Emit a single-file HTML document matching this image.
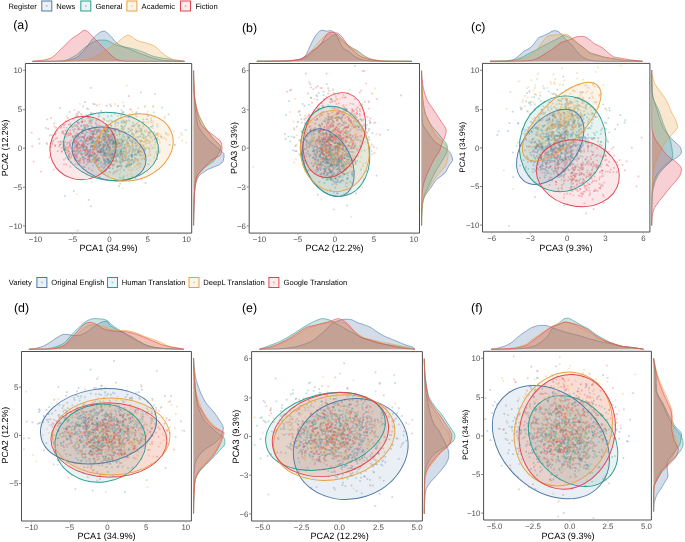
<!DOCTYPE html><html><head><meta charset="utf-8"><style>html,body{margin:0;padding:0;background:#fff}svg{display:block}text{font-family:"Liberation Sans",Arial,sans-serif;text-rendering:geometricPrecision}</style></head><body>
<svg width="685" height="542" viewBox="0 0 685 542">
<rect width="685" height="542" fill="#fff"/>
<text x="8.4" y="8.9" font-size="7.6" fill="#000">Register</text><rect x="41.8" y="1" width="10" height="10" fill="#4E79A7" fill-opacity="0.1" stroke="#4E79A7" stroke-width="1"/><rect x="46" y="5.2" width="1.6" height="1.6" fill="#4E79A7" fill-opacity="0.45"/><text x="56.2" y="8.9" font-size="7.6" fill="#000">News</text><rect x="80.8" y="1" width="10" height="10" fill="#2A9D8F" fill-opacity="0.1" stroke="#2A9D8F" stroke-width="1"/><rect x="85" y="5.2" width="1.6" height="1.6" fill="#2A9D8F" fill-opacity="0.45"/><text x="95.4" y="8.9" font-size="7.6" fill="#000">General</text><rect x="126.9" y="1" width="10" height="10" fill="#E9A03F" fill-opacity="0.1" stroke="#E9A03F" stroke-width="1"/><rect x="131.1" y="5.2" width="1.6" height="1.6" fill="#E9A03F" fill-opacity="0.45"/><text x="141.6" y="8.9" font-size="7.6" fill="#000">Academic</text><rect x="180.5" y="1" width="10" height="10" fill="#E3434F" fill-opacity="0.1" stroke="#E3434F" stroke-width="1"/><rect x="184.7" y="5.2" width="1.6" height="1.6" fill="#E3434F" fill-opacity="0.45"/><text x="195.4" y="8.9" font-size="7.6" fill="#000">Fiction</text>
<text x="8.7" y="285.4" font-size="7.6" fill="#000">Variety</text><rect x="36.9" y="277.5" width="10" height="10" fill="#4E79A7" fill-opacity="0.1" stroke="#4E79A7" stroke-width="1"/><rect x="41.1" y="281.7" width="1.6" height="1.6" fill="#4E79A7" fill-opacity="0.45"/><text x="51.3" y="285.4" font-size="7.6" fill="#000">Original English</text><rect x="107.5" y="277.5" width="10" height="10" fill="#2A9D8F" fill-opacity="0.1" stroke="#2A9D8F" stroke-width="1"/><rect x="111.7" y="281.7" width="1.6" height="1.6" fill="#2A9D8F" fill-opacity="0.45"/><text x="121.8" y="285.4" font-size="7.6" fill="#000">Human Translation</text><rect x="189" y="277.5" width="10" height="10" fill="#E9A03F" fill-opacity="0.1" stroke="#E9A03F" stroke-width="1"/><rect x="193.2" y="281.7" width="1.6" height="1.6" fill="#E9A03F" fill-opacity="0.45"/><text x="203.3" y="285.4" font-size="7.6" fill="#000">DeepL Translation</text><rect x="268.9" y="277.5" width="10" height="10" fill="#E3434F" fill-opacity="0.1" stroke="#E3434F" stroke-width="1"/><rect x="273.1" y="281.7" width="1.6" height="1.6" fill="#E3434F" fill-opacity="0.45"/><text x="283.5" y="285.4" font-size="7.6" fill="#000">Google Translation</text>
<path d="M32.4 61.4L32.4 61.4L34.6 61.3L36.8 61.3L39 61.3L41.2 61.3L43.4 61.3L45.6 61.3L47.9 61.3L50.1 61.3L52.3 61.3L54.5 61.3L56.7 61.2L58.9 61.2L61.1 61.2L63.3 61L65.5 60.8L67.7 60.6L69.9 60.1L72.1 59.4L74.3 58.6L76.5 57.5L78.8 55.7L81 53.6L83.2 51.3L85.4 48.9L87.6 46L89.8 42.7L92 39.6L94.2 37.1L96.4 35.2L98.6 33.3L100.8 31.9L103 31.1L105.2 31.4L107.4 33.1L109.7 35.2L111.9 37.5L114.1 40.2L116.3 42.7L118.5 44.3L120.7 45.5L122.9 46.5L125.1 47.4L127.3 48.2L129.5 49.1L131.7 50L133.9 50.9L136.1 51.8L138.3 52.7L140.6 53.6L142.8 54.4L145 55.3L147.2 56.1L149.4 56.9L151.6 57.6L153.8 58.3L156 58.8L158.2 59.4L160.4 59.8L162.6 60.2L164.8 60.5L167 60.6L169.2 60.8L171.5 60.9L173.7 61L175.9 61.1L178.1 61.1L180.3 61.2L182.5 61.3L184.7 61.4L184.7 61.4Z" fill="#4E79A7" fill-opacity="0.25"/><path d="M32.4 61.4 L34.6 61.3 L36.8 61.3 L39 61.3 L41.2 61.3 L43.4 61.3 L45.6 61.3 L47.9 61.3 L50.1 61.3 L52.3 61.3 L54.5 61.3 L56.7 61.2 L58.9 61.2 L61.1 61.2 L63.3 61 L65.5 60.8 L67.7 60.6 L69.9 60.1 L72.1 59.4 L74.3 58.6 L76.5 57.5 L78.8 55.7 L81 53.6 L83.2 51.3 L85.4 48.9 L87.6 46 L89.8 42.7 L92 39.6 L94.2 37.1 L96.4 35.2 L98.6 33.3 L100.8 31.9 L103 31.1 L105.2 31.4 L107.4 33.1 L109.7 35.2 L111.9 37.5 L114.1 40.2 L116.3 42.7 L118.5 44.3 L120.7 45.5 L122.9 46.5 L125.1 47.4 L127.3 48.2 L129.5 49.1 L131.7 50 L133.9 50.9 L136.1 51.8 L138.3 52.7 L140.6 53.6 L142.8 54.4 L145 55.3 L147.2 56.1 L149.4 56.9 L151.6 57.6 L153.8 58.3 L156 58.8 L158.2 59.4 L160.4 59.8 L162.6 60.2 L164.8 60.5 L167 60.6 L169.2 60.8 L171.5 60.9 L173.7 61 L175.9 61.1 L178.1 61.1 L180.3 61.2 L182.5 61.3 L184.7 61.4" fill="none" stroke="#4E79A7" stroke-width="0.6"/><path d="M32.4 61.4L32.4 61.4L34.6 61.3L36.8 61.3L39 61.3L41.2 61.3L43.4 61.3L45.6 61.3L47.9 61.3L50.1 61.3L52.3 61.3L54.5 61.2L56.7 61.2L58.9 61.2L61.1 61L63.3 60.7L65.5 60.3L67.7 59.6L69.9 58.6L72.1 57.4L74.3 56.2L76.5 54.7L78.8 52.9L81 50.9L83.2 48.9L85.4 47.1L87.6 45.6L89.8 44.2L92 42.8L94.2 41.6L96.4 40.6L98.6 40.1L100.8 40.1L103 40.1L105.2 40.1L107.4 40.5L109.7 41.5L111.9 42.8L114.1 44L116.3 45.1L118.5 45.8L120.7 46.3L122.9 46.7L125.1 47.1L127.3 47.5L129.5 47.9L131.7 48.5L133.9 49.1L136.1 49.7L138.3 50.4L140.6 51.1L142.8 51.9L145 52.8L147.2 53.8L149.4 54.7L151.6 55.6L153.8 56.4L156 56.9L158.2 57.4L160.4 57.8L162.6 58.2L164.8 58.5L167 58.8L169.2 59.1L171.5 59.4L173.7 59.8L175.9 60.1L178.1 60.3L180.3 60.6L182.5 60.9L184.7 61.4L184.7 61.4Z" fill="#2A9D8F" fill-opacity="0.25"/><path d="M32.4 61.4 L34.6 61.3 L36.8 61.3 L39 61.3 L41.2 61.3 L43.4 61.3 L45.6 61.3 L47.9 61.3 L50.1 61.3 L52.3 61.3 L54.5 61.2 L56.7 61.2 L58.9 61.2 L61.1 61 L63.3 60.7 L65.5 60.3 L67.7 59.6 L69.9 58.6 L72.1 57.4 L74.3 56.2 L76.5 54.7 L78.8 52.9 L81 50.9 L83.2 48.9 L85.4 47.1 L87.6 45.6 L89.8 44.2 L92 42.8 L94.2 41.6 L96.4 40.6 L98.6 40.1 L100.8 40.1 L103 40.1 L105.2 40.1 L107.4 40.5 L109.7 41.5 L111.9 42.8 L114.1 44 L116.3 45.1 L118.5 45.8 L120.7 46.3 L122.9 46.7 L125.1 47.1 L127.3 47.5 L129.5 47.9 L131.7 48.5 L133.9 49.1 L136.1 49.7 L138.3 50.4 L140.6 51.1 L142.8 51.9 L145 52.8 L147.2 53.8 L149.4 54.7 L151.6 55.6 L153.8 56.4 L156 56.9 L158.2 57.4 L160.4 57.8 L162.6 58.2 L164.8 58.5 L167 58.8 L169.2 59.1 L171.5 59.4 L173.7 59.8 L175.9 60.1 L178.1 60.3 L180.3 60.6 L182.5 60.9 L184.7 61.4" fill="none" stroke="#2A9D8F" stroke-width="0.6"/><path d="M32.4 61.4L32.4 61.4L34.6 61.3L36.8 61.3L39 61.3L41.2 61.3L43.4 61.3L45.6 61.3L47.9 61.3L50.1 61.3L52.3 61.3L54.5 61.3L56.7 61.3L58.9 61.3L61.1 61.2L63.3 61.2L65.5 61.2L67.7 61.2L69.9 61.1L72.1 61L74.3 60.9L76.5 60.7L78.8 60.6L81 60.4L83.2 60.2L85.4 59.9L87.6 59.5L89.8 58.9L92 58.2L94.2 57.3L96.4 56.3L98.6 55L100.8 53.4L103 51.8L105.2 50.2L107.4 48.8L109.7 47.4L111.9 46L114.1 44.6L116.3 43.1L118.5 41.6L120.7 39.7L122.9 37.8L125.1 36.1L127.3 35.3L129.5 35.5L131.7 36.7L133.9 38.4L136.1 39.9L138.3 40.9L140.6 41.6L142.8 42.2L145 42.7L147.2 43.4L149.4 44.1L151.6 44.8L153.8 45.7L156 47.1L158.2 49.2L160.4 51.4L162.6 53.2L164.8 54.9L167 56.5L169.2 57.8L171.5 58.9L173.7 59.9L175.9 60.5L178.1 60.8L180.3 61L182.5 61.1L184.7 61.2L184.7 61.4Z" fill="#E9A03F" fill-opacity="0.25"/><path d="M32.4 61.4 L34.6 61.3 L36.8 61.3 L39 61.3 L41.2 61.3 L43.4 61.3 L45.6 61.3 L47.9 61.3 L50.1 61.3 L52.3 61.3 L54.5 61.3 L56.7 61.3 L58.9 61.3 L61.1 61.2 L63.3 61.2 L65.5 61.2 L67.7 61.2 L69.9 61.1 L72.1 61 L74.3 60.9 L76.5 60.7 L78.8 60.6 L81 60.4 L83.2 60.2 L85.4 59.9 L87.6 59.5 L89.8 58.9 L92 58.2 L94.2 57.3 L96.4 56.3 L98.6 55 L100.8 53.4 L103 51.8 L105.2 50.2 L107.4 48.8 L109.7 47.4 L111.9 46 L114.1 44.6 L116.3 43.1 L118.5 41.6 L120.7 39.7 L122.9 37.8 L125.1 36.1 L127.3 35.3 L129.5 35.5 L131.7 36.7 L133.9 38.4 L136.1 39.9 L138.3 40.9 L140.6 41.6 L142.8 42.2 L145 42.7 L147.2 43.4 L149.4 44.1 L151.6 44.8 L153.8 45.7 L156 47.1 L158.2 49.2 L160.4 51.4 L162.6 53.2 L164.8 54.9 L167 56.5 L169.2 57.8 L171.5 58.9 L173.7 59.9 L175.9 60.5 L178.1 60.8 L180.3 61 L182.5 61.1 L184.7 61.2" fill="none" stroke="#E9A03F" stroke-width="0.6"/><path d="M32.4 61.4L32.4 61.2L34.6 61.1L36.8 60.9L39 60.7L41.2 60.4L43.4 60.1L45.6 59.7L47.9 59.1L50.1 58.4L52.3 57.2L54.5 55.5L56.7 53.5L58.9 51.2L61.1 49L63.3 47L65.5 44.8L67.7 42.5L69.9 40.4L72.1 38.4L74.3 36.8L76.5 35.5L78.8 34.1L81 32.2L83.2 30.6L85.4 30.3L87.6 31.4L89.8 33.5L92 36L94.2 38.3L96.4 40.4L98.6 42.7L100.8 45L103 47.2L105.2 49.4L107.4 51.6L109.7 53.7L111.9 55.7L114.1 57.7L116.3 59.2L118.5 60L120.7 60.5L122.9 60.8L125.1 61L127.3 61.1L129.5 61.2L131.7 61.2L133.9 61.2L136.1 61.2L138.3 61.2L140.6 61.2L142.8 61.3L145 61.3L147.2 61.3L149.4 61.3L151.6 61.3L153.8 61.3L156 61.3L158.2 61.3L160.4 61.3L162.6 61.3L164.8 61.3L167 61.3L169.2 61.3L171.5 61.3L173.7 61.3L175.9 61.3L178.1 61.3L180.3 61.3L182.5 61.3L184.7 61.4L184.7 61.4Z" fill="#E3434F" fill-opacity="0.25"/><path d="M32.4 61.2 L34.6 61.1 L36.8 60.9 L39 60.7 L41.2 60.4 L43.4 60.1 L45.6 59.7 L47.9 59.1 L50.1 58.4 L52.3 57.2 L54.5 55.5 L56.7 53.5 L58.9 51.2 L61.1 49 L63.3 47 L65.5 44.8 L67.7 42.5 L69.9 40.4 L72.1 38.4 L74.3 36.8 L76.5 35.5 L78.8 34.1 L81 32.2 L83.2 30.6 L85.4 30.3 L87.6 31.4 L89.8 33.5 L92 36 L94.2 38.3 L96.4 40.4 L98.6 42.7 L100.8 45 L103 47.2 L105.2 49.4 L107.4 51.6 L109.7 53.7 L111.9 55.7 L114.1 57.7 L116.3 59.2 L118.5 60 L120.7 60.5 L122.9 60.8 L125.1 61 L127.3 61.1 L129.5 61.2 L131.7 61.2 L133.9 61.2 L136.1 61.2 L138.3 61.2 L140.6 61.2 L142.8 61.3 L145 61.3 L147.2 61.3 L149.4 61.3 L151.6 61.3 L153.8 61.3 L156 61.3 L158.2 61.3 L160.4 61.3 L162.6 61.3 L164.8 61.3 L167 61.3 L169.2 61.3 L171.5 61.3 L173.7 61.3 L175.9 61.3 L178.1 61.3 L180.3 61.3 L182.5 61.3 L184.7 61.4" fill="none" stroke="#E3434F" stroke-width="0.6"/><path d="M193.6 70.5L193.6 70.5L193.6 72.7L193.6 75L193.7 77.2L193.7 79.5L193.8 81.7L193.8 84L193.9 86.2L194 88.5L194 90.7L194.1 93L194.2 95.2L194.3 97.5L194.5 99.7L194.6 101.9L194.8 104.2L195 106.4L195.3 108.7L195.5 110.9L195.7 113.2L196 115.4L196.3 117.7L196.7 119.9L197.2 122.2L197.7 124.4L198.6 126.7L199.8 128.9L201.3 131.2L202.9 133.4L204.7 135.6L206.5 137.9L208.8 140.1L211.3 142.4L213.9 144.6L216.5 146.9L219 149.1L221.9 151.4L223.9 153.6L224.1 155.9L223.8 158.1L223.4 160.4L222.2 162.6L219.4 164.8L213.7 167.1L208.1 169.3L204.3 171.6L201.1 173.8L198.9 176.1L197.7 178.3L196.8 180.6L196.1 182.8L195.5 185.1L195.1 187.3L194.9 189.6L194.7 191.8L194.5 194.1L194.4 196.3L194.2 198.5L194.1 200.8L194.1 203L194 205.3L193.9 207.5L193.9 209.8L193.8 212L193.7 214.3L193.7 216.5L193.7 218.8L193.6 221L193.6 223.3L193.6 225.5L193.6 225.5Z" fill="#4E79A7" fill-opacity="0.25"/><path d="M193.6 70.5 L193.6 72.7 L193.6 75 L193.7 77.2 L193.7 79.5 L193.8 81.7 L193.8 84 L193.9 86.2 L194 88.5 L194 90.7 L194.1 93 L194.2 95.2 L194.3 97.5 L194.5 99.7 L194.6 101.9 L194.8 104.2 L195 106.4 L195.3 108.7 L195.5 110.9 L195.7 113.2 L196 115.4 L196.3 117.7 L196.7 119.9 L197.2 122.2 L197.7 124.4 L198.6 126.7 L199.8 128.9 L201.3 131.2 L202.9 133.4 L204.7 135.6 L206.5 137.9 L208.8 140.1 L211.3 142.4 L213.9 144.6 L216.5 146.9 L219 149.1 L221.9 151.4 L223.9 153.6 L224.1 155.9 L223.8 158.1 L223.4 160.4 L222.2 162.6 L219.4 164.8 L213.7 167.1 L208.1 169.3 L204.3 171.6 L201.1 173.8 L198.9 176.1 L197.7 178.3 L196.8 180.6 L196.1 182.8 L195.5 185.1 L195.1 187.3 L194.9 189.6 L194.7 191.8 L194.5 194.1 L194.4 196.3 L194.2 198.5 L194.1 200.8 L194.1 203 L194 205.3 L193.9 207.5 L193.9 209.8 L193.8 212 L193.7 214.3 L193.7 216.5 L193.7 218.8 L193.6 221 L193.6 223.3 L193.6 225.5" fill="none" stroke="#4E79A7" stroke-width="0.6"/><path d="M193.6 70.5L193.6 70.5L193.6 72.7L193.6 75L193.7 77.2L193.7 79.5L193.8 81.7L193.9 84L194 86.2L194.1 88.5L194.2 90.7L194.4 93L194.5 95.2L194.7 97.5L195 99.7L195.4 101.9L195.9 104.2L196.4 106.4L196.9 108.7L197.5 110.9L198.2 113.2L199.1 115.4L200.1 117.7L201.2 119.9L202.3 122.2L203.5 124.4L204.8 126.7L206.3 128.9L207.8 131.2L209.4 133.4L211.1 135.6L212.8 137.9L215 140.1L217.4 142.4L219.5 144.6L220.8 146.9L220.9 149.1L219.9 151.4L218.5 153.6L217.2 155.9L215.8 158.1L214.2 160.4L211.8 162.6L208.5 164.8L205.2 167.1L202.6 169.3L200.5 171.6L198.6 173.8L197.3 176.1L196.6 178.3L196 180.6L195.5 182.8L195.1 185.1L194.9 187.3L194.7 189.6L194.5 191.8L194.4 194.1L194.3 196.3L194.2 198.5L194.1 200.8L194.1 203L194 205.3L193.9 207.5L193.9 209.8L193.8 212L193.8 214.3L193.7 216.5L193.7 218.8L193.6 221L193.6 223.3L193.6 225.5L193.6 225.5Z" fill="#2A9D8F" fill-opacity="0.25"/><path d="M193.6 70.5 L193.6 72.7 L193.6 75 L193.7 77.2 L193.7 79.5 L193.8 81.7 L193.9 84 L194 86.2 L194.1 88.5 L194.2 90.7 L194.4 93 L194.5 95.2 L194.7 97.5 L195 99.7 L195.4 101.9 L195.9 104.2 L196.4 106.4 L196.9 108.7 L197.5 110.9 L198.2 113.2 L199.1 115.4 L200.1 117.7 L201.2 119.9 L202.3 122.2 L203.5 124.4 L204.8 126.7 L206.3 128.9 L207.8 131.2 L209.4 133.4 L211.1 135.6 L212.8 137.9 L215 140.1 L217.4 142.4 L219.5 144.6 L220.8 146.9 L220.9 149.1 L219.9 151.4 L218.5 153.6 L217.2 155.9 L215.8 158.1 L214.2 160.4 L211.8 162.6 L208.5 164.8 L205.2 167.1 L202.6 169.3 L200.5 171.6 L198.6 173.8 L197.3 176.1 L196.6 178.3 L196 180.6 L195.5 182.8 L195.1 185.1 L194.9 187.3 L194.7 189.6 L194.5 191.8 L194.4 194.1 L194.3 196.3 L194.2 198.5 L194.1 200.8 L194.1 203 L194 205.3 L193.9 207.5 L193.9 209.8 L193.8 212 L193.8 214.3 L193.7 216.5 L193.7 218.8 L193.6 221 L193.6 223.3 L193.6 225.5" fill="none" stroke="#2A9D8F" stroke-width="0.6"/><path d="M193.6 70.5L193.6 70.5L193.6 72.7L193.6 75L193.7 77.2L193.7 79.5L193.8 81.7L193.9 84L194 86.2L194.1 88.5L194.2 90.7L194.4 93L194.5 95.2L194.7 97.5L195 99.7L195.4 101.9L195.9 104.2L196.4 106.4L196.9 108.7L197.5 110.9L198.2 113.2L199 115.4L199.9 117.7L201 119.9L202.1 122.2L203.2 124.4L204.5 126.7L205.9 128.9L207.4 131.2L209 133.4L210.6 135.6L212.3 137.9L214.5 140.1L216.9 142.4L219 144.6L220.3 146.9L220.3 149.1L219.2 151.4L217.6 153.6L216.2 155.9L214.7 158.1L213 160.4L210.7 162.6L207.9 164.8L205 167.1L202.6 169.3L200.5 171.6L198.7 173.8L197.3 176.1L196.6 178.3L196 180.6L195.5 182.8L195.1 185.1L194.9 187.3L194.7 189.6L194.5 191.8L194.4 194.1L194.3 196.3L194.2 198.5L194.1 200.8L194.1 203L194 205.3L193.9 207.5L193.9 209.8L193.8 212L193.8 214.3L193.7 216.5L193.7 218.8L193.6 221L193.6 223.3L193.6 225.5L193.6 225.5Z" fill="#E9A03F" fill-opacity="0.25"/><path d="M193.6 70.5 L193.6 72.7 L193.6 75 L193.7 77.2 L193.7 79.5 L193.8 81.7 L193.9 84 L194 86.2 L194.1 88.5 L194.2 90.7 L194.4 93 L194.5 95.2 L194.7 97.5 L195 99.7 L195.4 101.9 L195.9 104.2 L196.4 106.4 L196.9 108.7 L197.5 110.9 L198.2 113.2 L199 115.4 L199.9 117.7 L201 119.9 L202.1 122.2 L203.2 124.4 L204.5 126.7 L205.9 128.9 L207.4 131.2 L209 133.4 L210.6 135.6 L212.3 137.9 L214.5 140.1 L216.9 142.4 L219 144.6 L220.3 146.9 L220.3 149.1 L219.2 151.4 L217.6 153.6 L216.2 155.9 L214.7 158.1 L213 160.4 L210.7 162.6 L207.9 164.8 L205 167.1 L202.6 169.3 L200.5 171.6 L198.7 173.8 L197.3 176.1 L196.6 178.3 L196 180.6 L195.5 182.8 L195.1 185.1 L194.9 187.3 L194.7 189.6 L194.5 191.8 L194.4 194.1 L194.3 196.3 L194.2 198.5 L194.1 200.8 L194.1 203 L194 205.3 L193.9 207.5 L193.9 209.8 L193.8 212 L193.8 214.3 L193.7 216.5 L193.7 218.8 L193.6 221 L193.6 223.3 L193.6 225.5" fill="none" stroke="#E9A03F" stroke-width="0.6"/><path d="M193.6 70.5L193.6 70.5L193.6 72.7L193.6 75L193.7 77.2L193.7 79.5L193.8 81.7L193.9 84L194 86.2L194.1 88.5L194.2 90.7L194.3 93L194.4 95.2L194.6 97.5L194.8 99.7L195.1 101.9L195.5 104.2L195.9 106.4L196.3 108.7L196.7 110.9L197.2 113.2L197.8 115.4L198.4 117.7L199.1 119.9L200 122.2L201 124.4L202.7 126.7L205.1 128.9L207.9 131.2L210.9 133.4L213.8 135.6L216.6 137.9L219.7 140.1L221.1 142.4L221.7 144.6L222 146.9L222 149.1L221.7 151.4L221.2 153.6L219.7 155.9L215.5 158.1L211.2 160.4L208.7 162.6L206.6 164.8L204.8 167.1L202.9 169.3L200.8 171.6L198.7 173.8L197.1 176.1L196.4 178.3L195.8 180.6L195.4 182.8L195 185.1L194.8 187.3L194.6 189.6L194.5 191.8L194.4 194.1L194.3 196.3L194.2 198.5L194.1 200.8L194.1 203L194 205.3L193.9 207.5L193.9 209.8L193.8 212L193.8 214.3L193.7 216.5L193.7 218.8L193.6 221L193.6 223.3L193.6 225.5L193.6 225.5Z" fill="#E3434F" fill-opacity="0.25"/><path d="M193.6 70.5 L193.6 72.7 L193.6 75 L193.7 77.2 L193.7 79.5 L193.8 81.7 L193.9 84 L194 86.2 L194.1 88.5 L194.2 90.7 L194.3 93 L194.4 95.2 L194.6 97.5 L194.8 99.7 L195.1 101.9 L195.5 104.2 L195.9 106.4 L196.3 108.7 L196.7 110.9 L197.2 113.2 L197.8 115.4 L198.4 117.7 L199.1 119.9 L200 122.2 L201 124.4 L202.7 126.7 L205.1 128.9 L207.9 131.2 L210.9 133.4 L213.8 135.6 L216.6 137.9 L219.7 140.1 L221.1 142.4 L221.7 144.6 L222 146.9 L222 149.1 L221.7 151.4 L221.2 153.6 L219.7 155.9 L215.5 158.1 L211.2 160.4 L208.7 162.6 L206.6 164.8 L204.8 167.1 L202.9 169.3 L200.8 171.6 L198.7 173.8 L197.1 176.1 L196.4 178.3 L195.8 180.6 L195.4 182.8 L195 185.1 L194.8 187.3 L194.6 189.6 L194.5 191.8 L194.4 194.1 L194.3 196.3 L194.2 198.5 L194.1 200.8 L194.1 203 L194 205.3 L193.9 207.5 L193.9 209.8 L193.8 212 L193.8 214.3 L193.7 216.5 L193.7 218.8 L193.6 221 L193.6 223.3 L193.6 225.5" fill="none" stroke="#E3434F" stroke-width="0.6"/><clipPath id="ca"><rect x="25.4" y="63.5" width="166.3" height="169.6"/></clipPath><g clip-path="url(#ca)"><ellipse cx="109" cy="154" rx="37.88" ry="25.75" transform="rotate(-162.99 109 154)" fill="#4E79A7" fill-opacity="0.12"/><ellipse cx="111" cy="146.5" rx="47.66" ry="33.98" transform="rotate(-173.27 111 146.5)" fill="#2A9D8F" fill-opacity="0.12"/><ellipse cx="133.3" cy="147.4" rx="41.12" ry="32.10" transform="rotate(157.27 133.3 147.4)" fill="#E9A03F" fill-opacity="0.12"/><ellipse cx="83" cy="148" rx="33.32" ry="31.36" transform="rotate(155.75 83 148)" fill="#E3434F" fill-opacity="0.12"/><path d="M108.2 159.2h1.7M110.5 139.4h1.7M110.9 152.1h1.7M107.7 162.9h1.7M96.5 129.9h1.7M110.9 150h1.7M100.6 151.7h1.7M105.4 142.6h1.7M85.6 154.8h1.7M104.8 150.7h1.7M109.4 148.1h1.7M110.4 135.3h1.7M97.4 136.7h1.7M83.8 140h1.7M107.9 154.6h1.7M99.2 145.3h1.7M131.3 155.2h1.7M140.5 130.7h1.7M102.7 153.7h1.7M77.3 129.6h1.7M96.4 165.7h1.7M89.1 140.1h1.7M95.9 166h1.7M112.1 153.9h1.7M71.9 137.4h1.7M107 145.4h1.7M103.3 155h1.7M108.1 139.3h1.7M132.5 125.7h1.7M90.3 143.7h1.7M116.7 155.9h1.7M119.2 183.7h1.7M122.4 151.8h1.7M84.9 142.8h1.7M130.1 164.4h1.7M103.7 161.4h1.7M91.8 136.8h1.7M115.6 152.1h1.7M107.3 128.3h1.7M86.9 137.2h1.7M113.7 156.1h1.7M127.9 128.6h1.7M94.5 130.6h1.7M89.2 149.9h1.7M103 144.8h1.7M105.8 149.2h1.7M127 116.5h1.7M122.3 178.1h1.7M137.5 152.5h1.7M123.5 147.9h1.7M106.8 159.1h1.7M117.8 130.4h1.7M122.9 129h1.7M131 134.1h1.7M123.9 147.2h1.7M102.7 163.8h1.7M84.2 135.3h1.7M123.3 156.1h1.7M120.6 126.4h1.7M60.8 150.9h1.7M79.3 147.7h1.7M112.2 141.9h1.7M128.9 165.2h1.7M174.1 145h1.7M109.2 149.3h1.7M94.2 159.9h1.7M92.1 137.6h1.7M122.1 159.6h1.7M66.5 142.5h1.7M98.3 139.7h1.7" stroke="#4E79A7" stroke-opacity="0.32" stroke-width="1.7" fill="none"/><path d="M103.6 142.8h1.7M107.8 160.3h1.7M74.5 143.6h1.7M99.7 151.5h1.7M121.6 141.1h1.7M109.6 144.5h1.7M128.4 165.1h1.7M107.9 147.6h1.7M76.9 122.2h1.7M120.1 162.2h1.7M106.7 136.8h1.7M147.2 115.8h1.7M130.4 155.6h1.7M143.1 149.4h1.7M93.2 158.1h1.7M119.4 151.9h1.7M118.1 165.8h1.7M75.4 114.4h1.7M92 131.3h1.7M112 143.6h1.7M105.4 155.5h1.7M130.5 159.8h1.7M85.4 148.7h1.7M109.5 142.1h1.7M127.6 137.8h1.7M98 137.4h1.7M74.1 145h1.7M117.9 186.1h1.7M116.1 167.3h1.7M112.9 152.4h1.7M80.6 154.2h1.7M112.7 143.2h1.7M121 153.7h1.7M110.8 158.6h1.7M126.6 153.2h1.7M79.3 141h1.7M107.7 160.3h1.7M96.8 158.5h1.7M118 143.9h1.7M120.5 144.6h1.7M139.2 146.9h1.7M115.9 144h1.7M98.9 152h1.7M99.6 145.2h1.7M111.7 154.5h1.7M96.7 131h1.7M114.9 157.6h1.7M130 161h1.7M114.5 123.6h1.7M107.3 161.5h1.7M71.8 142.7h1.7M106.6 158.7h1.7M105.5 153h1.7M90.6 155.8h1.7M93 154.2h1.7M135.1 132.6h1.7M121.4 145.3h1.7M94.4 147.2h1.7M102.8 147.2h1.7M104.8 158.9h1.7M113.5 171.6h1.7M113.8 153.4h1.7M98.1 167.7h1.7M103.8 160.2h1.7M136.8 131.8h1.7M93.5 128h1.7M88.6 155.9h1.7M115.7 160.8h1.7M106.6 144.9h1.7M121.1 142.5h1.7" stroke="#4E79A7" stroke-opacity="0.32" stroke-width="1.7" fill="none"/><path d="M96 133.1h1.7M90 146.7h1.7M106.9 155.9h1.7M110 155h1.7M109.4 161.2h1.7M99.7 150.6h1.7M102.6 148.7h1.7M126.8 164.4h1.7M104.1 144.8h1.7M88.7 149.9h1.7M76.1 151.7h1.7M106.7 149.5h1.7M125.2 156.9h1.7M88.4 155.4h1.7M99.8 151.1h1.7M104.5 153.8h1.7M120.7 165.9h1.7M119.8 145.5h1.7M104.7 139.1h1.7M112.4 157.5h1.7M102.9 168.1h1.7M108.9 153.5h1.7M108 140.2h1.7M103.4 151h1.7M121.9 157.8h1.7M117.9 156.5h1.7M93.9 162.3h1.7M103.8 150.9h1.7M139.9 151.3h1.7M111.2 157.5h1.7M72 129.7h1.7M87 149.9h1.7M103 150h1.7M101.5 165.8h1.7M98.3 125.7h1.7M113.4 143.2h1.7M88.4 150.9h1.7M105.7 160.3h1.7M83 149.5h1.7M114.4 145.1h1.7M83.2 138.5h1.7M124 144.8h1.7M106.5 152.4h1.7M107.1 140.2h1.7M87.7 151.5h1.7M102.1 144.2h1.7M114.1 160.7h1.7M80.9 146.6h1.7M127.9 156.2h1.7M116.6 166.4h1.7M98.9 143h1.7M116.7 170.5h1.7M112.2 134.1h1.7M98.5 136.7h1.7M93.3 161.8h1.7M109 156.1h1.7M105.2 156.7h1.7M104.8 161h1.7M123.5 160.9h1.7M119.8 151.7h1.7M134.3 158.3h1.7M103.5 152.5h1.7M107.5 153.3h1.7M126.7 136.2h1.7M95.6 145h1.7M102 135.3h1.7M94.7 122.6h1.7M82.3 147.9h1.7M110.9 140.7h1.7M98.7 152.1h1.7" stroke="#4E79A7" stroke-opacity="0.32" stroke-width="1.7" fill="none"/><path d="M109 167.9h1.7M81.4 136.9h1.7M82.1 144.1h1.7M82.1 151h1.7M104.1 163.8h1.7M123.2 170h1.7M103.3 174.1h1.7M107.8 160.3h1.7M110.7 128.6h1.7M108.7 141.8h1.7M76.5 150h1.7M105.3 141.1h1.7M96.3 148.2h1.7M137.3 137.1h1.7M89.4 136.4h1.7M134.1 139.2h1.7M100.7 170.5h1.7M107.9 166.3h1.7M84.8 155.4h1.7M153.8 138.8h1.7M107.8 128.1h1.7M109.1 168.2h1.7M140.7 178.8h1.7M125.5 160.2h1.7M112.5 151.1h1.7M104.4 144.9h1.7M92.1 160h1.7M88.7 155.2h1.7M95.9 132.2h1.7M103.9 152.9h1.7M124.8 166.4h1.7M106 143.7h1.7M82.2 129.4h1.7M112.1 138.5h1.7M156.2 159.2h1.7M100.9 148.1h1.7M96.7 140h1.7M107.6 144.1h1.7M127.9 137.7h1.7M90.5 132.2h1.7M75.9 146.2h1.7M104.4 139.4h1.7M82.1 148.8h1.7M119.3 154.4h1.7M72 136.5h1.7M109.4 142.8h1.7M100 150.4h1.7M106.2 130h1.7M104.2 138.8h1.7M114.5 151.5h1.7M61.6 141.7h1.7M126.8 160.6h1.7M107.3 124.8h1.7M128.4 164.1h1.7M113 142.5h1.7M130.7 156.3h1.7M120.4 151.2h1.7M66 127.8h1.7M120.8 149.2h1.7M76.1 153.9h1.7M77.4 138.3h1.7M97.3 143.6h1.7M102.8 154.4h1.7M104.6 164.7h1.7M118.9 162.7h1.7M95 157.3h1.7M117.6 154.4h1.7M103.9 155.8h1.7M118.4 146h1.7M91.2 139.5h1.7" stroke="#4E79A7" stroke-opacity="0.32" stroke-width="1.7" fill="none"/><path d="M99.6 145h1.7M75.6 145.9h1.7M95.3 144.4h1.7M129.2 140.3h1.7M107.2 160.9h1.7M77 135.7h1.7M102.1 150h1.7M103.6 163.3h1.7M91.7 142.6h1.7M111.6 146.4h1.7M82.6 157.9h1.7M125.5 150.6h1.7M99.7 152.7h1.7M104.9 146.4h1.7M144.3 149.9h1.7M116.4 146.7h1.7M81.3 145h1.7M68.8 111.8h1.7M107 159.2h1.7M120.1 155h1.7M95.8 126.9h1.7M114 156.6h1.7M100.1 162.2h1.7M108.1 168.2h1.7M104.6 154.1h1.7M107 164.1h1.7M135.1 154.3h1.7M89 138.9h1.7M108.9 172.1h1.7M110.9 153.6h1.7M105 127.8h1.7M111 134.1h1.7M120.9 153.8h1.7M90.9 161.9h1.7M134.1 150.6h1.7M107.1 145.7h1.7M120.3 150.7h1.7M105.6 154.5h1.7M90.3 142.5h1.7M133.5 154.9h1.7M118 147.3h1.7M90.7 139.1h1.7M107.2 130.5h1.7M114 151.9h1.7M103.6 130.2h1.7M112 156.3h1.7M119.1 161h1.7M113.2 140.6h1.7M92.5 158.4h1.7M115.2 141.2h1.7M121.3 160h1.7M113.2 164.2h1.7M95.5 150.3h1.7M116.1 149.8h1.7M109.2 150.5h1.7M85.7 152.4h1.7M116.4 144.8h1.7M104.4 171.3h1.7M144.6 182.8h1.7M91.5 146.1h1.7M87 144.4h1.7M63.7 146.4h1.7M101.4 152h1.7M114.3 156.9h1.7M151.8 125.8h1.7M112 168.5h1.7M114 156.2h1.7M86 138.5h1.7M107.5 166.5h1.7M97.7 119.4h1.7" stroke="#4E79A7" stroke-opacity="0.32" stroke-width="1.7" fill="none"/><path d="M115.5 159h1.7M89.7 153.9h1.7M123.4 148.1h1.7M124.4 158.2h1.7M131.8 149.8h1.7M119.3 131.3h1.7M114 153.5h1.7M108 163.2h1.7M111.7 160.6h1.7M118.9 157.2h1.7M95 160.5h1.7M107.1 141.9h1.7M101.2 149h1.7M87.8 156.8h1.7M117.1 154.7h1.7M77.8 143.9h1.7M117.1 166.6h1.7M110.9 154.8h1.7M83.3 138.3h1.7M107.8 131.8h1.7M135 149.1h1.7M84.4 158.5h1.7M114.9 122h1.7M96.9 146.6h1.7M130.7 163.5h1.7M102.3 150.6h1.7M99.9 154.6h1.7M131.3 146h1.7M134.7 139.6h1.7M117 129.1h1.7M102.9 146.3h1.7M135.4 131.2h1.7M111.1 164h1.7M114.1 137.6h1.7M111.3 131.8h1.7M96.1 148.9h1.7M132 148.9h1.7M131.5 142h1.7M88.7 155.6h1.7M111.8 154.2h1.7M83.2 145.5h1.7M119.8 151.8h1.7M137.4 150.9h1.7M96.5 141.4h1.7M110.9 157.7h1.7M106 149h1.7M111.8 135.4h1.7M84.3 141.9h1.7M113.2 155.8h1.7M64.8 158.1h1.7M99.6 152.5h1.7M97.4 151.7h1.7M105.1 162.1h1.7M122.4 153.9h1.7M124.5 148.5h1.7M113.7 147.6h1.7M99.3 134.8h1.7M121.4 155h1.7M120.2 166.3h1.7M100.5 149.7h1.7M109.1 137.5h1.7M134.7 178.5h1.7M89.9 146.7h1.7M144.1 148.5h1.7M124.6 152h1.7M104.2 131.7h1.7M121.3 156.6h1.7M109.8 140.4h1.7M148.4 149.1h1.7" stroke="#4E79A7" stroke-opacity="0.32" stroke-width="1.7" fill="none"/><path d="M145.6 139.7h1.7M119.1 143.4h1.7M126 165.3h1.7M60.8 144.2h1.7M147.5 132.8h1.7M128.2 159.4h1.7M82.3 106.4h1.7M93.3 145.7h1.7M73.4 137.3h1.7M81.1 119.3h1.7M150.2 120.4h1.7M143.6 158.8h1.7M112.4 133.8h1.7M129.2 135.9h1.7M112.1 143.7h1.7M76.8 122.7h1.7M90 136.7h1.7M112.6 135.1h1.7M114.1 149.3h1.7M107.5 138.5h1.7M116 135h1.7M127.1 143.7h1.7M139.9 92.3h1.7M128 117.4h1.7M106.3 153.9h1.7M78.8 134.6h1.7M120.6 138.7h1.7M91.4 154.9h1.7M105.3 148.9h1.7M137 160.6h1.7M110.2 125.8h1.7M89.5 133.1h1.7M97.9 146.3h1.7M111.1 154.8h1.7M91.7 143.2h1.7M103.1 140.1h1.7M119.3 139.6h1.7M97.7 147h1.7M81.6 146.6h1.7M114.1 129.6h1.7M156.2 140.5h1.7M109.4 157.5h1.7M85.2 132.4h1.7M81.9 130.6h1.7M115.2 147.4h1.7M119.3 177.6h1.7M120.1 115.3h1.7M123.9 154.6h1.7M123.8 121.9h1.7M96.3 125.3h1.7M123.6 126.5h1.7M137.8 126.4h1.7M81.2 121.6h1.7M122 140.8h1.7M139 155.2h1.7M86.3 108.5h1.7M105.7 131.5h1.7M102.9 159.6h1.7M122.4 113.7h1.7M139.5 131.3h1.7M103.7 166.8h1.7M98.3 114h1.7M97.8 160.8h1.7M95.5 161.1h1.7M128.6 146.4h1.7M115.7 156h1.7M118.6 139.3h1.7M147.4 164.4h1.7M80.8 129.9h1.7M109.1 161.1h1.7" stroke="#2A9D8F" stroke-opacity="0.32" stroke-width="1.7" fill="none"/><path d="M59.4 141.5h1.7M112 147.1h1.7M119.2 169.5h1.7M84.4 158.5h1.7M121.4 112.2h1.7M120.7 121.4h1.7M100.1 132.9h1.7M106.8 127.4h1.7M95.7 146.5h1.7M78.3 152.3h1.7M119.7 153h1.7M132 126h1.7M91.9 113.3h1.7M145.8 119.5h1.7M89.2 120.9h1.7M112 142.3h1.7M127.6 158.3h1.7M140.3 128.6h1.7M111 136.9h1.7M97.5 131.4h1.7M91.9 119.7h1.7M72.3 118.7h1.7M122 141.5h1.7M89.7 139h1.7M102.4 158.1h1.7M92.2 153.7h1.7M120.7 128.5h1.7M168.7 144.8h1.7M100.9 145.3h1.7M107.9 149.9h1.7M124.4 160.2h1.7M92.4 133.9h1.7M97.1 160.7h1.7M132.7 162.8h1.7M90.3 113.8h1.7M52.2 141.5h1.7M124.4 140h1.7M136.1 140.1h1.7M93.3 156.7h1.7M94 141.4h1.7M88.5 162.2h1.7M89.9 138.4h1.7M167.7 114.4h1.7M128.3 151.9h1.7M101.8 151.8h1.7M122.3 134.9h1.7M91 126.7h1.7M131.1 154.9h1.7M121.9 127.2h1.7M92 141.3h1.7M156.6 126.3h1.7M116.3 139.2h1.7M113.2 155.8h1.7M87 117.7h1.7M111 137.9h1.7M98.7 130.8h1.7M110.9 121.2h1.7M111.2 143.9h1.7M76.8 148.8h1.7M108.9 162.6h1.7M106.7 134.6h1.7M94.3 134.1h1.7M113.9 146.7h1.7M116.6 143.7h1.7M121 131.6h1.7M137.7 152.1h1.7M94 157.3h1.7M104.3 152.9h1.7M115 131.3h1.7M84.6 127.9h1.7" stroke="#2A9D8F" stroke-opacity="0.32" stroke-width="1.7" fill="none"/><path d="M107.1 116.4h1.7M76.8 116.7h1.7M98.9 149.3h1.7M154.9 142.4h1.7M124.9 133.4h1.7M125.5 166.7h1.7M122.6 120.6h1.7M103.9 131.1h1.7M92 147.4h1.7M184.9 130h1.7M101.6 147.6h1.7M107.9 135.2h1.7M76.9 123.9h1.7M111.7 157.1h1.7M92.3 165.3h1.7M84.4 151.7h1.7M134.4 125h1.7M96.9 159.5h1.7M38.7 143.7h1.7M130.1 147.5h1.7M103.7 141.3h1.7M119.1 153.2h1.7M89.9 87.8h1.7M82.7 125.1h1.7M116.6 141.2h1.7M122.5 112.1h1.7M109.6 154.5h1.7M116.8 152.2h1.7M75 140.3h1.7M113.2 150.3h1.7M112.3 173.6h1.7M107.8 121.4h1.7M108.8 146.7h1.7M120.2 163.8h1.7M120.9 122.8h1.7M142.1 122.2h1.7M59.1 107.8h1.7M120 155.7h1.7M106.9 130.4h1.7M161.3 107.6h1.7M101.1 141.2h1.7M135.7 154.7h1.7M113.8 153.8h1.7M93.5 153.5h1.7M77 143.7h1.7M123.6 137.1h1.7M152.9 112.3h1.7M123.7 132.1h1.7M97.2 151.9h1.7M78.2 112.1h1.7M106.4 131.6h1.7M92.1 152.5h1.7M83 129.9h1.7M68.1 156.2h1.7M77.2 126.8h1.7M95.3 141.2h1.7M89.1 121.6h1.7M142.6 135.2h1.7M105.1 125.5h1.7M93.4 131.8h1.7M113.7 130.6h1.7M126 141.9h1.7M72.1 126.8h1.7M103.8 153.9h1.7M93.9 104.4h1.7M126.6 139.4h1.7M62.4 131.3h1.7M88.2 159.4h1.7M109.3 136h1.7M78.7 137h1.7" stroke="#2A9D8F" stroke-opacity="0.32" stroke-width="1.7" fill="none"/><path d="M104 146h1.7M69.5 124.2h1.7M86.9 153.3h1.7M112.4 141.3h1.7M93.9 137.9h1.7M118.5 166.1h1.7M137.2 151.7h1.7M114.1 113.5h1.7M142.2 137.1h1.7M131.6 151.8h1.7M129.1 150h1.7M98.4 159.7h1.7M94 162.8h1.7M125 123.6h1.7M147.3 135.5h1.7M104.4 162.1h1.7M101.1 139.1h1.7M90 125.5h1.7M69.1 145.1h1.7M134.3 143.4h1.7M139.5 163.8h1.7M105.6 130.4h1.7M91.5 141.4h1.7M130.9 156.3h1.7M107 137.4h1.7M89.4 137.2h1.7M111 140h1.7M62.5 145.4h1.7M122.9 122.4h1.7M113.7 136.7h1.7M140.8 134.1h1.7M81.4 156.2h1.7M110.5 158.9h1.7M112.6 165.5h1.7M118 142.8h1.7M144.5 136.5h1.7M102.8 136.9h1.7M85.2 148.8h1.7M131.5 159.7h1.7M104.7 170.4h1.7M49.2 135.4h1.7M54.8 138.9h1.7M135.4 113.2h1.7M112.8 161h1.7M117.4 150.4h1.7M72.9 191.2h1.7M122.8 151.2h1.7M123.1 105.9h1.7M103.1 159.9h1.7M89.7 150.2h1.7M120.6 110h1.7M89.4 119.2h1.7M90 147.7h1.7M104.5 132.8h1.7M99 142.2h1.7M83.5 127.9h1.7M142.5 119.4h1.7M91.2 155.8h1.7M88.5 123.2h1.7M131.5 176.7h1.7M109 135h1.7M85.5 115h1.7M128.5 120.7h1.7M118.3 131.9h1.7M132.3 123.1h1.7M128.5 150.4h1.7M154.1 94h1.7M87.2 141.1h1.7M86 147.1h1.7M129.7 179.3h1.7" stroke="#2A9D8F" stroke-opacity="0.32" stroke-width="1.7" fill="none"/><path d="M125.4 116.4h1.7M135 146.2h1.7M113.1 140.9h1.7M115.5 153.9h1.7M109.2 162.3h1.7M46.4 119.3h1.7M104.7 135h1.7M120.5 143.4h1.7M102.9 133.8h1.7M90.9 141.9h1.7M121.9 161.2h1.7M93.2 143.6h1.7M156.1 154.4h1.7M94.3 158.4h1.7M131.3 141.1h1.7M110 140.9h1.7M114.2 139.1h1.7M105.7 134.5h1.7M136.8 152.7h1.7M111.7 144h1.7M118.6 142.5h1.7M80.1 139.9h1.7M131.1 157.2h1.7M85.8 147.6h1.7M127 143.4h1.7M96 131h1.7M76 144.7h1.7M90.8 120.4h1.7M134.2 154.5h1.7M44.9 127.8h1.7M130.6 153.9h1.7M108.5 152.7h1.7M99.8 163.6h1.7M109.4 104.4h1.7M153.1 132.1h1.7M160.4 136.9h1.7M117.4 122.9h1.7M83.9 126.8h1.7M97.3 163.8h1.7M109.2 152.3h1.7M126.7 159.1h1.7M106.7 135.2h1.7M102.8 148.4h1.7M82.8 146.8h1.7M138.6 125.4h1.7M116.1 156.2h1.7M113.5 136.8h1.7M97.7 143.6h1.7M127.6 131.9h1.7M111.3 161.2h1.7M96.4 155.2h1.7M87.8 199.8h1.7M120.7 159h1.7M100.2 167h1.7M116.5 153.9h1.7M108.9 147.5h1.7M84.1 102.2h1.7M126.8 166.1h1.7M101.9 136.9h1.7M90.1 112.9h1.7M154.4 134.3h1.7M82.7 143.8h1.7M115.6 161.4h1.7M138.4 151.2h1.7M129.7 130.5h1.7M102.7 145h1.7M88.6 160.6h1.7M138.6 125.3h1.7M96.3 159.2h1.7" stroke="#2A9D8F" stroke-opacity="0.32" stroke-width="1.7" fill="none"/><path d="M108.9 161.7h1.7M93.1 141.9h1.7M136.7 159.4h1.7M150.2 126.8h1.7M79.9 152.6h1.7M105.1 142.3h1.7M93.2 128.1h1.7M80.5 126.3h1.7M131.2 130h1.7M105.6 136.5h1.7M80.7 132.8h1.7M74.8 142.4h1.7M94.2 138.7h1.7M104.5 137.8h1.7M108.5 150.9h1.7M112.8 144.1h1.7M101.5 155.5h1.7M103.5 136.3h1.7M99.3 142.3h1.7M119.3 158.8h1.7M156.2 138.3h1.7M82.3 157.2h1.7M119.2 149.4h1.7M105.9 147.3h1.7M116.6 140.7h1.7M131.8 142.7h1.7M116.1 143.6h1.7M104.9 134.6h1.7M133 161.9h1.7M59.1 144.8h1.7M125.6 120.8h1.7M64.5 130.3h1.7M120.6 149.6h1.7M136.4 149.5h1.7M46.5 144.2h1.7M106.3 162.7h1.7M88.3 139.4h1.7M121.9 147.5h1.7M99.1 137.6h1.7M140.8 155.5h1.7M134.9 114.4h1.7M121.2 139.8h1.7M127.9 137.3h1.7M106.6 128.5h1.7M76.3 144.6h1.7M122.8 176.3h1.7M148.8 132.4h1.7M128.4 161.6h1.7M96.9 130h1.7M140.5 141.1h1.7M111.6 139.9h1.7M87 154.4h1.7M67.7 121.5h1.7M102.9 136.9h1.7M115.3 150.4h1.7M93.9 154.4h1.7M113.2 141.9h1.7M84.2 129.2h1.7M130.3 164.1h1.7M81.7 130.6h1.7M87.5 125.8h1.7M105 165.7h1.7M92.1 133.7h1.7M110.5 115.6h1.7M83.4 141.1h1.7M109.3 148.4h1.7M63.9 196.1h1.7M100.5 149.1h1.7M95.9 159.9h1.7" stroke="#2A9D8F" stroke-opacity="0.32" stroke-width="1.7" fill="none"/><path d="M158.9 150.8h1.7M105.9 157.4h1.7M110.8 140.4h1.7M127.1 128.6h1.7M135 159.4h1.7M152 140.7h1.7M117.2 161.6h1.7M150.8 132.2h1.7M118.2 134.3h1.7M128.2 138.5h1.7M124.3 154.2h1.7M143.9 159.6h1.7M129.2 164.8h1.7M143.1 146.1h1.7M115 158.8h1.7M158.1 139.8h1.7M138.2 127.9h1.7M116.8 147.4h1.7M146.8 148h1.7M131.1 129.1h1.7M118.3 151.9h1.7M131.8 169.4h1.7M129.5 131.4h1.7M141.8 145.1h1.7M116.7 140.5h1.7M147.2 140.4h1.7M145.9 147.7h1.7M152.3 106.8h1.7M125 152.4h1.7M126.2 175.6h1.7M133 151.7h1.7M111.7 156.3h1.7M89.9 131.4h1.7M140.6 147.6h1.7M109.9 142.4h1.7M115 142.1h1.7M123.2 151.7h1.7M132.4 140.2h1.7M140.7 129.1h1.7M148.1 135.8h1.7M141.8 152.3h1.7M144.3 106.1h1.7M122.9 153h1.7M136 165.1h1.7M135.1 129.2h1.7M77.2 111.9h1.7M106.5 129.4h1.7M152.3 121.4h1.7M130.5 126.4h1.7M127.2 143.6h1.7M139.1 136h1.7M140.6 159.7h1.7M173 131.1h1.7M163.5 137.7h1.7M107.3 174.7h1.7M115.9 140.3h1.7M118.3 135.5h1.7M131.7 111.9h1.7M114.9 171.6h1.7M144.2 141.2h1.7M125.6 156.6h1.7M132.9 118.2h1.7M127.4 162.2h1.7M125.8 147.9h1.7M148.5 143.1h1.7M164.9 132.8h1.7M126 85.5h1.7M156.8 135.2h1.7M117.1 143h1.7M148.5 152.5h1.7" stroke="#E9A03F" stroke-opacity="0.32" stroke-width="1.7" fill="none"/><path d="M109.5 150.9h1.7M155.8 151.5h1.7M107.1 157.6h1.7M148.4 147.4h1.7M126.2 155.2h1.7M114.2 104.2h1.7M95.9 130.4h1.7M99.2 141.6h1.7M138.6 153.2h1.7M123.7 121.8h1.7M105.5 152.6h1.7M130.5 142.7h1.7M126.9 145.5h1.7M134.5 141.6h1.7M141 133.2h1.7M130.8 138.3h1.7M137.5 148.5h1.7M137.4 162.9h1.7M144 157h1.7M132 159.7h1.7M140.7 158.6h1.7M153.4 157.4h1.7M156 138h1.7M154 138.7h1.7M122.2 128.4h1.7M131.9 144.5h1.7M136 146.2h1.7M130.3 173.9h1.7M96.8 146h1.7M138.4 148.9h1.7M150.5 145.6h1.7M76.5 146.8h1.7M132.3 149.5h1.7M181.1 140.7h1.7M136.5 123.4h1.7M118.7 165.6h1.7M88 121.1h1.7M149.7 131h1.7M143.9 131.7h1.7M100.4 125.9h1.7M125.7 153.3h1.7M157.8 136.5h1.7M95 142.7h1.7M113.4 161h1.7M119.9 132h1.7M143.8 154.2h1.7M142.1 122.6h1.7M112.1 166h1.7M116.2 162.1h1.7M181.2 134.8h1.7M129.3 140.5h1.7M132.8 136.1h1.7M115.5 171.4h1.7M72.9 146h1.7M86.9 141.1h1.7M143.6 153.8h1.7M158.3 152.3h1.7M100.7 142.6h1.7M128.8 141h1.7M178.2 137.5h1.7M146.9 156.2h1.7M122 153.3h1.7M141.4 147.9h1.7M128.3 148.6h1.7M121.4 154.2h1.7M79 104h1.7M143.7 141.7h1.7M133.7 157.3h1.7M121.3 161.8h1.7M139.8 142.8h1.7" stroke="#E9A03F" stroke-opacity="0.32" stroke-width="1.7" fill="none"/><path d="M151.6 128.1h1.7M137.1 108.2h1.7M122.2 156.8h1.7M145.9 122.6h1.7M134.9 116h1.7M124.4 125.6h1.7M103.6 133.2h1.7M132.9 136.3h1.7M129.6 148.2h1.7M131.7 140.3h1.7M92.8 143.5h1.7M139.6 136.7h1.7M145.4 137.4h1.7M131.6 144.8h1.7M135.7 137.1h1.7M131.1 156.6h1.7M117.1 115.9h1.7M142.4 158.4h1.7M109.3 148.9h1.7M136.2 116.8h1.7M119.4 151.6h1.7M103.3 145.2h1.7M152.4 123.5h1.7M122.2 102.3h1.7M112.8 151.8h1.7M120.8 125.5h1.7M152.1 105.8h1.7M148.2 127.4h1.7M156.1 124.2h1.7M98.2 120.5h1.7M180.4 133.2h1.7M140.6 155.5h1.7M122.4 144.4h1.7M143.9 106.8h1.7M143.2 155.8h1.7M90.4 136.7h1.7M137.9 153.3h1.7M131.5 115.7h1.7M107.4 148.2h1.7M127.9 167.3h1.7M114.2 148.5h1.7M120.9 139.8h1.7M156.3 133.3h1.7M126.8 114.9h1.7M102 138.5h1.7M155 138.9h1.7M116.1 142.6h1.7M121.3 136.7h1.7M80.8 114.8h1.7M116.6 144.7h1.7M132.6 160.4h1.7M143.1 155.3h1.7M160.3 136.6h1.7M137 152.1h1.7M139.7 140.7h1.7M132.1 136.4h1.7M153.6 144.9h1.7M142.6 138.1h1.7M134.7 138.2h1.7M120.9 167.9h1.7M77.5 142.4h1.7M152.4 148.2h1.7M139.9 151.6h1.7M133.1 148.9h1.7M106 153h1.7M159 142.3h1.7M129 166.9h1.7M142.6 141.9h1.7M111.9 161h1.7M123.8 145.2h1.7" stroke="#E9A03F" stroke-opacity="0.32" stroke-width="1.7" fill="none"/><path d="M114.9 162.4h1.7M112.5 164.8h1.7M114.4 145.1h1.7M98.6 116.1h1.7M126.5 165.9h1.7M93.6 127.7h1.7M150.3 122.4h1.7M137.3 121.8h1.7M165.4 133.9h1.7M142.2 126.5h1.7M123.8 155.9h1.7M138.7 162.7h1.7M127.9 178.7h1.7M136.5 164h1.7M113.3 134.6h1.7M131.7 161.1h1.7M110.2 134.1h1.7M139.5 140.7h1.7M96.5 154.4h1.7M123.9 156.9h1.7M105.2 124.4h1.7M139.9 151.3h1.7M114.6 153.5h1.7M120.9 143.2h1.7M185.4 142.6h1.7M147 111.9h1.7M138.7 129.7h1.7M133.2 126.6h1.7M129.9 170.4h1.7M126.9 145.9h1.7M122.2 142.3h1.7M122 158h1.7M147.7 121.9h1.7M114 132.3h1.7M127.6 170h1.7M98.7 123.2h1.7M161.4 138.2h1.7M102.6 147.4h1.7M121.7 129.7h1.7M142.9 138.5h1.7M142.6 146.5h1.7M106 128.1h1.7M125 143.9h1.7M138.8 144h1.7M119 154.7h1.7M97.4 140.3h1.7M140 131.2h1.7M141.9 148.6h1.7M136.1 144.6h1.7M118.7 149.1h1.7M90.6 182h1.7M164.2 116.7h1.7M138.5 149.5h1.7M133.1 134.5h1.7M149.3 142.5h1.7M143.5 122h1.7M154.9 135.7h1.7M148.8 160.3h1.7M149.6 155.2h1.7M142.2 145.7h1.7M119.7 146.2h1.7M101.9 138.3h1.7M126.2 141.3h1.7M121.4 159.7h1.7M106.1 146.9h1.7M122.9 139.7h1.7M125.7 121.7h1.7M147.5 142h1.7M158.9 148.7h1.7M134.7 161h1.7" stroke="#E9A03F" stroke-opacity="0.32" stroke-width="1.7" fill="none"/><path d="M138.1 167.2h1.7M124.7 149.1h1.7M144.8 143.9h1.7M116.7 165.3h1.7M126 146.5h1.7M146.4 114.1h1.7M109 134.8h1.7M122.8 149.4h1.7M106.8 150.8h1.7M121.9 130h1.7M135.8 142.7h1.7M149.9 137.2h1.7M158.6 152.3h1.7M137.1 125.7h1.7M114.3 172.9h1.7M151.2 148.7h1.7M135.6 124h1.7M151.7 136.4h1.7M116 120.6h1.7M137.5 165.1h1.7M140.1 144.9h1.7M139.8 141.4h1.7M125.3 155.2h1.7M132.2 134.3h1.7M146.5 118.8h1.7M112 145.6h1.7M84.8 142.1h1.7M111.4 160.2h1.7M122.9 137.1h1.7M65.8 116.4h1.7M94.9 142.6h1.7M167.7 134.5h1.7M128.9 129.5h1.7M131.2 151.3h1.7M133 150.5h1.7M123 141.7h1.7M127.9 159.8h1.7M166.3 134.5h1.7M124.6 132.1h1.7M145.7 130.6h1.7M112.7 166h1.7M139.4 154.8h1.7M163.6 118.3h1.7M125.9 162.9h1.7M146.7 140.9h1.7M141.8 134h1.7M128.5 114.4h1.7M149.2 154.7h1.7M141 152.4h1.7M135.8 111.8h1.7M124.2 122.1h1.7M128.2 163.6h1.7M116.7 141.8h1.7M156.1 134.7h1.7M121.9 188h1.7M125.9 144.3h1.7M153.8 115.8h1.7M125.7 167.4h1.7M165.2 139.3h1.7M128.5 154h1.7M135.4 159.7h1.7M127 146.9h1.7M132.9 133.8h1.7M123.2 160.3h1.7M120.4 157.5h1.7M114.4 126.2h1.7M132.3 135h1.7M144 130.9h1.7M112.8 151.7h1.7M141.4 141.1h1.7" stroke="#E9A03F" stroke-opacity="0.32" stroke-width="1.7" fill="none"/><path d="M156.5 139h1.7M133.8 166.6h1.7M144.6 154.1h1.7M141.5 145.7h1.7M119.2 140.6h1.7M143.8 150.9h1.7M135.1 143.2h1.7M156 134.4h1.7M134.4 160.3h1.7M107.2 131h1.7M153.7 147.6h1.7M112 149.2h1.7M136.7 130.6h1.7M109.3 120.1h1.7M106.5 125.1h1.7M137.4 145.1h1.7M116.8 125.5h1.7M119.8 172.4h1.7M138.9 136.4h1.7M101.7 134h1.7M99.2 137.4h1.7M157.8 133.7h1.7M136.2 169.1h1.7M102.9 131.8h1.7M131.3 132.8h1.7M114.9 153.9h1.7M121.4 159.9h1.7M149.2 132.8h1.7M81.3 171.6h1.7M149.5 134.8h1.7M145.4 147.9h1.7M142.8 125.8h1.7M155.6 152.7h1.7M118.4 174h1.7M98.5 104.4h1.7M108.8 129.6h1.7M143.9 138.3h1.7M76 194h1.7M132.6 146.7h1.7M150.3 138.2h1.7M108.3 141h1.7M138.5 150.2h1.7M113 145.4h1.7M150.3 118.4h1.7M112.5 161.2h1.7M121.9 132.2h1.7M110 156.1h1.7M120.2 146.6h1.7M159.8 134.8h1.7M86 174.7h1.7M140.1 166.6h1.7M117.3 147.1h1.7M142.7 147.3h1.7M144.8 140.9h1.7M128.1 145.4h1.7M109.4 153.8h1.7M127.9 152h1.7M173.5 144.6h1.7M120.4 147.2h1.7M155.8 133.3h1.7M145.9 143.2h1.7M149.2 151.2h1.7M105.9 120.8h1.7M103.4 138.4h1.7M148.1 132.5h1.7M130.3 109.5h1.7M138.8 140.3h1.7M134 152.5h1.7M149.5 141.2h1.7" stroke="#E9A03F" stroke-opacity="0.32" stroke-width="1.7" fill="none"/><path d="M68.7 142h1.7M88.7 138.5h1.7M100.3 111.1h1.7M66.2 152.8h1.7M98.3 146.3h1.7M61 133.2h1.7M110.2 106.1h1.7M74.3 156.3h1.7M95.9 105.4h1.7M51 135.3h1.7M54.5 134.1h1.7M98.7 176.9h1.7M89 152.2h1.7M81 140.9h1.7M92 148.7h1.7M86.8 162.4h1.7M75.8 156.1h1.7M64.9 136.7h1.7M67.6 155.9h1.7M84.6 153.4h1.7M84.2 145.5h1.7M99.1 178.1h1.7M73.6 140.3h1.7M74.6 164.1h1.7M88.3 143.5h1.7M70 162.3h1.7M58.4 146.3h1.7M74.2 153.9h1.7M95.7 160.1h1.7M84.9 125.9h1.7M66.5 150.9h1.7M82.3 131.3h1.7M97.1 151.4h1.7M97.8 157.8h1.7M88.8 129.8h1.7M81.6 121.5h1.7M88.2 168.3h1.7M79.2 160h1.7M69.5 133.2h1.7M64.6 147.6h1.7M92.1 137.3h1.7M116 142.6h1.7M108.6 143h1.7M86.8 138h1.7M112.3 129.7h1.7M75.9 155.7h1.7M86.3 154.7h1.7M72.5 148.1h1.7M63.2 164.3h1.7M89.4 156.7h1.7M84.4 155.5h1.7M70.1 148h1.7M95.8 159.6h1.7M71.8 143.3h1.7M83.6 167.2h1.7M83.2 137.7h1.7M67.5 132.9h1.7M87.2 152.4h1.7M114.8 144.1h1.7M80.3 147.6h1.7M74.7 126.1h1.7M85.2 141h1.7M32.8 161.6h1.7M40.3 171.6h1.7M92.2 134.4h1.7M60.3 126.8h1.7M69.5 166.7h1.7M73 154.7h1.7M73.8 125.1h1.7M90.9 151.8h1.7" stroke="#E3434F" stroke-opacity="0.32" stroke-width="1.7" fill="none"/><path d="M57.6 141.8h1.7M109.7 124.9h1.7M89 153.5h1.7M98.5 151.4h1.7M54.2 146h1.7M97.9 129.4h1.7M78.8 160.7h1.7M103 139.9h1.7M70.8 126.3h1.7M69.4 130.2h1.7M92.4 103.9h1.7M77.5 142h1.7M98.6 147.9h1.7M108 145.5h1.7M63 159.6h1.7M68.5 142.9h1.7M64.8 148.9h1.7M91.2 170.5h1.7M80 145.3h1.7M107.6 146.9h1.7M73.4 140h1.7M79.5 158.6h1.7M54.4 145.4h1.7M76.4 160.5h1.7M49.6 147.2h1.7M77 133.6h1.7M65.4 131.1h1.7M102.4 146.6h1.7M86 147.6h1.7M106.3 141h1.7M94.7 128.5h1.7M92 145.9h1.7M62.2 147.1h1.7M89.1 139.9h1.7M84.3 134.5h1.7M52.6 140.3h1.7M84.8 151h1.7M83.3 149.8h1.7M73.4 148.9h1.7M63.2 134.2h1.7M80 150.7h1.7M65.4 150h1.7M115.5 128.9h1.7M69.5 134.7h1.7M59.8 128h1.7M113.6 128.6h1.7M73.5 142h1.7M80.7 158.7h1.7M68.1 159.6h1.7M74 128.9h1.7M61.5 131.3h1.7M107.4 136.9h1.7M75.7 141.6h1.7M77.2 135.6h1.7M79.2 145.1h1.7M72 154.3h1.7M76.8 113.6h1.7M102.7 118.6h1.7M103.8 130.9h1.7M99.1 150.5h1.7M72.2 151h1.7M70 126.1h1.7M83.6 136.4h1.7M81.6 122.2h1.7M82.4 157.5h1.7M77.2 160.5h1.7M90.2 137h1.7M62.8 148.4h1.7M102.7 134h1.7M67.7 149.3h1.7" stroke="#E3434F" stroke-opacity="0.32" stroke-width="1.7" fill="none"/><path d="M62.7 123.9h1.7M83 125.7h1.7M62.4 132.8h1.7M30.8 132.6h1.7M88.6 158.6h1.7M53.4 123.3h1.7M98.6 138.1h1.7M63.1 148.8h1.7M90.6 130.7h1.7M60.9 151.8h1.7M55.5 127.8h1.7M86.6 159.2h1.7M70.1 140.4h1.7M76.8 157.6h1.7M82.7 160h1.7M65.4 164.4h1.7M92.8 132.5h1.7M97.6 137.3h1.7M98.6 158.4h1.7M74.8 116.9h1.7M92.4 149.8h1.7M45.7 142.9h1.7M118.9 134h1.7M75.9 125.7h1.7M64 124.7h1.7M80.6 154.2h1.7M105.5 124.8h1.7M128 96.1h1.7M84.1 150h1.7M31.3 146.4h1.7M67.1 159.2h1.7M86.9 159.2h1.7M68.5 134.9h1.7M65.6 147h1.7M82.5 145.9h1.7M51.8 144.1h1.7M88.5 128.9h1.7M56.1 130.5h1.7M120.1 117.9h1.7M74.3 160.5h1.7M83 137h1.7M113.6 142.9h1.7M62.6 125.2h1.7M77.6 128.7h1.7M84.9 146.7h1.7M81.7 142.9h1.7M90.6 137.5h1.7M92.1 127.3h1.7M99.1 129.6h1.7M108.3 137.4h1.7M71.1 151.6h1.7M82.3 143h1.7M101.8 121.7h1.7M109.6 136.8h1.7M76.5 115.7h1.7M87.4 109.2h1.7M73.3 131.3h1.7M68.8 146.2h1.7M71.8 136.2h1.7M84.1 147.2h1.7M90.5 145.5h1.7M48.5 157.3h1.7M79.1 162.1h1.7M91.4 159.6h1.7M90.1 206.2h1.7M77.5 143.7h1.7M105.3 126.6h1.7M81.7 116.9h1.7M102.5 151.9h1.7M91.3 145.8h1.7" stroke="#E3434F" stroke-opacity="0.32" stroke-width="1.7" fill="none"/><path d="M113.7 129.9h1.7M70.8 155.5h1.7M92.1 134.7h1.7M82.2 133.1h1.7M100.2 130.8h1.7M63.3 150h1.7M68 124.6h1.7M56.1 137.9h1.7M54.2 134.3h1.7M70.8 155.6h1.7M86.4 154h1.7M88.5 136.4h1.7M65.6 134.1h1.7M82.3 141.9h1.7M80.4 125.6h1.7M85.4 140.7h1.7M68 151.9h1.7M95.2 156h1.7M66.2 144.1h1.7M72.7 138.9h1.7M106.8 135.3h1.7M56.9 151.2h1.7M88.6 138.7h1.7M87.8 151.7h1.7M92.7 133.8h1.7M86.8 159.5h1.7M92.4 141.3h1.7M60.4 148.2h1.7M93.5 147.3h1.7M93.3 154.2h1.7M50.2 118.1h1.7M75 158.7h1.7M83.2 161.9h1.7M67.1 135.3h1.7M73.6 157.3h1.7M76.7 230.7h1.7M69 153.6h1.7M86.6 125.3h1.7M81.7 145h1.7M95.9 137.4h1.7M109.2 139.4h1.7M64.1 142h1.7M90.8 123.1h1.7M80.4 114.1h1.7M75.6 147.9h1.7M74.2 151.9h1.7M67.1 148.2h1.7M52.7 169.6h1.7M86.5 144.3h1.7M87.8 129.9h1.7M78.4 144.3h1.7M89.6 152h1.7M80.8 122.2h1.7M84.6 128.3h1.7M109.3 155.4h1.7M82.9 162.8h1.7M86.1 149.6h1.7M92.1 152.8h1.7M75.5 136.6h1.7M82.9 159.9h1.7M78.5 163.8h1.7M77.4 150.8h1.7M104 136.4h1.7M103.4 128.7h1.7M114.6 129.3h1.7M93.2 152.8h1.7M93.8 149.2h1.7M86.9 126.8h1.7M75.1 155.4h1.7M90.9 155.7h1.7" stroke="#E3434F" stroke-opacity="0.32" stroke-width="1.7" fill="none"/><path d="M77.2 136.4h1.7M75.8 142.2h1.7M73.8 154.7h1.7M103.5 119.6h1.7M88.5 157.2h1.7M66.9 117.9h1.7M74.6 146.9h1.7M105.6 105.7h1.7M80.3 136.9h1.7M77.8 161.4h1.7M64.5 149.3h1.7M86.6 160.7h1.7M72.8 140.6h1.7M103.2 156.1h1.7M68.2 156.9h1.7M54.3 145.7h1.7M80.7 145.3h1.7M81.2 154.1h1.7M85.4 124.7h1.7M53.7 126.6h1.7M70.3 125.4h1.7M81.9 137.2h1.7M94.3 153.7h1.7M72.8 142.5h1.7M89 161.3h1.7M69.2 144.2h1.7M98.3 143.7h1.7M68.8 146.5h1.7M88.9 130h1.7M102.4 156.7h1.7M78.6 151.5h1.7M99.7 152.5h1.7M78.9 149.2h1.7M95.6 134.5h1.7M113.9 134.3h1.7M88.1 117.6h1.7M92.2 130.8h1.7M85.2 140h1.7M96.8 141.5h1.7M91.9 139.9h1.7M91.6 149.8h1.7M101.8 126.5h1.7M90 155.3h1.7M82.6 146.7h1.7M108.2 139.7h1.7M88.8 129.7h1.7M92.3 135.6h1.7M83.3 153.4h1.7M77.5 148.3h1.7M72.8 151.4h1.7M86.7 150.7h1.7M62.9 143.1h1.7M74.6 135.3h1.7M73.2 142.4h1.7M91.5 137.7h1.7M75.1 150.4h1.7M129.7 109.4h1.7M75.4 133.2h1.7M68.3 146.6h1.7M74.2 158.6h1.7M74.3 159.4h1.7M60.1 142.2h1.7M90 121.4h1.7M81 133.5h1.7M75.3 133.6h1.7M97.6 116.6h1.7M70.3 134h1.7M38.1 139.2h1.7M97 150.5h1.7M63.1 144.8h1.7" stroke="#E3434F" stroke-opacity="0.32" stroke-width="1.7" fill="none"/><path d="M107 146.3h1.7M92.8 145.9h1.7M77.2 153.4h1.7M103.2 139.5h1.7M78.7 138h1.7M83.3 144.1h1.7M76.1 145.1h1.7M86.7 132.5h1.7M86.5 140.5h1.7M75.9 138.7h1.7M59.1 144.3h1.7M69.4 126.5h1.7M117.3 105.8h1.7M110.8 164.9h1.7M100.7 142.4h1.7M95.3 143h1.7M84.6 150.5h1.7M95.5 120.3h1.7M94.8 145.9h1.7M87.4 156.9h1.7M103.1 128.3h1.7M96.7 152.4h1.7M78.4 123.1h1.7M86.2 138.7h1.7M84.3 121h1.7M78.3 147.6h1.7M91.2 134.1h1.7M74.8 147.2h1.7M95.6 119.8h1.7M83.9 116.9h1.7M73.6 110h1.7M103.5 137.1h1.7M62.9 150h1.7M104.1 130.1h1.7M94 148.4h1.7M98.1 141.9h1.7M77 146.2h1.7M69.3 158h1.7M47.3 128.9h1.7M83.8 150.2h1.7M95.2 124.2h1.7M76.1 139.3h1.7M73.4 150.8h1.7M70.2 157.3h1.7M73.9 135.9h1.7M63.1 127.3h1.7M95.9 156h1.7M85.6 164.5h1.7M65.4 133.9h1.7M64.9 121.2h1.7M106.2 143.3h1.7M95.3 162.2h1.7M69 154.1h1.7M75.2 136.2h1.7M79.5 150.5h1.7M54.9 132.7h1.7M51.1 143h1.7M98.2 132.1h1.7M75.3 157h1.7M104.9 133.1h1.7M93.9 129.9h1.7M78.2 128.6h1.7M82.6 166.9h1.7M76.3 147.5h1.7M68.2 154.4h1.7M68 151h1.7M78.1 147.6h1.7M77.1 164.6h1.7M78.8 129.4h1.7M88.8 160.3h1.7" stroke="#E3434F" stroke-opacity="0.32" stroke-width="1.7" fill="none"/><ellipse cx="109" cy="154" rx="37.88" ry="25.75" transform="rotate(-162.99 109 154)" fill="none" stroke="#4E79A7" stroke-width="0.95"/><ellipse cx="111" cy="146.5" rx="47.66" ry="33.98" transform="rotate(-173.27 111 146.5)" fill="none" stroke="#2A9D8F" stroke-width="0.95"/><ellipse cx="133.3" cy="147.4" rx="41.12" ry="32.10" transform="rotate(157.27 133.3 147.4)" fill="none" stroke="#E9A03F" stroke-width="0.95"/><ellipse cx="83" cy="148" rx="33.32" ry="31.36" transform="rotate(155.75 83 148)" fill="none" stroke="#E3434F" stroke-width="0.95"/></g><path d="M25.4 63.5H191.7V233.1H25.4Z" fill="none" stroke="#3a3a3a" stroke-width="0.9"/><text x="35.5" y="241.9" font-size="7.9" fill="#4D4D4D" text-anchor="middle">−10</text><text x="72.7" y="241.9" font-size="7.9" fill="#4D4D4D" text-anchor="middle">−5</text><text x="109.4" y="241.9" font-size="7.9" fill="#4D4D4D" text-anchor="middle">0</text><text x="147.7" y="241.9" font-size="7.9" fill="#4D4D4D" text-anchor="middle">5</text><text x="186.6" y="241.9" font-size="7.9" fill="#4D4D4D" text-anchor="middle">10</text><text x="22.2" y="73" font-size="7.9" fill="#4D4D4D" text-anchor="end">10</text><text x="22.2" y="112.4" font-size="7.9" fill="#4D4D4D" text-anchor="end">5</text><text x="22.2" y="150.8" font-size="7.9" fill="#4D4D4D" text-anchor="end">0</text><text x="22.2" y="189.8" font-size="7.9" fill="#4D4D4D" text-anchor="end">−5</text><text x="22.2" y="228.6" font-size="7.9" fill="#4D4D4D" text-anchor="end">−10</text><path d="M24.9 70.3h-2M24.9 109.7h-2M24.9 148.2h-2M24.9 187.2h-2M24.9 225.9h-2" stroke="#555" stroke-width="0.7"/><path d="M35.5 233.6v1.6M72.7 233.6v1.6M109.4 233.6v1.6M147.7 233.6v1.6M186.6 233.6v1.6" stroke="#aaa" stroke-width="0.6"/><text x="108.5" y="251.2" font-size="9.1" fill="#000" text-anchor="middle">PCA1 (34.9%)</text><text x="7.7" y="147.8" font-size="8.9" fill="#000" text-anchor="middle" transform="rotate(-90 7.7 147.8)">PCA2 (12.2%)</text><text x="13.2" y="29" font-size="12.4" fill="#000">(a)</text>
<path d="M256.8 61.4L256.8 61.2L259 61.2L261.3 61.2L263.5 61.2L265.8 61.2L268 61.1L270.3 61.1L272.5 61.1L274.8 61.1L277 61L279.3 61L281.5 61L283.8 60.9L286 60.8L288.3 60.6L290.5 60.5L292.8 60.2L295 60L297.3 59.7L299.5 59.2L301.8 58.3L304 57L306.3 54.4L308.5 49.6L310.7 44.9L313 40.1L315.2 36.3L317.5 33.1L319.7 31.1L322 30.2L324.2 30.6L326.5 31.2L328.7 30.9L331 30.6L333.2 31.6L335.5 33.6L337.7 37.7L340 42.7L342.2 47.1L344.5 49.1L346.7 50.4L349 51.6L351.2 53.5L353.5 55.6L355.7 57.1L358 58.2L360.2 59.2L362.4 59.9L364.7 60.4L366.9 60.7L369.2 60.9L371.4 61.1L373.7 61.2L375.9 61.2L378.2 61.2L380.4 61.2L382.7 61.3L384.9 61.3L387.2 61.3L389.4 61.3L391.7 61.3L393.9 61.3L396.2 61.3L398.4 61.3L400.7 61.3L402.9 61.3L405.2 61.3L407.4 61.3L409.7 61.3L411.9 61.3L411.9 61.4Z" fill="#4E79A7" fill-opacity="0.25"/><path d="M256.8 61.2 L259 61.2 L261.3 61.2 L263.5 61.2 L265.8 61.2 L268 61.1 L270.3 61.1 L272.5 61.1 L274.8 61.1 L277 61 L279.3 61 L281.5 61 L283.8 60.9 L286 60.8 L288.3 60.6 L290.5 60.5 L292.8 60.2 L295 60 L297.3 59.7 L299.5 59.2 L301.8 58.3 L304 57 L306.3 54.4 L308.5 49.6 L310.7 44.9 L313 40.1 L315.2 36.3 L317.5 33.1 L319.7 31.1 L322 30.2 L324.2 30.6 L326.5 31.2 L328.7 30.9 L331 30.6 L333.2 31.6 L335.5 33.6 L337.7 37.7 L340 42.7 L342.2 47.1 L344.5 49.1 L346.7 50.4 L349 51.6 L351.2 53.5 L353.5 55.6 L355.7 57.1 L358 58.2 L360.2 59.2 L362.4 59.9 L364.7 60.4 L366.9 60.7 L369.2 60.9 L371.4 61.1 L373.7 61.2 L375.9 61.2 L378.2 61.2 L380.4 61.2 L382.7 61.3 L384.9 61.3 L387.2 61.3 L389.4 61.3 L391.7 61.3 L393.9 61.3 L396.2 61.3 L398.4 61.3 L400.7 61.3 L402.9 61.3 L405.2 61.3 L407.4 61.3 L409.7 61.3 L411.9 61.3" fill="none" stroke="#4E79A7" stroke-width="0.6"/><path d="M256.8 61.4L256.8 61.2L259 61.2L261.3 61.2L263.5 61.2L265.8 61.2L268 61.2L270.3 61.2L272.5 61.1L274.8 61.1L277 61.1L279.3 61.1L281.5 61L283.8 61L286 61L288.3 60.9L290.5 60.7L292.8 60.5L295 60.3L297.3 59.9L299.5 59.6L301.8 59.1L304 58.2L306.3 57L308.5 55.7L310.7 53.8L313 51.5L315.2 49.2L317.5 46.8L319.7 44.7L322 43L324.2 41.6L326.5 40.2L328.7 38.6L331 36.8L333.2 35.2L335.5 34.4L337.7 34.9L340 37.2L342.2 39.7L344.5 41.9L346.7 44.1L349 46L351.2 47.5L353.5 48.6L355.7 49.7L358 51L360.2 52.7L362.4 54.5L364.7 56L366.9 57.3L369.2 58.4L371.4 59.2L373.7 59.8L375.9 60.3L378.2 60.6L380.4 60.8L382.7 60.9L384.9 61L387.2 61.1L389.4 61.1L391.7 61.2L393.9 61.2L396.2 61.2L398.4 61.2L400.7 61.3L402.9 61.3L405.2 61.3L407.4 61.3L409.7 61.3L411.9 61.4L411.9 61.4Z" fill="#2A9D8F" fill-opacity="0.25"/><path d="M256.8 61.2 L259 61.2 L261.3 61.2 L263.5 61.2 L265.8 61.2 L268 61.2 L270.3 61.2 L272.5 61.1 L274.8 61.1 L277 61.1 L279.3 61.1 L281.5 61 L283.8 61 L286 61 L288.3 60.9 L290.5 60.7 L292.8 60.5 L295 60.3 L297.3 59.9 L299.5 59.6 L301.8 59.1 L304 58.2 L306.3 57 L308.5 55.7 L310.7 53.8 L313 51.5 L315.2 49.2 L317.5 46.8 L319.7 44.7 L322 43 L324.2 41.6 L326.5 40.2 L328.7 38.6 L331 36.8 L333.2 35.2 L335.5 34.4 L337.7 34.9 L340 37.2 L342.2 39.7 L344.5 41.9 L346.7 44.1 L349 46 L351.2 47.5 L353.5 48.6 L355.7 49.7 L358 51 L360.2 52.7 L362.4 54.5 L364.7 56 L366.9 57.3 L369.2 58.4 L371.4 59.2 L373.7 59.8 L375.9 60.3 L378.2 60.6 L380.4 60.8 L382.7 60.9 L384.9 61 L387.2 61.1 L389.4 61.1 L391.7 61.2 L393.9 61.2 L396.2 61.2 L398.4 61.2 L400.7 61.3 L402.9 61.3 L405.2 61.3 L407.4 61.3 L409.7 61.3 L411.9 61.4" fill="none" stroke="#2A9D8F" stroke-width="0.6"/><path d="M256.8 61.4L256.8 61.2L259 61.2L261.3 61.2L263.5 61.2L265.8 61.2L268 61.2L270.3 61.2L272.5 61.1L274.8 61.1L277 61.1L279.3 61.1L281.5 61L283.8 61L286 61L288.3 60.9L290.5 60.8L292.8 60.6L295 60.4L297.3 60.1L299.5 59.7L301.8 58.8L304 57.6L306.3 56.2L308.5 54.1L310.7 51.6L313 49L315.2 46.4L317.5 43.6L319.7 40.8L322 38.4L324.2 36.3L326.5 34.6L328.7 33.9L331 34.2L333.2 34.9L335.5 35.7L337.7 37.1L340 39.1L342.2 41L344.5 42.6L346.7 44.2L349 45.8L351.2 47.3L353.5 48.9L355.7 50.4L358 52L360.2 53.5L362.4 54.9L364.7 56.2L366.9 57.5L369.2 58.5L371.4 59.2L373.7 59.6L375.9 60L378.2 60.4L380.4 60.7L382.7 60.9L384.9 61L387.2 61L389.4 61.1L391.7 61.1L393.9 61.1L396.2 61.1L398.4 61.1L400.7 61.2L402.9 61.2L405.2 61.2L407.4 61.2L409.7 61.2L411.9 61.2L411.9 61.4Z" fill="#E9A03F" fill-opacity="0.25"/><path d="M256.8 61.2 L259 61.2 L261.3 61.2 L263.5 61.2 L265.8 61.2 L268 61.2 L270.3 61.2 L272.5 61.1 L274.8 61.1 L277 61.1 L279.3 61.1 L281.5 61 L283.8 61 L286 61 L288.3 60.9 L290.5 60.8 L292.8 60.6 L295 60.4 L297.3 60.1 L299.5 59.7 L301.8 58.8 L304 57.6 L306.3 56.2 L308.5 54.1 L310.7 51.6 L313 49 L315.2 46.4 L317.5 43.6 L319.7 40.8 L322 38.4 L324.2 36.3 L326.5 34.6 L328.7 33.9 L331 34.2 L333.2 34.9 L335.5 35.7 L337.7 37.1 L340 39.1 L342.2 41 L344.5 42.6 L346.7 44.2 L349 45.8 L351.2 47.3 L353.5 48.9 L355.7 50.4 L358 52 L360.2 53.5 L362.4 54.9 L364.7 56.2 L366.9 57.5 L369.2 58.5 L371.4 59.2 L373.7 59.6 L375.9 60 L378.2 60.4 L380.4 60.7 L382.7 60.9 L384.9 61 L387.2 61 L389.4 61.1 L391.7 61.1 L393.9 61.1 L396.2 61.1 L398.4 61.1 L400.7 61.2 L402.9 61.2 L405.2 61.2 L407.4 61.2 L409.7 61.2 L411.9 61.2" fill="none" stroke="#E9A03F" stroke-width="0.6"/><path d="M256.8 61.4L256.8 61.2L259 61.2L261.3 61.2L263.5 61.2L265.8 61.2L268 61.2L270.3 61.2L272.5 61.1L274.8 61.1L277 61.1L279.3 61.1L281.5 61L283.8 61L286 61L288.3 60.9L290.5 60.8L292.8 60.6L295 60.3L297.3 60L299.5 59.6L301.8 58.9L304 57.4L306.3 55.8L308.5 54L310.7 52L313 50.4L315.2 49.2L317.5 47.6L319.7 45.3L322 42.4L324.2 38.6L326.5 34.8L328.7 32.6L331 32.4L333.2 32.5L335.5 32.7L337.7 33.2L340 34.8L342.2 37.2L344.5 40.4L346.7 44L349 46.6L351.2 48.7L353.5 50.6L355.7 52.5L358 54.5L360.2 56.2L362.4 57.2L364.7 58.1L366.9 58.8L369.2 59.4L371.4 59.8L373.7 60.1L375.9 60.5L378.2 60.7L380.4 61L382.7 61.1L384.9 61.2L387.2 61.2L389.4 61.2L391.7 61.3L393.9 61.3L396.2 61.3L398.4 61.3L400.7 61.3L402.9 61.3L405.2 61.3L407.4 61.3L409.7 61.3L411.9 61.4L411.9 61.4Z" fill="#E3434F" fill-opacity="0.25"/><path d="M256.8 61.2 L259 61.2 L261.3 61.2 L263.5 61.2 L265.8 61.2 L268 61.2 L270.3 61.2 L272.5 61.1 L274.8 61.1 L277 61.1 L279.3 61.1 L281.5 61 L283.8 61 L286 61 L288.3 60.9 L290.5 60.8 L292.8 60.6 L295 60.3 L297.3 60 L299.5 59.6 L301.8 58.9 L304 57.4 L306.3 55.8 L308.5 54 L310.7 52 L313 50.4 L315.2 49.2 L317.5 47.6 L319.7 45.3 L322 42.4 L324.2 38.6 L326.5 34.8 L328.7 32.6 L331 32.4 L333.2 32.5 L335.5 32.7 L337.7 33.2 L340 34.8 L342.2 37.2 L344.5 40.4 L346.7 44 L349 46.6 L351.2 48.7 L353.5 50.6 L355.7 52.5 L358 54.5 L360.2 56.2 L362.4 57.2 L364.7 58.1 L366.9 58.8 L369.2 59.4 L371.4 59.8 L373.7 60.1 L375.9 60.5 L378.2 60.7 L380.4 61 L382.7 61.1 L384.9 61.2 L387.2 61.2 L389.4 61.2 L391.7 61.3 L393.9 61.3 L396.2 61.3 L398.4 61.3 L400.7 61.3 L402.9 61.3 L405.2 61.3 L407.4 61.3 L409.7 61.3 L411.9 61.4" fill="none" stroke="#E3434F" stroke-width="0.6"/><path d="M421.4 70.7L421.6 70.7L421.6 72.9L421.6 75.2L421.6 77.4L421.6 79.7L421.6 81.9L421.7 84.2L421.7 86.4L421.7 88.6L421.7 90.9L421.7 93.1L421.8 95.4L421.8 97.6L421.8 99.9L421.9 102.1L421.9 104.4L421.9 106.6L422 108.8L422 111.1L422.1 113.3L422.1 115.6L422.2 117.8L422.3 120.1L422.4 122.3L422.9 124.5L423.9 126.8L425.4 129L427 131.3L428.7 133.5L430.2 135.8L431.9 138L433.8 140.2L436 142.5L439 144.7L443.2 147L446.9 149.2L449.2 151.5L450.9 153.7L451.8 156L452.4 158.2L452.6 160.4L451.3 162.7L449.4 164.9L448.2 167.2L447.2 169.4L446 171.7L444 173.9L441 176.1L438 178.4L435.6 180.6L434 182.9L432.5 185.1L431.1 187.4L429.5 189.6L427.7 191.8L426 194.1L424.7 196.3L423.7 198.6L422.8 200.8L422.2 203.1L422 205.3L421.9 207.6L421.9 209.8L421.8 212L421.7 214.3L421.7 216.5L421.6 218.8L421.6 221L421.6 223.3L421.6 225.5L421.4 225.5Z" fill="#4E79A7" fill-opacity="0.25"/><path d="M421.6 70.7 L421.6 72.9 L421.6 75.2 L421.6 77.4 L421.6 79.7 L421.6 81.9 L421.7 84.2 L421.7 86.4 L421.7 88.6 L421.7 90.9 L421.7 93.1 L421.8 95.4 L421.8 97.6 L421.8 99.9 L421.9 102.1 L421.9 104.4 L421.9 106.6 L422 108.8 L422 111.1 L422.1 113.3 L422.1 115.6 L422.2 117.8 L422.3 120.1 L422.4 122.3 L422.9 124.5 L423.9 126.8 L425.4 129 L427 131.3 L428.7 133.5 L430.2 135.8 L431.9 138 L433.8 140.2 L436 142.5 L439 144.7 L443.2 147 L446.9 149.2 L449.2 151.5 L450.9 153.7 L451.8 156 L452.4 158.2 L452.6 160.4 L451.3 162.7 L449.4 164.9 L448.2 167.2 L447.2 169.4 L446 171.7 L444 173.9 L441 176.1 L438 178.4 L435.6 180.6 L434 182.9 L432.5 185.1 L431.1 187.4 L429.5 189.6 L427.7 191.8 L426 194.1 L424.7 196.3 L423.7 198.6 L422.8 200.8 L422.2 203.1 L422 205.3 L421.9 207.6 L421.9 209.8 L421.8 212 L421.7 214.3 L421.7 216.5 L421.6 218.8 L421.6 221 L421.6 223.3 L421.6 225.5" fill="none" stroke="#4E79A7" stroke-width="0.6"/><path d="M421.4 70.7L421.6 70.7L421.6 72.9L421.6 75.2L421.7 77.4L421.7 79.7L421.8 81.9L421.9 84.2L422 86.4L422.1 88.6L422.3 90.9L422.4 93.1L422.5 95.4L422.7 97.6L422.9 99.9L423.2 102.1L423.5 104.4L423.9 106.6L424.3 108.8L424.8 111.1L425.4 113.3L426.2 115.6L427.2 117.8L428.3 120.1L429.5 122.3L430.8 124.5L432.4 126.8L434.2 129L436.2 131.3L438.2 133.5L440 135.8L441.8 138L443.7 140.2L445.6 142.5L446.9 144.7L447.3 147L447.3 149.2L447 151.5L446 153.7L445 156L443.7 158.2L442.3 160.4L441 162.7L439.6 164.9L438.2 167.2L436.8 169.4L435.5 171.7L434.3 173.9L433.2 176.1L432.1 178.4L431 180.6L430 182.9L429 185.1L428 187.4L426.9 189.6L425.8 191.8L424.7 194.1L424 196.3L423.5 198.6L423.1 200.8L422.7 203.1L422.4 205.3L422.2 207.6L422 209.8L421.9 212L421.8 214.3L421.7 216.5L421.7 218.8L421.6 221L421.6 223.3L421.6 225.5L421.4 225.5Z" fill="#2A9D8F" fill-opacity="0.25"/><path d="M421.6 70.7 L421.6 72.9 L421.6 75.2 L421.7 77.4 L421.7 79.7 L421.8 81.9 L421.9 84.2 L422 86.4 L422.1 88.6 L422.3 90.9 L422.4 93.1 L422.5 95.4 L422.7 97.6 L422.9 99.9 L423.2 102.1 L423.5 104.4 L423.9 106.6 L424.3 108.8 L424.8 111.1 L425.4 113.3 L426.2 115.6 L427.2 117.8 L428.3 120.1 L429.5 122.3 L430.8 124.5 L432.4 126.8 L434.2 129 L436.2 131.3 L438.2 133.5 L440 135.8 L441.8 138 L443.7 140.2 L445.6 142.5 L446.9 144.7 L447.3 147 L447.3 149.2 L447 151.5 L446 153.7 L445 156 L443.7 158.2 L442.3 160.4 L441 162.7 L439.6 164.9 L438.2 167.2 L436.8 169.4 L435.5 171.7 L434.3 173.9 L433.2 176.1 L432.1 178.4 L431 180.6 L430 182.9 L429 185.1 L428 187.4 L426.9 189.6 L425.8 191.8 L424.7 194.1 L424 196.3 L423.5 198.6 L423.1 200.8 L422.7 203.1 L422.4 205.3 L422.2 207.6 L422 209.8 L421.9 212 L421.8 214.3 L421.7 216.5 L421.7 218.8 L421.6 221 L421.6 223.3 L421.6 225.5" fill="none" stroke="#2A9D8F" stroke-width="0.6"/><path d="M421.4 70.7L421.6 70.7L421.6 72.9L421.6 75.2L421.7 77.4L421.8 79.7L421.8 81.9L421.9 84.2L422 86.4L422.1 88.6L422.3 90.9L422.4 93.1L422.5 95.4L422.7 97.6L422.9 99.9L423.1 102.1L423.4 104.4L423.7 106.6L424.1 108.8L424.5 111.1L425.1 113.3L425.9 115.6L426.9 117.8L428 120.1L429.2 122.3L430.3 124.5L431.3 126.8L432.3 129L433.5 131.3L434.7 133.5L436.2 135.8L438 138L440.9 140.2L443.5 142.5L445.1 144.7L446.3 147L447.2 149.2L447.7 151.5L448.1 153.7L448 156L447.7 158.2L447.2 160.4L446.7 162.7L446 164.9L444.8 167.2L442.7 169.4L440.5 171.7L438.6 173.9L436.7 176.1L434.9 178.4L433.3 180.6L431.9 182.9L430.5 185.1L429.3 187.4L428 189.6L426.8 191.8L425.7 194.1L424.8 196.3L424 198.6L423.3 200.8L422.8 203.1L422.5 205.3L422.3 207.6L422.1 209.8L422 212L421.9 214.3L421.8 216.5L421.7 218.8L421.6 221L421.6 223.3L421.6 225.5L421.4 225.5Z" fill="#E9A03F" fill-opacity="0.25"/><path d="M421.6 70.7 L421.6 72.9 L421.6 75.2 L421.7 77.4 L421.8 79.7 L421.8 81.9 L421.9 84.2 L422 86.4 L422.1 88.6 L422.3 90.9 L422.4 93.1 L422.5 95.4 L422.7 97.6 L422.9 99.9 L423.1 102.1 L423.4 104.4 L423.7 106.6 L424.1 108.8 L424.5 111.1 L425.1 113.3 L425.9 115.6 L426.9 117.8 L428 120.1 L429.2 122.3 L430.3 124.5 L431.3 126.8 L432.3 129 L433.5 131.3 L434.7 133.5 L436.2 135.8 L438 138 L440.9 140.2 L443.5 142.5 L445.1 144.7 L446.3 147 L447.2 149.2 L447.7 151.5 L448.1 153.7 L448 156 L447.7 158.2 L447.2 160.4 L446.7 162.7 L446 164.9 L444.8 167.2 L442.7 169.4 L440.5 171.7 L438.6 173.9 L436.7 176.1 L434.9 178.4 L433.3 180.6 L431.9 182.9 L430.5 185.1 L429.3 187.4 L428 189.6 L426.8 191.8 L425.7 194.1 L424.8 196.3 L424 198.6 L423.3 200.8 L422.8 203.1 L422.5 205.3 L422.3 207.6 L422.1 209.8 L422 212 L421.9 214.3 L421.8 216.5 L421.7 218.8 L421.6 221 L421.6 223.3 L421.6 225.5" fill="none" stroke="#E9A03F" stroke-width="0.6"/><path d="M421.4 70.7L421.6 70.7L421.6 72.9L421.8 75.2L421.9 77.4L422.2 79.7L422.5 81.9L422.8 84.2L423.1 86.4L423.5 88.6L424 90.9L424.6 93.1L425.4 95.4L426.2 97.6L427.1 99.9L428.3 102.1L429.7 104.4L431.3 106.6L432.9 108.8L434.4 111.1L435.9 113.3L437.4 115.6L438.8 117.8L440.3 120.1L441.6 122.3L443.2 124.5L444.8 126.8L446 129L446.2 131.3L445.8 133.5L445.2 135.8L444.5 138L443.4 140.2L442.3 142.5L441.5 144.7L440.9 147L440.2 149.2L439.2 151.5L437.9 153.7L436.3 156L434.8 158.2L433.5 160.4L432.4 162.7L431.3 164.9L430.2 167.2L429.2 169.4L428.2 171.7L427.2 173.9L426.3 176.1L425.4 178.4L424.6 180.6L423.9 182.9L423.3 185.1L422.8 187.4L422.6 189.6L422.3 191.8L422.2 194.1L422 196.3L421.9 198.6L421.9 200.8L421.8 203.1L421.8 205.3L421.8 207.6L421.7 209.8L421.7 212L421.7 214.3L421.6 216.5L421.6 218.8L421.6 221L421.6 223.3L421.6 225.5L421.4 225.5Z" fill="#E3434F" fill-opacity="0.25"/><path d="M421.6 70.7 L421.6 72.9 L421.8 75.2 L421.9 77.4 L422.2 79.7 L422.5 81.9 L422.8 84.2 L423.1 86.4 L423.5 88.6 L424 90.9 L424.6 93.1 L425.4 95.4 L426.2 97.6 L427.1 99.9 L428.3 102.1 L429.7 104.4 L431.3 106.6 L432.9 108.8 L434.4 111.1 L435.9 113.3 L437.4 115.6 L438.8 117.8 L440.3 120.1 L441.6 122.3 L443.2 124.5 L444.8 126.8 L446 129 L446.2 131.3 L445.8 133.5 L445.2 135.8 L444.5 138 L443.4 140.2 L442.3 142.5 L441.5 144.7 L440.9 147 L440.2 149.2 L439.2 151.5 L437.9 153.7 L436.3 156 L434.8 158.2 L433.5 160.4 L432.4 162.7 L431.3 164.9 L430.2 167.2 L429.2 169.4 L428.2 171.7 L427.2 173.9 L426.3 176.1 L425.4 178.4 L424.6 180.6 L423.9 182.9 L423.3 185.1 L422.8 187.4 L422.6 189.6 L422.3 191.8 L422.2 194.1 L422 196.3 L421.9 198.6 L421.9 200.8 L421.8 203.1 L421.8 205.3 L421.8 207.6 L421.7 209.8 L421.7 212 L421.7 214.3 L421.6 216.5 L421.6 218.8 L421.6 221 L421.6 223.3 L421.6 225.5" fill="none" stroke="#E3434F" stroke-width="0.6"/><clipPath id="cb"><rect x="249.2" y="63.5" width="170.3" height="169.6"/></clipPath><g clip-path="url(#cb)"><ellipse cx="328.2" cy="162.6" rx="35.95" ry="22.93" transform="rotate(63.74 328.2 162.6)" fill="#4E79A7" fill-opacity="0.12"/><ellipse cx="335.3" cy="151.3" rx="45.41" ry="33.96" transform="rotate(78.34 335.3 151.3)" fill="#2A9D8F" fill-opacity="0.12"/><ellipse cx="334.7" cy="151.1" rx="40.60" ry="34.38" transform="rotate(82.45 334.7 151.1)" fill="#E9A03F" fill-opacity="0.12"/><ellipse cx="334.3" cy="135.1" rx="43.82" ry="29.28" transform="rotate(109.83 334.3 135.1)" fill="#E3434F" fill-opacity="0.12"/><path d="M334.7 158h1.7M316.9 194.7h1.7M334.6 157.3h1.7M328.3 143.4h1.7M328.6 136.9h1.7M323.9 148.6h1.7M329.4 137.7h1.7M337.6 172.2h1.7M330.9 137.1h1.7M290.7 136.5h1.7M336.9 169.4h1.7M329.5 165.7h1.7M320.6 141.8h1.7M294.6 151.2h1.7M350.1 129.4h1.7M321.3 161.5h1.7M328 146.7h1.7M315.6 156.3h1.7M325.1 118.4h1.7M331 140.8h1.7M301.6 158.5h1.7M327.7 159.4h1.7M316.7 153.6h1.7M321.8 154.4h1.7M294.4 146.2h1.7M318.5 182h1.7M328.1 162.8h1.7M304.5 133.9h1.7M327.5 151.3h1.7M319.4 140.7h1.7M326.1 163.1h1.7M312.1 151.2h1.7M304 160.7h1.7M332.5 164h1.7M330.6 145h1.7M350.4 147h1.7M316.8 161.3h1.7M323.3 144.1h1.7M340.2 181h1.7M318.8 167.8h1.7M321.3 141.2h1.7M328.5 134.3h1.7M342.4 158h1.7M324.2 170.9h1.7M316.1 139.3h1.7M337.9 163.6h1.7M312.2 148h1.7M321.2 145.8h1.7M331.4 165h1.7M329.9 166.1h1.7M342.4 124.9h1.7M321.3 177.5h1.7M350.2 148.2h1.7M325 158.2h1.7M339.2 110.9h1.7M319 151h1.7M325.8 159.6h1.7M319.8 169.1h1.7M324.8 158.8h1.7M316.6 169.9h1.7M314.8 144.4h1.7M325.8 139.7h1.7M328.7 138.4h1.7M322.5 178h1.7M333.4 142.8h1.7M329.6 149.3h1.7M340.6 171.7h1.7M319.2 174.3h1.7M322.5 161.9h1.7M318.5 155.9h1.7" stroke="#4E79A7" stroke-opacity="0.32" stroke-width="1.7" fill="none"/><path d="M320.2 163.3h1.7M322.4 173.6h1.7M339 170.2h1.7M320.4 174.3h1.7M331 135.8h1.7M336.3 154.7h1.7M351.3 183.2h1.7M325.1 159.3h1.7M329.3 147.9h1.7M312.5 157.2h1.7M341.4 171.8h1.7M326.2 161.9h1.7M295.7 151.2h1.7M326.3 140.8h1.7M317.7 148.2h1.7M334.7 159.6h1.7M341.6 177.2h1.7M306.8 136.2h1.7M352.8 140.1h1.7M318.8 156.9h1.7M319.1 151.3h1.7M346.2 159.6h1.7M303.5 105.9h1.7M336.6 193.1h1.7M316.7 160.7h1.7M330.9 171.6h1.7M330.7 164.1h1.7M320.3 144h1.7M339.2 182.4h1.7M336.3 130.4h1.7M330 173h1.7M324.4 175.8h1.7M315.7 150h1.7M319.3 162h1.7M313.8 152.7h1.7M326.2 175.5h1.7M327.4 146h1.7M319.9 145.8h1.7M329.9 178.9h1.7M338.8 161.4h1.7M325.2 158.9h1.7M324.1 166.5h1.7M326.8 165.6h1.7M343.5 165.9h1.7M333.8 164.7h1.7M328.7 151h1.7M339.3 175.9h1.7M319.9 146.6h1.7M319.8 154.9h1.7M328.3 168.7h1.7M334.6 143.1h1.7M321.2 123.9h1.7M330.7 159.2h1.7M343.8 169.6h1.7M318.3 131.8h1.7M335.5 184.4h1.7M324.5 169.5h1.7M335.8 165.9h1.7M312.6 128.7h1.7M342.6 133.7h1.7M322 149.8h1.7M320.5 152.8h1.7M330.1 165.4h1.7M336.4 156.4h1.7M326.8 159.5h1.7M331.1 172.1h1.7M349.9 141.6h1.7M325.7 155.8h1.7M326.7 152.9h1.7M338.4 177.3h1.7" stroke="#4E79A7" stroke-opacity="0.32" stroke-width="1.7" fill="none"/><path d="M322.4 157.8h1.7M345.7 161.9h1.7M362.5 119.7h1.7M342.8 166.9h1.7M305.9 170.7h1.7M336.4 146.2h1.7M334.3 143.3h1.7M331.2 153h1.7M316.1 166.8h1.7M325.3 132.8h1.7M325.5 168.3h1.7M329.6 190.2h1.7M344.5 153.8h1.7M333.3 164.7h1.7M332 175h1.7M311.9 157.8h1.7M314.9 159.7h1.7M322 161.4h1.7M334.8 178.2h1.7M322.9 162.6h1.7M338.3 168.4h1.7M345.6 186.5h1.7M321 123.6h1.7M319.6 129.2h1.7M300.2 140.7h1.7M332.8 181.5h1.7M320.2 127.8h1.7M316.2 151.8h1.7M303.5 149.2h1.7M338.3 144.7h1.7M323.1 173.7h1.7M309.2 115.6h1.7M329.6 137.8h1.7M352 148.2h1.7M328.4 138.7h1.7M352.1 136.2h1.7M308.4 147.2h1.7M352.8 143.5h1.7M329.4 149.5h1.7M330.1 178.8h1.7M341.6 148.5h1.7M304.2 123.1h1.7M313.3 150.7h1.7M324.1 166.5h1.7M323.7 158.5h1.7M372.9 147.2h1.7M327.4 162.6h1.7M332.2 169.3h1.7M306.8 124.1h1.7M333.6 174.3h1.7M325.1 161.7h1.7M309.5 155.1h1.7M331.3 155.9h1.7M319.7 154.4h1.7M338.7 138.2h1.7M320.6 165.4h1.7M317.8 168.8h1.7M326.9 178.9h1.7M337.9 159.6h1.7M330.1 176.3h1.7M336.8 165.4h1.7M322.6 168.8h1.7M307 151.3h1.7M338.3 165.4h1.7M322.7 133.7h1.7M356.6 136.6h1.7M329.6 157.5h1.7M334 165.4h1.7M323.9 171.8h1.7M329.2 158.9h1.7" stroke="#4E79A7" stroke-opacity="0.32" stroke-width="1.7" fill="none"/><path d="M305.8 162.2h1.7M328.4 152.5h1.7M319.3 154.2h1.7M326 159.9h1.7M336.3 149.8h1.7M318.7 142.1h1.7M315.7 152h1.7M324.4 137.8h1.7M336.1 174.3h1.7M334.9 175.6h1.7M335.6 169.5h1.7M339.9 160.7h1.7M334.8 158.5h1.7M328.9 166.7h1.7M317.6 141.2h1.7M338.2 166.8h1.7M338 144.2h1.7M333.1 173.2h1.7M322.6 138.9h1.7M315.1 154.6h1.7M301.3 158.6h1.7M320.9 149.3h1.7M343.7 168.8h1.7M336 165.1h1.7M301 142.3h1.7M341.3 180.1h1.7M336.2 174.1h1.7M305.9 141h1.7M339 158.7h1.7M327.6 140.2h1.7M331.7 184.4h1.7M326.1 174.5h1.7M329.2 154.5h1.7M338.3 163.6h1.7M306.8 165.4h1.7M315.4 156h1.7M336.1 174.5h1.7M324.2 159.7h1.7M302.2 138.6h1.7M330.2 162.7h1.7M343.9 170h1.7M329.1 152.3h1.7M329.2 170h1.7M343.5 158.5h1.7M333 159.1h1.7M334.4 187.7h1.7M310.7 163.1h1.7M330.7 161.1h1.7M326 141.9h1.7M356.4 149.5h1.7M329.3 178.5h1.7M335.3 182.4h1.7M319.8 157.2h1.7M335.8 162.8h1.7M339.5 169.5h1.7M330.2 152.9h1.7M305.7 153.4h1.7M331.8 149.6h1.7M329.8 140.3h1.7M312.8 165.3h1.7M342.3 165.2h1.7M331.2 175.7h1.7M343.4 164.5h1.7M316.5 165.1h1.7M326.2 161.4h1.7M336.5 120.7h1.7M322.5 121.4h1.7M329.4 172.1h1.7M321.8 145.1h1.7M313.8 159.6h1.7" stroke="#4E79A7" stroke-opacity="0.32" stroke-width="1.7" fill="none"/><path d="M327.3 160.6h1.7M340.4 163.5h1.7M317.7 160.1h1.7M327.7 128.3h1.7M307.7 153.9h1.7M343.5 143.6h1.7M325.5 144.8h1.7M334.6 178.5h1.7M339 171h1.7M308.5 156.4h1.7M322 148.9h1.7M332.9 159.4h1.7M329.6 154.9h1.7M322.9 147h1.7M355 193.3h1.7M316.9 171.2h1.7M325.8 179.6h1.7M342.6 180.6h1.7M323.3 159.4h1.7M313.6 150.7h1.7M292.4 150.3h1.7M345.7 168h1.7M329 172.5h1.7M328.3 176.3h1.7M319.8 170.2h1.7M336.5 153.3h1.7M318 164.3h1.7M330.3 140.3h1.7M323.5 173.8h1.7M324.6 171.1h1.7M331.4 171.5h1.7M338 134.8h1.7M316.6 169.2h1.7M346.1 155.6h1.7M336.4 160.1h1.7M320.6 152.5h1.7M325.7 96.5h1.7M325.3 164h1.7M325.9 168h1.7M305.2 156.2h1.7M342.1 153.4h1.7M334.4 149.5h1.7M309.8 132.5h1.7M337 161.3h1.7M337.1 173.2h1.7M314 146.6h1.7M331.4 150.4h1.7M321.6 132.9h1.7M339.5 137.4h1.7M337.1 143.5h1.7M342.9 114.9h1.7M325.4 155.6h1.7M319.8 163.1h1.7M324.9 156.7h1.7M342 168.2h1.7M304.7 140.1h1.7M333.7 147.9h1.7M329 170.8h1.7M329.3 147.6h1.7M319 139.9h1.7M331.4 165.4h1.7M302.4 156.5h1.7M332.3 162.1h1.7M318.8 141.1h1.7M313.5 154.6h1.7M315.2 172.3h1.7M337.1 169.4h1.7M332 180.3h1.7M335 181.4h1.7M333.6 183h1.7" stroke="#4E79A7" stroke-opacity="0.32" stroke-width="1.7" fill="none"/><path d="M331.7 166.9h1.7M311 146h1.7M327.9 172.9h1.7M338.1 157.8h1.7M330.4 172.5h1.7M312.1 166.5h1.7M321.1 152.8h1.7M331.5 171.2h1.7M307.9 142.6h1.7M337.2 162.1h1.7M323.6 154h1.7M326.3 159.2h1.7M322.5 157.3h1.7M322.2 154.2h1.7M303.4 118.8h1.7M326.4 146.2h1.7M304.9 149.1h1.7M334.8 153h1.7M345.5 149h1.7M314.5 163.7h1.7M322.8 142.1h1.7M328.7 159.5h1.7M344 174.5h1.7M327.9 139.9h1.7M340.5 165.9h1.7M318.7 156.5h1.7M331.1 164.9h1.7M301 157.9h1.7M323.9 143.3h1.7M336.6 179.9h1.7M317.8 151.5h1.7M323.7 183.2h1.7M368.4 139.6h1.7M335.5 175.5h1.7M314.5 140.5h1.7M305.8 143.9h1.7M320.7 147.7h1.7M323.1 160h1.7M338.4 159.6h1.7M334.9 167.3h1.7M333.2 192.7h1.7M307.8 143.4h1.7M284.7 139.2h1.7M324.3 169.1h1.7M340.1 181.6h1.7M321.8 144h1.7M329.4 160.3h1.7M299.9 154.3h1.7M293.3 128.3h1.7M325.9 148.3h1.7M340.8 162.3h1.7M351.5 160.6h1.7M327.9 159.8h1.7M329.6 170.7h1.7M325.8 141.7h1.7M312.2 151.5h1.7M303.7 162.8h1.7M329.1 165.4h1.7M354.7 162.2h1.7M321.9 151.5h1.7M328.5 160.8h1.7M324.9 156.9h1.7M309.4 129.8h1.7M346.2 137.4h1.7M340.7 156h1.7M320.4 150h1.7M313.7 133.8h1.7M315 157.6h1.7M324.4 162.8h1.7M359.5 140.9h1.7" stroke="#4E79A7" stroke-opacity="0.32" stroke-width="1.7" fill="none"/><path d="M342.1 173.2h1.7M327.2 163.3h1.7M310 98.2h1.7M342.2 135h1.7M342.6 130h1.7M350.6 112.4h1.7M324.2 160.5h1.7M328.8 148.8h1.7M354 145h1.7M313.9 120h1.7M341.3 160.3h1.7M337.3 118.1h1.7M355.5 139.7h1.7M327.1 138.4h1.7M369.1 122.9h1.7M331.5 175.5h1.7M366.2 133.4h1.7M335 136.7h1.7M305.8 142.2h1.7M321.7 105.9h1.7M315 162.7h1.7M343.6 158.1h1.7M327.9 155.1h1.7M332.4 118.4h1.7M311.5 137.8h1.7M320.6 176.3h1.7M335.8 145.6h1.7M368 137.1h1.7M343.3 174h1.7M350.3 148.4h1.7M363.6 150.5h1.7M365.9 125.1h1.7M327.5 119.1h1.7M306.3 129.7h1.7M309.6 126h1.7M326.6 173.7h1.7M319.5 113.8h1.7M359.4 118.9h1.7M349.2 134.9h1.7M330.7 156.8h1.7M346 173.5h1.7M333.9 155.1h1.7M333.5 154.5h1.7M332.2 116h1.7M329.7 154.8h1.7M342.3 128.9h1.7M360 169.5h1.7M342.9 146.4h1.7M346.9 133h1.7M368.2 128.9h1.7M314.3 170.5h1.7M322.1 139.8h1.7M351.7 176.1h1.7M342.3 140.6h1.7M334.7 177.8h1.7M325.5 134.5h1.7M326.3 157.5h1.7M361.5 143.4h1.7M287.6 136.7h1.7M325.2 150.9h1.7M317.5 159.2h1.7M327.2 139.1h1.7M315.7 120.1h1.7M318.4 137.4h1.7M342 140.9h1.7M345.2 169.8h1.7M361.7 104.4h1.7M350.1 161.4h1.7M375.7 175.6h1.7M345 142h1.7" stroke="#2A9D8F" stroke-opacity="0.32" stroke-width="1.7" fill="none"/><path d="M339 176.5h1.7M329.6 177.5h1.7M322 142h1.7M358 127h1.7M342.3 165.9h1.7M351.5 173.6h1.7M332.5 130.6h1.7M368.6 120.6h1.7M370.6 151h1.7M327.4 105h1.7M355.8 114.5h1.7M327.9 170.2h1.7M338.6 160.3h1.7M328.8 155.4h1.7M357.1 156.2h1.7M335.3 142.2h1.7M338.1 117.4h1.7M341.5 116.9h1.7M311.9 145.4h1.7M331.8 121.2h1.7M327.2 179.6h1.7M345.6 109.2h1.7M353.8 116.7h1.7M326.8 152.9h1.7M325.8 162.8h1.7M333.2 162.9h1.7M330.1 144.8h1.7M343.7 174.2h1.7M341 166.6h1.7M332.6 146.3h1.7M361.7 126.3h1.7M344 108.3h1.7M318.2 108h1.7M338.3 144.5h1.7M305.2 145.7h1.7M323.9 140.7h1.7M328.3 163.3h1.7M347.7 159.8h1.7M337 182.4h1.7M334.1 136.4h1.7M345.1 149.7h1.7M360.4 146.6h1.7M356.9 129.5h1.7M331.4 149.9h1.7M329.9 140.1h1.7M358.9 129.4h1.7M330 180.5h1.7M347.5 145.4h1.7M322.9 111.8h1.7M330.2 177.5h1.7M324.9 152.9h1.7M285.2 115.2h1.7M337.1 147.5h1.7M343.4 123.1h1.7M322 158.7h1.7M326.4 141.5h1.7M323.4 142h1.7M343.6 121.7h1.7M347.9 137.6h1.7M329.9 118.8h1.7M329.4 139.7h1.7M347.5 163.4h1.7M387.2 129.8h1.7M329 140.5h1.7M354.6 146.1h1.7M323.1 142.7h1.7M335.1 147.1h1.7M334 161.4h1.7M329.2 154.1h1.7M328.2 120.4h1.7" stroke="#2A9D8F" stroke-opacity="0.32" stroke-width="1.7" fill="none"/><path d="M317.3 139.6h1.7M338.3 111.6h1.7M313 149.8h1.7M330.6 136.5h1.7M301.8 103.8h1.7M337.7 146.1h1.7M322.9 137.3h1.7M346.9 178.8h1.7M353.1 147.8h1.7M308 104.9h1.7M357.7 139.5h1.7M338.8 150.1h1.7M335.4 164.4h1.7M331.9 159.5h1.7M309.9 142.5h1.7M320.4 148.8h1.7M330.1 164.4h1.7M362.9 179.2h1.7M341.5 144.2h1.7M329.9 135.8h1.7M339.4 126.4h1.7M331 155h1.7M327.1 130.4h1.7M345.7 141.9h1.7M303 132.9h1.7M368.6 148.4h1.7M308.3 146.7h1.7M337 146.2h1.7M353.5 124.5h1.7M330.6 154.5h1.7M320 163.7h1.7M339.7 144.8h1.7M346.9 155.3h1.7M317.9 136.3h1.7M342 164.1h1.7M330.7 147.1h1.7M337.9 145.3h1.7M347.7 125h1.7M339.9 136h1.7M369 149h1.7M334.6 118.2h1.7M325 147.6h1.7M352.2 162h1.7M400 95.3h1.7M365 171.2h1.7M348.4 120.4h1.7M318.9 156.1h1.7M325.7 157.1h1.7M319 130.7h1.7M344.4 127.9h1.7M317.1 148.7h1.7M355.1 116.9h1.7M328.6 139.7h1.7M350.8 159.2h1.7M320.4 167.5h1.7M335 135.2h1.7M320.1 157.7h1.7M335.7 159.4h1.7M349.4 137.2h1.7M298.5 154.6h1.7M332.7 166.4h1.7M346.6 155.8h1.7M341.8 148.8h1.7M345.1 132.8h1.7M336.6 124.7h1.7M335.3 146.4h1.7M317.4 130.3h1.7M352.9 171h1.7M331.3 122.8h1.7M348.8 156.7h1.7" stroke="#2A9D8F" stroke-opacity="0.32" stroke-width="1.7" fill="none"/><path d="M315.9 149.9h1.7M331.4 118.3h1.7M338.3 162.1h1.7M352.4 104.2h1.7M314.7 130.8h1.7M343.6 156.1h1.7M329.8 145.3h1.7M337.3 176.4h1.7M352.5 152.1h1.7M326.8 173.9h1.7M318 132.2h1.7M305 136.3h1.7M330.6 179.9h1.7M299.4 114.9h1.7M329.4 126h1.7M364.1 137h1.7M355.1 126.3h1.7M327.3 167.2h1.7M318.1 124.9h1.7M315.4 140.8h1.7M346.5 126.8h1.7M339.6 142.8h1.7M323.4 169.2h1.7M330.3 171h1.7M344.7 151.5h1.7M336.4 161.4h1.7M347.9 153.9h1.7M312.3 131.8h1.7M335.8 114.9h1.7M339.9 144.4h1.7M341.5 150.2h1.7M341.8 173.6h1.7M319.3 149.5h1.7M331.3 140.6h1.7M340.1 117.9h1.7M338.6 146.8h1.7M300.5 119.2h1.7M336.9 154.4h1.7M320.8 165.2h1.7M331.9 174.3h1.7M333.1 156.2h1.7M329.3 147.4h1.7M310.3 87.3h1.7M336 136.5h1.7M329.4 133.7h1.7M309.9 139.9h1.7M331.4 160.6h1.7M349.6 121.3h1.7M303.5 127.8h1.7M310 131.3h1.7M316.5 96.4h1.7M344.1 157.8h1.7M316.5 99.9h1.7M330.8 165.1h1.7M329.4 134.3h1.7M304.3 135.5h1.7M371.6 133.2h1.7M333.9 101.1h1.7M337.2 181.2h1.7M333 93.3h1.7M342.9 170.1h1.7M347.5 155.1h1.7M326 84h1.7M341.6 116.6h1.7M339 144.1h1.7M336.5 165.4h1.7M337.2 134.5h1.7M353.1 159.2h1.7M331.9 125.7h1.7M323 154.9h1.7" stroke="#2A9D8F" stroke-opacity="0.32" stroke-width="1.7" fill="none"/><path d="M336.4 146.5h1.7M349.2 181.8h1.7M361.4 128.9h1.7M347.5 156.9h1.7M324.7 157.5h1.7M332.5 125.1h1.7M357.8 126.6h1.7M325.5 136.3h1.7M330.4 150.9h1.7M310.2 142h1.7M308.5 119h1.7M324.4 142.1h1.7M324 121.5h1.7M344.4 135.8h1.7M331.4 108.1h1.7M322.2 164.8h1.7M351.6 174.8h1.7M346.3 205.7h1.7M331.5 157.5h1.7M334.9 152.1h1.7M341 114.5h1.7M347.4 175.5h1.7M340.3 162h1.7M328.9 154.9h1.7M340.9 165.9h1.7M330.7 178.2h1.7M327.2 151.8h1.7M346 183.1h1.7M302.4 129.6h1.7M322.3 139.3h1.7M359.4 145.9h1.7M323.4 154.6h1.7M317.8 92.9h1.7M338.5 147.6h1.7M316.4 147.7h1.7M341.2 155.9h1.7M323.1 134.3h1.7M327.5 155.8h1.7M360.3 136h1.7M334.9 148.4h1.7M344.3 155.1h1.7M288.2 101.2h1.7M314.4 127.8h1.7M339 133h1.7M338.6 168.2h1.7M324.7 121.9h1.7M330.5 134.6h1.7M336.2 162.4h1.7M318.9 125.1h1.7M334.5 147h1.7M334.3 150.7h1.7M351.3 171.9h1.7M336.9 142.6h1.7M353.7 146.4h1.7M356.6 161h1.7M347.4 127.3h1.7M353.3 110.8h1.7M336.6 164.4h1.7M322.7 91.7h1.7M293.1 137.3h1.7M326.6 145.9h1.7M348.6 163h1.7M321.5 148.4h1.7M347.5 131.6h1.7M326.3 172.8h1.7M328.1 117.4h1.7M339 171.8h1.7M346.5 177.9h1.7M337.2 149.8h1.7M328.3 136.5h1.7" stroke="#2A9D8F" stroke-opacity="0.32" stroke-width="1.7" fill="none"/><path d="M313.6 146.5h1.7M334.2 157.4h1.7M328.5 152.6h1.7M342.7 138.8h1.7M322.8 95.2h1.7M330.2 162.5h1.7M298.3 140.4h1.7M328.9 176.9h1.7M336.6 143.5h1.7M309.1 134.4h1.7M331.6 154.9h1.7M339.9 155.7h1.7M334.5 178.8h1.7M355.1 163.7h1.7M347.2 148.6h1.7M337 152.2h1.7M333 209.5h1.7M324 120.4h1.7M351.1 126.3h1.7M342.3 122.5h1.7M369 146.7h1.7M336.2 147.8h1.7M343.6 162.1h1.7M329.4 131.4h1.7M311.3 140.9h1.7M346.9 172.8h1.7M339.3 160.7h1.7M319.1 165.4h1.7M313.1 158.1h1.7M345.7 146.3h1.7M340.3 139.7h1.7M348.9 157.5h1.7M355.4 121.9h1.7M321.5 150.6h1.7M337.5 141.3h1.7M345.7 109.5h1.7M353.7 156.5h1.7M310.6 135h1.7M335.2 139.5h1.7M347.1 136.1h1.7M329 134.7h1.7M314.2 159.1h1.7M331.6 159h1.7M338.5 161h1.7M346.1 179.1h1.7M321.5 144.9h1.7M338.3 123.5h1.7M312.8 130.8h1.7M356.4 125.5h1.7M320.6 173.3h1.7M348 159.5h1.7M297.4 121.7h1.7M329.5 98.8h1.7M308.3 82h1.7M309.1 143.7h1.7M345.7 163.8h1.7M319.3 126.5h1.7M351.6 160.6h1.7M337.1 159.3h1.7M333 168.1h1.7M312.7 134.6h1.7M350.4 151.8h1.7M333.7 130.4h1.7M289.5 141.4h1.7M338.3 117.1h1.7M318.6 133.4h1.7M354.2 66h1.7M332.6 132h1.7M348.3 151.5h1.7" stroke="#2A9D8F" stroke-opacity="0.32" stroke-width="1.7" fill="none"/><path d="M338.2 145.7h1.7M331.5 161.5h1.7M306 146.7h1.7M326.9 151h1.7M332.9 164.5h1.7M321.6 160.3h1.7M352.2 125.9h1.7M351.2 165.3h1.7M351.5 165.4h1.7M346.1 153.6h1.7M335.8 163.1h1.7M333.4 162.5h1.7M342.3 171.9h1.7M348 120.2h1.7M323.8 151.3h1.7M325.7 171h1.7M347.3 138.2h1.7M293.4 162.3h1.7M321.6 149.4h1.7M322.6 146.1h1.7M331.6 167.3h1.7M354.3 163h1.7M338.6 159.1h1.7M350.1 166.7h1.7M324.4 139.5h1.7M347.3 161.7h1.7M350.3 216.7h1.7M317 143.4h1.7M319.1 148.4h1.7M322 115.4h1.7M326.1 152.5h1.7M318.1 155.5h1.7M325.8 142.5h1.7M350.3 140.3h1.7M338.2 161.9h1.7M330.7 161.1h1.7M322.9 147.2h1.7M341.8 174.4h1.7M342.1 139.1h1.7M329.8 117.1h1.7M326.7 153.3h1.7M347.9 145h1.7M338.8 150.5h1.7M295.4 144.7h1.7M308.5 141.4h1.7M323 149.2h1.7M332.4 148.7h1.7M355.5 127.9h1.7M335.6 146h1.7M334.4 130h1.7M326.2 190.6h1.7M324.6 134.1h1.7M334.5 101.3h1.7M329.2 147.5h1.7M346.2 168h1.7M341.1 139.4h1.7M327.2 136.9h1.7M351.7 155.3h1.7M320.6 199h1.7M292.6 121.6h1.7M335.2 158.3h1.7M355.9 148.4h1.7M351.4 113.5h1.7M325.2 156.5h1.7M325.6 171.2h1.7M329.1 163.7h1.7M337.1 119.6h1.7M327.5 161.2h1.7M317.2 136.1h1.7M327.5 152.5h1.7" stroke="#E9A03F" stroke-opacity="0.32" stroke-width="1.7" fill="none"/><path d="M351.6 139.7h1.7M376.1 148.4h1.7M335.5 98.9h1.7M327.9 168.1h1.7M360.1 150.8h1.7M360.8 140.8h1.7M295.4 145.6h1.7M312.3 153.9h1.7M345.5 151.2h1.7M346.3 131.5h1.7M330.9 134.9h1.7M351.9 114.7h1.7M342.1 105.6h1.7M319.3 140.9h1.7M344.8 150.6h1.7M337.7 126.3h1.7M315.9 164.1h1.7M323.3 160.3h1.7M359.4 135.9h1.7M370.6 144.1h1.7M334.1 131.9h1.7M355.1 156.8h1.7M319.8 154.5h1.7M356.3 151.3h1.7M304.2 125.2h1.7M336 117.2h1.7M358.8 148.4h1.7M361.4 187.5h1.7M351.1 167.3h1.7M348.6 156.3h1.7M343.8 137.6h1.7M328.7 157.5h1.7M311.1 122.3h1.7M320 143.3h1.7M317.5 133h1.7M321.2 143.2h1.7M336.9 156.2h1.7M320.8 109.2h1.7M327.8 155.9h1.7M323.9 118.7h1.7M338.9 147.8h1.7M300.2 149.6h1.7M299.5 139.9h1.7M332.8 136.7h1.7M323 151.2h1.7M332.4 179.2h1.7M337 161h1.7M331.7 153.1h1.7M327.1 174.1h1.7M325.1 155.8h1.7M301.7 133.1h1.7M337.5 151.8h1.7M331.3 158.8h1.7M349.6 134.7h1.7M367.3 139.6h1.7M333.3 146.3h1.7M333.8 141.7h1.7M351.4 151.7h1.7M336.3 147.8h1.7M321.6 165.9h1.7M333.4 161.2h1.7M345.6 121.4h1.7M325.6 145.9h1.7M365.2 117h1.7M320.9 134h1.7M335.6 137.8h1.7M334 163.6h1.7M348.9 89.7h1.7M335.7 134.7h1.7M356.3 140.5h1.7" stroke="#E9A03F" stroke-opacity="0.32" stroke-width="1.7" fill="none"/><path d="M340.6 140.5h1.7M341.2 152.8h1.7M318.3 140.6h1.7M343 193.8h1.7M342.4 175.1h1.7M345.9 128.4h1.7M311.3 169.5h1.7M311.8 143h1.7M359.1 136.7h1.7M296.3 135.2h1.7M309.6 127.7h1.7M337 172.2h1.7M343.5 124.3h1.7M346.1 153.9h1.7M313.1 165.3h1.7M328.8 145.9h1.7M354.3 135.6h1.7M296.7 122.4h1.7M337.4 150.9h1.7M343.8 167.4h1.7M339.2 161.9h1.7M357.4 132.4h1.7M330.1 151.8h1.7M337.9 107.3h1.7M336.6 153.3h1.7M313.6 98.8h1.7M339.7 138h1.7M328.2 154.7h1.7M331.8 111.6h1.7M349.9 122.7h1.7M331.2 159.1h1.7M348.4 164.5h1.7M304.9 138.4h1.7M319.1 166.5h1.7M348.5 146h1.7M320.4 163.8h1.7M359.2 162h1.7M343.6 161.8h1.7M325.1 153.3h1.7M356.6 149.7h1.7M347.6 136.9h1.7M331.2 158.9h1.7M360.3 156.6h1.7M318.5 166.1h1.7M348.7 166h1.7M341.2 144.6h1.7M318.1 136.4h1.7M339.6 148.8h1.7M337.8 144.8h1.7M337.2 155.5h1.7M339.1 135.7h1.7M304.8 124.2h1.7M331.9 155.5h1.7M333.3 137.3h1.7M313.6 137.5h1.7M336.4 132.7h1.7M368.1 101.4h1.7M293.6 137.1h1.7M315.2 140.6h1.7M338.4 151.8h1.7M298.8 110.8h1.7M319.5 119.9h1.7M338.4 152.2h1.7M334.6 129.8h1.7M329.1 163.1h1.7M325.6 142.2h1.7M328.3 131.5h1.7M344.4 173.9h1.7M334.2 131.4h1.7M329.8 117.8h1.7" stroke="#E9A03F" stroke-opacity="0.32" stroke-width="1.7" fill="none"/><path d="M337.1 152.5h1.7M362.2 166.1h1.7M321.9 153h1.7M326.4 116.5h1.7M332.9 139.9h1.7M336 176.4h1.7M293.7 129.8h1.7M325.3 136.8h1.7M339.2 151.5h1.7M330.8 112.7h1.7M349.7 155.7h1.7M320.6 146.7h1.7M322.1 148.3h1.7M342.6 155.8h1.7M331 172h1.7M341.4 164.2h1.7M351.5 171.7h1.7M373.9 88.3h1.7M339.3 145.6h1.7M346.4 140.3h1.7M347.2 135.7h1.7M371.5 154.4h1.7M337.5 149.4h1.7M334.8 114.8h1.7M341.4 157.6h1.7M362.4 163.5h1.7M338 146.6h1.7M354.8 146.2h1.7M323.1 151.1h1.7M321.3 125.6h1.7M320.1 162h1.7M329.9 132.3h1.7M300.7 137.8h1.7M332.5 151.5h1.7M289.1 112h1.7M313.7 147.6h1.7M343.9 141.6h1.7M328.8 139.7h1.7M332.9 129.6h1.7M345.2 105h1.7M344.3 108.5h1.7M334.1 117.1h1.7M313.2 162.9h1.7M332.1 142.5h1.7M341.8 152.7h1.7M346 141.9h1.7M341 121.6h1.7M332.5 169.5h1.7M356.6 139.5h1.7M365 162.7h1.7M342 159.9h1.7M323.3 143.3h1.7M334.7 127.6h1.7M334.3 157.9h1.7M334.5 167.8h1.7M342.5 105.2h1.7M334.3 94.5h1.7M300.5 130.6h1.7M333.3 145.9h1.7M318 143.4h1.7M322 150.8h1.7M318.4 127.7h1.7M329.7 154.7h1.7M335.9 145.7h1.7M328.6 139.1h1.7M338.4 156.8h1.7M334.8 157.3h1.7M351.1 157.9h1.7M337.6 151.5h1.7M364.2 142.1h1.7" stroke="#E9A03F" stroke-opacity="0.32" stroke-width="1.7" fill="none"/><path d="M343.5 128h1.7M346.6 156.8h1.7M314.8 159.5h1.7M325.1 147.7h1.7M341.5 164.1h1.7M336.3 136h1.7M312.5 139h1.7M344.9 130.9h1.7M331.4 155.3h1.7M330.4 170h1.7M331.9 151.4h1.7M337.7 179.3h1.7M330.2 164.6h1.7M325.5 178.3h1.7M338.7 169.6h1.7M318.7 162.4h1.7M327 118.5h1.7M252.4 167h1.7M345.5 166.5h1.7M316.3 166.6h1.7M321.9 158.1h1.7M333.5 176.4h1.7M354.5 164.1h1.7M348.6 145.8h1.7M337 162.8h1.7M313.9 145.5h1.7M321.7 130.6h1.7M309 126.1h1.7M316.3 164.5h1.7M317.2 142.7h1.7M352.8 134.9h1.7M297.4 112h1.7M323.1 159.4h1.7M340.3 143.7h1.7M355.9 129.9h1.7M334.5 159.1h1.7M346.3 164.5h1.7M371.4 145.3h1.7M334.6 132.8h1.7M307 145h1.7M337.4 153.5h1.7M319.4 136.7h1.7M319 147.9h1.7M326.2 152.7h1.7M327.1 157.4h1.7M350.1 166.4h1.7M319.3 127h1.7M326.6 140.2h1.7M333 147.4h1.7M330.6 147.6h1.7M322.6 107.4h1.7M329 140.8h1.7M295.1 159.4h1.7M341.4 153.1h1.7M311.4 132.9h1.7M326.3 138.8h1.7M345.2 140.4h1.7M339.1 151h1.7M326.1 149.1h1.7M343.4 169.4h1.7M341.9 173.5h1.7M352 145.2h1.7M294.5 98.8h1.7M349.4 123.5h1.7M346.2 155.5h1.7M306.5 141.8h1.7M337.7 153.1h1.7M341.7 144.9h1.7M323 129.5h1.7M349 171.9h1.7" stroke="#E9A03F" stroke-opacity="0.32" stroke-width="1.7" fill="none"/><path d="M332.4 139h1.7M372.9 122.8h1.7M349.5 160.3h1.7M313.6 162.1h1.7M345.3 166h1.7M339 155.1h1.7M353.8 132.4h1.7M361.9 138.2h1.7M313.7 124.2h1.7M344.9 183.7h1.7M324.7 150.2h1.7M345.5 147h1.7M340.9 111.9h1.7M352.2 123.3h1.7M348.9 170.5h1.7M333 127.8h1.7M333.4 154.7h1.7M339.5 98.6h1.7M316.4 168.1h1.7M346.7 159.3h1.7M319.7 149.7h1.7M328.4 145.2h1.7M332.7 153.1h1.7M310.6 136.9h1.7M331.6 112.7h1.7M348.3 126h1.7M356.6 154.8h1.7M335.7 138.7h1.7M333.4 114.5h1.7M343.3 171.1h1.7M305.5 149.9h1.7M321.6 154.2h1.7M338.2 165.4h1.7M357.1 107.7h1.7M351.9 128.1h1.7M304 120.1h1.7M349.1 148.6h1.7M312.2 139.9h1.7M349 133.5h1.7M317.1 166.3h1.7M329.4 151.4h1.7M344.3 131.1h1.7M338.8 139.2h1.7M335.1 146.4h1.7M326.9 144.7h1.7M375.6 134.1h1.7M346 162.1h1.7M325.3 138.9h1.7M325.8 144.2h1.7M333.3 157.6h1.7M342.8 145.8h1.7M343.5 168.6h1.7M325.6 157.2h1.7M316 153.2h1.7M344.5 133.1h1.7M354.3 159.9h1.7M354.5 143.1h1.7M343 155.6h1.7M318 149.8h1.7M312.3 142.1h1.7M342.1 160.8h1.7M336.6 158h1.7M346.4 167.6h1.7M330.6 155.6h1.7M325.8 152.5h1.7M337.8 168.6h1.7M328.8 136.8h1.7M332 161.5h1.7M326 111.4h1.7" stroke="#E9A03F" stroke-opacity="0.32" stroke-width="1.7" fill="none"/><path d="M312.5 141h1.7M341 125.2h1.7M324.9 144.2h1.7M337.9 112.1h1.7M344.9 110.1h1.7M325.3 132.7h1.7M345.3 127.4h1.7M353.8 160.7h1.7M343 137.5h1.7M356.2 117.4h1.7M346.4 116.9h1.7M321.4 112.4h1.7M341.6 141.6h1.7M322.2 152.4h1.7M323.5 145.1h1.7M320.9 103.5h1.7M330.9 136.8h1.7M330.6 99.2h1.7M319.2 130.9h1.7M320.4 113.1h1.7M333.8 129.6h1.7M357.6 120.1h1.7M316 167.7h1.7M323.6 171.6h1.7M332.7 149.5h1.7M338.6 130.8h1.7M331.8 139.7h1.7M341.1 158h1.7M339 143.2h1.7M351.6 140.8h1.7M324.3 145.6h1.7M329.7 135.1h1.7M355.2 134.4h1.7M348.5 142.7h1.7M330.3 127.1h1.7M339.9 131.3h1.7M323.2 155.1h1.7M324.2 142.1h1.7M329 144.2h1.7M323.3 130.2h1.7M325.7 136.7h1.7M342.8 145.8h1.7M359 109.1h1.7M335.9 138.7h1.7M322 158.4h1.7M337.1 131.8h1.7M320.1 159.5h1.7M333.1 139.7h1.7M327.3 88.1h1.7M350.3 121.8h1.7M341.1 159h1.7M359.5 105.7h1.7M352.3 142.3h1.7M337.3 112.9h1.7M337 139.5h1.7M332.4 137.8h1.7M326.2 135.3h1.7M338.8 135h1.7M336.5 99.3h1.7M358.9 92.7h1.7M323.1 99.2h1.7M369.6 122.4h1.7M308 114.8h1.7M327.4 93.7h1.7M328 141.9h1.7M320.6 144h1.7M345.8 137.5h1.7M312.9 130.5h1.7M324.8 149.4h1.7M332.2 138.5h1.7" stroke="#E3434F" stroke-opacity="0.32" stroke-width="1.7" fill="none"/><path d="M338 132.1h1.7M307.9 170.5h1.7M335.5 136.1h1.7M338.2 144.1h1.7M309.1 131.3h1.7M310.3 97.5h1.7M343.4 151.5h1.7M351.7 110.3h1.7M333.4 108.6h1.7M361.6 70.8h1.7M360.9 120.7h1.7M337.1 128.6h1.7M326.9 113.5h1.7M343.3 114.2h1.7M322.4 130.2h1.7M320.8 115.1h1.7M337.6 131.6h1.7M322.5 135.3h1.7M351.3 145.6h1.7M328.3 119.5h1.7M331.3 102h1.7M325.7 124.2h1.7M349.9 114h1.7M340 132.4h1.7M338.9 156.8h1.7M339.1 113.5h1.7M309.3 84.2h1.7M328.9 128h1.7M328.2 114.2h1.7M345.6 130.6h1.7M323.5 127.7h1.7M353.6 113.4h1.7M334.1 137.2h1.7M330.3 116.6h1.7M341.9 97.5h1.7M349.6 103.5h1.7M373.6 153h1.7M324.2 138.8h1.7M333.2 161.2h1.7M341.1 112.7h1.7M327.9 151.8h1.7M325.9 125.8h1.7M346.1 127.4h1.7M369.6 118.4h1.7M329.4 106.4h1.7M356.4 114h1.7M363.8 102.1h1.7M315.4 87.7h1.7M351.8 109.7h1.7M365.2 83.5h1.7M317.8 164h1.7M367.8 108.6h1.7M334 138.3h1.7M328.8 131.8h1.7M314.1 130.3h1.7M320.4 102.9h1.7M330.5 99.4h1.7M339.4 118.3h1.7M341.5 111.9h1.7M315.7 95.3h1.7M337.1 154.3h1.7M319 164.6h1.7M325.7 134.2h1.7M351.5 143.7h1.7M356.3 111h1.7M319.6 133.4h1.7M325.3 152h1.7M343.1 107.2h1.7M337.4 124.4h1.7M334.7 128.5h1.7" stroke="#E3434F" stroke-opacity="0.32" stroke-width="1.7" fill="none"/><path d="M342.8 114.9h1.7M305.9 132h1.7M349.8 135.2h1.7M326.4 127.4h1.7M337 113.3h1.7M328 155.5h1.7M305.8 140.5h1.7M343 110.9h1.7M341.7 138.2h1.7M351 109.3h1.7M356.5 107.5h1.7M326.6 153.5h1.7M314.4 123.3h1.7M335.6 113.6h1.7M341.9 138h1.7M336.8 151.2h1.7M316.2 118.6h1.7M323.7 126.9h1.7M339.7 136.4h1.7M322.3 106.1h1.7M329 151.5h1.7M346.1 134.3h1.7M331.9 137.4h1.7M353.9 126.6h1.7M335.5 108.5h1.7M312.6 89.1h1.7M366.8 116.9h1.7M334.7 142.3h1.7M335.7 127.4h1.7M355.3 109.4h1.7M300.9 131.6h1.7M338.4 148.2h1.7M379.1 134.7h1.7M301.2 132.5h1.7M325 156.7h1.7M347.9 125.5h1.7M342.9 150.2h1.7M337.7 93.8h1.7M324.9 149.6h1.7M352.9 121.1h1.7M344.6 140.1h1.7M337.7 158.8h1.7M335.8 120.4h1.7M338.6 140.6h1.7M345.7 136.7h1.7M340.7 159.3h1.7M330.8 136.5h1.7M321.8 154.1h1.7M289.3 90.3h1.7M341.7 143.2h1.7M332.3 89.7h1.7M353.9 99.2h1.7M340.3 157.9h1.7M328.2 90.7h1.7M331.5 141.7h1.7M337.2 147.7h1.7M371.5 93.6h1.7M307.2 116.7h1.7M329.9 165.1h1.7M340.8 119.1h1.7M335.4 103.9h1.7M324.8 146.8h1.7M334.6 148.2h1.7M351.7 124.7h1.7M353.8 115.1h1.7M341.3 120.3h1.7M337.8 157.7h1.7M325.7 73.7h1.7M350.7 123.1h1.7M316.7 86.1h1.7" stroke="#E3434F" stroke-opacity="0.32" stroke-width="1.7" fill="none"/><path d="M337.5 148.6h1.7M341.4 145.1h1.7M326.3 140.7h1.7M305 124.4h1.7M327.5 140.1h1.7M343.9 97.5h1.7M357.4 127.1h1.7M331.4 131.5h1.7M342.2 131.5h1.7M359.3 111.1h1.7M319.1 141.8h1.7M338.9 142.5h1.7M343.7 128.2h1.7M329.9 144.9h1.7M335.6 133.6h1.7M320.8 137.8h1.7M375.8 99.2h1.7M327.3 116.2h1.7M367.8 102h1.7M355 137.1h1.7M303.4 138.4h1.7M325.9 133.5h1.7M341.8 147.7h1.7M320.6 135.2h1.7M316.9 108.8h1.7M320.8 139.1h1.7M351.9 111.4h1.7M342.6 95h1.7M321.4 141.5h1.7M328.5 144.2h1.7M350.1 139.2h1.7M323.5 140h1.7M350.1 120.4h1.7M336.9 143.7h1.7M337.3 114h1.7M323 130h1.7M328 126.7h1.7M304.6 115.9h1.7M330.4 136.5h1.7M284 133.9h1.7M347.1 145.7h1.7M337.6 137.2h1.7M326.4 149.4h1.7M311.3 102.6h1.7M340.6 157.6h1.7M332.7 134.9h1.7M351 174.1h1.7M337.4 109.3h1.7M337.7 135.6h1.7M320.1 130.6h1.7M327.3 123.4h1.7M314.6 154.7h1.7M319.4 125.5h1.7M351.8 144.6h1.7M331.3 116.9h1.7M326.1 128.8h1.7M335.2 117.8h1.7M328.3 149h1.7M321.2 140.9h1.7M320.5 134.9h1.7M340.8 139.1h1.7M332.4 125h1.7M317.9 144.2h1.7M332 122.5h1.7M316.2 146.5h1.7M348 118.9h1.7M286.2 91.7h1.7M324.9 145.6h1.7M344.5 132.8h1.7M331.6 130.4h1.7" stroke="#E3434F" stroke-opacity="0.32" stroke-width="1.7" fill="none"/><path d="M344.6 141.1h1.7M328.4 137.8h1.7M358.8 113.9h1.7M319.9 129.8h1.7M359 115.7h1.7M330.5 123.8h1.7M345.6 137.3h1.7M341.3 137.5h1.7M329 145.4h1.7M344.3 118h1.7M319.5 148.1h1.7M353.2 126.8h1.7M327.6 149.3h1.7M308.4 126.9h1.7M346.1 153.4h1.7M317.9 130.6h1.7M347.8 118.8h1.7M328.4 168.7h1.7M321.4 138.9h1.7M363 114.1h1.7M344.8 164h1.7M338.3 129.4h1.7M305.3 118.2h1.7M327.4 138.2h1.7M354.3 137.8h1.7M363.3 71.2h1.7M341.4 148.8h1.7M344 132.5h1.7M330.8 125.6h1.7M309 144.9h1.7M336.4 193.6h1.7M309.8 144.9h1.7M328.8 122h1.7M298.6 111.6h1.7M340.7 138.6h1.7M348.6 120.5h1.7M321.3 159h1.7M319.9 128.9h1.7M331.8 126.6h1.7M320.9 152.3h1.7M332.5 126.4h1.7M322.5 146.9h1.7M327 122.1h1.7M334.9 146.7h1.7M350.3 138.7h1.7M322.8 133.8h1.7M354 127.5h1.7M334.5 135.3h1.7M307.2 93.3h1.7M314.7 142.8h1.7M334.7 140.1h1.7M319.7 88h1.7M318.4 137.9h1.7M360.3 119.5h1.7M316 141.4h1.7M303.6 160.6h1.7M329.3 102.3h1.7M335 96.3h1.7M338.5 136.3h1.7M365.7 131.8h1.7M309.9 130.5h1.7M349.1 131h1.7M300.9 122.5h1.7M346.8 92.8h1.7M347.7 117.3h1.7M321.1 88.2h1.7M336.2 119.4h1.7M332.7 136.2h1.7M333.5 153.8h1.7M351.1 137.5h1.7" stroke="#E3434F" stroke-opacity="0.32" stroke-width="1.7" fill="none"/><path d="M332.2 120.6h1.7M341.1 131h1.7M328.4 117h1.7M327 123.5h1.7M329.6 138.5h1.7M336.7 117.2h1.7M327 141.9h1.7M355.9 112.8h1.7M339.6 145h1.7M321 150.9h1.7M306.1 147.5h1.7M345.3 123.2h1.7M345.4 109.2h1.7M324.5 139.5h1.7M329.4 126.2h1.7M365.4 128.3h1.7M363 124.6h1.7M307.9 119.8h1.7M336.2 129.9h1.7M334.5 128.8h1.7M332.6 141.4h1.7M330.1 132.2h1.7M323.1 137.7h1.7M347.5 127.7h1.7M326.9 119.5h1.7M339.7 133.7h1.7M341.3 155.2h1.7M367.8 130.7h1.7M295.9 126.7h1.7M338 103.3h1.7M344.8 97.5h1.7M313.3 137.5h1.7M330.3 119.5h1.7M336 113.1h1.7M322 150.9h1.7M326.5 120.3h1.7M329.2 124.7h1.7M361 130.6h1.7M335.1 153.5h1.7M345.4 111.4h1.7M324.7 151.1h1.7M339.9 118.5h1.7M348.5 145.8h1.7M335.7 127.1h1.7M331.4 100.8h1.7M338 161.9h1.7M317.7 139.5h1.7M330 157.7h1.7M305.1 73.7h1.7M352.9 147.6h1.7M290.4 89.6h1.7M319 116.3h1.7M333.7 107.8h1.7M359.5 124.9h1.7M316.5 118.9h1.7M321.2 149.9h1.7M310.1 129.3h1.7M334.8 138h1.7M333.5 122.4h1.7M316 146.4h1.7M339.1 123.8h1.7M344.4 126.8h1.7M374.2 122.7h1.7M327.2 144.7h1.7M321.2 129.7h1.7M364.5 126.3h1.7M327.8 130.1h1.7M320.3 148.4h1.7M339.8 132.8h1.7M360.4 90.7h1.7" stroke="#E3434F" stroke-opacity="0.32" stroke-width="1.7" fill="none"/><ellipse cx="328.2" cy="162.6" rx="35.95" ry="22.93" transform="rotate(63.74 328.2 162.6)" fill="none" stroke="#4E79A7" stroke-width="0.95"/><ellipse cx="335.3" cy="151.3" rx="45.41" ry="33.96" transform="rotate(78.34 335.3 151.3)" fill="none" stroke="#2A9D8F" stroke-width="0.95"/><ellipse cx="334.7" cy="151.1" rx="40.60" ry="34.38" transform="rotate(82.45 334.7 151.1)" fill="none" stroke="#E9A03F" stroke-width="0.95"/><ellipse cx="334.3" cy="135.1" rx="43.82" ry="29.28" transform="rotate(109.83 334.3 135.1)" fill="none" stroke="#E3434F" stroke-width="0.95"/></g><path d="M249.2 63.5H419.5V233.1H249.2Z" fill="none" stroke="#3a3a3a" stroke-width="0.9"/><text x="259.5" y="241.9" font-size="7.9" fill="#4D4D4D" text-anchor="middle">−10</text><text x="297.7" y="241.9" font-size="7.9" fill="#4D4D4D" text-anchor="middle">−5</text><text x="334.9" y="241.9" font-size="7.9" fill="#4D4D4D" text-anchor="middle">0</text><text x="374" y="241.9" font-size="7.9" fill="#4D4D4D" text-anchor="middle">5</text><text x="414" y="241.9" font-size="7.9" fill="#4D4D4D" text-anchor="middle">10</text><text x="246" y="73.2" font-size="7.9" fill="#4D4D4D" text-anchor="end">6</text><text x="246" y="112.5" font-size="7.9" fill="#4D4D4D" text-anchor="end">3</text><text x="246" y="150.8" font-size="7.9" fill="#4D4D4D" text-anchor="end">0</text><text x="246" y="189.6" font-size="7.9" fill="#4D4D4D" text-anchor="end">−3</text><text x="246" y="228.6" font-size="7.9" fill="#4D4D4D" text-anchor="end">−6</text><path d="M248.7 70.6h-2M248.7 109.8h-2M248.7 148.2h-2M248.7 186.9h-2M248.7 225.9h-2" stroke="#555" stroke-width="0.7"/><path d="M259.5 233.6v1.6M297.7 233.6v1.6M334.9 233.6v1.6M374 233.6v1.6M414 233.6v1.6" stroke="#aaa" stroke-width="0.6"/><text x="334.5" y="251.2" font-size="9.1" fill="#000" text-anchor="middle">PCA2 (12.2%)</text><text x="237.1" y="148" font-size="8.9" fill="#000" text-anchor="middle" transform="rotate(-90 237.1 148)">PCA3 (9.3%)</text><text x="241.9" y="31.6" font-size="12.4" fill="#000">(b)</text>
<path d="M490 61.4L490 61.2L492.2 61.2L494.4 61.2L496.6 61.2L498.8 61.1L501.1 61.1L503.3 61L505.5 61L507.7 60.8L509.9 60.4L512.1 59.9L514.3 59.1L516.5 57.6L518.8 55.8L521 53.8L523.2 51.8L525.4 50.4L527.6 49.4L529.8 48.1L532 45.9L534.2 43.5L536.4 40.4L538.7 37.7L540.9 36.6L543.1 35.9L545.3 34.9L547.5 33.8L549.7 32.7L551.9 31.3L554.1 30.6L556.3 30.9L558.6 31.6L560.8 33.7L563 36L565.2 38.5L567.4 40.9L569.6 42.8L571.8 44.8L574 47.8L576.3 50.9L578.5 53.4L580.7 55.5L582.9 57.2L585.1 58.4L587.3 59.5L589.5 60.2L591.7 60.6L593.9 60.8L596.2 61L598.4 61.2L600.6 61.2L602.8 61.2L605 61.2L607.2 61.3L609.4 61.3L611.6 61.3L613.8 61.3L616.1 61.3L618.3 61.3L620.5 61.3L622.7 61.3L624.9 61.3L627.1 61.3L629.3 61.3L631.5 61.3L633.8 61.3L636 61.3L638.2 61.3L640.4 61.3L642.6 61.3L642.6 61.4Z" fill="#4E79A7" fill-opacity="0.25"/><path d="M490 61.2 L492.2 61.2 L494.4 61.2 L496.6 61.2 L498.8 61.1 L501.1 61.1 L503.3 61 L505.5 61 L507.7 60.8 L509.9 60.4 L512.1 59.9 L514.3 59.1 L516.5 57.6 L518.8 55.8 L521 53.8 L523.2 51.8 L525.4 50.4 L527.6 49.4 L529.8 48.1 L532 45.9 L534.2 43.5 L536.4 40.4 L538.7 37.7 L540.9 36.6 L543.1 35.9 L545.3 34.9 L547.5 33.8 L549.7 32.7 L551.9 31.3 L554.1 30.6 L556.3 30.9 L558.6 31.6 L560.8 33.7 L563 36 L565.2 38.5 L567.4 40.9 L569.6 42.8 L571.8 44.8 L574 47.8 L576.3 50.9 L578.5 53.4 L580.7 55.5 L582.9 57.2 L585.1 58.4 L587.3 59.5 L589.5 60.2 L591.7 60.6 L593.9 60.8 L596.2 61 L598.4 61.2 L600.6 61.2 L602.8 61.2 L605 61.2 L607.2 61.3 L609.4 61.3 L611.6 61.3 L613.8 61.3 L616.1 61.3 L618.3 61.3 L620.5 61.3 L622.7 61.3 L624.9 61.3 L627.1 61.3 L629.3 61.3 L631.5 61.3 L633.8 61.3 L636 61.3 L638.2 61.3 L640.4 61.3 L642.6 61.3" fill="none" stroke="#4E79A7" stroke-width="0.6"/><path d="M490 61.4L490 61.2L492.2 61.2L494.4 61.2L496.6 61.2L498.8 61.1L501.1 61.1L503.3 61L505.5 61L507.7 60.9L509.9 60.8L512.1 60.6L514.3 60.1L516.5 59.4L518.8 58.7L521 57.8L523.2 56.7L525.4 55.5L527.6 54.3L529.8 53.1L532 52.1L534.2 51L536.4 49.9L538.7 48.6L540.9 47.3L543.1 46L545.3 44.8L547.5 43.7L549.7 42.6L551.9 41.5L554.1 40.4L556.3 39.3L558.6 38.2L560.8 36.6L563 35.5L565.2 35.8L567.4 36.3L569.6 37.3L571.8 38.6L574 40.4L576.3 42.5L578.5 44.2L580.7 45.6L582.9 47.1L585.1 48.9L587.3 50.8L589.5 52.4L591.7 53.4L593.9 54L596.2 54.6L598.4 55.3L600.6 56L602.8 56.7L605 57.2L607.2 57.6L609.4 58L611.6 58.3L613.8 58.7L616.1 59L618.3 59.4L620.5 59.8L622.7 60.1L624.9 60.3L627.1 60.4L629.3 60.5L631.5 60.6L633.8 60.7L636 60.8L638.2 60.9L640.4 61L642.6 61.4L642.6 61.4Z" fill="#2A9D8F" fill-opacity="0.25"/><path d="M490 61.2 L492.2 61.2 L494.4 61.2 L496.6 61.2 L498.8 61.1 L501.1 61.1 L503.3 61 L505.5 61 L507.7 60.9 L509.9 60.8 L512.1 60.6 L514.3 60.1 L516.5 59.4 L518.8 58.7 L521 57.8 L523.2 56.7 L525.4 55.5 L527.6 54.3 L529.8 53.1 L532 52.1 L534.2 51 L536.4 49.9 L538.7 48.6 L540.9 47.3 L543.1 46 L545.3 44.8 L547.5 43.7 L549.7 42.6 L551.9 41.5 L554.1 40.4 L556.3 39.3 L558.6 38.2 L560.8 36.6 L563 35.5 L565.2 35.8 L567.4 36.3 L569.6 37.3 L571.8 38.6 L574 40.4 L576.3 42.5 L578.5 44.2 L580.7 45.6 L582.9 47.1 L585.1 48.9 L587.3 50.8 L589.5 52.4 L591.7 53.4 L593.9 54 L596.2 54.6 L598.4 55.3 L600.6 56 L602.8 56.7 L605 57.2 L607.2 57.6 L609.4 58 L611.6 58.3 L613.8 58.7 L616.1 59 L618.3 59.4 L620.5 59.8 L622.7 60.1 L624.9 60.3 L627.1 60.4 L629.3 60.5 L631.5 60.6 L633.8 60.7 L636 60.8 L638.2 60.9 L640.4 61 L642.6 61.4" fill="none" stroke="#2A9D8F" stroke-width="0.6"/><path d="M490 61.4L490 61.2L492.2 61.2L494.4 61.2L496.6 61.2L498.8 61.2L501.1 61.1L503.3 61.1L505.5 61.1L507.7 61L509.9 61L512.1 60.9L514.3 60.6L516.5 60.2L518.8 59.8L521 59.3L523.2 58.6L525.4 57.8L527.6 56.8L529.8 55.6L532 54.1L534.2 52.1L536.4 50L538.7 47.3L540.9 44L543.1 41L545.3 38.5L547.5 36.2L549.7 35.4L551.9 35.2L554.1 35.1L556.3 34.9L558.6 34.4L560.8 33.9L563 34L565.2 34.3L567.4 34.7L569.6 36.1L571.8 37.9L574 39.8L576.3 41.8L578.5 43.7L580.7 45.4L582.9 47.1L585.1 49.1L587.3 51.2L589.5 53L591.7 54L593.9 54.7L596.2 55.3L598.4 55.9L600.6 56.4L602.8 57L605 57.5L607.2 57.9L609.4 58.3L611.6 58.7L613.8 59.1L616.1 59.4L618.3 59.7L620.5 59.9L622.7 60.2L624.9 60.4L627.1 60.5L629.3 60.7L631.5 60.8L633.8 60.9L636 61L638.2 61.1L640.4 61.2L642.6 61.2L642.6 61.4Z" fill="#E9A03F" fill-opacity="0.25"/><path d="M490 61.2 L492.2 61.2 L494.4 61.2 L496.6 61.2 L498.8 61.2 L501.1 61.1 L503.3 61.1 L505.5 61.1 L507.7 61 L509.9 61 L512.1 60.9 L514.3 60.6 L516.5 60.2 L518.8 59.8 L521 59.3 L523.2 58.6 L525.4 57.8 L527.6 56.8 L529.8 55.6 L532 54.1 L534.2 52.1 L536.4 50 L538.7 47.3 L540.9 44 L543.1 41 L545.3 38.5 L547.5 36.2 L549.7 35.4 L551.9 35.2 L554.1 35.1 L556.3 34.9 L558.6 34.4 L560.8 33.9 L563 34 L565.2 34.3 L567.4 34.7 L569.6 36.1 L571.8 37.9 L574 39.8 L576.3 41.8 L578.5 43.7 L580.7 45.4 L582.9 47.1 L585.1 49.1 L587.3 51.2 L589.5 53 L591.7 54 L593.9 54.7 L596.2 55.3 L598.4 55.9 L600.6 56.4 L602.8 57 L605 57.5 L607.2 57.9 L609.4 58.3 L611.6 58.7 L613.8 59.1 L616.1 59.4 L618.3 59.7 L620.5 59.9 L622.7 60.2 L624.9 60.4 L627.1 60.5 L629.3 60.7 L631.5 60.8 L633.8 60.9 L636 61 L638.2 61.1 L640.4 61.2 L642.6 61.2" fill="none" stroke="#E9A03F" stroke-width="0.6"/><path d="M490 61.4L490 61.4L492.2 61.3L494.4 61.3L496.6 61.2L498.8 61.2L501.1 61.2L503.3 61.2L505.5 61.1L507.7 61.1L509.9 61.1L512.1 61.1L514.3 61.1L516.5 61.1L518.8 61L521 61L523.2 60.9L525.4 60.8L527.6 60.7L529.8 60.6L532 60.3L534.2 59.7L536.4 58.7L538.7 57.5L540.9 56.4L543.1 55.1L545.3 53.7L547.5 52.3L549.7 50.9L551.9 49.4L554.1 47.9L556.3 46.1L558.6 44.3L560.8 42.7L563 41.8L565.2 41.1L567.4 40.5L569.6 39.8L571.8 38.8L574 37.7L576.3 36.9L578.5 36.6L580.7 36.5L582.9 36.4L585.1 36.9L587.3 38.1L589.5 39.6L591.7 41.5L593.9 43.4L596.2 44.6L598.4 45.6L600.6 46.7L602.8 48.1L605 49.9L607.2 51.9L609.4 53.8L611.6 55.6L613.8 56.9L616.1 57.5L618.3 57.8L620.5 58.1L622.7 58.5L624.9 58.9L627.1 59.3L629.3 59.7L631.5 60L633.8 60.3L636 60.6L638.2 60.8L640.4 61.1L642.6 61.3L642.6 61.4Z" fill="#E3434F" fill-opacity="0.25"/><path d="M490 61.4 L492.2 61.3 L494.4 61.3 L496.6 61.2 L498.8 61.2 L501.1 61.2 L503.3 61.2 L505.5 61.1 L507.7 61.1 L509.9 61.1 L512.1 61.1 L514.3 61.1 L516.5 61.1 L518.8 61 L521 61 L523.2 60.9 L525.4 60.8 L527.6 60.7 L529.8 60.6 L532 60.3 L534.2 59.7 L536.4 58.7 L538.7 57.5 L540.9 56.4 L543.1 55.1 L545.3 53.7 L547.5 52.3 L549.7 50.9 L551.9 49.4 L554.1 47.9 L556.3 46.1 L558.6 44.3 L560.8 42.7 L563 41.8 L565.2 41.1 L567.4 40.5 L569.6 39.8 L571.8 38.8 L574 37.7 L576.3 36.9 L578.5 36.6 L580.7 36.5 L582.9 36.4 L585.1 36.9 L587.3 38.1 L589.5 39.6 L591.7 41.5 L593.9 43.4 L596.2 44.6 L598.4 45.6 L600.6 46.7 L602.8 48.1 L605 49.9 L607.2 51.9 L609.4 53.8 L611.6 55.6 L613.8 56.9 L616.1 57.5 L618.3 57.8 L620.5 58.1 L622.7 58.5 L624.9 58.9 L627.1 59.3 L629.3 59.7 L631.5 60 L633.8 60.3 L636 60.6 L638.2 60.8 L640.4 61.1 L642.6 61.3" fill="none" stroke="#E3434F" stroke-width="0.6"/><path d="M651.7 70.2L651.7 70.2L651.7 72.5L651.7 74.7L651.7 77L651.7 79.2L651.7 81.5L651.8 83.7L651.9 86L651.9 88.2L652 90.5L652.2 92.7L652.6 95L653.1 97.2L653.7 99.5L654.4 101.7L655.1 104L655.8 106.2L656.6 108.5L657.3 110.7L658 113L658.6 115.2L659.3 117.5L660.1 119.7L660.9 122L661.7 124.2L662.7 126.5L663.8 128.7L665.2 131L666.8 133.2L668.6 135.5L670.6 137.7L672.7 140L675.2 142.2L677.9 144.5L680 146.7L681 149L681.5 151.2L681.1 153.5L679.3 155.7L676.2 158L671.9 160.2L668.7 162.5L665.8 164.7L663.3 167L661.2 169.2L659.2 171.5L657.5 173.7L656.3 176L655.2 178.2L654.3 180.5L653.6 182.7L653.1 185L652.7 187.2L652.4 189.5L652.2 191.7L652 194L652 196.2L651.9 198.5L651.9 200.7L651.8 203L651.8 205.2L651.7 207.5L651.7 209.7L651.7 212L651.7 214.2L651.7 216.5L651.7 218.7L651.7 221L651.7 223.2L651.7 225.5L651.7 225.5Z" fill="#4E79A7" fill-opacity="0.25"/><path d="M651.7 70.2 L651.7 72.5 L651.7 74.7 L651.7 77 L651.7 79.2 L651.7 81.5 L651.8 83.7 L651.9 86 L651.9 88.2 L652 90.5 L652.2 92.7 L652.6 95 L653.1 97.2 L653.7 99.5 L654.4 101.7 L655.1 104 L655.8 106.2 L656.6 108.5 L657.3 110.7 L658 113 L658.6 115.2 L659.3 117.5 L660.1 119.7 L660.9 122 L661.7 124.2 L662.7 126.5 L663.8 128.7 L665.2 131 L666.8 133.2 L668.6 135.5 L670.6 137.7 L672.7 140 L675.2 142.2 L677.9 144.5 L680 146.7 L681 149 L681.5 151.2 L681.1 153.5 L679.3 155.7 L676.2 158 L671.9 160.2 L668.7 162.5 L665.8 164.7 L663.3 167 L661.2 169.2 L659.2 171.5 L657.5 173.7 L656.3 176 L655.2 178.2 L654.3 180.5 L653.6 182.7 L653.1 185 L652.7 187.2 L652.4 189.5 L652.2 191.7 L652 194 L652 196.2 L651.9 198.5 L651.9 200.7 L651.8 203 L651.8 205.2 L651.7 207.5 L651.7 209.7 L651.7 212 L651.7 214.2 L651.7 216.5 L651.7 218.7 L651.7 221 L651.7 223.2 L651.7 225.5" fill="none" stroke="#4E79A7" stroke-width="0.6"/><path d="M651.7 70.2L651.7 70.2L651.7 72.5L651.8 74.7L651.9 77L652 79.2L652.1 81.5L652.1 83.7L652.2 86L652.3 88.2L652.3 90.5L652.5 92.7L652.6 95L652.9 97.2L653.6 99.5L654.5 101.7L655.6 104L656.8 106.2L657.9 108.5L658.9 110.7L659.7 113L660.5 115.2L661.2 117.5L662 119.7L662.7 122L663.5 124.2L664.4 126.5L665.3 128.7L666.3 131L667.4 133.2L668.5 135.5L669.4 137.7L670.2 140L670.8 142.2L671.3 144.5L671.7 146.7L672 149L672.3 151.2L672.6 153.5L672.7 155.7L672.3 158L671.3 160.2L669.8 162.5L667.3 164.7L664.9 167L662.9 169.2L660.9 171.5L659.2 173.7L657.8 176L656.7 178.2L655.7 180.5L654.8 182.7L654.2 185L653.6 187.2L653.1 189.5L652.7 191.7L652.4 194L652.2 196.2L652.1 198.5L652.1 200.7L652 203L651.9 205.2L651.8 207.5L651.8 209.7L651.7 212L651.7 214.2L651.7 216.5L651.7 218.7L651.7 221L651.7 223.2L651.7 225.5L651.7 225.5Z" fill="#2A9D8F" fill-opacity="0.25"/><path d="M651.7 70.2 L651.7 72.5 L651.8 74.7 L651.9 77 L652 79.2 L652.1 81.5 L652.1 83.7 L652.2 86 L652.3 88.2 L652.3 90.5 L652.5 92.7 L652.6 95 L652.9 97.2 L653.6 99.5 L654.5 101.7 L655.6 104 L656.8 106.2 L657.9 108.5 L658.9 110.7 L659.7 113 L660.5 115.2 L661.2 117.5 L662 119.7 L662.7 122 L663.5 124.2 L664.4 126.5 L665.3 128.7 L666.3 131 L667.4 133.2 L668.5 135.5 L669.4 137.7 L670.2 140 L670.8 142.2 L671.3 144.5 L671.7 146.7 L672 149 L672.3 151.2 L672.6 153.5 L672.7 155.7 L672.3 158 L671.3 160.2 L669.8 162.5 L667.3 164.7 L664.9 167 L662.9 169.2 L660.9 171.5 L659.2 173.7 L657.8 176 L656.7 178.2 L655.7 180.5 L654.8 182.7 L654.2 185 L653.6 187.2 L653.1 189.5 L652.7 191.7 L652.4 194 L652.2 196.2 L652.1 198.5 L652.1 200.7 L652 203 L651.9 205.2 L651.8 207.5 L651.8 209.7 L651.7 212 L651.7 214.2 L651.7 216.5 L651.7 218.7 L651.7 221 L651.7 223.2 L651.7 225.5" fill="none" stroke="#2A9D8F" stroke-width="0.6"/><path d="M651.7 70.2L651.7 70.2L651.7 72.5L652.1 74.7L652.6 77L653.2 79.2L654 81.5L654.8 83.7L656.2 86L657.9 88.2L659.6 90.5L661.1 92.7L662.7 95L664.3 97.2L665.8 99.5L667.1 101.7L668.1 104L669 106.2L669.9 108.5L670.8 110.7L671.9 113L673.2 115.2L674.5 117.5L675.5 119.7L676.3 122L677.1 124.2L677.5 126.5L677 128.7L675.1 131L672.9 133.2L671 135.5L668.9 137.7L667 140L665.5 142.2L664.2 144.5L662.9 146.7L661.7 149L660.5 151.2L659.3 153.5L658.3 155.7L657.4 158L656.4 160.2L655.5 162.5L654.8 164.7L654.3 167L653.9 169.2L653.5 171.5L653.2 173.7L653 176L652.7 178.2L652.5 180.5L652.4 182.7L652.3 185L652.2 187.2L652.2 189.5L652.1 191.7L652 194L652 196.2L651.9 198.5L651.9 200.7L651.8 203L651.8 205.2L651.7 207.5L651.7 209.7L651.7 212L651.7 214.2L651.7 216.5L651.7 218.7L651.7 221L651.7 223.2L651.7 225.5L651.7 225.5Z" fill="#E9A03F" fill-opacity="0.25"/><path d="M651.7 70.2 L651.7 72.5 L652.1 74.7 L652.6 77 L653.2 79.2 L654 81.5 L654.8 83.7 L656.2 86 L657.9 88.2 L659.6 90.5 L661.1 92.7 L662.7 95 L664.3 97.2 L665.8 99.5 L667.1 101.7 L668.1 104 L669 106.2 L669.9 108.5 L670.8 110.7 L671.9 113 L673.2 115.2 L674.5 117.5 L675.5 119.7 L676.3 122 L677.1 124.2 L677.5 126.5 L677 128.7 L675.1 131 L672.9 133.2 L671 135.5 L668.9 137.7 L667 140 L665.5 142.2 L664.2 144.5 L662.9 146.7 L661.7 149 L660.5 151.2 L659.3 153.5 L658.3 155.7 L657.4 158 L656.4 160.2 L655.5 162.5 L654.8 164.7 L654.3 167 L653.9 169.2 L653.5 171.5 L653.2 173.7 L653 176 L652.7 178.2 L652.5 180.5 L652.4 182.7 L652.3 185 L652.2 187.2 L652.2 189.5 L652.1 191.7 L652 194 L652 196.2 L651.9 198.5 L651.9 200.7 L651.8 203 L651.8 205.2 L651.7 207.5 L651.7 209.7 L651.7 212 L651.7 214.2 L651.7 216.5 L651.7 218.7 L651.7 221 L651.7 223.2 L651.7 225.5" fill="none" stroke="#E9A03F" stroke-width="0.6"/><path d="M651.7 70.2L651.7 70.2L651.7 72.5L651.7 74.7L651.7 77L651.7 79.2L651.7 81.5L651.7 83.7L651.7 86L651.7 88.2L651.7 90.5L651.7 92.7L651.7 95L651.7 97.2L651.7 99.5L651.7 101.7L651.7 104L651.7 106.2L651.7 108.5L651.7 110.7L651.7 113L651.7 115.2L651.7 117.5L651.7 119.7L651.8 122L651.8 124.2L651.8 126.5L651.9 128.7L652.3 131L653 133.2L653.7 135.5L654.6 137.7L655.7 140L657.2 142.2L658.8 144.5L660.5 146.7L662.1 149L663.7 151.2L665.5 153.5L667.5 155.7L670.3 158L673.5 160.2L676.6 162.5L679 164.7L680.8 167L681.5 169.2L681.2 171.5L680.7 173.7L679.7 176L678.1 178.2L676.4 180.5L674.5 182.7L672.3 185L670.4 187.2L668.6 189.5L666.8 191.7L665 194L663.2 196.2L661.3 198.5L659.5 200.7L657.9 203L656.3 205.2L654.8 207.5L653.7 209.7L653 212L652.5 214.2L652.2 216.5L651.9 218.7L651.8 221L651.7 223.2L651.7 225.5L651.7 225.5Z" fill="#E3434F" fill-opacity="0.25"/><path d="M651.7 70.2 L651.7 72.5 L651.7 74.7 L651.7 77 L651.7 79.2 L651.7 81.5 L651.7 83.7 L651.7 86 L651.7 88.2 L651.7 90.5 L651.7 92.7 L651.7 95 L651.7 97.2 L651.7 99.5 L651.7 101.7 L651.7 104 L651.7 106.2 L651.7 108.5 L651.7 110.7 L651.7 113 L651.7 115.2 L651.7 117.5 L651.7 119.7 L651.8 122 L651.8 124.2 L651.8 126.5 L651.9 128.7 L652.3 131 L653 133.2 L653.7 135.5 L654.6 137.7 L655.7 140 L657.2 142.2 L658.8 144.5 L660.5 146.7 L662.1 149 L663.7 151.2 L665.5 153.5 L667.5 155.7 L670.3 158 L673.5 160.2 L676.6 162.5 L679 164.7 L680.8 167 L681.5 169.2 L681.2 171.5 L680.7 173.7 L679.7 176 L678.1 178.2 L676.4 180.5 L674.5 182.7 L672.3 185 L670.4 187.2 L668.6 189.5 L666.8 191.7 L665 194 L663.2 196.2 L661.3 198.5 L659.5 200.7 L657.9 203 L656.3 205.2 L654.8 207.5 L653.7 209.7 L653 212 L652.5 214.2 L652.2 216.5 L651.9 218.7 L651.8 221 L651.7 223.2 L651.7 225.5" fill="none" stroke="#E3434F" stroke-width="0.6"/><clipPath id="cc"><rect x="482.5" y="63.4" width="167.4" height="168.6"/></clipPath><g clip-path="url(#cc)"><ellipse cx="550.2" cy="146.8" rx="43.01" ry="26.31" transform="rotate(128.24 550.2 146.8)" fill="#4E79A7" fill-opacity="0.12"/><ellipse cx="562.7" cy="143.8" rx="48.26" ry="42.68" transform="rotate(107.21 562.7 143.8)" fill="#2A9D8F" fill-opacity="0.12"/><ellipse cx="561.7" cy="121.7" rx="51.01" ry="21.90" transform="rotate(134.89 561.7 121.7)" fill="#E9A03F" fill-opacity="0.12"/><ellipse cx="577.8" cy="173.2" rx="41.84" ry="32.98" transform="rotate(-168.12 577.8 173.2)" fill="#E3434F" fill-opacity="0.12"/><path d="M553.7 157.3h1.7M552 151.8h1.7M578.5 105.7h1.7M553.3 161.4h1.7M571.4 114.5h1.7M563.7 117.6h1.7M533.9 152.2h1.7M530.4 155.2h1.7M541.6 133.1h1.7M576.6 117.2h1.7M560.1 135.2h1.7M523.8 150.4h1.7M547.3 152h1.7M551 158h1.7M560.2 146.9h1.7M564.4 151.6h1.7M558.2 127.3h1.7M541.6 148.4h1.7M562.9 144.8h1.7M563.5 139.2h1.7M559.5 138.1h1.7M544 156.5h1.7M524.3 137.3h1.7M530.6 142.5h1.7M526.3 156.4h1.7M534.8 148.1h1.7M571.8 146.2h1.7M554.3 152h1.7M566.8 136.6h1.7M537.3 145h1.7M559 142.3h1.7M548.4 122.1h1.7M534.2 151.8h1.7M556.8 143.4h1.7M536.4 168h1.7M534.5 141.9h1.7M540.1 159h1.7M562.1 137.5h1.7M567 136.1h1.7M542.5 152.2h1.7M545.5 120.6h1.7M565.9 148.2h1.7M547.4 138.6h1.7M534.6 171.1h1.7M524.7 138.9h1.7M544.9 140.8h1.7M572.2 132.3h1.7M567.3 139.9h1.7M557.5 125.7h1.7M535.6 152.4h1.7M564.6 144h1.7M534.2 117.8h1.7M548.7 145.2h1.7M550.2 147.7h1.7M586.7 103.8h1.7M558.1 121.9h1.7M547.7 158.1h1.7M565.3 125.4h1.7M553.4 135.3h1.7M577.5 123.6h1.7M559.9 126.7h1.7M546.2 130.3h1.7M531.7 151.9h1.7M544.1 147.5h1.7M564.4 122.9h1.7M532.1 172.1h1.7M541 109.5h1.7M565.7 99.3h1.7M530.4 131.4h1.7M543.8 177.3h1.7" stroke="#4E79A7" stroke-opacity="0.32" stroke-width="1.7" fill="none"/><path d="M563 132.4h1.7M540.4 152.6h1.7M530.2 161.1h1.7M522.8 129.4h1.7M532.9 138.5h1.7M537.8 116.9h1.7M557.9 148.5h1.7M536.5 144.4h1.7M541.6 146.8h1.7M581.1 121.3h1.7M565 130.9h1.7M551.8 149.5h1.7M545.4 170.6h1.7M583.1 122.8h1.7M549.2 159.7h1.7M547.7 168.1h1.7M553.4 124.2h1.7M551.5 134.6h1.7M551.7 114.9h1.7M543.7 172.9h1.7M582.6 118.6h1.7M559 159.6h1.7M557.5 140.8h1.7M554.7 158h1.7M531.2 160.7h1.7M537 164.6h1.7M517.3 123.2h1.7M561.6 159.6h1.7M557.9 145h1.7M565.1 131.4h1.7M564.5 131.8h1.7M512 152.5h1.7M552.3 132.6h1.7M553.9 117.9h1.7M573.3 122.4h1.7M557.8 174.2h1.7M564.5 126.3h1.7M544.7 146.3h1.7M525.4 139.9h1.7M571.1 157.7h1.7M546.7 147.2h1.7M557.3 124.2h1.7M545.6 134.4h1.7M541.8 149.1h1.7M538.4 142.5h1.7M541.8 163.1h1.7M544.8 148.6h1.7M547.8 167.9h1.7M583.9 137.1h1.7M557.2 120h1.7M559.9 125.7h1.7M579.1 137.3h1.7M525.4 101.3h1.7M547.5 151.9h1.7M581.8 145.9h1.7M588.7 98.1h1.7M551 139.8h1.7M550.7 153.6h1.7M527.9 102.8h1.7M550.1 151h1.7M561.6 134.2h1.7M547.1 144.6h1.7M545.2 152.5h1.7M534.6 148.1h1.7M572.4 123.5h1.7M565.1 121.8h1.7M551.9 138.3h1.7M564.4 137.4h1.7M550.5 158h1.7M539.3 166.8h1.7" stroke="#4E79A7" stroke-opacity="0.32" stroke-width="1.7" fill="none"/><path d="M555.5 135.7h1.7M561.2 135.1h1.7M508.1 226h1.7M567 125.2h1.7M576.9 97.5h1.7M558.1 132.3h1.7M570.8 141.7h1.7M576 115h1.7M563.7 122.6h1.7M538.1 144.5h1.7M528.1 132.3h1.7M541.7 166h1.7M537 145.8h1.7M538.6 145.9h1.7M550 146.2h1.7M547.2 128.2h1.7M531.8 168.9h1.7M532.8 164.2h1.7M535.9 145.7h1.7M550.1 155.1h1.7M552.4 149.8h1.7M556.4 157.2h1.7M560.5 136.7h1.7M582.3 144.6h1.7M572.2 141h1.7M547.1 133.4h1.7M525.6 129.9h1.7M549.1 144h1.7M543.6 149.5h1.7M530.3 161.9h1.7M545.8 147.9h1.7M540.1 120.5h1.7M515.9 146h1.7M559.1 118h1.7M535.9 155.9h1.7M541.1 130.9h1.7M557.9 112.8h1.7M558.6 142.9h1.7M545.7 167.1h1.7M543.8 101.8h1.7M533.4 142.6h1.7M565.6 131h1.7M539 178h1.7M552.3 113.3h1.7M548.4 163.4h1.7M570.2 129.4h1.7M532.5 150h1.7M522.4 133.5h1.7M567.1 123.7h1.7M536.3 145.4h1.7M532.5 165.5h1.7M539.3 154.9h1.7M520.4 145.1h1.7M558.6 138.9h1.7M561.8 143.6h1.7M557 149.8h1.7M547.4 155.4h1.7M566.9 131.7h1.7M561.8 144.8h1.7M537.1 158.5h1.7M536.5 152.4h1.7M547.4 138.8h1.7M572.4 133.6h1.7M526 146.3h1.7M548.3 119h1.7M547.7 139.6h1.7M551.7 115.7h1.7M560.6 140.5h1.7M573.8 120.8h1.7M542.9 133.9h1.7" stroke="#4E79A7" stroke-opacity="0.32" stroke-width="1.7" fill="none"/><path d="M559.1 136.9h1.7M546.6 137.5h1.7M531.5 140.1h1.7M554 161.5h1.7M511.9 111.6h1.7M542.3 112.4h1.7M555.7 156.7h1.7M540.7 159.1h1.7M551.6 123.7h1.7M565.4 143.6h1.7M569.5 149.1h1.7M565.3 130.7h1.7M553.5 144.9h1.7M541.7 125.8h1.7M552 119.4h1.7M559 159.3h1.7M554.9 146.9h1.7M549.3 120h1.7M523.9 135h1.7M551.3 154h1.7M524.2 131.5h1.7M579.4 92.4h1.7M580 128.9h1.7M563 126.5h1.7M553.6 138h1.7M533.9 169.3h1.7M530.5 142.7h1.7M507.1 131.2h1.7M533.6 161.3h1.7M568.7 124.8h1.7M541.2 146.7h1.7M543.5 151.2h1.7M555.3 123.9h1.7M545.7 153.4h1.7M533.1 156.9h1.7M569.5 134.4h1.7M553.2 148.7h1.7M555.9 130.9h1.7M542.8 150.3h1.7M556.6 135.8h1.7M564.9 131.6h1.7M538.7 147.3h1.7M536.9 145.3h1.7M546.4 139.5h1.7M535.7 143.8h1.7M532.8 150.7h1.7M557.3 160.4h1.7M538.3 119.2h1.7M557.5 143.4h1.7M529.4 152.8h1.7M565.1 90.3h1.7M547.5 120.1h1.7M541.8 119.6h1.7M541.2 143.5h1.7M554.7 147.2h1.7M554.7 94.3h1.7M535.2 166.5h1.7M540.5 113.4h1.7M530.6 147.5h1.7M536.5 146.4h1.7M534.9 146.9h1.7M543.1 160.1h1.7M556.8 136h1.7M522.8 160.1h1.7M520.7 108.4h1.7M563.3 129.6h1.7M534.2 127.7h1.7M604.5 108.7h1.7M554.1 125.6h1.7M537.2 169.3h1.7" stroke="#4E79A7" stroke-opacity="0.32" stroke-width="1.7" fill="none"/><path d="M546.3 115.8h1.7M555.2 141.9h1.7M543.6 162.1h1.7M563.1 138.7h1.7M552.2 93.8h1.7M575 126.5h1.7M539.4 143.5h1.7M550.9 148.9h1.7M551.8 120.8h1.7M560.6 115.5h1.7M539.5 166.9h1.7M555.9 122.1h1.7M555.8 140.3h1.7M573.6 141.4h1.7M538.6 141.1h1.7M551.2 150.6h1.7M537.2 164.2h1.7M544 161.4h1.7M562.1 138.2h1.7M552.2 128.2h1.7M560.5 152.6h1.7M563.7 134.6h1.7M597.8 107h1.7M544.5 168.8h1.7M559.1 124.9h1.7M559.8 153.8h1.7M550.3 134.9h1.7M541.4 165.3h1.7M548.3 118h1.7M538.2 149.6h1.7M555.2 147.8h1.7M537.2 149.8h1.7M560 134.3h1.7M546.2 154.9h1.7M559.2 149.8h1.7M557.3 155.4h1.7M548.7 119.2h1.7M564.6 131.6h1.7M564.9 131.4h1.7M535 134.7h1.7M548.6 141.3h1.7M533.3 161.9h1.7M559.1 145.5h1.7M554.6 140.4h1.7M557.8 148.2h1.7M548.9 144.3h1.7M563.3 133.1h1.7M560.3 119.4h1.7M545.5 136.3h1.7M546.2 146h1.7M545.5 133.7h1.7M566.1 144.9h1.7M555.6 135.7h1.7M553.8 138.4h1.7M559.3 156.1h1.7M557.5 127.6h1.7M563.6 153.4h1.7M574.1 145.7h1.7M542.2 147h1.7M553.4 144.3h1.7M547.3 160.3h1.7M526.9 158.5h1.7M540.1 157.6h1.7M570.9 113.5h1.7M548.5 136.2h1.7M588.4 127.9h1.7M579.5 146.1h1.7M565.7 100.7h1.7M581.7 120.3h1.7M548.3 142.4h1.7" stroke="#4E79A7" stroke-opacity="0.32" stroke-width="1.7" fill="none"/><path d="M546.3 120.4h1.7M537 151h1.7M558.9 148.9h1.7M579.3 140.2h1.7M541 144.6h1.7M578.3 150.8h1.7M566.7 148.1h1.7M532.9 155h1.7M551 169.4h1.7M549.1 145.7h1.7M547.2 146.6h1.7M563.1 112.6h1.7M538.4 162.5h1.7M580.1 125.1h1.7M584.9 142.6h1.7M562.2 160.5h1.7M547.7 135.9h1.7M591.1 123h1.7M564.1 128h1.7M553.1 150.7h1.7M552 125.3h1.7M558.9 146.8h1.7M560.5 162.5h1.7M541 147.8h1.7M544.5 175.4h1.7M549.1 160.7h1.7M529.9 121.7h1.7M561.9 125.9h1.7M496.5 134.8h1.7M543.6 169.7h1.7M575 144.7h1.7M547.9 138.2h1.7M551.1 132h1.7M552.1 146.6h1.7M568.2 143h1.7M535.9 148.3h1.7M547.8 134.9h1.7M558.3 144.8h1.7M554.1 148.7h1.7M560.2 100.9h1.7M560 157.4h1.7M561 162.1h1.7M557.5 132.7h1.7M512.4 177.1h1.7M559.8 146.1h1.7M526.2 93.1h1.7M534.3 109.3h1.7M570.8 135.9h1.7M536.7 132.5h1.7M555.4 158.4h1.7M553.7 136.3h1.7M571.5 125.1h1.7M549.9 149.3h1.7M542.8 125.5h1.7M572.4 120.1h1.7M592.9 138.3h1.7M567.5 157.7h1.7M570.3 146.9h1.7M508.6 123.1h1.7M550.7 135.9h1.7M567.2 148.9h1.7M572.5 121.8h1.7M539.6 169.8h1.7M576 132h1.7M531.6 139h1.7M540.1 150.5h1.7M540.3 149.9h1.7M550 156.8h1.7M566.4 134.9h1.7M520.2 109.6h1.7" stroke="#4E79A7" stroke-opacity="0.32" stroke-width="1.7" fill="none"/><path d="M554.6 163.9h1.7M542.4 150.6h1.7M581.8 143.1h1.7M585.5 137.8h1.7M577.7 85.1h1.7M549.6 150.6h1.7M608.4 108h1.7M569.8 136.9h1.7M604.1 122.7h1.7M566.7 167.9h1.7M563.4 168.4h1.7M546.4 140.7h1.7M534.4 158.8h1.7M539.4 114.6h1.7M562.4 144.9h1.7M549.8 173.8h1.7M607.3 142.2h1.7M544.3 112.6h1.7M545.5 149.8h1.7M543.2 88.4h1.7M557.2 139.6h1.7M565.5 133.3h1.7M573.7 139.4h1.7M548.3 154.5h1.7M546.2 173.3h1.7M581.3 100.6h1.7M567.2 132.2h1.7M595.9 132h1.7M524.8 133.9h1.7M587.1 141.5h1.7M587.2 128.5h1.7M540 136.4h1.7M575.5 112.6h1.7M553.9 167.7h1.7M541.5 146.3h1.7M539.4 95.6h1.7M562.2 85h1.7M584.8 106.6h1.7M579.4 149.4h1.7M578.2 124.2h1.7M549.3 167.1h1.7M519.6 107.5h1.7M559.8 135.3h1.7M565 156.3h1.7M540.6 168.8h1.7M580.4 138.2h1.7M605.2 128.8h1.7M537.6 157h1.7M570.7 135.4h1.7M547.4 110h1.7M540.8 110h1.7M600.5 142.1h1.7M567.6 145.2h1.7M560.4 176.1h1.7M567.1 104.2h1.7M563 160.8h1.7M577.3 134.7h1.7M571.3 155.7h1.7M557.2 164.2h1.7M587.1 150.9h1.7M550.7 160.5h1.7M577.8 144.3h1.7M536.3 128.9h1.7M548 179.4h1.7M534.6 148.8h1.7M528.3 133.8h1.7M581.5 156.7h1.7M566.8 139.2h1.7M569.7 118.4h1.7M570.4 186.6h1.7" stroke="#2A9D8F" stroke-opacity="0.32" stroke-width="1.7" fill="none"/><path d="M548.4 132h1.7M562.1 146.6h1.7M533.4 97.2h1.7M559.2 150.6h1.7M599.9 133.8h1.7M594.3 117.2h1.7M570.8 125.9h1.7M570.4 153.2h1.7M537.5 128h1.7M555.7 95.5h1.7M571.6 149.6h1.7M581.5 103.2h1.7M558.7 137.9h1.7M546.8 128.9h1.7M565 141.7h1.7M542.5 106.3h1.7M568.8 103.1h1.7M562.1 128.9h1.7M575.4 135.8h1.7M519 139h1.7M562.5 160.5h1.7M551.4 125.9h1.7M570.2 156.3h1.7M579.4 156h1.7M572.4 157.7h1.7M549 128.9h1.7M541.5 147.8h1.7M572.4 139.4h1.7M533.9 104.4h1.7M537.7 158.7h1.7M571.9 139.2h1.7M593.1 133.2h1.7M578.3 158.3h1.7M566.1 102.5h1.7M568.4 107.9h1.7M555.6 120.9h1.7M545.5 162.6h1.7M540.9 159.7h1.7M570.4 147h1.7M521 131h1.7M587.3 124.1h1.7M576.6 145.3h1.7M572.4 169.7h1.7M579.9 113.2h1.7M553.1 115.2h1.7M584.2 137.6h1.7M575.6 150.5h1.7M558.7 150.8h1.7M563.4 205.4h1.7M574.2 120.5h1.7M558.4 135h1.7M600.2 130.4h1.7M585.5 105.2h1.7M578.3 126.2h1.7M568.3 159.5h1.7M553.4 113.3h1.7M564.4 157.8h1.7M535.2 128.2h1.7M571.5 157.8h1.7M558.1 149.3h1.7M608.5 132.5h1.7M586.9 113.5h1.7M605.5 123.1h1.7M580.8 138.2h1.7M540.2 156.4h1.7M564.7 107.5h1.7M529.1 114.2h1.7M576.1 105.7h1.7M564.4 159.9h1.7" stroke="#2A9D8F" stroke-opacity="0.32" stroke-width="1.7" fill="none"/><path d="M557.8 128.9h1.7M540 143.9h1.7M536.1 134.8h1.7M569.7 155.8h1.7M531.4 132.4h1.7M570.4 164.3h1.7M591.1 170.2h1.7M569.2 109.9h1.7M547.6 101.9h1.7M567.5 139.9h1.7M577.3 120.7h1.7M563.1 171.4h1.7M576.7 117.9h1.7M562.4 76.6h1.7M586.2 162.2h1.7M551.3 149h1.7M565.2 150h1.7M548.8 114.9h1.7M557.5 136h1.7M570.9 134.4h1.7M558.9 121.7h1.7M532.7 122.9h1.7M553.6 171.1h1.7M561.1 159.2h1.7M553.1 143.1h1.7M527.4 127.4h1.7M571.6 116.2h1.7M528.7 91.8h1.7M567.1 157.1h1.7M578.4 97.9h1.7M560.7 125.2h1.7M561.5 138.5h1.7M524.3 169.2h1.7M565.4 149.8h1.7M547.8 172.9h1.7M550.3 148.3h1.7M548.9 127.1h1.7M539.3 155.2h1.7M576.5 153.4h1.7M570 165.4h1.7M542 160.8h1.7M586.1 117.5h1.7M580.4 147.5h1.7M548.3 139.1h1.7M564.5 155.1h1.7M540.2 158.1h1.7M555.2 168.5h1.7M591 144.5h1.7M547.6 136.5h1.7M561.3 132.1h1.7M537.8 98.6h1.7M592.4 138.4h1.7M544.9 163.5h1.7M535.7 127.1h1.7M563.2 174.6h1.7M573.8 169.7h1.7M558.2 124.1h1.7M570.6 153.6h1.7M546.8 154h1.7M579.2 148.9h1.7M569.9 151.6h1.7M563.5 159.1h1.7M572.6 142.1h1.7M539.3 134.5h1.7M556.7 129.2h1.7M572.4 115.5h1.7M534.9 157.6h1.7M595.7 111.9h1.7M573.4 123.4h1.7" stroke="#2A9D8F" stroke-opacity="0.32" stroke-width="1.7" fill="none"/><path d="M541.8 138.8h1.7M517.3 142.5h1.7M559.2 133.4h1.7M557.6 110.1h1.7M570.2 151.2h1.7M574.8 108h1.7M540.3 165h1.7M564.4 154.4h1.7M562.7 142.7h1.7M571.3 102.9h1.7M550.4 125.2h1.7M593.2 115.9h1.7M535.6 146.4h1.7M551.9 116.5h1.7M543.8 137.1h1.7M591.3 112.8h1.7M584.7 128.2h1.7M526.5 111.1h1.7M563.4 113.2h1.7M528.7 141.5h1.7M559.4 145.7h1.7M534.6 141.7h1.7M578.4 131.6h1.7M578.2 129.8h1.7M578.3 137.8h1.7M591.2 114.3h1.7M559.3 156.6h1.7M608.9 110.4h1.7M545.5 129.8h1.7M552.3 171.3h1.7M565 106.1h1.7M567.9 122.2h1.7M590.6 125.9h1.7M532.4 128.6h1.7M564.9 158.3h1.7M565.8 153.6h1.7M579.9 116.6h1.7M561 138.7h1.7M579.5 151.1h1.7M554.9 117.6h1.7M560.8 174.7h1.7M545.8 136.4h1.7M552.5 131.8h1.7M563.3 124.4h1.7M547.6 107.5h1.7M572.7 121.8h1.7M547.9 143.5h1.7M571 114.7h1.7M563.7 138.6h1.7M565.1 133.9h1.7M583.3 114.9h1.7M590.4 137.9h1.7M624.3 120.2h1.7M564.2 131.9h1.7M536.6 120.3h1.7M529.6 102.8h1.7M577.7 114.4h1.7M559.8 175.6h1.7M594.1 135.1h1.7M572.6 164.2h1.7M576.4 135.6h1.7M537 129.7h1.7M578.9 149.9h1.7M607.5 118.1h1.7M584.5 159.4h1.7M552.2 116.2h1.7M564.2 104.2h1.7M553.1 143.1h1.7M552.1 160.9h1.7" stroke="#2A9D8F" stroke-opacity="0.32" stroke-width="1.7" fill="none"/><path d="M509.6 92h1.7M540.5 129.4h1.7M590.5 151.3h1.7M556.1 89.6h1.7M619.5 115.2h1.7M567.7 134.5h1.7M561 104.7h1.7M529.8 104.8h1.7M567.3 169.6h1.7M556.7 177.2h1.7M555.1 139.8h1.7M565.4 126.9h1.7M547.7 140.6h1.7M574.9 112h1.7M540.7 156.5h1.7M574.9 134.7h1.7M546.8 123.5h1.7M581.8 116.5h1.7M562.4 148.3h1.7M579 140.7h1.7M584.1 114.8h1.7M564.3 140.4h1.7M592.9 113.8h1.7M564.7 165.6h1.7M584.9 140.9h1.7M553.5 137h1.7M497.7 131.3h1.7M555.4 108.6h1.7M569.9 161.7h1.7M550.8 161.6h1.7M557.1 163.2h1.7M566.4 152.9h1.7M569.8 157.7h1.7M570.7 184.2h1.7M561.3 159.7h1.7M554.1 143h1.7M584.1 139.2h1.7M539.5 129.9h1.7M567.7 123.3h1.7M560.8 153.3h1.7M559.3 110.1h1.7M538.2 140.3h1.7M541.1 146.2h1.7M580.5 164.1h1.7M541.5 142h1.7M531.3 122.5h1.7M539.9 100.8h1.7M576.3 159h1.7M517.4 123.6h1.7M571.9 127.7h1.7M570.1 143.1h1.7M544 125.4h1.7M545.8 157.2h1.7M545.4 160.4h1.7M587.3 121.7h1.7M553.6 107h1.7M589.6 128.4h1.7M557.9 167.3h1.7M564.3 139.2h1.7M565.2 159h1.7M561.7 98.6h1.7M572.6 144.3h1.7M572.4 175.5h1.7M585.4 108.6h1.7M564.4 137h1.7M560.9 141.1h1.7M559 141h1.7M566.2 99.5h1.7M561.2 146.2h1.7" stroke="#2A9D8F" stroke-opacity="0.32" stroke-width="1.7" fill="none"/><path d="M576.3 155.3h1.7M555.8 162.8h1.7M587 134.6h1.7M550.6 108.8h1.7M568.7 147.1h1.7M593.6 137.8h1.7M539.8 147.8h1.7M600 142h1.7M564.4 137.5h1.7M571.6 146.1h1.7M553.5 158.2h1.7M552.4 155.8h1.7M542.2 126.8h1.7M547.6 138.8h1.7M557.4 100.2h1.7M550.3 137.1h1.7M552.4 154.7h1.7M547.9 91.5h1.7M537.7 154h1.7M530.5 131.5h1.7M558.6 125.6h1.7M569.6 119.5h1.7M537.5 106.7h1.7M550.8 132.7h1.7M560.4 160.1h1.7M533.2 146.9h1.7M588.2 119.4h1.7M567.3 146.7h1.7M545.7 164.2h1.7M559.4 145.4h1.7M577.2 109.2h1.7M580.6 124.5h1.7M623.7 122.7h1.7M592.3 119.5h1.7M550.5 132.4h1.7M588 137.7h1.7M549.5 100.9h1.7M566.9 121.3h1.7M537.4 146.1h1.7M560.2 167.6h1.7M543.1 114.1h1.7M556 172.7h1.7M560.9 179.7h1.7M569.8 155.3h1.7M519.1 165.6h1.7M580.5 136.5h1.7M562.7 121.1h1.7M527.6 168.9h1.7M579.4 179.1h1.7M614.3 129.2h1.7M578.6 125.9h1.7M541.9 165.5h1.7M565.2 134.3h1.7M556.4 136.2h1.7M555.3 152.8h1.7M570.8 116.2h1.7M552.5 152.2h1.7M577.1 148h1.7M581.5 92h1.7M617 124.6h1.7M578.3 127.1h1.7M555.3 152.5h1.7M569.6 101.1h1.7M544.6 137h1.7M561 93.1h1.7M561.2 153.2h1.7M557.3 161.1h1.7M602.3 104.4h1.7M576.4 101.1h1.7" stroke="#2A9D8F" stroke-opacity="0.32" stroke-width="1.7" fill="none"/><path d="M540.9 138.5h1.7M572.6 118.3h1.7M565.2 135h1.7M539 135.9h1.7M560.8 116.9h1.7M566.4 111.7h1.7M570.4 111.5h1.7M561.7 138.6h1.7M598.2 95.7h1.7M563.8 95.6h1.7M561.3 121.5h1.7M550.6 128.2h1.7M548.6 134.6h1.7M580.1 105.8h1.7M550.5 106.4h1.7M581 115.5h1.7M550.5 83.8h1.7M565.3 109.7h1.7M602.6 85.2h1.7M564.5 157.4h1.7M554 127.8h1.7M583.8 131.3h1.7M553.1 125.3h1.7M532.5 102.3h1.7M531.2 151h1.7M544.4 125.3h1.7M559.9 114.6h1.7M568.5 109.5h1.7M562.2 139.9h1.7M552.1 103.3h1.7M554.7 116.4h1.7M573.3 108.1h1.7M546.5 87.9h1.7M559 109h1.7M577.8 118.4h1.7M557.4 111.3h1.7M565 120.6h1.7M552.9 114.3h1.7M559.1 113.4h1.7M550 135.6h1.7M565 127.3h1.7M567.4 108.2h1.7M600.5 93.7h1.7M589.3 107.2h1.7M551.9 125.2h1.7M538.4 125.2h1.7M527 111.9h1.7M534.8 121.3h1.7M569.8 102.4h1.7M539.3 141.7h1.7M552.1 133.6h1.7M550.9 122.9h1.7M574.1 127h1.7M568.9 113h1.7M571.1 130h1.7M549.7 129.8h1.7M562.5 120.1h1.7M545.8 128.6h1.7M554.6 115.4h1.7M569.5 103.9h1.7M559.7 120.1h1.7M559.3 130h1.7M559 103.8h1.7M558.2 100.8h1.7M574.1 105.5h1.7M583 102.7h1.7M559.8 123.8h1.7M559.2 130h1.7M577.1 111h1.7M574.3 115h1.7" stroke="#E9A03F" stroke-opacity="0.32" stroke-width="1.7" fill="none"/><path d="M565.7 105.3h1.7M588.3 88.2h1.7M552.9 113.1h1.7M571.3 112.1h1.7M572.8 108h1.7M572.8 127.8h1.7M556.2 97h1.7M535.4 131.8h1.7M554.7 135.3h1.7M531.4 141.8h1.7M576.7 116.6h1.7M545.1 130.4h1.7M555.7 124.3h1.7M573.2 128.8h1.7M542.6 136.6h1.7M565.9 130.1h1.7M566.5 122.7h1.7M583.4 111h1.7M554.4 116.9h1.7M559 124.4h1.7M555.7 119.4h1.7M528.5 90.6h1.7M566.3 127.2h1.7M574.4 98.3h1.7M561 125.9h1.7M578.6 119.2h1.7M560.3 115.9h1.7M562.5 112.6h1.7M551.5 121.5h1.7M559.1 127.4h1.7M583.7 100.6h1.7M566 115.7h1.7M578.2 109.8h1.7M536.2 79.1h1.7M562.6 106.8h1.7M556.6 110.3h1.7M545.3 118.9h1.7M558.3 109.6h1.7M573.8 110.2h1.7M542.6 143.9h1.7M579.5 95.7h1.7M567.4 116.3h1.7M581.3 99.5h1.7M550.8 143.7h1.7M549.5 133.2h1.7M572.6 105.3h1.7M556.2 125.4h1.7M574.1 101.5h1.7M572 109.5h1.7M522 100.1h1.7M588.1 103.7h1.7M558.4 103.6h1.7M560.4 108.3h1.7M551.6 127.8h1.7M555.2 95.5h1.7M574.1 91.3h1.7M564.8 108.2h1.7M560.8 125.9h1.7M537.9 128.2h1.7M561.6 112.9h1.7M554.6 126.8h1.7M563.5 114.1h1.7M549.8 82.2h1.7M534.5 94h1.7M573.6 109.7h1.7M541.6 138.6h1.7M568 120h1.7M550.5 121.5h1.7M576.2 124.7h1.7M533.4 110.1h1.7" stroke="#E9A03F" stroke-opacity="0.32" stroke-width="1.7" fill="none"/><path d="M591.8 92.6h1.7M563 124.1h1.7M593.4 109.5h1.7M551.1 136.6h1.7M567.3 105.3h1.7M554.4 126.6h1.7M528.3 150.1h1.7M554.5 79.3h1.7M571.6 117.7h1.7M572.1 122.6h1.7M555.8 104.4h1.7M538.4 120.9h1.7M593.4 102.3h1.7M592.4 85h1.7M526.2 88.3h1.7M533.9 94.2h1.7M532.8 90.5h1.7M561.9 160.7h1.7M554 83.9h1.7M539.6 149h1.7M563.3 119.9h1.7M580 116.7h1.7M565.4 108.3h1.7M567.3 124.8h1.7M505.7 108.6h1.7M579.7 113.9h1.7M551.1 136.3h1.7M583.3 108h1.7M588.7 114.7h1.7M559.2 135.9h1.7M568.5 111.5h1.7M582 92.2h1.7M560.8 125.4h1.7M552.8 125.5h1.7M573.5 124.3h1.7M534.4 85.3h1.7M591.6 96.4h1.7M564.3 98.9h1.7M565 130.5h1.7M566.2 131.3h1.7M560.2 126.7h1.7M549.3 111.6h1.7M547.5 124h1.7M561.9 110.5h1.7M560 109.4h1.7M559 100h1.7M572.5 90.1h1.7M564.6 120.9h1.7M554 141.7h1.7M565.9 102.9h1.7M563.2 122.3h1.7M548 129.1h1.7M593.8 86.6h1.7M567.9 116.8h1.7M550.9 129.2h1.7M532.1 118.9h1.7M553.6 125.5h1.7M580 110.7h1.7M549.9 139.8h1.7M550.6 114.2h1.7M555.4 140.2h1.7M560.1 137.7h1.7M568.4 112.1h1.7M574.7 127.3h1.7M585 108h1.7M539.7 136.8h1.7M535.2 94.9h1.7M562.1 133.7h1.7M552.6 120.3h1.7M567.4 105.8h1.7" stroke="#E9A03F" stroke-opacity="0.32" stroke-width="1.7" fill="none"/><path d="M542.6 136.6h1.7M565.5 98.8h1.7M559.3 115h1.7M519.4 146.5h1.7M597.3 67.5h1.7M579.8 126.5h1.7M578.8 117.6h1.7M536.6 155.9h1.7M558.8 84.7h1.7M582.4 97.4h1.7M572.9 124.3h1.7M530.3 101.4h1.7M570.2 110.7h1.7M585.5 84.7h1.7M578.2 124.5h1.7M550.4 98.2h1.7M551.6 133.1h1.7M577.4 104.9h1.7M564.3 105.6h1.7M553.2 93.6h1.7M554.3 138.4h1.7M573.9 124.7h1.7M538.8 144.2h1.7M598.8 94.9h1.7M539.5 92.4h1.7M564 127.9h1.7M594.9 102.1h1.7M566.7 133h1.7M571.4 126.7h1.7M566 128.8h1.7M565 133.9h1.7M572.1 129.8h1.7M552.6 133.4h1.7M555.9 113.4h1.7M573.4 109.9h1.7M559.2 117.7h1.7M580 115.6h1.7M573.5 119.1h1.7M540.3 144.3h1.7M564.1 119.9h1.7M565.2 108.2h1.7M524 106.3h1.7M511.9 189h1.7M530.5 80.2h1.7M534.1 87.8h1.7M551.8 128.3h1.7M518 81.4h1.7M553.1 82.3h1.7M590.2 93.5h1.7M590.6 120.2h1.7M551.3 134.4h1.7M569.8 114.2h1.7M576.9 108.2h1.7M573 122.8h1.7M566.1 117.7h1.7M560 106.8h1.7M580.8 93.6h1.7M556.1 122h1.7M536.3 139.7h1.7M555.6 126.5h1.7M566.4 109.6h1.7M543.9 141.9h1.7M560.8 122.3h1.7M540.7 134.7h1.7M565.2 103.9h1.7M556.6 138.8h1.7M534 146.1h1.7M547.2 126.8h1.7M570.3 107.2h1.7M572.3 118.2h1.7" stroke="#E9A03F" stroke-opacity="0.32" stroke-width="1.7" fill="none"/><path d="M553.7 125.5h1.7M536.4 145.6h1.7M586 102.1h1.7M575.5 97.8h1.7M583.3 101.4h1.7M568.1 121.1h1.7M563.3 117.5h1.7M568.2 115.8h1.7M524.3 95.8h1.7M557.7 138.6h1.7M570.8 120h1.7M576.4 78.5h1.7M557.6 110.8h1.7M582.3 79.6h1.7M565.7 117.7h1.7M576.6 102.9h1.7M542.2 139.5h1.7M583.1 111.7h1.7M559 125.5h1.7M578.4 118.2h1.7M582.4 98.8h1.7M536.1 127.5h1.7M573 119.1h1.7M556.9 109.6h1.7M584.4 85.6h1.7M558.2 149.8h1.7M559.6 113.8h1.7M502.9 170.5h1.7M563 117.8h1.7M563.9 118.4h1.7M585.1 92.6h1.7M605.8 110.1h1.7M570.1 121.3h1.7M594.7 72h1.7M569.3 109.3h1.7M551.8 134.4h1.7M560 118.8h1.7M563.6 115.2h1.7M547.6 119.3h1.7M531.1 146.3h1.7M530.9 97.2h1.7M554.3 127.2h1.7M565.6 127.8h1.7M526.8 97.3h1.7M534.4 120.5h1.7M561.6 139.3h1.7M546.3 107.2h1.7M537.3 73.7h1.7M580.5 114.6h1.7M537.4 135.9h1.7M554.2 116.8h1.7M557.5 114.4h1.7M546.4 128.7h1.7M565.3 126.7h1.7M586.7 87.3h1.7M542.4 86.2h1.7M569.6 93.7h1.7M565 127.5h1.7M542.9 143h1.7M564 97h1.7M560.9 124.3h1.7M555.7 182.1h1.7M540.2 137.7h1.7M554.2 142h1.7M538.5 120.6h1.7M577.5 122.8h1.7M559.7 123.6h1.7M549.9 125h1.7M521.7 102.1h1.7" stroke="#E9A03F" stroke-opacity="0.32" stroke-width="1.7" fill="none"/><path d="M566.2 113.4h1.7M570.6 116.1h1.7M547.5 148.4h1.7M592.2 97.9h1.7M567.6 119.3h1.7M568.6 113.6h1.7M574.5 106.9h1.7M586.6 91.1h1.7M579.9 98.3h1.7M542.7 130.6h1.7M570.8 133.6h1.7M581.8 107.1h1.7M559.2 114.4h1.7M545.3 131.6h1.7M552.6 74.4h1.7M571.3 101.8h1.7M568.3 102.3h1.7M591.9 83.8h1.7M576.6 107.1h1.7M550.1 123.9h1.7M595.6 102.3h1.7M576.2 73.1h1.7M563.1 121.5h1.7M541.3 114h1.7M563.8 123h1.7M565.8 126.3h1.7M537.9 145.1h1.7M567.4 113.5h1.7M559.4 127.5h1.7M574 126.7h1.7M527.7 87h1.7M552.9 123.8h1.7M563.5 80.7h1.7M568.3 111.1h1.7M565.8 123.3h1.7M553.4 114.1h1.7M596.9 87.2h1.7M581.3 130.6h1.7M554.7 144.4h1.7M572.9 115.8h1.7M577.6 105.5h1.7M561.7 125h1.7M590.6 107h1.7M590.1 110.3h1.7M620 65.6h1.7M567.4 89.7h1.7M547.6 126.2h1.7M536.6 133.1h1.7M565.8 100.8h1.7M558.2 115.8h1.7M571.8 91.1h1.7M561.2 68.4h1.7M550.1 127.2h1.7M561.2 98.7h1.7M529 102.1h1.7M559.6 122.1h1.7M568.5 126.5h1.7M563.7 115.3h1.7M566.3 134.4h1.7M556.4 126.6h1.7M557.1 122h1.7M570.3 115.8h1.7M567.2 104.1h1.7M571.3 116.5h1.7M569.8 87.4h1.7M550.3 93.3h1.7M544.8 143.5h1.7M553.3 139.9h1.7M577.3 98.2h1.7" stroke="#E9A03F" stroke-opacity="0.32" stroke-width="1.7" fill="none"/><path d="M576.1 161h1.7M570.1 173.3h1.7M560.1 151.3h1.7M554 166h1.7M557.4 174.7h1.7M567.2 153.2h1.7M569.1 179.1h1.7M560.5 148.6h1.7M535.4 146.9h1.7M586.2 163.4h1.7M585.3 177.3h1.7M616 172.1h1.7M528.5 176.4h1.7M549.4 166.5h1.7M553.2 115.8h1.7M593.3 165.2h1.7M572.9 174.8h1.7M571 154.7h1.7M579.3 146.2h1.7M571.5 179.4h1.7M555.4 151.8h1.7M573.6 170h1.7M567.2 180.5h1.7M578.4 175h1.7M600.8 176.3h1.7M573 144.6h1.7M596.2 166.7h1.7M574.6 168h1.7M561.6 170.9h1.7M566.3 162.6h1.7M597 167h1.7M555.9 154.2h1.7M583.4 151.6h1.7M596 148.3h1.7M588.9 184.3h1.7M572.5 179.9h1.7M587.6 160.6h1.7M590.4 163.8h1.7M550.9 125.4h1.7M599.4 155.8h1.7M576.8 191.2h1.7M563.9 157.7h1.7M562.7 176.5h1.7M566.5 160.1h1.7M537 161.4h1.7M600.1 186h1.7M587.6 176.5h1.7M604.7 156.1h1.7M572.6 143.1h1.7M598.3 179.4h1.7M560.2 173.2h1.7M570.1 176.5h1.7M561.2 189h1.7M555.4 171.6h1.7M558.2 174.9h1.7M572.4 154h1.7M585.2 213.4h1.7M589.7 156.8h1.7M570.3 189.7h1.7M555.3 184.5h1.7M576.2 173.5h1.7M604.3 155.2h1.7M580.8 172.8h1.7M590.9 145.8h1.7M545.1 164.3h1.7M613 167.9h1.7M576.4 156.7h1.7M572.6 195.5h1.7M571.9 127.3h1.7M594.4 189.3h1.7" stroke="#E3434F" stroke-opacity="0.32" stroke-width="1.7" fill="none"/><path d="M593.6 180.6h1.7M564.6 169.8h1.7M569 159.4h1.7M586.8 183.3h1.7M556.6 168h1.7M590.2 159.2h1.7M556.4 158.3h1.7M574.8 189.5h1.7M605.8 165h1.7M542.3 168.8h1.7M582 162.4h1.7M597.5 138.1h1.7M572 167.4h1.7M613.6 161.5h1.7M586.5 139.2h1.7M557.2 169.2h1.7M574.7 173.8h1.7M570.5 182.2h1.7M567.5 151.2h1.7M565.1 149.6h1.7M573 179h1.7M569.3 146.6h1.7M570.9 187.1h1.7M580.8 169.4h1.7M557.4 188.4h1.7M608.3 151.5h1.7M578.1 180.8h1.7M591.2 139.2h1.7M563.5 135.3h1.7M550.5 177.7h1.7M582.2 167.7h1.7M610.6 149h1.7M573.3 173.2h1.7M550.1 146.9h1.7M563.9 166.1h1.7M557.5 162.2h1.7M569.9 147.8h1.7M595.5 168h1.7M578.2 151.2h1.7M587.8 174.5h1.7M580.3 174.5h1.7M594 190.9h1.7M585.5 188.9h1.7M543 158.8h1.7M592.2 161.8h1.7M556.2 159.5h1.7M570.1 151.3h1.7M605.6 159.7h1.7M567.6 177.3h1.7M560.8 187.3h1.7M563.9 172h1.7M566.4 193.5h1.7M574.8 176.3h1.7M577.2 170h1.7M569.1 166h1.7M573.6 177.8h1.7M554 160.4h1.7M545.6 166.8h1.7M583.5 180.9h1.7M568.9 152.3h1.7M581.1 183.6h1.7M590 174.8h1.7M557.4 155.8h1.7M558.8 163.8h1.7M562.7 170.6h1.7M596.6 154.9h1.7M599.6 187.7h1.7M551.3 180.7h1.7M576.3 180.6h1.7M588.7 190.7h1.7" stroke="#E3434F" stroke-opacity="0.32" stroke-width="1.7" fill="none"/><path d="M556.9 140.9h1.7M558.1 157.8h1.7M571.8 164.1h1.7M595.2 156.1h1.7M586.1 185.6h1.7M563.7 194.3h1.7M580 152.2h1.7M572.7 170.5h1.7M565 168.1h1.7M592.7 209.1h1.7M601.4 170.7h1.7M637.6 176.3h1.7M606.4 164.6h1.7M599 172.1h1.7M598.4 184h1.7M593.8 176.5h1.7M587.1 148.7h1.7M583.1 184.5h1.7M581.8 194.2h1.7M554.8 181.6h1.7M582.3 169h1.7M575.3 166.5h1.7M579.6 167.5h1.7M586.5 170.5h1.7M579 183.3h1.7M609.3 155.4h1.7M578.5 186.1h1.7M565.2 162h1.7M602.6 176h1.7M560.3 136.2h1.7M541.6 161.3h1.7M599.8 166.5h1.7M564.7 151h1.7M603.7 151.1h1.7M583.7 186.1h1.7M570.8 173.4h1.7M640.7 137.7h1.7M581.7 182.1h1.7M577.4 158.6h1.7M587.9 142.5h1.7M582.6 191.9h1.7M552.8 155.8h1.7M562.2 171.5h1.7M595.7 117h1.7M571.9 150.9h1.7M575.3 174.5h1.7M587.7 164.7h1.7M606.6 140.4h1.7M580.4 193.1h1.7M602.1 185.7h1.7M562.8 168.8h1.7M569.4 160.4h1.7M540.6 168h1.7M624.2 170.3h1.7M540 167.5h1.7M599 144.6h1.7M577.3 149.8h1.7M558.5 177.2h1.7M600.6 184.3h1.7M595.6 181.2h1.7M580.9 167.7h1.7M570.4 157.5h1.7M586.8 143.7h1.7M589.1 175.5h1.7M554.3 152.8h1.7M563 177.6h1.7M581.7 133h1.7M571.8 189.8h1.7M580.7 165.7h1.7M585.1 185.8h1.7" stroke="#E3434F" stroke-opacity="0.32" stroke-width="1.7" fill="none"/><path d="M564.6 174.2h1.7M580.8 150.8h1.7M556.4 171h1.7M607.4 166h1.7M587.8 187.7h1.7M538.8 147h1.7M553.8 150.3h1.7M557.4 167.5h1.7M575.9 185.4h1.7M609.9 169.6h1.7M554.5 170.3h1.7M600.8 170.9h1.7M580.4 147.4h1.7M549.1 177.5h1.7M544.2 154.7h1.7M569.4 193.8h1.7M541.1 172.5h1.7M562.9 183.7h1.7M590.8 178.7h1.7M583.2 175h1.7M579.3 189.7h1.7M556.8 164.9h1.7M547.1 160.1h1.7M570.7 180.1h1.7M569.5 188.1h1.7M587 145.8h1.7M548.7 184.8h1.7M564 149.7h1.7M545.9 162.9h1.7M563.1 181.1h1.7M575.7 180.4h1.7M585.9 176.2h1.7M607.2 171.5h1.7M586 190.1h1.7M577.6 167h1.7M612.6 172.2h1.7M618.7 160.1h1.7M590.9 182.7h1.7M570.9 168.6h1.7M578.6 170.3h1.7M562.2 146.3h1.7M574.3 167.3h1.7M544.7 153.1h1.7M617.2 165h1.7M604.6 155.4h1.7M557.8 190.7h1.7M612.5 147.3h1.7M582.5 179h1.7M600.7 145.7h1.7M601.7 157.3h1.7M613.1 155.6h1.7M584.5 164.5h1.7M578.5 137h1.7M580 145.3h1.7M546.4 162.1h1.7M575.1 181.5h1.7M592.2 152.2h1.7M604.2 160.4h1.7M631 147.7h1.7M581.6 169.6h1.7M574 176.2h1.7M562.9 163.9h1.7M602.1 194.7h1.7M555.3 182.2h1.7M584.2 130h1.7M591.7 154.9h1.7M581.6 194h1.7M586.2 157.2h1.7M581.5 165.6h1.7M564.4 180.2h1.7" stroke="#E3434F" stroke-opacity="0.32" stroke-width="1.7" fill="none"/><path d="M590.2 165.1h1.7M576.2 189.5h1.7M598.2 188h1.7M609 172.3h1.7M539.8 156.9h1.7M594.5 166.2h1.7M601.3 128.7h1.7M582.8 174.2h1.7M564.6 170.3h1.7M567.8 156.7h1.7M580.9 173.9h1.7M588.1 184.5h1.7M579.4 168.4h1.7M635.8 186.4h1.7M575 146.1h1.7M604.7 148.8h1.7M598.8 177.3h1.7M601.4 170.3h1.7M596.6 165.4h1.7M588.6 162.5h1.7M565.1 159.4h1.7M580.9 196.4h1.7M549.3 162.1h1.7M591.9 181.1h1.7M546.8 171.4h1.7M572.3 183.4h1.7M554.5 168.7h1.7M556.1 165.4h1.7M567.2 164.9h1.7M601.8 156.9h1.7M573.1 159.7h1.7M573.5 186.9h1.7M576.7 153.9h1.7M571 172.7h1.7M589.5 177.5h1.7M599.3 188.3h1.7M557.4 174.1h1.7M562.2 169.6h1.7M592.2 163.5h1.7M580.7 164.3h1.7M557.5 162.3h1.7M574.4 159.4h1.7M593.2 172.6h1.7M553.4 139.6h1.7M554.6 140.6h1.7M586.9 146.6h1.7M597.3 141.4h1.7M573.8 176h1.7M576.3 184h1.7M592.5 163.4h1.7M528.5 146.1h1.7M585.1 159.4h1.7M582.5 179.7h1.7M583.9 191.4h1.7M558.3 164.5h1.7M596.4 160.5h1.7M583.3 149.5h1.7M534.1 197.1h1.7M578.9 174.6h1.7M576.7 164.7h1.7M574.1 166.2h1.7M579 172.7h1.7M548.2 155.6h1.7M604.8 171.7h1.7M556.2 152h1.7M525 167.1h1.7M574.6 115.4h1.7M589 174.3h1.7M592.2 154.5h1.7" stroke="#E3434F" stroke-opacity="0.32" stroke-width="1.7" fill="none"/><path d="M568.8 144.9h1.7M564.9 163.8h1.7M568.2 170.4h1.7M594.2 173.1h1.7M561.6 171.9h1.7M589.1 172.6h1.7M595.5 164.6h1.7M588.7 195.1h1.7M551.1 154.7h1.7M582.6 164.5h1.7M593.1 191.1h1.7M562.3 161h1.7M597.9 165.5h1.7M550.1 166.3h1.7M569 163.6h1.7M553.7 156.5h1.7M571.5 178.1h1.7M561.8 145.6h1.7M601.5 173.3h1.7M566.8 204.3h1.7M596.4 167.6h1.7M565.7 151.8h1.7M621.6 164.8h1.7M589.2 193.4h1.7M555.9 148.8h1.7M572.9 168h1.7M571.3 180.5h1.7M592.1 166.8h1.7M534.8 162.2h1.7M574.5 180.5h1.7M570.4 176.4h1.7M578.9 195.7h1.7M586.5 172.6h1.7M577.4 138.3h1.7M561.5 168.2h1.7M602.8 202.8h1.7M587.9 146.4h1.7M591.6 169h1.7M553.2 173.4h1.7M575.1 142.3h1.7M579.3 188.9h1.7M540 145.6h1.7M608.2 161.8h1.7M571.4 172.3h1.7M560.2 149.3h1.7M527.8 146.8h1.7M583.5 203.3h1.7M570.9 180.1h1.7M564.1 162.4h1.7M527 161.9h1.7M590.9 173.6h1.7M562.8 175.5h1.7M564.7 157.3h1.7M563 197.6h1.7M625.9 161.3h1.7M577.9 195.7h1.7M556.1 176h1.7M600.8 164.4h1.7M571.3 191.1h1.7M602.7 196.3h1.7M603.4 182.7h1.7M616.1 162.3h1.7M596.7 190.9h1.7M584.2 187.7h1.7M595.9 190.6h1.7M582.2 182.8h1.7M558.5 135.9h1.7M591.7 199.3h1.7M561 184.9h1.7" stroke="#E3434F" stroke-opacity="0.32" stroke-width="1.7" fill="none"/><ellipse cx="550.2" cy="146.8" rx="43.01" ry="26.31" transform="rotate(128.24 550.2 146.8)" fill="none" stroke="#4E79A7" stroke-width="0.95"/><ellipse cx="562.7" cy="143.8" rx="48.26" ry="42.68" transform="rotate(107.21 562.7 143.8)" fill="none" stroke="#2A9D8F" stroke-width="0.95"/><ellipse cx="561.7" cy="121.7" rx="51.01" ry="21.90" transform="rotate(134.89 561.7 121.7)" fill="none" stroke="#E9A03F" stroke-width="0.95"/><ellipse cx="577.8" cy="173.2" rx="41.84" ry="32.98" transform="rotate(-168.12 577.8 173.2)" fill="none" stroke="#E3434F" stroke-width="0.95"/></g><path d="M482.5 63.4H649.9V232H482.5Z" fill="none" stroke="#3a3a3a" stroke-width="0.9"/><text x="491.7" y="240.8" font-size="7.9" fill="#4D4D4D" text-anchor="middle">−6</text><text x="530.3" y="240.8" font-size="7.9" fill="#4D4D4D" text-anchor="middle">−3</text><text x="567.1" y="240.8" font-size="7.9" fill="#4D4D4D" text-anchor="middle">0</text><text x="605.5" y="240.8" font-size="7.9" fill="#4D4D4D" text-anchor="middle">3</text><text x="643.4" y="240.8" font-size="7.9" fill="#4D4D4D" text-anchor="middle">6</text><text x="479.3" y="73" font-size="7.9" fill="#4D4D4D" text-anchor="end">10</text><text x="479.3" y="112.2" font-size="7.9" fill="#4D4D4D" text-anchor="end">5</text><text x="479.3" y="150.6" font-size="7.9" fill="#4D4D4D" text-anchor="end">0</text><text x="479.3" y="189.2" font-size="7.9" fill="#4D4D4D" text-anchor="end">−5</text><text x="479.3" y="227.8" font-size="7.9" fill="#4D4D4D" text-anchor="end">−10</text><path d="M482 70.3h-2M482 109.6h-2M482 147.9h-2M482 186.5h-2M482 225.1h-2" stroke="#555" stroke-width="0.7"/><path d="M491.7 232.5v1.6M530.3 232.5v1.6M567.1 232.5v1.6M605.5 232.5v1.6M643.4 232.5v1.6" stroke="#aaa" stroke-width="0.6"/><text x="565.9" y="251.2" font-size="9.1" fill="#000" text-anchor="middle">PCA3 (9.3%)</text><text x="464.8" y="147.2" font-size="7.96" fill="#000" text-anchor="middle" transform="rotate(-90 464.8 147.2)">PCA1 (34.9%)</text><text x="471" y="31.4" font-size="12.4" fill="#000">(c)</text>
<path d="M28.8 349.3L28.8 349.2L31 349.1L33.3 348.8L35.5 348.4L37.8 347.8L40 347.3L42.3 346.5L44.5 345.5L46.8 344.3L49 343L51.3 341.5L53.5 339.9L55.8 338.3L58 337L60.3 335.6L62.5 334.6L64.8 334.3L67 334.5L69.3 334.7L71.5 335.2L73.8 335.6L76 335.5L78.3 335.4L80.5 335L82.7 334.2L85 333L87.2 331.8L89.5 330.1L91.7 328.3L94 326.6L96.2 325.1L98.5 323.7L100.7 322.5L103 321.8L105.2 321.3L107.5 321.4L109.7 325.1L112 326.9L114.2 328.2L116.5 329.5L118.7 330.7L121 331.8L123.2 332.9L125.5 334.1L127.7 335.5L130 336.8L132.2 338L134.4 339.2L136.7 340.3L138.9 341.4L141.2 342.6L143.4 343.8L145.7 344.9L147.9 345.7L150.2 346.4L152.4 346.9L154.7 347.4L156.9 347.7L159.2 348L161.4 348.2L163.7 348.4L165.9 348.6L168.2 348.7L170.4 348.8L172.7 348.9L174.9 349L177.2 349.1L179.4 349.1L181.7 349.2L183.9 349.2L183.9 349.3Z" fill="#4E79A7" fill-opacity="0.25"/><path d="M28.8 349.2 L31 349.1 L33.3 348.8 L35.5 348.4 L37.8 347.8 L40 347.3 L42.3 346.5 L44.5 345.5 L46.8 344.3 L49 343 L51.3 341.5 L53.5 339.9 L55.8 338.3 L58 337 L60.3 335.6 L62.5 334.6 L64.8 334.3 L67 334.5 L69.3 334.7 L71.5 335.2 L73.8 335.6 L76 335.5 L78.3 335.4 L80.5 335 L82.7 334.2 L85 333 L87.2 331.8 L89.5 330.1 L91.7 328.3 L94 326.6 L96.2 325.1 L98.5 323.7 L100.7 322.5 L103 321.8 L105.2 321.3 L107.5 321.4 L109.7 325.1 L112 326.9 L114.2 328.2 L116.5 329.5 L118.7 330.7 L121 331.8 L123.2 332.9 L125.5 334.1 L127.7 335.5 L130 336.8 L132.2 338 L134.4 339.2 L136.7 340.3 L138.9 341.4 L141.2 342.6 L143.4 343.8 L145.7 344.9 L147.9 345.7 L150.2 346.4 L152.4 346.9 L154.7 347.4 L156.9 347.7 L159.2 348 L161.4 348.2 L163.7 348.4 L165.9 348.6 L168.2 348.7 L170.4 348.8 L172.7 348.9 L174.9 349 L177.2 349.1 L179.4 349.1 L181.7 349.2 L183.9 349.2" fill="none" stroke="#4E79A7" stroke-width="0.6"/><path d="M28.8 349.3L28.8 349.3L31 349.2L33.3 349.1L35.5 349.1L37.8 349.1L40 349.1L42.3 349.1L44.5 349L46.8 348.9L49 348.5L51.3 348.1L53.5 347.5L55.8 346.8L58 346.1L60.3 345.1L62.5 343.9L64.8 342.4L67 340.1L69.3 337.4L71.5 334.8L73.8 332.5L76 330.2L78.3 328.1L80.5 326L82.7 323.9L85 322L87.2 320.7L89.5 319.7L91.7 318.9L94 318.6L96.2 318.6L98.5 318.8L100.7 318.9L103 319.2L105.2 319.7L107.5 320.7L109.7 323.2L112 325L114.2 326.7L116.5 328.2L118.7 329.7L121 331L123.2 332.3L125.5 333.5L127.7 334.6L130 335.6L132.2 336.8L134.4 338.3L136.7 339.9L138.9 341.4L141.2 342.6L143.4 343.9L145.7 344.9L147.9 345.7L150.2 346.4L152.4 346.9L154.7 347.4L156.9 347.7L159.2 348L161.4 348.3L163.7 348.5L165.9 348.7L168.2 348.8L170.4 348.9L172.7 349L174.9 349L177.2 349L179.4 349.1L181.7 349.1L183.9 349.3L183.9 349.3Z" fill="#2A9D8F" fill-opacity="0.25"/><path d="M28.8 349.3 L31 349.2 L33.3 349.1 L35.5 349.1 L37.8 349.1 L40 349.1 L42.3 349.1 L44.5 349 L46.8 348.9 L49 348.5 L51.3 348.1 L53.5 347.5 L55.8 346.8 L58 346.1 L60.3 345.1 L62.5 343.9 L64.8 342.4 L67 340.1 L69.3 337.4 L71.5 334.8 L73.8 332.5 L76 330.2 L78.3 328.1 L80.5 326 L82.7 323.9 L85 322 L87.2 320.7 L89.5 319.7 L91.7 318.9 L94 318.6 L96.2 318.6 L98.5 318.8 L100.7 318.9 L103 319.2 L105.2 319.7 L107.5 320.7 L109.7 323.2 L112 325 L114.2 326.7 L116.5 328.2 L118.7 329.7 L121 331 L123.2 332.3 L125.5 333.5 L127.7 334.6 L130 335.6 L132.2 336.8 L134.4 338.3 L136.7 339.9 L138.9 341.4 L141.2 342.6 L143.4 343.9 L145.7 344.9 L147.9 345.7 L150.2 346.4 L152.4 346.9 L154.7 347.4 L156.9 347.7 L159.2 348 L161.4 348.3 L163.7 348.5 L165.9 348.7 L168.2 348.8 L170.4 348.9 L172.7 349 L174.9 349 L177.2 349 L179.4 349.1 L181.7 349.1 L183.9 349.3" fill="none" stroke="#2A9D8F" stroke-width="0.6"/><path d="M28.8 349.3L28.8 349.3L31 349.2L33.3 349.1L35.5 349.1L37.8 349.1L40 349.1L42.3 349.1L44.5 349.1L46.8 349.1L49 349L51.3 348.9L53.5 348.7L55.8 348.3L58 347.7L60.3 347L62.5 346.3L64.8 345.2L67 343.8L69.3 342.1L71.5 340.4L73.8 338.4L76 336L78.3 333.7L80.5 331.6L82.7 329.4L85 327.5L87.2 326.2L89.5 325.2L91.7 324.8L94 324.9L96.2 325.2L98.5 325.5L100.7 325.9L103 326.3L105.2 326.7L107.5 327.6L109.7 329.2L112 329.8L114.2 330.2L116.5 330.4L118.7 330.4L121 330.4L123.2 330.4L125.5 330.4L127.7 330.7L130 331.2L132.2 331.7L134.4 332.3L136.7 333.1L138.9 334L141.2 334.9L143.4 335.9L145.7 336.8L147.9 337.6L150.2 338.4L152.4 339.1L154.7 339.9L156.9 340.8L159.2 341.7L161.4 342.7L163.7 343.8L165.9 345L168.2 346L170.4 346.6L172.7 347L174.9 347.4L177.2 347.8L179.4 348.3L181.7 348.8L183.9 349.3L183.9 349.3Z" fill="#E9A03F" fill-opacity="0.25"/><path d="M28.8 349.3 L31 349.2 L33.3 349.1 L35.5 349.1 L37.8 349.1 L40 349.1 L42.3 349.1 L44.5 349.1 L46.8 349.1 L49 349 L51.3 348.9 L53.5 348.7 L55.8 348.3 L58 347.7 L60.3 347 L62.5 346.3 L64.8 345.2 L67 343.8 L69.3 342.1 L71.5 340.4 L73.8 338.4 L76 336 L78.3 333.7 L80.5 331.6 L82.7 329.4 L85 327.5 L87.2 326.2 L89.5 325.2 L91.7 324.8 L94 324.9 L96.2 325.2 L98.5 325.5 L100.7 325.9 L103 326.3 L105.2 326.7 L107.5 327.6 L109.7 329.2 L112 329.8 L114.2 330.2 L116.5 330.4 L118.7 330.4 L121 330.4 L123.2 330.4 L125.5 330.4 L127.7 330.7 L130 331.2 L132.2 331.7 L134.4 332.3 L136.7 333.1 L138.9 334 L141.2 334.9 L143.4 335.9 L145.7 336.8 L147.9 337.6 L150.2 338.4 L152.4 339.1 L154.7 339.9 L156.9 340.8 L159.2 341.7 L161.4 342.7 L163.7 343.8 L165.9 345 L168.2 346 L170.4 346.6 L172.7 347 L174.9 347.4 L177.2 347.8 L179.4 348.3 L181.7 348.8 L183.9 349.3" fill="none" stroke="#E9A03F" stroke-width="0.6"/><path d="M28.8 349.3L28.8 349.3L31 349.2L33.3 349.1L35.5 349.1L37.8 349.1L40 349.1L42.3 349.1L44.5 349.1L46.8 349.1L49 349L51.3 348.9L53.5 348.7L55.8 348.3L58 347.7L60.3 347L62.5 346.2L64.8 345L67 342.9L69.3 340.4L71.5 337.9L73.8 335.6L76 333.1L78.3 330.6L80.5 328L82.7 325.2L85 323.7L87.2 322.8L89.5 322.3L91.7 322.5L94 323.2L96.2 324.1L98.5 325.5L100.7 327.4L103 328.6L105.2 329.4L107.5 330L109.7 330.5L112 330.8L114.2 331.2L116.5 331.4L118.7 331.5L121 331.5L123.2 331.6L125.5 331.7L127.7 332L130 332.5L132.2 333L134.4 333.6L136.7 334.4L138.9 335.2L141.2 336.1L143.4 337L145.7 338L147.9 338.9L150.2 339.9L152.4 340.8L154.7 341.7L156.9 342.7L159.2 343.7L161.4 344.5L163.7 345.3L165.9 345.9L168.2 346.5L170.4 347L172.7 347.4L174.9 347.7L177.2 348.1L179.4 348.5L181.7 348.8L183.9 349.3L183.9 349.3Z" fill="#E3434F" fill-opacity="0.25"/><path d="M28.8 349.3 L31 349.2 L33.3 349.1 L35.5 349.1 L37.8 349.1 L40 349.1 L42.3 349.1 L44.5 349.1 L46.8 349.1 L49 349 L51.3 348.9 L53.5 348.7 L55.8 348.3 L58 347.7 L60.3 347 L62.5 346.2 L64.8 345 L67 342.9 L69.3 340.4 L71.5 337.9 L73.8 335.6 L76 333.1 L78.3 330.6 L80.5 328 L82.7 325.2 L85 323.7 L87.2 322.8 L89.5 322.3 L91.7 322.5 L94 323.2 L96.2 324.1 L98.5 325.5 L100.7 327.4 L103 328.6 L105.2 329.4 L107.5 330 L109.7 330.5 L112 330.8 L114.2 331.2 L116.5 331.4 L118.7 331.5 L121 331.5 L123.2 331.6 L125.5 331.7 L127.7 332 L130 332.5 L132.2 333 L134.4 333.6 L136.7 334.4 L138.9 335.2 L141.2 336.1 L143.4 337 L145.7 338 L147.9 338.9 L150.2 339.9 L152.4 340.8 L154.7 341.7 L156.9 342.7 L159.2 343.7 L161.4 344.5 L163.7 345.3 L165.9 345.9 L168.2 346.5 L170.4 347 L172.7 347.4 L174.9 347.7 L177.2 348.1 L179.4 348.5 L181.7 348.8 L183.9 349.3" fill="none" stroke="#E3434F" stroke-width="0.6"/><path d="M193.4 358.2L193.6 358.2L193.6 360.5L193.8 362.7L193.9 365L194.2 367.2L194.4 369.5L194.7 371.7L195 374L195.4 376.2L195.8 378.5L196.4 380.7L197.1 383L197.8 385.2L198.6 387.5L199.5 389.7L200.3 392L201.3 394.2L202.4 396.5L203.5 398.7L204.8 401L206.2 403.2L208 405.5L210 407.7L212 410L213.9 412.2L215.6 414.5L217.2 416.7L218.7 419L220.1 421.2L221.5 423.5L222.8 425.7L223.3 428L223.1 430.2L222.6 432.5L221.8 434.7L220.5 437L218.8 439.2L216.5 441.5L213.7 443.7L210.1 446L206.6 448.2L203.8 450.5L201.4 452.7L199.4 455L197.9 457.2L196.6 459.5L195.6 461.7L195.1 464L194.8 466.2L194.5 468.5L194.3 470.7L194.1 473L194 475.2L194 477.5L193.9 479.7L193.9 482L193.8 484.2L193.8 486.5L193.8 488.7L193.7 491L193.7 493.2L193.7 495.5L193.7 497.7L193.7 500L193.6 502.2L193.6 504.5L193.6 506.7L193.6 509L193.6 511.2L193.6 513.5L193.4 513.5Z" fill="#4E79A7" fill-opacity="0.25"/><path d="M193.6 358.2 L193.6 360.5 L193.8 362.7 L193.9 365 L194.2 367.2 L194.4 369.5 L194.7 371.7 L195 374 L195.4 376.2 L195.8 378.5 L196.4 380.7 L197.1 383 L197.8 385.2 L198.6 387.5 L199.5 389.7 L200.3 392 L201.3 394.2 L202.4 396.5 L203.5 398.7 L204.8 401 L206.2 403.2 L208 405.5 L210 407.7 L212 410 L213.9 412.2 L215.6 414.5 L217.2 416.7 L218.7 419 L220.1 421.2 L221.5 423.5 L222.8 425.7 L223.3 428 L223.1 430.2 L222.6 432.5 L221.8 434.7 L220.5 437 L218.8 439.2 L216.5 441.5 L213.7 443.7 L210.1 446 L206.6 448.2 L203.8 450.5 L201.4 452.7 L199.4 455 L197.9 457.2 L196.6 459.5 L195.6 461.7 L195.1 464 L194.8 466.2 L194.5 468.5 L194.3 470.7 L194.1 473 L194 475.2 L194 477.5 L193.9 479.7 L193.9 482 L193.8 484.2 L193.8 486.5 L193.8 488.7 L193.7 491 L193.7 493.2 L193.7 495.5 L193.7 497.7 L193.7 500 L193.6 502.2 L193.6 504.5 L193.6 506.7 L193.6 509 L193.6 511.2 L193.6 513.5" fill="none" stroke="#4E79A7" stroke-width="0.6"/><path d="M193.4 358.2L193.6 358.2L193.6 360.5L193.7 362.7L193.7 365L193.8 367.2L193.9 369.5L194 371.7L194.1 374L194.3 376.2L194.4 378.5L194.5 380.7L194.7 383L194.9 385.2L195.1 387.5L195.3 389.7L195.5 392L195.8 394.2L196.1 396.5L196.4 398.7L196.8 401L197.2 403.2L197.7 405.5L198.4 407.7L199.2 410L200.1 412.2L201 414.5L202.1 416.7L203.3 419L204.9 421.2L207 423.5L209.5 425.7L212 428L214.3 430.2L216.8 432.5L219.6 434.7L223.6 437L224.5 439.2L224.9 441.5L224.8 443.7L224 446L221.6 448.2L219.5 450.5L217.6 452.7L215.6 455L213.4 457.2L211.2 459.5L208.9 461.7L206.6 464L204.3 466.2L202.2 468.5L200.3 470.7L198.6 473L197.3 475.2L196.1 477.5L195.3 479.7L194.9 482L194.6 484.2L194.4 486.5L194.3 488.7L194.2 491L194.1 493.2L194 495.5L193.9 497.7L193.8 500L193.8 502.2L193.7 504.5L193.7 506.7L193.6 509L193.6 511.2L193.6 513.5L193.4 513.5Z" fill="#2A9D8F" fill-opacity="0.25"/><path d="M193.6 358.2 L193.6 360.5 L193.7 362.7 L193.7 365 L193.8 367.2 L193.9 369.5 L194 371.7 L194.1 374 L194.3 376.2 L194.4 378.5 L194.5 380.7 L194.7 383 L194.9 385.2 L195.1 387.5 L195.3 389.7 L195.5 392 L195.8 394.2 L196.1 396.5 L196.4 398.7 L196.8 401 L197.2 403.2 L197.7 405.5 L198.4 407.7 L199.2 410 L200.1 412.2 L201 414.5 L202.1 416.7 L203.3 419 L204.9 421.2 L207 423.5 L209.5 425.7 L212 428 L214.3 430.2 L216.8 432.5 L219.6 434.7 L223.6 437 L224.5 439.2 L224.9 441.5 L224.8 443.7 L224 446 L221.6 448.2 L219.5 450.5 L217.6 452.7 L215.6 455 L213.4 457.2 L211.2 459.5 L208.9 461.7 L206.6 464 L204.3 466.2 L202.2 468.5 L200.3 470.7 L198.6 473 L197.3 475.2 L196.1 477.5 L195.3 479.7 L194.9 482 L194.6 484.2 L194.4 486.5 L194.3 488.7 L194.2 491 L194.1 493.2 L194 495.5 L193.9 497.7 L193.8 500 L193.8 502.2 L193.7 504.5 L193.7 506.7 L193.6 509 L193.6 511.2 L193.6 513.5" fill="none" stroke="#2A9D8F" stroke-width="0.6"/><path d="M193.4 358.2L193.6 358.2L193.7 360.5L193.8 362.7L193.9 365L194 367.2L194.1 369.5L194.3 371.7L194.4 374L194.6 376.2L194.7 378.5L194.9 380.7L195.1 383L195.3 385.2L195.5 387.5L195.8 389.7L196.1 392L196.6 394.2L197.2 396.5L197.9 398.7L198.7 401L199.5 403.2L200.3 405.5L201.2 407.7L202.3 410L203.4 412.2L204.8 414.5L206.3 416.7L208.1 419L210 421.2L212.2 423.5L214.5 425.7L216.8 428L219.2 430.2L221.6 432.5L222.5 434.7L221.9 437L221 439.2L219.8 441.5L218.8 443.7L218.1 446L217.2 448.2L215.9 450.5L214.2 452.7L212.3 455L210.6 457.2L208.9 459.5L207 461.7L205.1 464L202.7 466.2L200.7 468.5L199.1 470.7L197.8 473L196.7 475.2L195.9 477.5L195.2 479.7L194.9 482L194.6 484.2L194.4 486.5L194.3 488.7L194.2 491L194.1 493.2L194 495.5L193.9 497.7L193.8 500L193.8 502.2L193.7 504.5L193.7 506.7L193.6 509L193.6 511.2L193.6 513.5L193.4 513.5Z" fill="#E9A03F" fill-opacity="0.25"/><path d="M193.6 358.2 L193.7 360.5 L193.8 362.7 L193.9 365 L194 367.2 L194.1 369.5 L194.3 371.7 L194.4 374 L194.6 376.2 L194.7 378.5 L194.9 380.7 L195.1 383 L195.3 385.2 L195.5 387.5 L195.8 389.7 L196.1 392 L196.6 394.2 L197.2 396.5 L197.9 398.7 L198.7 401 L199.5 403.2 L200.3 405.5 L201.2 407.7 L202.3 410 L203.4 412.2 L204.8 414.5 L206.3 416.7 L208.1 419 L210 421.2 L212.2 423.5 L214.5 425.7 L216.8 428 L219.2 430.2 L221.6 432.5 L222.5 434.7 L221.9 437 L221 439.2 L219.8 441.5 L218.8 443.7 L218.1 446 L217.2 448.2 L215.9 450.5 L214.2 452.7 L212.3 455 L210.6 457.2 L208.9 459.5 L207 461.7 L205.1 464 L202.7 466.2 L200.7 468.5 L199.1 470.7 L197.8 473 L196.7 475.2 L195.9 477.5 L195.2 479.7 L194.9 482 L194.6 484.2 L194.4 486.5 L194.3 488.7 L194.2 491 L194.1 493.2 L194 495.5 L193.9 497.7 L193.8 500 L193.8 502.2 L193.7 504.5 L193.7 506.7 L193.6 509 L193.6 511.2 L193.6 513.5" fill="none" stroke="#E9A03F" stroke-width="0.6"/><path d="M193.4 358.2L193.6 358.2L193.6 360.5L193.7 362.7L193.7 365L193.8 367.2L193.9 369.5L194 371.7L194.1 374L194.3 376.2L194.4 378.5L194.5 380.7L194.7 383L194.9 385.2L195.1 387.5L195.4 389.7L195.7 392L196 394.2L196.4 396.5L196.8 398.7L197.3 401L197.8 403.2L198.7 405.5L200 407.7L201.3 410L202.6 412.2L203.8 414.5L205.1 416.7L206.6 419L208.2 421.2L210.2 423.5L212.4 425.7L215.1 428L219.9 430.2L224 432.5L223.7 434.7L222.7 437L222 439.2L221.3 441.5L220.4 443.7L219.3 446L218.1 448.2L216.8 450.5L215.4 452.7L213.9 455L212.2 457.2L210.1 459.5L208 461.7L205.8 464L203.5 466.2L201.4 468.5L199.4 470.7L197.7 473L196.5 475.2L195.8 477.5L195.2 479.7L194.9 482L194.6 484.2L194.5 486.5L194.3 488.7L194.2 491L194.1 493.2L194 495.5L193.9 497.7L193.8 500L193.8 502.2L193.7 504.5L193.7 506.7L193.6 509L193.6 511.2L193.6 513.5L193.4 513.5Z" fill="#E3434F" fill-opacity="0.25"/><path d="M193.6 358.2 L193.6 360.5 L193.7 362.7 L193.7 365 L193.8 367.2 L193.9 369.5 L194 371.7 L194.1 374 L194.3 376.2 L194.4 378.5 L194.5 380.7 L194.7 383 L194.9 385.2 L195.1 387.5 L195.4 389.7 L195.7 392 L196 394.2 L196.4 396.5 L196.8 398.7 L197.3 401 L197.8 403.2 L198.7 405.5 L200 407.7 L201.3 410 L202.6 412.2 L203.8 414.5 L205.1 416.7 L206.6 419 L208.2 421.2 L210.2 423.5 L212.4 425.7 L215.1 428 L219.9 430.2 L224 432.5 L223.7 434.7 L222.7 437 L222 439.2 L221.3 441.5 L220.4 443.7 L219.3 446 L218.1 448.2 L216.8 450.5 L215.4 452.7 L213.9 455 L212.2 457.2 L210.1 459.5 L208 461.7 L205.8 464 L203.5 466.2 L201.4 468.5 L199.4 470.7 L197.7 473 L196.5 475.2 L195.8 477.5 L195.2 479.7 L194.9 482 L194.6 484.2 L194.5 486.5 L194.3 488.7 L194.2 491 L194.1 493.2 L194 495.5 L193.9 497.7 L193.8 500 L193.8 502.2 L193.7 504.5 L193.7 506.7 L193.6 509 L193.6 511.2 L193.6 513.5" fill="none" stroke="#E3434F" stroke-width="0.6"/><clipPath id="cd"><rect x="21.5" y="351.5" width="169.9" height="169.5"/></clipPath><g clip-path="url(#cd)"><ellipse cx="98.5" cy="426.3" rx="58.49" ry="36.93" transform="rotate(170.37 98.5 426.3)" fill="#4E79A7" fill-opacity="0.12"/><ellipse cx="100.4" cy="443.2" rx="45.62" ry="38.86" transform="rotate(172.07 100.4 443.2)" fill="#2A9D8F" fill-opacity="0.12"/><ellipse cx="111.2" cy="436.5" rx="58.80" ry="38.50" transform="rotate(0.00 111.2 436.5)" fill="#E9A03F" fill-opacity="0.12"/><ellipse cx="108.9" cy="440" rx="58.01" ry="37.19" transform="rotate(-178.92 108.9 440)" fill="#E3434F" fill-opacity="0.12"/><path d="M98.1 442.4h1.7M90.7 410.9h1.7M126.8 431.3h1.7M133.5 424.7h1.7M57.6 386.9h1.7M60.4 423.5h1.7M82.6 473.1h1.7M92.3 449h1.7M120.2 422.6h1.7M84 397.4h1.7M76.7 410h1.7M102.5 429.5h1.7M99.3 401.6h1.7M95.1 388.1h1.7M160.4 407h1.7M123.3 402.5h1.7M61.6 408.2h1.7M64.1 431.5h1.7M131.2 399h1.7M98.2 433h1.7M129.3 419.7h1.7M66.4 439.7h1.7M141.6 416.5h1.7M36.8 423.9h1.7M95.7 408h1.7M140.7 386.6h1.7M77.7 388.1h1.7M103.9 425.5h1.7M124.6 431.3h1.7M31.6 422.3h1.7M85.3 427.2h1.7M39 410.7h1.7M120.4 429.2h1.7M106.9 458.8h1.7M101.4 437.1h1.7M120.3 409.9h1.7M76.2 434.4h1.7M110 435.5h1.7M124.2 426.1h1.7M151.6 418.8h1.7M71.6 417.5h1.7M78.9 400.5h1.7M96.8 425.8h1.7M117.7 422.3h1.7M87.4 422.4h1.7M95.2 422.5h1.7M92.4 448.3h1.7M102.5 410.1h1.7M73.7 430h1.7M76.4 432.2h1.7M102.6 439h1.7M64.8 420.2h1.7M85.5 440h1.7M108.4 447h1.7M133.3 427.5h1.7M73.2 397.8h1.7M109 406.3h1.7M100.6 440.6h1.7M95.5 436.8h1.7M69.1 454.9h1.7M103.8 418.5h1.7M111.3 419.9h1.7M88.2 417.8h1.7M99.4 411.1h1.7M102.4 440.3h1.7M109.8 395h1.7M119.5 421.2h1.7M103.2 398.2h1.7M100.7 411.3h1.7M77.2 448.2h1.7" stroke="#4E79A7" stroke-opacity="0.32" stroke-width="1.7" fill="none"/><path d="M48.4 407.1h1.7M119.6 450.4h1.7M80.5 419.1h1.7M85.5 412.2h1.7M100 385.8h1.7M92.5 410.6h1.7M89.6 451.1h1.7M83.8 422.8h1.7M101.4 443.1h1.7M92.1 424.3h1.7M78.7 431.2h1.7M64.7 418.2h1.7M126.5 414.8h1.7M87 419.3h1.7M94.2 424.8h1.7M94.7 429.1h1.7M113 438.4h1.7M105.4 434.2h1.7M127.2 426.1h1.7M88.2 447h1.7M126.4 440.5h1.7M66.4 447h1.7M91.8 454.6h1.7M62.7 433.2h1.7M119.2 409.8h1.7M92.8 442.9h1.7M135.4 392.5h1.7M101.5 415.5h1.7M109.1 404.2h1.7M138.8 399h1.7M100.7 449.9h1.7M71.8 422.3h1.7M129 404.9h1.7M126.5 394.6h1.7M89.8 419.9h1.7M113.4 424h1.7M108.8 406h1.7M126.8 428.6h1.7M51.1 413.7h1.7M65.6 428.4h1.7M84.4 420.5h1.7M128.6 423.1h1.7M102.2 415.5h1.7M89.4 433.6h1.7M169.3 401.3h1.7M43.5 416.9h1.7M106.4 415.9h1.7M89.7 450.4h1.7M108.6 442h1.7M155.2 410.1h1.7M77 396.2h1.7M89.1 431.8h1.7M116.1 424.8h1.7M79.1 425.6h1.7M145.9 424.7h1.7M93.4 439h1.7M61.5 433.2h1.7M141 389.7h1.7M109.7 417.7h1.7M155.8 456.5h1.7M85.7 426.8h1.7M138 392.2h1.7M90.3 434.3h1.7M68 426.9h1.7M102.8 423.6h1.7M81.4 421.6h1.7M68.8 435.6h1.7M121.9 421.6h1.7M107.1 428.3h1.7M102.8 436.7h1.7" stroke="#4E79A7" stroke-opacity="0.32" stroke-width="1.7" fill="none"/><path d="M58.5 404.9h1.7M108.9 400.6h1.7M89.2 413.6h1.7M140.2 427.5h1.7M84.7 426.7h1.7M103.9 437.5h1.7M110.9 447.4h1.7M116.3 432.7h1.7M74.2 433.7h1.7M64.9 410.2h1.7M94.2 412.6h1.7M97.1 425.2h1.7M74 427.9h1.7M131.3 397.4h1.7M78.2 426.1h1.7M96.2 418.7h1.7M97.1 414.3h1.7M100.5 389.4h1.7M115.9 424.6h1.7M87.7 435.6h1.7M98 389h1.7M116 419.1h1.7M117.9 405.9h1.7M77.9 429.4h1.7M119.5 430.5h1.7M59.3 434.4h1.7M113.1 419.9h1.7M97.2 428h1.7M100.3 436h1.7M100.5 445.4h1.7M92.6 439.6h1.7M102.4 422.8h1.7M115.4 425.2h1.7M111.2 428.2h1.7M125.9 427.5h1.7M92.2 427.1h1.7M104.8 419.9h1.7M127.4 435.9h1.7M121.2 434h1.7M91.5 423.4h1.7M88.2 421h1.7M107 444.9h1.7M82.6 422.7h1.7M93.4 448.5h1.7M112.7 418.2h1.7M111.2 425.9h1.7M127.6 435.3h1.7M138.2 397.5h1.7M96.4 429.5h1.7M58.7 415h1.7M101.3 385.5h1.7M100.3 395h1.7M122 421.7h1.7M124.4 419.2h1.7M135.2 421.3h1.7M121.5 433.2h1.7M134 411.4h1.7M69.7 412h1.7M119 415.2h1.7M129.6 421.9h1.7M109.4 421h1.7M104.2 426.4h1.7M131.2 433.7h1.7M79 417.4h1.7M66.4 402.8h1.7M58.6 421.7h1.7M95.3 413.4h1.7M62.1 445.7h1.7M70.6 440.8h1.7M137.3 409.9h1.7" stroke="#4E79A7" stroke-opacity="0.32" stroke-width="1.7" fill="none"/><path d="M104 416h1.7M129.4 453.2h1.7M132 427.8h1.7M86.3 425.9h1.7M100.8 405.8h1.7M84.6 420.3h1.7M85.4 428.5h1.7M121.5 424h1.7M76.8 453.4h1.7M82.6 412.5h1.7M163.7 423.7h1.7M145.1 413.4h1.7M84.3 389.5h1.7M131.9 414.1h1.7M98 421.6h1.7M97.9 441.8h1.7M125.5 438.1h1.7M81 442.2h1.7M94.1 401.3h1.7M129.1 411.6h1.7M96 418.1h1.7M91.5 419.8h1.7M114 433.8h1.7M121.9 417.8h1.7M77.3 424.6h1.7M78 412.9h1.7M69.7 435.1h1.7M82.1 426.7h1.7M109.6 413.7h1.7M74 434.4h1.7M123 424.2h1.7M151 413.6h1.7M83.5 404.2h1.7M104.4 416.4h1.7M60 443.5h1.7M86.7 428.1h1.7M104.6 422.9h1.7M88.4 418.4h1.7M96.8 423.7h1.7M65.2 428.8h1.7M83.6 417.4h1.7M56.2 422h1.7M116.6 447h1.7M73.6 434.7h1.7M107.5 419.8h1.7M112.1 392.6h1.7M43.1 450.3h1.7M109.7 421h1.7M104.6 437.1h1.7M99.1 425.9h1.7M106.1 395.5h1.7M66.2 392.2h1.7M88.8 442.3h1.7M88.8 425.7h1.7M121.8 426.4h1.7M73.7 399.9h1.7M96.1 426.3h1.7M65.7 432h1.7M96.2 424.6h1.7M67.1 408.2h1.7M134.6 410.4h1.7M62.3 406h1.7M83.7 434.8h1.7M69.1 437.5h1.7M129.7 398.3h1.7M50.8 424.9h1.7M78.9 440.6h1.7M93.3 387.9h1.7M102 422h1.7M153.2 405.4h1.7" stroke="#4E79A7" stroke-opacity="0.32" stroke-width="1.7" fill="none"/><path d="M49.5 419.4h1.7M92.2 432.2h1.7M91.6 439.8h1.7M74.3 445.4h1.7M124.6 432.1h1.7M96.4 447.9h1.7M109 424.4h1.7M96.2 418.7h1.7M57.9 423.8h1.7M110.9 414.1h1.7M111.9 446.4h1.7M104.2 419.1h1.7M119.1 422.9h1.7M117.9 411.3h1.7M42.9 415.7h1.7M74.2 426.1h1.7M119.2 415.4h1.7M87.8 441.9h1.7M87.9 427.2h1.7M131.9 420.8h1.7M99.4 425.1h1.7M98.7 448.5h1.7M114.4 436.5h1.7M85.7 437.1h1.7M117.4 421.1h1.7M78 419h1.7M105.4 412.2h1.7M118.9 439.7h1.7M87.5 431.5h1.7M151.6 398.8h1.7M126.7 429.1h1.7M71 429.7h1.7M95.9 405.4h1.7M113.8 393.5h1.7M71.4 443h1.7M104.8 414.2h1.7M105.5 428h1.7M131.8 417.6h1.7M84.5 419.4h1.7M82.8 428.6h1.7M84.5 422.5h1.7M102.1 446.3h1.7M102.2 420.3h1.7M98.2 413.1h1.7M82.8 445.2h1.7M81.8 457.1h1.7M93.7 430.1h1.7M86 431.6h1.7M68 443.9h1.7M57.6 438.1h1.7M108 421.9h1.7M101 426.6h1.7M96 412.3h1.7M91.7 422.9h1.7M129.3 414.1h1.7M38 412.1h1.7M126.1 438.1h1.7M102.5 460.4h1.7M82.3 417.1h1.7M56.9 425.8h1.7M85.2 421.3h1.7M100.2 444.2h1.7M125.7 390.6h1.7M123.6 408h1.7M110.5 421.9h1.7M119.1 430.3h1.7M59.1 417.4h1.7M38.3 423.1h1.7M104.3 413.9h1.7M141.8 414.2h1.7" stroke="#4E79A7" stroke-opacity="0.32" stroke-width="1.7" fill="none"/><path d="M67.5 420h1.7M118 426.3h1.7M98.7 442.7h1.7M103.6 420h1.7M97.8 413h1.7M129 398.4h1.7M95.5 447.5h1.7M42.3 422h1.7M83.5 421.5h1.7M85.4 424.8h1.7M79.2 439.8h1.7M59.2 423.3h1.7M85.5 412.2h1.7M108.4 439.7h1.7M62.8 428.3h1.7M110.9 417.7h1.7M100.9 409.7h1.7M76.3 391.4h1.7M61.5 416.4h1.7M75 394.9h1.7M86.7 423.1h1.7M108.6 418.3h1.7M170.3 396.2h1.7M83 427.5h1.7M146.2 408.5h1.7M87 418.9h1.7M94.8 436.8h1.7M45.7 409.8h1.7M102.2 443.7h1.7M56.7 445.1h1.7M96.1 379h1.7M83.2 417.3h1.7M117.9 432.6h1.7M66.1 439.2h1.7M102.3 434.5h1.7M122.1 425.3h1.7M45.8 419.8h1.7M57.6 414.9h1.7M104.5 387.7h1.7M57.5 431.1h1.7M142.5 416.7h1.7M95.6 428h1.7M127 432h1.7M89.4 411.2h1.7M124.9 396.8h1.7M156 371h1.7M67.4 438.8h1.7M126.6 430.3h1.7M106.9 426.1h1.7M113.2 360.9h1.7M82.9 446.2h1.7M90 432h1.7M122.3 422.4h1.7M106.2 427h1.7M86.3 435.2h1.7M76.6 414h1.7M86.6 444.4h1.7M138.4 428h1.7M99.7 424.8h1.7M53.2 419.7h1.7M93.3 430h1.7M106.1 424.3h1.7M105.1 416.7h1.7M102.1 420h1.7M65 395.7h1.7M113.2 425.8h1.7M105.1 434h1.7M80 432h1.7M79.3 426.1h1.7M92.3 429.7h1.7" stroke="#4E79A7" stroke-opacity="0.32" stroke-width="1.7" fill="none"/><path d="M81.2 436.5h1.7M127.1 468.1h1.7M104.6 456h1.7M116.5 421.5h1.7M90.1 440.6h1.7M106.3 430.6h1.7M110.6 416.9h1.7M118.6 446.6h1.7M123.4 433.9h1.7M97.8 440.2h1.7M79.7 442.1h1.7M60 442.9h1.7M79.3 415.7h1.7M110.8 442.8h1.7M146.2 443h1.7M96.6 448.7h1.7M94.5 433.5h1.7M95.5 451.3h1.7M80.1 396.4h1.7M132.9 438.9h1.7M77.6 433.9h1.7M112.5 448.3h1.7M75.5 457.9h1.7M128.4 428.3h1.7M53.4 435.3h1.7M87.6 435.9h1.7M105.3 427.7h1.7M112.1 421.2h1.7M116.1 461.1h1.7M113.5 438.5h1.7M112.5 461.5h1.7M75.2 424.2h1.7M141.6 421.6h1.7M101.8 434.6h1.7M85.2 424.7h1.7M94.2 414.8h1.7M88 433.5h1.7M94.3 436.2h1.7M100.3 453.2h1.7M105.3 431.4h1.7M92.3 463.7h1.7M119.4 437.3h1.7M91.9 440.1h1.7M96.2 415.4h1.7M90.9 447.8h1.7M120.9 454.9h1.7M104.6 457h1.7M119.4 432.2h1.7M96.5 454.7h1.7M77.2 460.1h1.7M97.2 449.7h1.7M106.1 414.1h1.7M77.5 418.5h1.7M81.5 414.3h1.7M121.7 424.9h1.7M80.4 423.8h1.7M112.7 431.1h1.7M96.2 423.5h1.7M127.8 434h1.7M113.4 455.7h1.7M141.7 434.9h1.7M104.1 446h1.7M63.3 418.1h1.7M127.8 418.7h1.7M108.2 439.7h1.7M97.9 465.2h1.7M75.3 448.7h1.7M115.6 429.5h1.7M110.6 444.4h1.7M92.4 404.8h1.7" stroke="#2A9D8F" stroke-opacity="0.32" stroke-width="1.7" fill="none"/><path d="M116.6 428.1h1.7M93.3 408.9h1.7M67 422.1h1.7M97.3 436.4h1.7M56.8 465h1.7M107.2 430.8h1.7M101.9 421.7h1.7M94.3 437.6h1.7M93.1 459.9h1.7M83 458h1.7M116.6 466.8h1.7M80.8 417.6h1.7M101 444.7h1.7M102.1 456.8h1.7M121.6 416.7h1.7M115.8 430.4h1.7M93.9 461.9h1.7M101 411.1h1.7M92.5 446.3h1.7M122.1 401.1h1.7M90.8 421h1.7M72.3 434h1.7M39.7 422.6h1.7M61.3 436.9h1.7M90 415.5h1.7M90.8 466h1.7M110.3 415.6h1.7M113.4 418.8h1.7M86.3 425.8h1.7M82.3 405.4h1.7M94.4 461.6h1.7M141.9 426h1.7M88.7 431.6h1.7M96.2 456.7h1.7M45.6 443.2h1.7M80.9 460.7h1.7M63.4 450.5h1.7M141.1 411.5h1.7M81 455.3h1.7M97.2 452.9h1.7M148.6 438.7h1.7M96.9 444.9h1.7M139.8 441.1h1.7M84.7 456.8h1.7M95.2 433.7h1.7M47.9 414h1.7M65.3 413.3h1.7M84 446.8h1.7M120.2 437.9h1.7M106.9 461.2h1.7M92.3 432.9h1.7M76.3 441.5h1.7M91.5 430.1h1.7M72.1 426.1h1.7M109 463.3h1.7M96.2 421.6h1.7M123.9 491.8h1.7M119 462.9h1.7M89.8 442.9h1.7M76.9 424.6h1.7M109 427.6h1.7M90.5 451.4h1.7M106.4 435.2h1.7M120 450.7h1.7M110.4 441.7h1.7M98.8 441.6h1.7M104.3 437.8h1.7M96.3 428.2h1.7M88.8 453.4h1.7M90.6 442.1h1.7" stroke="#2A9D8F" stroke-opacity="0.32" stroke-width="1.7" fill="none"/><path d="M47 413.8h1.7M114.4 442.3h1.7M89.9 438.7h1.7M61.6 415.8h1.7M84.1 454.6h1.7M95.4 447h1.7M90.7 455.5h1.7M109.7 438.5h1.7M117.9 443h1.7M115.2 462.3h1.7M134.4 430.1h1.7M134.2 434.9h1.7M79.7 463.3h1.7M108.9 459.9h1.7M77.1 450.5h1.7M105.4 457.6h1.7M23 438.4h1.7M107.5 449.2h1.7M65 436.2h1.7M90 451.3h1.7M107.8 435.8h1.7M118.4 437.7h1.7M106 467.2h1.7M125.8 454.4h1.7M94.5 442.8h1.7M82.8 440.3h1.7M124.2 452.5h1.7M84.8 428.9h1.7M96.4 480.6h1.7M129.9 421.7h1.7M101.9 424.9h1.7M111.9 444h1.7M109.7 436.1h1.7M77.4 444.7h1.7M117 449.3h1.7M96.4 441.7h1.7M139 420h1.7M107.3 471.8h1.7M122.9 421.3h1.7M97 446.5h1.7M114.2 410.4h1.7M94.7 424.3h1.7M118.4 450.5h1.7M121.3 441h1.7M71.5 405.3h1.7M111.1 467.3h1.7M91.8 490.5h1.7M101.4 428.9h1.7M93.7 437.9h1.7M110.6 441.9h1.7M123.8 413.6h1.7M114.9 425h1.7M136.3 440.3h1.7M74 447.9h1.7M99.6 449.7h1.7M96.7 443.2h1.7M107.2 436.1h1.7M56.5 460.2h1.7M141.8 419.4h1.7M68 419.5h1.7M139.4 443.2h1.7M120.3 442.6h1.7M89.3 446h1.7M53.9 425.9h1.7M99.2 438.1h1.7M86.9 477.1h1.7M112.2 439.7h1.7M96.8 424.2h1.7M106.9 445.6h1.7M92 415.5h1.7" stroke="#2A9D8F" stroke-opacity="0.32" stroke-width="1.7" fill="none"/><path d="M104.4 460.1h1.7M101.3 465.3h1.7M104.7 436.2h1.7M112.1 449.5h1.7M124.5 419.7h1.7M117.8 439.7h1.7M132.6 445.6h1.7M122.7 415.2h1.7M119.2 435.1h1.7M120.2 453.9h1.7M101.6 437.1h1.7M87.9 453.8h1.7M66.3 429.6h1.7M100.6 431.3h1.7M89.4 446.7h1.7M96.9 442.6h1.7M123.1 443.9h1.7M99 433.1h1.7M84.6 457.4h1.7M98.5 446h1.7M82.6 420.2h1.7M84.8 431.9h1.7M82.3 426.2h1.7M99.5 423.7h1.7M90.1 393.6h1.7M107.7 438.1h1.7M105.6 443.2h1.7M87.5 441.8h1.7M93.8 440.6h1.7M122.8 431.7h1.7M122 466.6h1.7M106.5 463.6h1.7M86.9 433h1.7M89.6 463.2h1.7M79 436.4h1.7M112 429.5h1.7M122.4 453.8h1.7M104.1 392h1.7M97.7 449.2h1.7M90.6 465.5h1.7M129.2 432h1.7M75.3 443.2h1.7M106.2 438.8h1.7M127.1 428.6h1.7M70.2 437h1.7M88.9 461.1h1.7M106.9 403.9h1.7M108.4 459.4h1.7M133.2 440h1.7M79.8 460.9h1.7M111.3 430.6h1.7M128.7 437.2h1.7M103.8 415.4h1.7M113.9 428.3h1.7M143.4 439.2h1.7M111.4 456h1.7M104.5 426.1h1.7M118.9 413.3h1.7M88 432.7h1.7M94.9 447h1.7M68.7 436.4h1.7M89.8 369.7h1.7M92.7 417.1h1.7M87.3 427.7h1.7M111.1 445h1.7M140.8 437.9h1.7M107.9 443.1h1.7M113.9 443.1h1.7M128.1 449.8h1.7M112.1 475.6h1.7" stroke="#2A9D8F" stroke-opacity="0.32" stroke-width="1.7" fill="none"/><path d="M103.1 445.7h1.7M76.2 417.8h1.7M100.1 440.5h1.7M101.8 439.2h1.7M94.2 462.7h1.7M96 438.1h1.7M109.7 445.9h1.7M116.9 428.9h1.7M47.5 422.1h1.7M91.3 445.2h1.7M81.5 437.8h1.7M116.6 429h1.7M88.8 442.1h1.7M134.8 412.4h1.7M110.5 444.7h1.7M135.5 425.6h1.7M106.3 440.2h1.7M109.6 464.1h1.7M112.1 452.3h1.7M106.3 442.7h1.7M85.3 451h1.7M107.4 415.1h1.7M98.9 446.3h1.7M98.4 394.2h1.7M123.2 410h1.7M90.4 411.9h1.7M103.2 432.2h1.7M117.6 466.5h1.7M115.8 419.9h1.7M116.6 422.2h1.7M99.4 440.9h1.7M69.1 436.1h1.7M96.6 423.4h1.7M47.5 419.5h1.7M127.9 439.3h1.7M62.5 442.4h1.7M84.1 423h1.7M99.6 446h1.7M85.4 461.4h1.7M115.5 434.1h1.7M114.5 446.1h1.7M80.1 437.8h1.7M114.4 453.2h1.7M70.7 427h1.7M122.2 441.3h1.7M62.4 411.3h1.7M99.3 426.4h1.7M92.4 434.7h1.7M101.1 438.2h1.7M126.9 425.9h1.7M100.5 429.4h1.7M115 411.8h1.7M129.5 417.9h1.7M120.4 444.7h1.7M83.1 422.6h1.7M128 438.3h1.7M136.6 422.9h1.7M108.4 454.7h1.7M119.8 431.4h1.7M100.3 405.8h1.7M105.1 457h1.7M110.8 452h1.7M116.2 422.7h1.7M103.9 452.5h1.7M83.4 414h1.7M89.3 459.1h1.7M93.9 410.2h1.7M81.2 450.4h1.7M127.9 449.3h1.7M127.4 439.4h1.7" stroke="#2A9D8F" stroke-opacity="0.32" stroke-width="1.7" fill="none"/><path d="M122.1 443.3h1.7M120.4 415h1.7M111.5 459.6h1.7M76.4 407.7h1.7M119.1 444.5h1.7M183.3 430.8h1.7M92.8 445.6h1.7M99.2 479.1h1.7M92 453.4h1.7M108.8 404h1.7M102.8 456.9h1.7M92.2 448.8h1.7M74.7 432.9h1.7M70.1 423.3h1.7M101.7 446.8h1.7M146.8 411.8h1.7M66 462.3h1.7M100.7 409.4h1.7M119.2 435.8h1.7M100.8 454.4h1.7M75.9 426.2h1.7M122.9 447.5h1.7M88.5 433.8h1.7M112 460.8h1.7M88.7 417.5h1.7M114 430.1h1.7M100.9 451.8h1.7M110 428.9h1.7M80.8 442.3h1.7M82.2 453.9h1.7M118.9 408h1.7M65.6 437.9h1.7M52.9 464.4h1.7M122.8 425.5h1.7M75.3 422.7h1.7M85.2 443.3h1.7M110.3 436.6h1.7M114.2 431.3h1.7M118 435.6h1.7M115.1 382.7h1.7M118 460.6h1.7M78.6 424.8h1.7M65.8 426.7h1.7M108.3 426.4h1.7M86.3 430h1.7M79.2 451.5h1.7M120.8 445.3h1.7M90.9 452.2h1.7M121.6 451.1h1.7M98.6 449.9h1.7M102.2 434.1h1.7M78.6 425.9h1.7M74.7 423.6h1.7M82.3 453.5h1.7M91.4 418.2h1.7M68.9 427.2h1.7M76.6 422h1.7M102.3 456.4h1.7M92.4 443h1.7M73.6 429.1h1.7M93.5 454h1.7M67.5 420.8h1.7M96.7 436h1.7M121.3 429.6h1.7M116.9 453.9h1.7M120.9 455.5h1.7M99.3 452.4h1.7M77.4 416.5h1.7M107.1 393.8h1.7M84.6 436.1h1.7" stroke="#2A9D8F" stroke-opacity="0.32" stroke-width="1.7" fill="none"/><path d="M133.1 441.3h1.7M81.2 409.6h1.7M92.3 469.7h1.7M89 439.5h1.7M145.2 437.2h1.7M97.6 429.6h1.7M144.1 424.2h1.7M74.4 411.7h1.7M101 435.4h1.7M108.1 406h1.7M131.3 446.6h1.7M128.1 437.9h1.7M110.7 460h1.7M71.6 415.9h1.7M56.3 402.6h1.7M154.2 420h1.7M133.5 442.9h1.7M151.4 400.5h1.7M109.9 424h1.7M114.5 443.5h1.7M143.9 440.7h1.7M130.1 445.5h1.7M144.2 422.1h1.7M126.4 425.5h1.7M101.8 439.7h1.7M110.5 419.7h1.7M137.7 450.4h1.7M125.8 441.3h1.7M42 435.2h1.7M121 411.5h1.7M63.1 436h1.7M149.9 465.2h1.7M143.5 425.1h1.7M156.4 456.9h1.7M110.6 397.7h1.7M102.2 400.7h1.7M104 395.5h1.7M23.1 449.2h1.7M85.7 426h1.7M87.5 411.4h1.7M134.5 447.2h1.7M78.8 398.3h1.7M129.5 429.5h1.7M100 422.8h1.7M103.6 435.1h1.7M98 439.8h1.7M107.9 404.8h1.7M135.2 448h1.7M124.4 459.8h1.7M112.3 439.4h1.7M165.1 419.6h1.7M94.9 441.9h1.7M152.4 456.7h1.7M163.2 435.4h1.7M122.6 422.2h1.7M116.7 396.7h1.7M126.3 433.4h1.7M138.3 422.2h1.7M76.7 441.7h1.7M128.7 442.8h1.7M109.5 441.7h1.7M150.4 411.3h1.7M117.8 439.2h1.7M80.6 426.6h1.7M117.2 438.4h1.7M110.1 411.3h1.7M134.6 447.3h1.7M114 434.4h1.7M131.1 452.8h1.7M131.5 450.3h1.7" stroke="#E9A03F" stroke-opacity="0.32" stroke-width="1.7" fill="none"/><path d="M35.6 461.5h1.7M137.8 442.4h1.7M102.3 446h1.7M111.8 423.4h1.7M93.8 449.2h1.7M117.5 444.9h1.7M118.9 456.3h1.7M123.7 452.3h1.7M101.3 446.1h1.7M145.7 432.6h1.7M101.9 431.5h1.7M91.5 417h1.7M96 436.7h1.7M97 407.7h1.7M74.2 417.1h1.7M94.6 444.9h1.7M144.5 439.4h1.7M149.4 417.6h1.7M104.6 430.5h1.7M126.1 456.1h1.7M150.2 431h1.7M138.1 422.7h1.7M129.6 409.4h1.7M108.8 416.8h1.7M86.7 425h1.7M147.9 455.6h1.7M46.3 429h1.7M175 414.2h1.7M90.3 443.1h1.7M107.8 446.1h1.7M63.7 410.2h1.7M99.2 450.7h1.7M88.3 413.9h1.7M122.6 456.3h1.7M121.4 445.7h1.7M108.4 429.9h1.7M131.4 432.3h1.7M108.6 435h1.7M89.5 435.3h1.7M100.6 426.4h1.7M95.9 460h1.7M144.6 442.1h1.7M126.5 416.4h1.7M124 453.6h1.7M108.1 443h1.7M95.1 436h1.7M111.4 439.9h1.7M67.3 435h1.7M146.6 415.2h1.7M130.8 451.4h1.7M125.3 449.4h1.7M107.3 438.6h1.7M87.7 441.6h1.7M121.3 453.3h1.7M65.5 412.2h1.7M82.7 441.9h1.7M133.1 439.6h1.7M91.8 409.5h1.7M111.1 450.1h1.7M122 425.6h1.7M166.8 443.7h1.7M58.7 434.3h1.7M69.7 435.2h1.7M153.6 411.9h1.7M123.2 446.6h1.7M80.6 451.7h1.7M143.8 432.7h1.7M159.7 442.9h1.7M146.7 486.8h1.7M131.8 408.8h1.7" stroke="#E9A03F" stroke-opacity="0.32" stroke-width="1.7" fill="none"/><path d="M77 408.3h1.7M70 414h1.7M92.7 413.7h1.7M115.4 400.6h1.7M125.1 400.6h1.7M101.1 448h1.7M96.6 427.6h1.7M116.8 408.7h1.7M70.2 430.3h1.7M108.1 429.5h1.7M151.1 435.4h1.7M86.1 417h1.7M131.1 430.2h1.7M78.8 410.1h1.7M128 418.7h1.7M110.6 435.7h1.7M48.2 432.8h1.7M151.5 421.4h1.7M114.4 434.2h1.7M130.2 436.2h1.7M119.5 422.2h1.7M121.4 435.8h1.7M123.4 444.2h1.7M111.5 434h1.7M118.7 456.8h1.7M143.7 428.1h1.7M110.3 445.7h1.7M106.3 434.1h1.7M89.2 445.9h1.7M131.6 445.2h1.7M140.1 385.2h1.7M126.2 431.4h1.7M104.6 433.4h1.7M126.9 441.2h1.7M120.6 438.5h1.7M140.5 416.7h1.7M103.3 432.8h1.7M111.5 444.5h1.7M151.3 444.2h1.7M90.1 419.8h1.7M97.9 423.3h1.7M94.7 436.3h1.7M138.5 442.7h1.7M93.7 419.8h1.7M129.7 441.8h1.7M112.1 456.2h1.7M130.8 422.4h1.7M124.8 409.6h1.7M113.5 404.2h1.7M104.5 393.1h1.7M93.6 427.4h1.7M80.9 435.7h1.7M94.4 432.6h1.7M112.3 437h1.7M69.1 409.3h1.7M108 440.9h1.7M127.6 433.9h1.7M146.5 401.2h1.7M148.9 437.8h1.7M93 455.8h1.7M116.4 399.4h1.7M109.4 432.7h1.7M133 450.8h1.7M138.2 452.4h1.7M139 436.1h1.7M175.9 406.7h1.7M104.7 427.1h1.7M55.7 429.4h1.7M80.1 423h1.7M110.4 445.3h1.7" stroke="#E9A03F" stroke-opacity="0.32" stroke-width="1.7" fill="none"/><path d="M116.3 423.2h1.7M132.6 442.8h1.7M99.8 404.3h1.7M120.1 452.8h1.7M113.1 424.9h1.7M102.7 440h1.7M150.1 435.4h1.7M108 442.1h1.7M119.7 451.1h1.7M108 442.8h1.7M93 450.9h1.7M101.2 454.3h1.7M125.7 433.7h1.7M107.4 410h1.7M102.9 432.9h1.7M155.3 423h1.7M103.4 401.8h1.7M79 443.2h1.7M131.4 432h1.7M106.5 431.2h1.7M63 432.6h1.7M99.8 436.8h1.7M150.6 428.9h1.7M129.8 406.9h1.7M125.6 431.5h1.7M84.2 458.7h1.7M75.4 409.5h1.7M90.5 440.2h1.7M103.5 424.3h1.7M147.6 441.2h1.7M111.7 450.6h1.7M133.6 423.2h1.7M89.6 454.9h1.7M119.1 443.3h1.7M103.6 450.4h1.7M58.7 435.1h1.7M133.5 442.8h1.7M100.6 423.5h1.7M131.5 412.9h1.7M110 425.4h1.7M137.1 412.6h1.7M103 458.5h1.7M107.9 451.3h1.7M131.1 414.9h1.7M84.8 428.8h1.7M137.1 419.3h1.7M122.6 428.4h1.7M132.6 419.8h1.7M86.8 429.7h1.7M97.4 377.4h1.7M128.9 440.9h1.7M100.2 410.4h1.7M119.4 454.6h1.7M150.7 413.1h1.7M115.4 457.5h1.7M32.2 455h1.7M113.4 422.5h1.7M118.2 445h1.7M124.5 454.1h1.7M129.3 431.1h1.7M97.4 435.5h1.7M86 447.3h1.7M131.9 426.9h1.7M100 440.6h1.7M128.7 453.9h1.7M96.6 459.2h1.7M133.4 445.3h1.7M119 440.7h1.7M127.1 450.6h1.7M70.6 433h1.7" stroke="#E9A03F" stroke-opacity="0.32" stroke-width="1.7" fill="none"/><path d="M100.4 425.5h1.7M124.7 428.9h1.7M112.7 399.3h1.7M94.6 445.7h1.7M100.2 439.2h1.7M63.3 405.4h1.7M106.9 455h1.7M110.3 454.6h1.7M139.9 440.2h1.7M118.7 429.7h1.7M159.8 408h1.7M104.8 467.1h1.7M105.9 434.7h1.7M102.9 425.8h1.7M121.3 415.3h1.7M125.5 409.9h1.7M134.8 423.1h1.7M102 409.9h1.7M118 465h1.7M110.8 410.6h1.7M100.3 428.3h1.7M89.2 431.7h1.7M70.2 455.1h1.7M117.6 432h1.7M138.3 441.9h1.7M110.7 394.1h1.7M126.3 413.9h1.7M153.9 426.9h1.7M118.9 428.1h1.7M174.1 428.2h1.7M139.8 440.2h1.7M124.1 445.8h1.7M113 445h1.7M102 462.4h1.7M78.8 453.1h1.7M99.4 425.1h1.7M167.7 402.1h1.7M133.8 437.3h1.7M66.2 431.9h1.7M117.4 430.5h1.7M95.3 414.1h1.7M64.9 434h1.7M89.5 404.2h1.7M140.1 414.7h1.7M78 422.6h1.7M101.3 409.6h1.7M88.7 424.5h1.7M109.8 439.3h1.7M122.4 451.3h1.7M104.8 491.9h1.7M97.4 434.6h1.7M150.1 434h1.7M88.2 447.2h1.7M180.9 430.5h1.7M135.9 413.8h1.7M131.5 469.6h1.7M101 440.1h1.7M86.5 439.8h1.7M90.3 433.7h1.7M133.4 420.1h1.7M99.3 436h1.7M65.7 420.5h1.7M109.2 424.4h1.7M74.3 444.2h1.7M162.8 440.3h1.7M123.9 428.2h1.7M139 432.8h1.7M115.1 434.8h1.7M126.6 428.5h1.7" stroke="#E9A03F" stroke-opacity="0.32" stroke-width="1.7" fill="none"/><path d="M120.5 445.3h1.7M48.5 425.4h1.7M135.7 455.3h1.7M136.3 449.3h1.7M151.1 444.2h1.7M128.2 420.6h1.7M86.8 436.5h1.7M87.6 442.9h1.7M137 455.9h1.7M122.8 456.1h1.7M162.4 417.1h1.7M103.3 422.5h1.7M105.7 446.7h1.7M137.3 408.4h1.7M89.9 435.2h1.7M96.9 398h1.7M90.8 405.8h1.7M101.9 446.3h1.7M120.3 399.6h1.7M87.9 422.7h1.7M73.4 446.8h1.7M110 413.3h1.7M105.1 451.7h1.7M112.6 435.6h1.7M149.1 444.1h1.7M128.4 414.1h1.7M107.4 445.6h1.7M108.2 417.1h1.7M109.2 421.8h1.7M57.6 399.2h1.7M69 417.2h1.7M105.2 424.5h1.7M71.3 430.5h1.7M161.6 433.7h1.7M146.4 434.2h1.7M94.9 428.2h1.7M140 459.2h1.7M129.4 398.3h1.7M92.5 444.9h1.7M122.4 440.4h1.7M77.2 441.1h1.7M112.3 442.8h1.7M120 437.6h1.7M96.7 400.5h1.7M114.2 436.6h1.7M147.8 410.3h1.7M93.9 459.4h1.7M107.5 436h1.7M99.3 424h1.7M139.4 442.1h1.7M128.6 432.9h1.7M115.2 447.6h1.7M119.1 421.6h1.7M25.4 391.7h1.7M130.8 419.5h1.7M99.2 449.2h1.7M118.4 442.9h1.7M169.1 427.3h1.7M70 441.4h1.7M84.7 443.6h1.7M170.7 404.6h1.7M168.3 420h1.7M143.6 424.7h1.7M125.7 423.8h1.7M101.7 428.1h1.7M158 458.6h1.7M106.6 438h1.7M149.2 425.9h1.7M103.9 406.6h1.7" stroke="#E9A03F" stroke-opacity="0.32" stroke-width="1.7" fill="none"/><path d="M117.5 440.5h1.7M152.2 436h1.7M118.7 443h1.7M101.2 432h1.7M85.4 428.9h1.7M104.6 432.7h1.7M100.2 450.1h1.7M64.5 419.6h1.7M169.1 432.8h1.7M118.3 439.4h1.7M126.4 433.9h1.7M106.8 451.6h1.7M90.8 432.5h1.7M105.1 427h1.7M96.2 438.6h1.7M108.2 457.8h1.7M112.6 443.4h1.7M90.8 419h1.7M115.8 449.9h1.7M140.6 418.6h1.7M94.9 448.1h1.7M74.5 489h1.7M102.9 424.6h1.7M107.3 415.9h1.7M80.8 452h1.7M122.4 416.5h1.7M99.3 475.6h1.7M90.1 454.7h1.7M96.4 429.9h1.7M127.4 429.4h1.7M131.7 467.7h1.7M113.9 427.4h1.7M71.3 436.4h1.7M154.2 414.5h1.7M93.8 446h1.7M117.6 423.6h1.7M108.2 430.6h1.7M104.4 428.3h1.7M110.5 441.4h1.7M115 439.9h1.7M123.8 454.1h1.7M82.6 411.9h1.7M84.9 417.4h1.7M68.3 432.7h1.7M107.9 441.6h1.7M113.8 432.4h1.7M118 445.6h1.7M166.1 431h1.7M117 425.1h1.7M87.5 459.2h1.7M120.8 453.9h1.7M100.1 431.9h1.7M117.9 433.1h1.7M112.9 432h1.7M114 416.7h1.7M119.2 449.1h1.7M131.2 443.4h1.7M99.1 453.7h1.7M68.6 432.1h1.7M130.3 427h1.7M87.1 433.5h1.7M103 429.3h1.7M92.4 403.5h1.7M180.2 421.4h1.7M135.3 409.7h1.7M81.2 435.5h1.7M83.2 431.8h1.7M118.8 428.8h1.7M86.9 467.2h1.7M125.9 456.8h1.7" stroke="#E3434F" stroke-opacity="0.32" stroke-width="1.7" fill="none"/><path d="M103.5 404.3h1.7M84 453.9h1.7M123.7 438.3h1.7M93.5 442.5h1.7M168.6 420h1.7M122.6 430.9h1.7M87.9 436.6h1.7M114.4 453h1.7M147.2 449.9h1.7M96.6 423.9h1.7M94.1 421h1.7M90.3 468.1h1.7M132.3 428.5h1.7M120.1 415.3h1.7M93.6 436.4h1.7M65.5 445.1h1.7M85.6 445.1h1.7M79 440.2h1.7M62.9 441.4h1.7M101.7 440.4h1.7M103.4 442.7h1.7M174.8 437h1.7M123.1 454.2h1.7M81.4 454.1h1.7M114.8 435.5h1.7M126.9 457.7h1.7M109 431.7h1.7M104.5 445h1.7M127.4 415.2h1.7M137.8 430.3h1.7M127.3 440.1h1.7M116.1 462.4h1.7M120.3 453.3h1.7M137.6 440.9h1.7M123.5 449.9h1.7M66 430h1.7M120.1 429.3h1.7M118.9 440.3h1.7M137.8 443.9h1.7M75.2 450.4h1.7M113.1 435.9h1.7M108.1 447.2h1.7M116.5 438.5h1.7M87.9 441.3h1.7M99.3 422h1.7M75.2 414.4h1.7M106.7 434h1.7M128 443.4h1.7M95.6 454.4h1.7M142.5 427.1h1.7M53 424h1.7M87.5 414.9h1.7M157.4 427.1h1.7M164.9 467.8h1.7M93.8 443.5h1.7M117.4 420.8h1.7M146.6 430.1h1.7M67.4 477.5h1.7M95 394.3h1.7M108.2 450.1h1.7M102 431h1.7M150.7 421.1h1.7M130.5 441.8h1.7M92.4 470.3h1.7M97.7 459.2h1.7M113.7 436.6h1.7M27.9 438.1h1.7M67.2 432.8h1.7M90.8 416.6h1.7M104.6 439.8h1.7" stroke="#E3434F" stroke-opacity="0.32" stroke-width="1.7" fill="none"/><path d="M80.4 440.5h1.7M102.9 439h1.7M90.7 446.3h1.7M136.3 438.7h1.7M97.1 425.6h1.7M91.5 438.5h1.7M97.6 427.4h1.7M140.5 433.9h1.7M113.7 438.8h1.7M66.5 428.1h1.7M84 432.4h1.7M92.9 424.5h1.7M107.2 423.9h1.7M138.5 423.4h1.7M94.3 431.4h1.7M60.6 445.5h1.7M106.2 441.1h1.7M133.4 432.9h1.7M101.8 450.1h1.7M111.3 458.8h1.7M165.8 418h1.7M108.9 417.6h1.7M86.5 438.2h1.7M157.9 446.5h1.7M118.6 427h1.7M117.9 454.8h1.7M150.6 418.6h1.7M85.1 430.2h1.7M115.9 414.7h1.7M107.7 427.7h1.7M113.3 437.3h1.7M85.6 426.1h1.7M121.5 421.1h1.7M149.1 431.8h1.7M79.4 450.3h1.7M92.3 436.9h1.7M54.7 410.6h1.7M151 428.4h1.7M133.7 448.7h1.7M112.8 435.5h1.7M113.4 437.6h1.7M93.6 442h1.7M164.1 396.1h1.7M101.8 463.2h1.7M96.6 436.3h1.7M84.3 435.1h1.7M101.5 424.9h1.7M127 457h1.7M123.1 438.5h1.7M91.8 445.6h1.7M118.4 407.8h1.7M105.1 440.1h1.7M74.7 431.3h1.7M93.9 452.9h1.7M90.6 440.5h1.7M120.4 449.5h1.7M134.9 432.6h1.7M105.7 430.7h1.7M124 452.6h1.7M110.1 420h1.7M102.6 429.6h1.7M122.9 435.7h1.7M124.6 443.3h1.7M115.5 406.1h1.7M85.4 442.6h1.7M136.5 450.8h1.7M92.2 451.5h1.7M96.4 472.2h1.7M88.5 453.1h1.7M104.7 404.8h1.7" stroke="#E3434F" stroke-opacity="0.32" stroke-width="1.7" fill="none"/><path d="M120.4 447.6h1.7M117 435.5h1.7M76.1 438.9h1.7M149.1 432.2h1.7M95.3 426.8h1.7M92.3 432.5h1.7M133.6 446.9h1.7M155.1 407.8h1.7M84.2 425.5h1.7M84.4 433.2h1.7M41.8 420.6h1.7M94.8 450.5h1.7M112 425.5h1.7M77.9 436.7h1.7M91.7 402.5h1.7M102.4 437.8h1.7M136.5 424.9h1.7M104.9 438.3h1.7M87.2 439.1h1.7M89.5 451h1.7M84.5 423.8h1.7M97.3 450.6h1.7M140.6 447.5h1.7M100.5 473.8h1.7M151.3 441.8h1.7M142.5 435.6h1.7M104.9 449.4h1.7M122.9 445h1.7M56.6 438.3h1.7M85.1 418.1h1.7M90.6 424.1h1.7M96 450.5h1.7M105.3 429.6h1.7M62.9 435.9h1.7M145.2 436.1h1.7M95.6 426.5h1.7M116.7 453.9h1.7M98 438.5h1.7M51.7 438.7h1.7M66.3 411.7h1.7M118.7 425.6h1.7M111.8 428.2h1.7M102.6 440.6h1.7M71.4 474.8h1.7M103.2 419.1h1.7M71.3 432.9h1.7M90 440.6h1.7M134.1 439.3h1.7M96.5 442.1h1.7M107.4 446.5h1.7M108.5 448.2h1.7M101.1 420.1h1.7M113.4 452.1h1.7M116.6 435.2h1.7M127.6 430.7h1.7M89.5 447.3h1.7M64.8 428.8h1.7M95.9 429.9h1.7M115.8 446.9h1.7M107.7 421.5h1.7M110.8 424.9h1.7M155.3 432.7h1.7M133.5 448.9h1.7M38.2 409.1h1.7M113.7 451.4h1.7M118.3 441.6h1.7M128.5 448.3h1.7M113.1 432.9h1.7M108.6 414.4h1.7M113.1 424h1.7" stroke="#E3434F" stroke-opacity="0.32" stroke-width="1.7" fill="none"/><path d="M96.6 444.9h1.7M124.9 427.5h1.7M132.5 449h1.7M57.1 430.9h1.7M118.6 452.8h1.7M129.3 418.1h1.7M131.4 417.2h1.7M150.4 423.4h1.7M91 454.5h1.7M80.8 411.4h1.7M110.9 439.3h1.7M173.1 449.7h1.7M166.5 429.9h1.7M63.2 447.1h1.7M89.1 451.6h1.7M100.2 407.2h1.7M112.3 454.8h1.7M125.1 419.9h1.7M67.9 425.9h1.7M75.4 426.4h1.7M107 431.5h1.7M116.8 436.1h1.7M84.7 454h1.7M76.1 425.2h1.7M122.1 416.2h1.7M92.5 430.1h1.7M123.3 419.6h1.7M98.5 456.7h1.7M112.4 437.6h1.7M101.4 447.5h1.7M154.1 423.9h1.7M124.3 432.1h1.7M113.7 447.4h1.7M86.2 405.6h1.7M102.6 445.6h1.7M112.3 448.1h1.7M102.6 437.1h1.7M51.7 422.8h1.7M78.2 447.2h1.7M97.8 449.9h1.7M140.7 440.7h1.7M106.4 423.3h1.7M119.4 443.1h1.7M121.3 443.2h1.7M110.7 457.7h1.7M150.8 408.4h1.7M109.1 442.4h1.7M118.1 450.5h1.7M84.5 414.9h1.7M134.7 430.9h1.7M110.5 449.8h1.7M97.8 453.9h1.7M112.8 432.8h1.7M140.8 429.3h1.7M72.2 446.4h1.7M88 422.1h1.7M115.9 418.3h1.7M58 417h1.7M102.1 425.7h1.7M82.4 447.9h1.7M105.6 440h1.7M105.3 438.3h1.7M107.5 437.2h1.7M92.8 458.4h1.7M120.5 463.1h1.7M135.8 427.3h1.7M70.1 443h1.7M112.4 440.5h1.7M111.3 441.1h1.7" stroke="#E3434F" stroke-opacity="0.32" stroke-width="1.7" fill="none"/><path d="M78.3 445.3h1.7M87 443.6h1.7M134.1 435.7h1.7M97.3 440.6h1.7M69.8 433.7h1.7M132.8 457.7h1.7M106.1 433.8h1.7M87.2 425.2h1.7M73.7 427.7h1.7M147.2 402.3h1.7M105.7 460.3h1.7M155.5 425.2h1.7M96.3 450.8h1.7M113.4 442.5h1.7M151.2 428.2h1.7M55.3 420.9h1.7M93.4 458.5h1.7M103.4 424.1h1.7M157.8 436.7h1.7M106.3 414.3h1.7M99.9 422.9h1.7M145.8 480.1h1.7M83.4 467.3h1.7M53.5 399.6h1.7M105.4 420.1h1.7M107 436.3h1.7M65.5 415.2h1.7M90.6 429.2h1.7M65.5 454.1h1.7M97.6 448.7h1.7M122.3 414.5h1.7M109.2 454.6h1.7M105.4 442.6h1.7M82.3 433.2h1.7M122.1 439.9h1.7M97.7 430.8h1.7M108.8 441.5h1.7M51.5 427h1.7M134.8 458.7h1.7M106.4 423.5h1.7M157.9 410.7h1.7M94.7 428.9h1.7M158.8 429.1h1.7M109.6 425.5h1.7M103.8 458.8h1.7M114.3 442h1.7M92.3 423.3h1.7M69.6 439.4h1.7M133.3 447.8h1.7M114.4 420.8h1.7M105.9 454.4h1.7M112.1 458.1h1.7M143.4 446.3h1.7M110.3 455.5h1.7M140.5 439.1h1.7M80.2 415.5h1.7M100.3 447.2h1.7M112.9 453.4h1.7M150.9 464.1h1.7M25.8 421.7h1.7M100.5 461.9h1.7M134.5 445.9h1.7M65 417.2h1.7M119.2 430.9h1.7M148.9 450h1.7M79.5 433.3h1.7M116.3 421.6h1.7M105 426.5h1.7M98 443.3h1.7" stroke="#E3434F" stroke-opacity="0.32" stroke-width="1.7" fill="none"/><ellipse cx="98.5" cy="426.3" rx="58.49" ry="36.93" transform="rotate(170.37 98.5 426.3)" fill="none" stroke="#4E79A7" stroke-width="0.95"/><ellipse cx="100.4" cy="443.2" rx="45.62" ry="38.86" transform="rotate(172.07 100.4 443.2)" fill="none" stroke="#2A9D8F" stroke-width="0.95"/><ellipse cx="111.2" cy="436.5" rx="58.80" ry="38.50" transform="rotate(0.00 111.2 436.5)" fill="none" stroke="#E9A03F" stroke-width="0.95"/><ellipse cx="108.9" cy="440" rx="58.01" ry="37.19" transform="rotate(-178.92 108.9 440)" fill="none" stroke="#E3434F" stroke-width="0.95"/></g><path d="M21.5 351.5H191.4V521H21.5Z" fill="none" stroke="#3a3a3a" stroke-width="0.9"/><text x="31.3" y="529.8" font-size="7.9" fill="#4D4D4D" text-anchor="middle">−10</text><text x="69.6" y="529.8" font-size="7.9" fill="#4D4D4D" text-anchor="middle">−5</text><text x="107.5" y="529.8" font-size="7.9" fill="#4D4D4D" text-anchor="middle">0</text><text x="146.2" y="529.8" font-size="7.9" fill="#4D4D4D" text-anchor="middle">5</text><text x="185.8" y="529.8" font-size="7.9" fill="#4D4D4D" text-anchor="middle">10</text><text x="18.3" y="389.8" font-size="7.9" fill="#4D4D4D" text-anchor="end">5</text><text x="18.3" y="438" font-size="7.9" fill="#4D4D4D" text-anchor="end">0</text><text x="18.3" y="486.1" font-size="7.9" fill="#4D4D4D" text-anchor="end">−5</text><path d="M21 387.2h-2M21 435.4h-2M21 483.5h-2" stroke="#555" stroke-width="0.7"/><path d="M31.3 521.5v1.6M69.6 521.5v1.6M107.5 521.5v1.6M146.2 521.5v1.6M185.8 521.5v1.6" stroke="#aaa" stroke-width="0.6"/><text x="106.5" y="539" font-size="9.1" fill="#000" text-anchor="middle">PCA1 (34.9%)</text><text x="8.2" y="435.1" font-size="8.9" fill="#000" text-anchor="middle" transform="rotate(-90 8.2 435.1)">PCA2 (12.2%)</text><text x="13.9" y="312.3" font-size="12.4" fill="#000">(d)</text>
<path d="M259.4 349.3L259.4 349.2L261.7 349.2L263.9 349.2L266.2 349.2L268.4 349.1L270.7 349.1L272.9 349L275.2 349L277.4 348.9L279.7 348.8L282 348.6L284.2 348.4L286.5 348.1L288.7 347.9L291 347.5L293.2 347.2L295.5 346.8L297.7 346.3L300 345.7L302.2 345L304.5 344.2L306.8 343.3L309 342.4L311.3 341.3L313.5 340L315.8 338.5L318 336.6L320.3 334.6L322.5 332.7L324.8 330.7L327.1 328.5L329.3 326.1L331.6 323.4L333.8 322.2L336.1 321.4L338.3 320.7L340.6 320L342.8 319.4L345.1 319.2L347.3 319.3L349.6 319.4L351.9 319.8L354.1 320.9L356.4 322.1L358.6 323L360.9 323.7L363.1 324.4L365.4 325.2L367.6 326L369.9 327L372.2 328.4L374.4 330L376.7 331.6L378.9 333L381.2 334.4L383.4 335.7L385.7 336.7L387.9 337.7L390.2 338.5L392.4 339.5L394.7 340.4L397 341.3L399.2 342.3L401.5 343.3L403.7 344.2L406 345.1L408.2 345.8L410.5 346.3L412.7 347.1L415 349.2L415 349.3Z" fill="#4E79A7" fill-opacity="0.25"/><path d="M259.4 349.2 L261.7 349.2 L263.9 349.2 L266.2 349.2 L268.4 349.1 L270.7 349.1 L272.9 349 L275.2 349 L277.4 348.9 L279.7 348.8 L282 348.6 L284.2 348.4 L286.5 348.1 L288.7 347.9 L291 347.5 L293.2 347.2 L295.5 346.8 L297.7 346.3 L300 345.7 L302.2 345 L304.5 344.2 L306.8 343.3 L309 342.4 L311.3 341.3 L313.5 340 L315.8 338.5 L318 336.6 L320.3 334.6 L322.5 332.7 L324.8 330.7 L327.1 328.5 L329.3 326.1 L331.6 323.4 L333.8 322.2 L336.1 321.4 L338.3 320.7 L340.6 320 L342.8 319.4 L345.1 319.2 L347.3 319.3 L349.6 319.4 L351.9 319.8 L354.1 320.9 L356.4 322.1 L358.6 323 L360.9 323.7 L363.1 324.4 L365.4 325.2 L367.6 326 L369.9 327 L372.2 328.4 L374.4 330 L376.7 331.6 L378.9 333 L381.2 334.4 L383.4 335.7 L385.7 336.7 L387.9 337.7 L390.2 338.5 L392.4 339.5 L394.7 340.4 L397 341.3 L399.2 342.3 L401.5 343.3 L403.7 344.2 L406 345.1 L408.2 345.8 L410.5 346.3 L412.7 347.1 L415 349.2" fill="none" stroke="#4E79A7" stroke-width="0.6"/><path d="M259.4 349.3L259.4 349.2L261.7 348.4L263.9 347.6L266.2 346.8L268.4 346L270.7 345.1L272.9 344.3L275.2 343.5L277.4 342.5L279.7 341.5L282 340.4L284.2 339.2L286.5 337.9L288.7 336.6L291 335.2L293.2 333.8L295.5 332.4L297.7 330.9L300 329.5L302.2 328L304.5 326.6L306.8 325.3L309 324L311.3 322.8L313.5 321.7L315.8 320.7L318 319.8L320.3 319L322.5 318.6L324.8 318.8L327.1 319.3L329.3 319.9L331.6 321.2L333.8 322.4L336.1 323.6L338.3 324.8L340.6 326.1L342.8 327.4L345.1 328.7L347.3 330L349.6 331.2L351.9 332.3L354.1 333.4L356.4 334.5L358.6 335.6L360.9 336.8L363.1 337.9L365.4 338.9L367.6 339.8L369.9 340.7L372.2 341.5L374.4 342.2L376.7 342.8L378.9 343.3L381.2 343.7L383.4 344.1L385.7 344.4L387.9 344.7L390.2 345.1L392.4 345.4L394.7 345.8L397 346.2L399.2 346.5L401.5 346.9L403.7 347.3L406 347.6L408.2 348L410.5 348.4L412.7 348.8L415 349.2L415 349.3Z" fill="#2A9D8F" fill-opacity="0.25"/><path d="M259.4 349.2 L261.7 348.4 L263.9 347.6 L266.2 346.8 L268.4 346 L270.7 345.1 L272.9 344.3 L275.2 343.5 L277.4 342.5 L279.7 341.5 L282 340.4 L284.2 339.2 L286.5 337.9 L288.7 336.6 L291 335.2 L293.2 333.8 L295.5 332.4 L297.7 330.9 L300 329.5 L302.2 328 L304.5 326.6 L306.8 325.3 L309 324 L311.3 322.8 L313.5 321.7 L315.8 320.7 L318 319.8 L320.3 319 L322.5 318.6 L324.8 318.8 L327.1 319.3 L329.3 319.9 L331.6 321.2 L333.8 322.4 L336.1 323.6 L338.3 324.8 L340.6 326.1 L342.8 327.4 L345.1 328.7 L347.3 330 L349.6 331.2 L351.9 332.3 L354.1 333.4 L356.4 334.5 L358.6 335.6 L360.9 336.8 L363.1 337.9 L365.4 338.9 L367.6 339.8 L369.9 340.7 L372.2 341.5 L374.4 342.2 L376.7 342.8 L378.9 343.3 L381.2 343.7 L383.4 344.1 L385.7 344.4 L387.9 344.7 L390.2 345.1 L392.4 345.4 L394.7 345.8 L397 346.2 L399.2 346.5 L401.5 346.9 L403.7 347.3 L406 347.6 L408.2 348 L410.5 348.4 L412.7 348.8 L415 349.2" fill="none" stroke="#2A9D8F" stroke-width="0.6"/><path d="M259.4 349.3L259.4 349.2L261.7 349.1L263.9 348.9L266.2 348.6L268.4 348.3L270.7 347.9L272.9 347.3L275.2 346.5L277.4 345.5L279.7 344.5L282 343.3L284.2 342.2L286.5 341L288.7 339.9L291 338.6L293.2 337.3L295.5 336L297.7 334.7L300 333.2L302.2 331.6L304.5 330.2L306.8 329L309 328L311.3 327.1L313.5 326.3L315.8 325.6L318 324.9L320.3 324.2L322.5 323.6L324.8 323L327.1 322.6L329.3 322.3L331.6 322L333.8 321.8L336.1 321.7L338.3 321.7L340.6 322L342.8 322.5L345.1 323.2L347.3 324.8L349.6 327L351.9 328.9L354.1 330.8L356.4 332.6L358.6 334.3L360.9 335.9L363.1 337.3L365.4 338.2L367.6 338.7L369.9 339.3L372.2 339.8L374.4 340.4L376.7 340.9L378.9 341.5L381.2 341.9L383.4 342.4L385.7 342.8L387.9 343.3L390.2 343.7L392.4 344.2L394.7 344.6L397 345.1L399.2 345.6L401.5 346L403.7 346.5L406 347L408.2 347.5L410.5 348.1L412.7 348.6L415 349.2L415 349.3Z" fill="#E9A03F" fill-opacity="0.25"/><path d="M259.4 349.2 L261.7 349.1 L263.9 348.9 L266.2 348.6 L268.4 348.3 L270.7 347.9 L272.9 347.3 L275.2 346.5 L277.4 345.5 L279.7 344.5 L282 343.3 L284.2 342.2 L286.5 341 L288.7 339.9 L291 338.6 L293.2 337.3 L295.5 336 L297.7 334.7 L300 333.2 L302.2 331.6 L304.5 330.2 L306.8 329 L309 328 L311.3 327.1 L313.5 326.3 L315.8 325.6 L318 324.9 L320.3 324.2 L322.5 323.6 L324.8 323 L327.1 322.6 L329.3 322.3 L331.6 322 L333.8 321.8 L336.1 321.7 L338.3 321.7 L340.6 322 L342.8 322.5 L345.1 323.2 L347.3 324.8 L349.6 327 L351.9 328.9 L354.1 330.8 L356.4 332.6 L358.6 334.3 L360.9 335.9 L363.1 337.3 L365.4 338.2 L367.6 338.7 L369.9 339.3 L372.2 339.8 L374.4 340.4 L376.7 340.9 L378.9 341.5 L381.2 341.9 L383.4 342.4 L385.7 342.8 L387.9 343.3 L390.2 343.7 L392.4 344.2 L394.7 344.6 L397 345.1 L399.2 345.6 L401.5 346 L403.7 346.5 L406 347 L408.2 347.5 L410.5 348.1 L412.7 348.6 L415 349.2" fill="none" stroke="#E9A03F" stroke-width="0.6"/><path d="M259.4 349.3L259.4 349.2L261.7 348.9L263.9 348.4L266.2 347.9L268.4 347.4L270.7 346.8L272.9 346L275.2 345.2L277.4 344.3L279.7 343.3L282 342.2L284.2 341.1L286.5 339.8L288.7 338.5L291 337.2L293.2 335.7L295.5 334.3L297.7 332.8L300 331.2L302.2 329.7L304.5 328.3L306.8 327.2L309 326.5L311.3 326L313.5 325.5L315.8 325L318 324.4L320.3 323.9L322.5 323.4L324.8 322.8L327.1 322.2L329.3 321.6L331.6 320.7L333.8 319.9L336.1 319L338.3 318.6L340.6 319.2L342.8 320.3L345.1 321.7L347.3 323.5L349.6 325.8L351.9 328.7L354.1 331.4L356.4 333.7L358.6 335.8L360.9 337.4L363.1 338.3L365.4 338.8L367.6 339.3L369.9 339.9L372.2 340.6L374.4 341.3L376.7 342.1L378.9 342.7L381.2 343.4L383.4 343.9L385.7 344.5L387.9 345.1L390.2 345.6L392.4 346.1L394.7 346.6L397 347.2L399.2 347.6L401.5 348L403.7 348.3L406 348.5L408.2 348.8L410.5 349L412.7 349.1L415 349.2L415 349.3Z" fill="#E3434F" fill-opacity="0.25"/><path d="M259.4 349.2 L261.7 348.9 L263.9 348.4 L266.2 347.9 L268.4 347.4 L270.7 346.8 L272.9 346 L275.2 345.2 L277.4 344.3 L279.7 343.3 L282 342.2 L284.2 341.1 L286.5 339.8 L288.7 338.5 L291 337.2 L293.2 335.7 L295.5 334.3 L297.7 332.8 L300 331.2 L302.2 329.7 L304.5 328.3 L306.8 327.2 L309 326.5 L311.3 326 L313.5 325.5 L315.8 325 L318 324.4 L320.3 323.9 L322.5 323.4 L324.8 322.8 L327.1 322.2 L329.3 321.6 L331.6 320.7 L333.8 319.9 L336.1 319 L338.3 318.6 L340.6 319.2 L342.8 320.3 L345.1 321.7 L347.3 323.5 L349.6 325.8 L351.9 328.7 L354.1 331.4 L356.4 333.7 L358.6 335.8 L360.9 337.4 L363.1 338.3 L365.4 338.8 L367.6 339.3 L369.9 339.9 L372.2 340.6 L374.4 341.3 L376.7 342.1 L378.9 342.7 L381.2 343.4 L383.4 343.9 L385.7 344.5 L387.9 345.1 L390.2 345.6 L392.4 346.1 L394.7 346.6 L397 347.2 L399.2 347.6 L401.5 348 L403.7 348.3 L406 348.5 L408.2 348.8 L410.5 349 L412.7 349.1 L415 349.2" fill="none" stroke="#E3434F" stroke-width="0.6"/><path d="M424.3 358.7L424.3 358.7L424.3 361L424.3 363.2L424.4 365.5L424.4 367.7L424.5 370L424.5 372.2L424.6 374.5L424.7 376.7L424.8 379L424.9 381.2L425 383.5L425.2 385.7L425.4 388L425.7 390.2L426 392.5L426.4 394.7L426.8 397L427.3 399.2L427.7 401.5L428.2 403.7L428.7 406L429.1 408.2L429.6 410.5L430.1 412.7L430.7 415L431.3 417.2L432.1 419.5L432.9 421.7L433.9 424L435.2 426.2L437.4 428.5L439 430.7L440.1 433L441.1 435.2L442.2 437.5L443.4 439.7L444.6 442L445.6 444.2L446.7 446.5L447.8 448.7L448.6 451L448.7 453.2L448.7 455.5L448.6 457.7L447.9 460L446.8 462.2L445.6 464.5L444 466.7L442.2 469L440.3 471.2L438.3 473.5L436.3 475.7L434.3 478L432.2 480.2L430.3 482.5L428.6 484.7L427.1 487L426.1 489.2L425.7 491.5L425.3 493.7L425.1 496L424.9 498.2L424.8 500.5L424.6 502.7L424.5 505L424.4 507.2L424.4 509.5L424.3 511.7L424.3 514L424.3 514Z" fill="#4E79A7" fill-opacity="0.25"/><path d="M424.3 358.7 L424.3 361 L424.3 363.2 L424.4 365.5 L424.4 367.7 L424.5 370 L424.5 372.2 L424.6 374.5 L424.7 376.7 L424.8 379 L424.9 381.2 L425 383.5 L425.2 385.7 L425.4 388 L425.7 390.2 L426 392.5 L426.4 394.7 L426.8 397 L427.3 399.2 L427.7 401.5 L428.2 403.7 L428.7 406 L429.1 408.2 L429.6 410.5 L430.1 412.7 L430.7 415 L431.3 417.2 L432.1 419.5 L432.9 421.7 L433.9 424 L435.2 426.2 L437.4 428.5 L439 430.7 L440.1 433 L441.1 435.2 L442.2 437.5 L443.4 439.7 L444.6 442 L445.6 444.2 L446.7 446.5 L447.8 448.7 L448.6 451 L448.7 453.2 L448.7 455.5 L448.6 457.7 L447.9 460 L446.8 462.2 L445.6 464.5 L444 466.7 L442.2 469 L440.3 471.2 L438.3 473.5 L436.3 475.7 L434.3 478 L432.2 480.2 L430.3 482.5 L428.6 484.7 L427.1 487 L426.1 489.2 L425.7 491.5 L425.3 493.7 L425.1 496 L424.9 498.2 L424.8 500.5 L424.6 502.7 L424.5 505 L424.4 507.2 L424.4 509.5 L424.3 511.7 L424.3 514" fill="none" stroke="#4E79A7" stroke-width="0.6"/><path d="M424.3 358.7L424.3 358.7L424.3 361L424.4 363.2L424.4 365.5L424.5 367.7L424.7 370L424.8 372.2L425 374.5L425.2 376.7L425.5 379L425.9 381.2L426.3 383.5L426.6 385.7L426.9 388L427.3 390.2L427.7 392.5L428.2 394.7L428.9 397L430 399.2L431.4 401.5L433 403.7L434.6 406L436.3 408.2L438.3 410.5L440.3 412.7L442.1 415L443.7 417.2L445.2 419.5L446.6 421.7L448.1 424L449.6 426.2L451.2 428.5L452.6 430.7L454.1 433L455 435.2L454.9 437.5L454 439.7L452.5 442L449.4 444.2L445.9 446.5L442 448.7L438.2 451L435.4 453.2L433 455.5L431 457.7L429.5 460L428.2 462.2L427.1 464.5L426.2 466.7L425.5 469L425.2 471.2L425 473.5L424.8 475.7L424.7 478L424.6 480.2L424.6 482.5L424.5 484.7L424.5 487L424.5 489.2L424.4 491.5L424.4 493.7L424.4 496L424.4 498.2L424.3 500.5L424.3 502.7L424.3 505L424.3 507.2L424.3 509.5L424.3 511.7L424.3 514L424.3 514Z" fill="#2A9D8F" fill-opacity="0.25"/><path d="M424.3 358.7 L424.3 361 L424.4 363.2 L424.4 365.5 L424.5 367.7 L424.7 370 L424.8 372.2 L425 374.5 L425.2 376.7 L425.5 379 L425.9 381.2 L426.3 383.5 L426.6 385.7 L426.9 388 L427.3 390.2 L427.7 392.5 L428.2 394.7 L428.9 397 L430 399.2 L431.4 401.5 L433 403.7 L434.6 406 L436.3 408.2 L438.3 410.5 L440.3 412.7 L442.1 415 L443.7 417.2 L445.2 419.5 L446.6 421.7 L448.1 424 L449.6 426.2 L451.2 428.5 L452.6 430.7 L454.1 433 L455 435.2 L454.9 437.5 L454 439.7 L452.5 442 L449.4 444.2 L445.9 446.5 L442 448.7 L438.2 451 L435.4 453.2 L433 455.5 L431 457.7 L429.5 460 L428.2 462.2 L427.1 464.5 L426.2 466.7 L425.5 469 L425.2 471.2 L425 473.5 L424.8 475.7 L424.7 478 L424.6 480.2 L424.6 482.5 L424.5 484.7 L424.5 487 L424.5 489.2 L424.4 491.5 L424.4 493.7 L424.4 496 L424.4 498.2 L424.3 500.5 L424.3 502.7 L424.3 505 L424.3 507.2 L424.3 509.5 L424.3 511.7 L424.3 514" fill="none" stroke="#2A9D8F" stroke-width="0.6"/><path d="M424.3 358.7L424.3 358.7L424.3 361L424.4 363.2L424.5 365.5L424.6 367.7L424.7 370L424.8 372.2L425 374.5L425.1 376.7L425.3 379L425.5 381.2L425.7 383.5L425.9 385.7L426.2 388L426.5 390.2L426.9 392.5L427.3 394.7L427.7 397L428.3 399.2L429.2 401.5L430.1 403.7L431.2 406L432.5 408.2L434.1 410.5L435.8 412.7L437.4 415L438.7 417.2L440 419.5L441.2 421.7L442.5 424L444 426.2L445.8 428.5L447.6 430.7L449 433L449.6 435.2L450 437.5L450.3 439.7L450.1 442L448.9 444.2L447.3 446.5L445.1 448.7L442.6 451L440.5 453.2L438.7 455.5L436.9 457.7L435.2 460L433.3 462.2L431.4 464.5L429.6 466.7L428.2 469L427.2 471.2L426.4 473.5L425.7 475.7L425.2 478L425 480.2L424.9 482.5L424.8 484.7L424.7 487L424.7 489.2L424.6 491.5L424.5 493.7L424.5 496L424.4 498.2L424.4 500.5L424.4 502.7L424.3 505L424.3 507.2L424.3 509.5L424.3 511.7L424.3 514L424.3 514Z" fill="#E9A03F" fill-opacity="0.25"/><path d="M424.3 358.7 L424.3 361 L424.4 363.2 L424.5 365.5 L424.6 367.7 L424.7 370 L424.8 372.2 L425 374.5 L425.1 376.7 L425.3 379 L425.5 381.2 L425.7 383.5 L425.9 385.7 L426.2 388 L426.5 390.2 L426.9 392.5 L427.3 394.7 L427.7 397 L428.3 399.2 L429.2 401.5 L430.1 403.7 L431.2 406 L432.5 408.2 L434.1 410.5 L435.8 412.7 L437.4 415 L438.7 417.2 L440 419.5 L441.2 421.7 L442.5 424 L444 426.2 L445.8 428.5 L447.6 430.7 L449 433 L449.6 435.2 L450 437.5 L450.3 439.7 L450.1 442 L448.9 444.2 L447.3 446.5 L445.1 448.7 L442.6 451 L440.5 453.2 L438.7 455.5 L436.9 457.7 L435.2 460 L433.3 462.2 L431.4 464.5 L429.6 466.7 L428.2 469 L427.2 471.2 L426.4 473.5 L425.7 475.7 L425.2 478 L425 480.2 L424.9 482.5 L424.8 484.7 L424.7 487 L424.7 489.2 L424.6 491.5 L424.5 493.7 L424.5 496 L424.4 498.2 L424.4 500.5 L424.4 502.7 L424.3 505 L424.3 507.2 L424.3 509.5 L424.3 511.7 L424.3 514" fill="none" stroke="#E9A03F" stroke-width="0.6"/><path d="M424.3 358.7L424.3 358.7L424.3 361L424.4 363.2L424.5 365.5L424.6 367.7L424.7 370L424.8 372.2L425 374.5L425.1 376.7L425.3 379L425.5 381.2L425.8 383.5L426.1 385.7L426.4 388L426.8 390.2L427.2 392.5L427.7 394.7L428.3 397L429.1 399.2L430.3 401.5L431.6 403.7L432.9 406L434.5 408.2L436.2 410.5L438 412.7L439.7 415L441.3 417.2L442.8 419.5L444.2 421.7L445.7 424L447.2 426.2L448.9 428.5L450.1 430.7L451.2 433L451.8 435.2L451.8 437.5L451.4 439.7L450.7 442L449.6 444.2L448 446.5L445.2 448.7L442 451L439.5 453.2L437.4 455.5L435.4 457.7L433.6 460L431.8 462.2L430.2 464.5L428.6 466.7L427.4 469L426.4 471.2L425.5 473.5L425 475.7L424.8 478L424.7 480.2L424.6 482.5L424.5 484.7L424.4 487L424.4 489.2L424.4 491.5L424.4 493.7L424.4 496L424.3 498.2L424.3 500.5L424.3 502.7L424.3 505L424.3 507.2L424.3 509.5L424.3 511.7L424.3 514L424.3 514Z" fill="#E3434F" fill-opacity="0.25"/><path d="M424.3 358.7 L424.3 361 L424.4 363.2 L424.5 365.5 L424.6 367.7 L424.7 370 L424.8 372.2 L425 374.5 L425.1 376.7 L425.3 379 L425.5 381.2 L425.8 383.5 L426.1 385.7 L426.4 388 L426.8 390.2 L427.2 392.5 L427.7 394.7 L428.3 397 L429.1 399.2 L430.3 401.5 L431.6 403.7 L432.9 406 L434.5 408.2 L436.2 410.5 L438 412.7 L439.7 415 L441.3 417.2 L442.8 419.5 L444.2 421.7 L445.7 424 L447.2 426.2 L448.9 428.5 L450.1 430.7 L451.2 433 L451.8 435.2 L451.8 437.5 L451.4 439.7 L450.7 442 L449.6 444.2 L448 446.5 L445.2 448.7 L442 451 L439.5 453.2 L437.4 455.5 L435.4 457.7 L433.6 460 L431.8 462.2 L430.2 464.5 L428.6 466.7 L427.4 469 L426.4 471.2 L425.5 473.5 L425 475.7 L424.8 478 L424.7 480.2 L424.6 482.5 L424.5 484.7 L424.4 487 L424.4 489.2 L424.4 491.5 L424.4 493.7 L424.4 496 L424.3 498.2 L424.3 500.5 L424.3 502.7 L424.3 505 L424.3 507.2 L424.3 509.5 L424.3 511.7 L424.3 514" fill="none" stroke="#E3434F" stroke-width="0.6"/><clipPath id="ce"><rect x="251.6" y="351.6" width="170.8" height="169.4"/></clipPath><g clip-path="url(#ce)"><ellipse cx="350.7" cy="449" rx="57.97" ry="49.63" transform="rotate(162.93 350.7 449)" fill="#4E79A7" fill-opacity="0.12"/><ellipse cx="325.5" cy="431.4" rx="60.93" ry="37.21" transform="rotate(166.01 325.5 431.4)" fill="#2A9D8F" fill-opacity="0.12"/><ellipse cx="334.2" cy="437.6" rx="61.37" ry="41.59" transform="rotate(167.60 334.2 437.6)" fill="#E9A03F" fill-opacity="0.12"/><ellipse cx="330.4" cy="434.6" rx="58.97" ry="40.67" transform="rotate(166.32 330.4 434.6)" fill="#E3434F" fill-opacity="0.12"/><path d="M360.8 493.3h1.7M369.4 421.5h1.7M330.5 424.4h1.7M352.5 455.7h1.7M391.4 407.4h1.7M338.2 464.9h1.7M405.3 422.8h1.7M338.5 447.8h1.7M335.4 451.7h1.7M334.6 452.3h1.7M369.4 422h1.7M354.7 458.4h1.7M370.9 464.8h1.7M334.8 432.5h1.7M337.8 452.3h1.7M350 467.8h1.7M348 443.5h1.7M297.9 421h1.7M341.3 430.5h1.7M327.6 476.7h1.7M360.6 497.5h1.7M405.8 433.5h1.7M333 458.3h1.7M331.1 440.5h1.7M388.4 439.3h1.7M346.6 435.4h1.7M344.7 451.7h1.7M388.5 434.8h1.7M373.5 433.1h1.7M328.4 407.8h1.7M356.2 437.9h1.7M361 439.6h1.7M411.6 420h1.7M355.7 455.5h1.7M380.7 418.1h1.7M319.8 395h1.7M356.4 449.7h1.7M313.9 387.2h1.7M349.2 454.4h1.7M369.7 456.7h1.7M299.5 451.2h1.7M335 456.4h1.7M358.1 448.3h1.7M331.6 455.3h1.7M350.3 461.8h1.7M364.1 454.6h1.7M391.5 444.8h1.7M362.4 450h1.7M344.1 431h1.7M362.3 420.4h1.7M330.4 450.1h1.7M358.6 421.3h1.7M365.2 432.6h1.7M350.5 468.1h1.7M371.8 485.7h1.7M340.3 437.4h1.7M363.8 457.3h1.7M354 448.8h1.7M384.7 440.7h1.7M360.9 439.5h1.7M380.3 464.5h1.7M372.9 464.6h1.7M287.8 447.6h1.7M307.6 432.1h1.7M373.7 456.3h1.7M327.3 432.4h1.7M357.3 452.6h1.7M331.1 418.8h1.7M401.2 416h1.7M321.1 432.3h1.7" stroke="#4E79A7" stroke-opacity="0.32" stroke-width="1.7" fill="none"/><path d="M323.2 495.5h1.7M355.4 452.9h1.7M370.7 430.5h1.7M307.6 442.7h1.7M372.6 471.6h1.7M376.2 447.7h1.7M352.5 425.7h1.7M388.2 426.5h1.7M351.3 475.9h1.7M366 428.4h1.7M396.8 438.5h1.7M391.8 426.3h1.7M345.1 439h1.7M346.8 442.7h1.7M312.9 419.5h1.7M298.8 427.1h1.7M368.2 416.4h1.7M323.8 419.4h1.7M345.1 450.4h1.7M341.3 466.3h1.7M364.3 437.9h1.7M315.7 487h1.7M380.1 408.3h1.7M324.9 455.8h1.7M382.6 456.4h1.7M336.2 477h1.7M330.9 472.1h1.7M366 432.1h1.7M325 431.3h1.7M317.7 461.2h1.7M364.7 470.8h1.7M364.1 435.5h1.7M353.6 435.5h1.7M375 448.2h1.7M346.5 471.8h1.7M392 413.6h1.7M334.1 489.5h1.7M405.4 440.7h1.7M343.6 457.1h1.7M337.1 456.4h1.7M361.1 458.6h1.7M355.6 424.9h1.7M348.7 405h1.7M317.5 454.4h1.7M329.7 468.3h1.7M327.4 471h1.7M340.8 439.4h1.7M350.1 404.4h1.7M346.9 388.4h1.7M361.4 426.9h1.7M397.9 458.9h1.7M363.4 476.2h1.7M359 449.6h1.7M367.3 439.7h1.7M335.1 476.7h1.7M316.1 460h1.7M319.3 425.8h1.7M356.3 472h1.7M384.5 462.4h1.7M362.5 455.6h1.7M344.4 465.2h1.7M318.3 459.6h1.7M309 455.2h1.7M363.1 460.5h1.7M363.7 451.8h1.7M332 448.5h1.7M369.4 433.2h1.7M355.6 416h1.7M341.2 433.6h1.7M347.5 471.3h1.7" stroke="#4E79A7" stroke-opacity="0.32" stroke-width="1.7" fill="none"/><path d="M351.6 457.3h1.7M360.1 473.3h1.7M323.5 413.9h1.7M339.7 445.4h1.7M395.7 438.5h1.7M308.8 435.2h1.7M336.2 423.2h1.7M365.4 412h1.7M328.8 431.3h1.7M339.6 460.5h1.7M384.5 456.8h1.7M310.5 487.8h1.7M381.1 461.3h1.7M359 459.3h1.7M355 459.7h1.7M381.6 465.5h1.7M348.2 439.7h1.7M374 420.2h1.7M352.2 418.2h1.7M326.5 435.7h1.7M353.2 418.2h1.7M350.6 428.4h1.7M376.9 419.9h1.7M327.1 420.8h1.7M351.2 452.2h1.7M340.4 443h1.7M359.1 468h1.7M383.7 424.2h1.7M340.9 467.8h1.7M340.9 469.4h1.7M318.6 456.9h1.7M347.5 456.3h1.7M362.9 432h1.7M336.2 423.3h1.7M305.6 428.1h1.7M351.2 460.4h1.7M354.9 393.7h1.7M354.9 442.5h1.7M324.6 411.2h1.7M319.7 442.6h1.7M337.5 404.1h1.7M357.6 469.4h1.7M350.7 465.9h1.7M362.2 450h1.7M320.2 418.6h1.7M393.3 427.5h1.7M363 440.1h1.7M346.9 429.6h1.7M375 463.6h1.7M351.8 472.8h1.7M372.7 443.1h1.7M394.9 418.5h1.7M342.1 428.7h1.7M323.5 453h1.7M355.1 478h1.7M351.6 451.6h1.7M333 487.8h1.7M361.5 422h1.7M328.4 427.4h1.7M339.6 423.8h1.7M312.5 441.8h1.7M356.5 463.3h1.7M377.4 452.8h1.7M354.1 469.2h1.7M346.7 478.6h1.7M375.7 445.8h1.7M350.5 485.7h1.7M366.3 460h1.7M313.4 439.6h1.7M354.8 439.3h1.7" stroke="#4E79A7" stroke-opacity="0.32" stroke-width="1.7" fill="none"/><path d="M374.5 505.8h1.7M369.6 455h1.7M373.3 472.5h1.7M347.6 425.8h1.7M331.6 435.3h1.7M340.8 402.2h1.7M347.4 458.6h1.7M344.1 465.4h1.7M377.8 461.4h1.7M299.4 445.5h1.7M332.1 447.8h1.7M309.7 438.1h1.7M378.9 477.6h1.7M377.1 452.8h1.7M322.2 434.2h1.7M347.3 456.1h1.7M326.4 441.2h1.7M302.3 432.5h1.7M365.7 417.3h1.7M357.3 439.5h1.7M341.4 477.5h1.7M332.7 431.8h1.7M339.6 463.8h1.7M322.5 423.4h1.7M391.3 497.2h1.7M343 429h1.7M382 423.5h1.7M349.1 429.6h1.7M349.6 436.8h1.7M375.1 448.7h1.7M402.2 442.8h1.7M378.6 442.6h1.7M370.3 424.3h1.7M338.5 430.5h1.7M294.4 446.9h1.7M382.5 460.3h1.7M372.3 466.3h1.7M323.9 460.4h1.7M361.5 423.6h1.7M322.7 469.2h1.7M327.5 419.2h1.7M358.8 433.6h1.7M319.9 443.8h1.7M379.6 448h1.7M331.8 444h1.7M338.4 421.8h1.7M343.4 444.6h1.7M319.9 438.8h1.7M344.3 457.3h1.7M397.8 408.2h1.7M345 465.7h1.7M341.6 464.2h1.7M342.7 459.1h1.7M353.9 468.5h1.7M334 472h1.7M346.4 457.5h1.7M362.2 427.6h1.7M337.1 475.2h1.7M323.5 417.1h1.7M314.2 462.6h1.7M338.8 417.8h1.7M339 429.3h1.7M343.5 466.9h1.7M353.2 454.4h1.7M369.2 479.8h1.7M356.9 419.1h1.7M331.7 442.9h1.7M361.8 441.1h1.7M343.2 442h1.7M353.1 431.2h1.7" stroke="#4E79A7" stroke-opacity="0.32" stroke-width="1.7" fill="none"/><path d="M378.8 493.9h1.7M352.6 450.4h1.7M360.3 440.6h1.7M355.6 461.2h1.7M331.7 415.3h1.7M337.9 434.9h1.7M342 474.5h1.7M402.7 435.5h1.7M336.8 444.4h1.7M371.8 427.5h1.7M344.6 486.2h1.7M310.5 443.4h1.7M341.9 433.5h1.7M355.7 459.6h1.7M333.6 403.8h1.7M352.4 437.9h1.7M382.9 480.8h1.7M359 436.8h1.7M326.7 416.8h1.7M326.7 449.9h1.7M362.9 417.1h1.7M343.9 444.6h1.7M322.6 417.4h1.7M362.3 464.1h1.7M357.6 450.3h1.7M359.7 447.4h1.7M396.2 413.4h1.7M341.5 485.2h1.7M351.3 434.5h1.7M355.2 424.1h1.7M349.1 449.3h1.7M359.3 425.3h1.7M399.9 447h1.7M368.4 428.2h1.7M325.7 441.1h1.7M342.3 441.7h1.7M335.6 439.2h1.7M349.2 462.1h1.7M350.3 474.4h1.7M377.1 436.8h1.7M333.4 454.7h1.7M331.1 415.7h1.7M332.3 453.5h1.7M353.9 452.9h1.7M344.2 458.8h1.7M332.6 444.9h1.7M350.4 454.8h1.7M326.4 408.4h1.7M330.2 437.7h1.7M363.8 476.9h1.7M351.7 399.8h1.7M337.2 460.8h1.7M345.5 459h1.7M347.8 449.4h1.7M363.6 432.5h1.7M330.5 426.5h1.7M376 464.3h1.7M397.9 424.5h1.7M283.2 434.9h1.7M348.8 403.9h1.7M383.6 437.2h1.7M328.9 453.7h1.7M295.1 440.8h1.7M382.9 395.3h1.7M318.2 415.7h1.7M310.1 440h1.7M333.6 471.3h1.7M317.3 432.7h1.7M361.4 451.6h1.7M341.8 438.1h1.7" stroke="#4E79A7" stroke-opacity="0.32" stroke-width="1.7" fill="none"/><path d="M351.6 466.5h1.7M320.1 447.2h1.7M361.1 458.1h1.7M289.4 416.2h1.7M303.3 432.5h1.7M348.9 455h1.7M347 468.5h1.7M353.5 443.4h1.7M362.1 442.2h1.7M364.1 401.2h1.7M377.4 440.9h1.7M366.4 448.6h1.7M354.9 437.3h1.7M354 457h1.7M374.7 460.1h1.7M337.1 429.8h1.7M297.6 424.8h1.7M339.4 444h1.7M294.4 443.1h1.7M371.2 453.2h1.7M330.8 416.9h1.7M361 422.1h1.7M310.7 448.3h1.7M330 431.5h1.7M374.5 464h1.7M360.3 477.7h1.7M326.8 412.5h1.7M356.3 454.7h1.7M370.2 463.5h1.7M301.5 452.5h1.7M360.7 399.7h1.7M348 457.1h1.7M344.2 451.5h1.7M338 455.4h1.7M362.1 403.3h1.7M366.2 433.1h1.7M352 446.5h1.7M369.2 485.3h1.7M362.6 438h1.7M355.8 491h1.7M346 465.3h1.7M320.9 405h1.7M326.4 437.5h1.7M372.5 457.2h1.7M304.9 442.7h1.7M392.8 421.5h1.7M342 431.7h1.7M312.8 424.1h1.7M340.7 434.9h1.7M349.5 475.5h1.7M335.3 435.4h1.7M296.2 448.2h1.7M358.9 428.7h1.7M359.2 480.8h1.7M350.1 445h1.7M361.3 456.9h1.7M339 463.8h1.7M380.4 412.7h1.7M352.1 440.6h1.7M327.5 441.5h1.7M385 408.2h1.7M334.3 449.8h1.7M375 436.4h1.7M390.4 448.8h1.7M365.9 407.1h1.7M358.5 434h1.7M324.9 418.4h1.7M370.7 419.2h1.7M390.4 435.1h1.7" stroke="#4E79A7" stroke-opacity="0.32" stroke-width="1.7" fill="none"/><path d="M346.2 421h1.7M284 413.8h1.7M293.4 407.1h1.7M316.7 444.5h1.7M294.8 421.7h1.7M355 430.7h1.7M334.5 425.2h1.7M312.9 432.1h1.7M330.8 438.6h1.7M351.2 431.6h1.7M349.9 447.4h1.7M306.1 433.4h1.7M344.5 442h1.7M366 399.5h1.7M320.5 401.4h1.7M339.2 373.5h1.7M290.7 449.8h1.7M330.2 431.8h1.7M285.8 399.7h1.7M332.7 407.3h1.7M280 411.1h1.7M314.2 401.3h1.7M330 413.1h1.7M335.4 421.8h1.7M337.4 440.6h1.7M331 452.5h1.7M297.7 413.5h1.7M292.1 390h1.7M331.7 449.3h1.7M319.2 416.5h1.7M333 399.1h1.7M314.2 429.1h1.7M339.3 424.7h1.7M345.2 446.3h1.7M358.1 429.4h1.7M344.7 440.8h1.7M335.3 416.5h1.7M320.6 454.7h1.7M322 418.1h1.7M378.1 406.1h1.7M335.2 451h1.7M318.7 440h1.7M332.6 427.7h1.7M328.6 450.1h1.7M308.2 421h1.7M339 422.8h1.7M301 442h1.7M320.4 452.5h1.7M292.1 393.3h1.7M329.9 451.3h1.7M315.5 434.5h1.7M297.9 452.7h1.7M304.2 446.1h1.7M297.8 430h1.7M360 444.3h1.7M394.1 383.1h1.7M347.3 413.3h1.7M345.6 412.6h1.7M339 410.7h1.7M296.1 446.6h1.7M325.2 450.4h1.7M316.9 434.7h1.7M310.8 440.4h1.7M316.7 428.1h1.7M344.9 423.1h1.7M323.9 417.2h1.7M385.5 412.6h1.7M325.5 439.9h1.7M312.3 430.9h1.7M265.6 406.2h1.7" stroke="#2A9D8F" stroke-opacity="0.32" stroke-width="1.7" fill="none"/><path d="M256.2 425.6h1.7M346.6 447.7h1.7M309 456.8h1.7M383.6 452.1h1.7M378.1 406h1.7M317.3 415.8h1.7M289.1 419.5h1.7M332.6 407.6h1.7M280.9 408.2h1.7M304.6 410.3h1.7M264.7 422.5h1.7M359 437.6h1.7M279.9 428.8h1.7M334 444.3h1.7M290 394.4h1.7M356.4 426.3h1.7M307.8 410.5h1.7M341.6 437.2h1.7M347.3 437.3h1.7M315 423.9h1.7M362.1 427.4h1.7M352.1 396.5h1.7M318.8 439.5h1.7M321.2 439.9h1.7M327.2 443.3h1.7M311.3 422.6h1.7M345 419.4h1.7M316 410.9h1.7M298.3 399.6h1.7M344.7 424.2h1.7M262.7 420.6h1.7M308.3 454.6h1.7M336.6 416.3h1.7M325.9 430.9h1.7M319.9 427.5h1.7M308.1 427.6h1.7M319.7 393.1h1.7M308 383.4h1.7M303.4 446.7h1.7M303.2 434.2h1.7M317.9 447.3h1.7M356.3 432.6h1.7M317.2 445.8h1.7M325.3 430.2h1.7M319.8 441.6h1.7M309.9 437.2h1.7M338.8 419.7h1.7M332.6 434.8h1.7M345.9 424.8h1.7M332.7 454.1h1.7M381.9 415h1.7M346.8 428h1.7M276.5 452.6h1.7M371.2 439.9h1.7M343.3 425.3h1.7M340.4 435.9h1.7M303.7 431h1.7M253.9 445.2h1.7M373.3 446h1.7M291.8 438.7h1.7M321.6 454.9h1.7M366.9 422.4h1.7M312.8 453.3h1.7M341.4 435.2h1.7M322.5 413.8h1.7M320.9 412.8h1.7M348 418h1.7M298.7 412.8h1.7M306.6 437.9h1.7M330.3 437.2h1.7" stroke="#2A9D8F" stroke-opacity="0.32" stroke-width="1.7" fill="none"/><path d="M342.3 482.7h1.7M316.4 428.1h1.7M342.5 426h1.7M289.8 424.8h1.7M366.5 416h1.7M322.6 431.1h1.7M312.6 441h1.7M314.1 416.7h1.7M357.9 443.3h1.7M358.6 459.7h1.7M335.7 427.7h1.7M318.6 392.6h1.7M259.8 458.4h1.7M331.4 423.7h1.7M306 422.8h1.7M322.6 422.1h1.7M310.2 435.3h1.7M277 437.8h1.7M309.3 421.4h1.7M341.8 411.2h1.7M299.4 436.6h1.7M312.4 424.2h1.7M333.3 439.4h1.7M319.6 398.1h1.7M327.3 415.6h1.7M313.9 424.4h1.7M327.4 453.8h1.7M322.9 447.4h1.7M358.8 443.1h1.7M306.6 467.7h1.7M378.7 384h1.7M329.4 398.7h1.7M313.1 453.3h1.7M349 435.3h1.7M334.7 439h1.7M354.8 416.5h1.7M284.8 453.2h1.7M351.5 457.8h1.7M305.7 393.3h1.7M339 417.6h1.7M345.3 419.7h1.7M339.7 434.2h1.7M332.5 440.6h1.7M311 426.5h1.7M338.1 421.8h1.7M323.9 455.8h1.7M324 422.7h1.7M343.4 429.8h1.7M334 431.5h1.7M353.3 423.5h1.7M325.1 400h1.7M365.9 458.1h1.7M336.8 449.6h1.7M298.9 444.6h1.7M342.2 443.1h1.7M329.6 431.4h1.7M301 432.4h1.7M300.6 437.6h1.7M372.8 425.1h1.7M321.2 401.6h1.7M328.3 420.7h1.7M356.1 413.6h1.7M336.4 433.6h1.7M286.2 446.4h1.7M298 434h1.7M285.4 414h1.7M297.9 471.5h1.7M298.2 471.5h1.7M285.4 434h1.7M366.7 421.4h1.7" stroke="#2A9D8F" stroke-opacity="0.32" stroke-width="1.7" fill="none"/><path d="M298.5 462.3h1.7M306 435.2h1.7M347.7 437.1h1.7M349.5 418.3h1.7M303 440.1h1.7M344 429.8h1.7M315.8 414.7h1.7M305.3 426.4h1.7M325 444.4h1.7M259.6 417.9h1.7M358.6 430.6h1.7M324.3 448.9h1.7M335.1 398.8h1.7M329.4 438.1h1.7M283.7 428.9h1.7M350.2 420.5h1.7M308.6 440.8h1.7M297 431.1h1.7M353.9 419.9h1.7M328.6 442.4h1.7M321 439.7h1.7M357 415h1.7M304.6 428h1.7M335.2 403.4h1.7M341.8 432.7h1.7M305.9 404.6h1.7M299.5 405.5h1.7M340 426.1h1.7M318.7 444.4h1.7M325.7 455h1.7M353.9 428.3h1.7M333.5 414.2h1.7M352.6 442h1.7M329.5 421.8h1.7M341.8 439.1h1.7M306.5 421.5h1.7M332.8 419.6h1.7M325.7 403.9h1.7M275.6 401.4h1.7M343.3 429h1.7M267.8 421.4h1.7M297.8 440.1h1.7M341.7 418.4h1.7M334.8 447.1h1.7M334.7 425.3h1.7M334.5 432.2h1.7M322.7 447.7h1.7M310.1 444h1.7M312.2 425.3h1.7M334.7 428.4h1.7M322.8 448.5h1.7M338.1 410.6h1.7M281.5 420.5h1.7M341.4 443.1h1.7M315.3 422.3h1.7M337.9 429.2h1.7M347.2 420.4h1.7M304.1 426.7h1.7M312.6 440.2h1.7M346.8 428.8h1.7M318.9 436h1.7M290.9 423.3h1.7M311.5 456.8h1.7M282.5 428h1.7M269.5 410.5h1.7M334.1 410h1.7M304.5 452.4h1.7M279.2 420.3h1.7M349.1 446.8h1.7M344.8 417h1.7" stroke="#2A9D8F" stroke-opacity="0.32" stroke-width="1.7" fill="none"/><path d="M300.2 449.9h1.7M310 451.7h1.7M304.2 455.4h1.7M329.4 426.7h1.7M316.2 414.4h1.7M323.1 410.3h1.7M320.6 428.8h1.7M360.8 425.2h1.7M348.9 468.4h1.7M340.8 442.7h1.7M339 433.3h1.7M320 409.9h1.7M340.4 445.4h1.7M346.2 406.4h1.7M310.7 435.1h1.7M351.4 408.8h1.7M356 401.9h1.7M289.6 443.6h1.7M339.9 452.8h1.7M296.3 419.2h1.7M378 453.9h1.7M314 420h1.7M326.3 394.9h1.7M304.8 398.4h1.7M361.3 407.3h1.7M311.8 435.2h1.7M309.5 382.5h1.7M314.1 428.3h1.7M315.8 450.7h1.7M308.2 442.1h1.7M337.1 417.7h1.7M320.9 429.6h1.7M364.2 426.3h1.7M321.4 434.7h1.7M310.2 405.3h1.7M343.4 406.1h1.7M358.9 423h1.7M348.5 411.6h1.7M335.2 415.6h1.7M305.2 421.9h1.7M330.3 447.5h1.7M314.9 439h1.7M335.6 447.6h1.7M289.3 430.1h1.7M317.4 446.6h1.7M299.9 430h1.7M346.4 396.1h1.7M319.2 424.6h1.7M299.7 442.4h1.7M315 436.1h1.7M326.5 403.8h1.7M304.3 450.8h1.7M306.2 444.4h1.7M328 438h1.7M337.7 440.6h1.7M315.4 446.7h1.7M357.1 404.3h1.7M308.9 437.1h1.7M299 435.7h1.7M365.1 412h1.7M353.2 418.7h1.7M314.2 441.9h1.7M334 444.6h1.7M359.7 426.8h1.7M338.5 415.5h1.7M324.5 433.2h1.7M311.3 423.1h1.7M312.7 407h1.7M289.5 410.8h1.7M359.9 434.8h1.7" stroke="#2A9D8F" stroke-opacity="0.32" stroke-width="1.7" fill="none"/><path d="M338.8 426.1h1.7M342.9 434.6h1.7M351.5 408.3h1.7M334.5 414.6h1.7M336.1 414.3h1.7M309.9 433.6h1.7M357 425.5h1.7M331.3 410.4h1.7M260.9 417.3h1.7M307.3 407.5h1.7M267.7 494.5h1.7M359.7 466.4h1.7M304 430.3h1.7M283.2 426.3h1.7M318.1 446.5h1.7M358.8 419.5h1.7M259.6 439.1h1.7M320.5 422.4h1.7M280.2 415.5h1.7M360.8 444.7h1.7M301 423.9h1.7M328.4 439.8h1.7M317.8 439.9h1.7M333.2 445.2h1.7M354.8 414.8h1.7M296.1 473.1h1.7M327.3 423.6h1.7M289.9 444.1h1.7M323.9 417.5h1.7M307.1 448.4h1.7M307.2 390.5h1.7M313.8 447h1.7M318.4 437.4h1.7M332.4 431.4h1.7M294.9 399.2h1.7M381.1 424.7h1.7M313.1 422h1.7M348.9 440.2h1.7M315.6 427.9h1.7M320.6 430.6h1.7M280.5 416.3h1.7M289.4 446.2h1.7M313.1 441.6h1.7M332.8 438.9h1.7M325 443.3h1.7M335.5 415.1h1.7M367.5 429.9h1.7M340.7 415.2h1.7M361.3 451.7h1.7M354.7 413.2h1.7M344.3 400.2h1.7M326.1 454.3h1.7M358.7 420.7h1.7M357.5 434.9h1.7M305.8 443.5h1.7M392.9 420.4h1.7M304.9 440.2h1.7M348.4 430.9h1.7M320.9 429.8h1.7M302.5 398.7h1.7M326.8 442.5h1.7M314.4 420.7h1.7M343 420.9h1.7M318.3 389.1h1.7M298.2 436.8h1.7M359.5 418.2h1.7M393.3 375h1.7M342 413.9h1.7M383.7 424.5h1.7M350 433h1.7" stroke="#2A9D8F" stroke-opacity="0.32" stroke-width="1.7" fill="none"/><path d="M330.7 453.9h1.7M333.8 437.3h1.7M352.7 442.6h1.7M318.7 437.5h1.7M313.1 460.1h1.7M353.1 438.6h1.7M348.4 458h1.7M354.8 428.6h1.7M366.4 442.1h1.7M379.3 426.4h1.7M317 438.5h1.7M313.5 449.4h1.7M332.3 433h1.7M332.4 448.3h1.7M327.3 442.5h1.7M349.7 413.4h1.7M319.3 438.4h1.7M323.3 468.9h1.7M327.4 425.3h1.7M356.4 436.4h1.7M332.6 437.1h1.7M341.6 458.2h1.7M325.3 437.4h1.7M322.5 448.2h1.7M335.2 436.8h1.7M311.1 455.1h1.7M262 433.2h1.7M345.7 424h1.7M268.6 415.4h1.7M348.3 429h1.7M344.7 425.3h1.7M337.5 431.8h1.7M304 407.4h1.7M346.2 448.5h1.7M304.7 451.5h1.7M341.2 403.1h1.7M329.3 411.3h1.7M292.6 443.9h1.7M334.4 441.5h1.7M358.6 429.3h1.7M331.2 423.1h1.7M373.5 435.5h1.7M335.3 464.9h1.7M366.1 419.2h1.7M305.2 470.8h1.7M319 450h1.7M322.3 414.9h1.7M334.5 440.8h1.7M333.8 452.3h1.7M317 410.4h1.7M341.7 452.8h1.7M353.8 438h1.7M377 444.9h1.7M367.4 439.2h1.7M309.2 444.7h1.7M253.7 417.3h1.7M328.8 439.7h1.7M330.5 458h1.7M321.5 447.8h1.7M321.8 449.5h1.7M335.1 448.1h1.7M327.5 420.3h1.7M356.8 438.7h1.7M347.3 430.9h1.7M309.9 426.1h1.7M370.1 441h1.7M318.2 433h1.7M314.9 429.1h1.7M344.5 453.4h1.7M325.5 402.6h1.7" stroke="#E9A03F" stroke-opacity="0.32" stroke-width="1.7" fill="none"/><path d="M344.8 442.4h1.7M328.4 436.4h1.7M323.8 449.1h1.7M333.5 468.4h1.7M314.4 448.7h1.7M355.3 421.8h1.7M344.5 435.5h1.7M335 414.8h1.7M364.1 432.8h1.7M361.7 464.5h1.7M323.5 429.9h1.7M337.5 409.6h1.7M336.7 444h1.7M346.4 441.2h1.7M334.1 441.8h1.7M340.3 440.2h1.7M326.6 460.9h1.7M339.5 443.2h1.7M356.2 419h1.7M287.4 425.4h1.7M325.3 417.1h1.7M304.3 436.7h1.7M309.5 414.4h1.7M353 437.5h1.7M297.7 424.7h1.7M336.7 465.4h1.7M321.5 423.2h1.7M366 444.3h1.7M348.6 445.8h1.7M374.8 425.1h1.7M331.8 436.8h1.7M314 436.2h1.7M311.2 434.1h1.7M272.6 417.9h1.7M366.5 419.9h1.7M313.3 434.1h1.7M407.6 424.1h1.7M342.9 445.9h1.7M369.5 440.5h1.7M373.9 423.1h1.7M328.9 416.9h1.7M346.8 438.3h1.7M352.7 427.8h1.7M345.7 452.4h1.7M333.2 433.4h1.7M365 396.5h1.7M340.9 455.6h1.7M339.7 438.9h1.7M342 444.7h1.7M301.1 414.1h1.7M330.8 423.3h1.7M306.7 423.8h1.7M326.7 430.2h1.7M350.4 412.1h1.7M342.3 444.9h1.7M281.4 434.5h1.7M332.6 437.5h1.7M299.4 473.9h1.7M311.8 441.7h1.7M375.6 460.8h1.7M309 452.3h1.7M347.5 463.1h1.7M289.1 422.2h1.7M359.3 435.9h1.7M339.7 430.8h1.7M338.7 446.1h1.7M302.3 474.8h1.7M310.9 443.9h1.7M317 449.9h1.7M325.3 442h1.7" stroke="#E9A03F" stroke-opacity="0.32" stroke-width="1.7" fill="none"/><path d="M349.6 439h1.7M347.2 458.2h1.7M319.9 423.3h1.7M329 413.9h1.7M361.2 404.9h1.7M366.8 446.5h1.7M353.9 419.3h1.7M315.3 421.7h1.7M330.4 425.3h1.7M320 409h1.7M329.1 429.3h1.7M374.9 419.2h1.7M324.1 413.8h1.7M341.9 459.2h1.7M324 449h1.7M302.5 434.4h1.7M384 436.8h1.7M333.7 411.2h1.7M311.5 438.9h1.7M351.6 457.2h1.7M290.4 441.4h1.7M307.4 449.4h1.7M323.3 457.1h1.7M335.5 396.5h1.7M349.5 422.9h1.7M302.1 401h1.7M319.1 434.8h1.7M341.4 456.4h1.7M333.3 446.6h1.7M304.3 408.3h1.7M346.9 424.9h1.7M326 453.1h1.7M357.6 408h1.7M338.5 443.2h1.7M332.8 415.2h1.7M347.1 441.8h1.7M334.1 453.1h1.7M361.1 399.3h1.7M392.1 445.2h1.7M342 457.5h1.7M347.7 420.1h1.7M335.7 415.2h1.7M341.5 478.9h1.7M282.1 429.3h1.7M375.4 429.2h1.7M343.1 454.1h1.7M346.6 417.8h1.7M332.7 441.2h1.7M351.9 443.8h1.7M289.4 425.4h1.7M314.8 421h1.7M338.3 435.3h1.7M333.5 454h1.7M354.7 401h1.7M304.3 417.4h1.7M297.3 428.5h1.7M394.4 403.4h1.7M344.8 428.6h1.7M302.7 406.9h1.7M330.2 438.4h1.7M333.2 448.5h1.7M355.8 415.5h1.7M302.9 458.3h1.7M345.3 444.2h1.7M326.5 392.1h1.7M340.2 429.3h1.7M323.3 441.8h1.7M336.9 449.1h1.7M336.4 405.4h1.7M337 436.4h1.7" stroke="#E9A03F" stroke-opacity="0.32" stroke-width="1.7" fill="none"/><path d="M365.3 444.5h1.7M383.1 434.5h1.7M345.1 444.9h1.7M277.5 462h1.7M358.9 438.5h1.7M315.7 441.5h1.7M323.4 430.2h1.7M354.5 440.3h1.7M315.9 431.3h1.7M349.2 416.2h1.7M325.2 449h1.7M296.1 447.4h1.7M345.8 420.1h1.7M310.1 406.7h1.7M338.4 433.6h1.7M368.1 445.6h1.7M329.3 409.7h1.7M318.3 436.4h1.7M356.1 435.6h1.7M312.2 422.2h1.7M295.7 435.6h1.7M373.4 434.2h1.7M314.2 447.3h1.7M306 430.5h1.7M338.3 461.3h1.7M326.3 436.9h1.7M380.3 415.3h1.7M337 435.6h1.7M329.1 454.2h1.7M337.3 403.2h1.7M346.5 452.6h1.7M374.9 391.4h1.7M333.5 445.3h1.7M347.3 462.1h1.7M380 436.2h1.7M356.6 433h1.7M300.7 453.5h1.7M388.3 427.7h1.7M319.1 428.7h1.7M370.8 413.4h1.7M296.2 436.6h1.7M340.5 447.1h1.7M371.2 424.5h1.7M291.2 416.8h1.7M305.2 456.9h1.7M369.3 432.5h1.7M372.5 433.9h1.7M382 407.4h1.7M324.3 432.7h1.7M344.6 450.9h1.7M332.8 448.1h1.7M345.5 410.3h1.7M325.3 446.6h1.7M367 438.6h1.7M334.4 405.1h1.7M355.9 399.5h1.7M340.2 433.3h1.7M312.1 422h1.7M331 443h1.7M363.4 447.6h1.7M393.5 419.5h1.7M334.6 445h1.7M366.5 418.7h1.7M346.1 459.7h1.7M342.4 427.6h1.7M288.2 434.6h1.7M342.7 422.7h1.7M370.9 431.7h1.7M352.8 434.1h1.7" stroke="#E9A03F" stroke-opacity="0.32" stroke-width="1.7" fill="none"/><path d="M325 434.6h1.7M346.8 448.5h1.7M352.7 488.5h1.7M336.7 457.2h1.7M340.2 437.9h1.7M327.8 445.6h1.7M306.3 446.7h1.7M310.8 433.8h1.7M318.6 434.7h1.7M322.5 377h1.7M372.4 425.3h1.7M355.8 446.6h1.7M338.3 430.7h1.7M373.6 437.4h1.7M350.6 444h1.7M310.3 436.9h1.7M314.4 426.8h1.7M347.2 421.7h1.7M332.2 450.9h1.7M341.2 436.8h1.7M307.4 433.7h1.7M291.5 436.1h1.7M338.3 428.7h1.7M318 407.1h1.7M368.2 409.9h1.7M364.5 426.5h1.7M322.6 454.1h1.7M344.6 405.6h1.7M309.2 463h1.7M351.9 434.4h1.7M327.5 451.6h1.7M292.5 430.2h1.7M344.5 437.8h1.7M349.3 472.6h1.7M354 421.4h1.7M303.9 457.6h1.7M329.7 447h1.7M336.4 455.6h1.7M329.6 438.2h1.7M340.3 446.4h1.7M335.4 419.8h1.7M311.4 443.9h1.7M307.3 429.9h1.7M312.5 453.1h1.7M321 413.5h1.7M312.8 448.3h1.7M333.7 435.1h1.7M287.3 428.6h1.7M330.1 418.9h1.7M323.5 442.4h1.7M322.8 447.3h1.7M359.5 452.8h1.7M319.9 407.6h1.7M356.6 461.6h1.7M306.2 447.7h1.7M291.7 426.5h1.7M352.6 380.4h1.7M319.4 439.3h1.7M374.4 435.9h1.7M275.4 429.5h1.7M290.1 435h1.7M304.9 439.1h1.7M334.8 417.5h1.7M325.9 420.9h1.7M333.1 420.1h1.7M342 444.9h1.7M308 429.3h1.7M325.5 426.8h1.7M315 451.7h1.7" stroke="#E9A03F" stroke-opacity="0.32" stroke-width="1.7" fill="none"/><path d="M345.9 426.1h1.7M291.5 419.4h1.7M323.3 452.7h1.7M324.5 415.2h1.7M360.9 426.7h1.7M354 405.3h1.7M340.3 443.6h1.7M310.8 411.9h1.7M338.6 428.9h1.7M312.1 447.2h1.7M333.7 431.9h1.7M336.9 436.3h1.7M294.7 438.6h1.7M311.1 403.1h1.7M323 433.7h1.7M324.1 426.3h1.7M340.9 401.5h1.7M325.4 420.2h1.7M335.1 450.2h1.7M336.3 430.6h1.7M322.8 463.1h1.7M359.8 461.4h1.7M308.1 400.7h1.7M318.3 434.3h1.7M331.3 431.3h1.7M344.6 457.3h1.7M387.8 409.5h1.7M331.8 452.2h1.7M329.2 423h1.7M282.3 422.8h1.7M326 424.5h1.7M359.2 413h1.7M342.9 408.7h1.7M324.1 423.1h1.7M339.1 457h1.7M343.4 408.7h1.7M289.4 421.8h1.7M387.7 414.8h1.7M315.1 445.4h1.7M301.7 410.5h1.7M344.5 412.5h1.7M303.2 458.4h1.7M311.7 431.6h1.7M360.8 424.7h1.7M359.3 418.4h1.7M304.1 460.2h1.7M367.8 444.2h1.7M343.8 428.8h1.7M325.1 424h1.7M329.4 440.9h1.7M370.4 417.2h1.7M299.2 427.1h1.7M335.6 428.9h1.7M357.8 420.8h1.7M344.6 430.2h1.7M313.8 439.7h1.7M312.9 445.7h1.7M312.3 445.6h1.7M315.4 436.5h1.7M320.2 425.6h1.7M332.2 431.1h1.7M306 478.4h1.7M341.5 443.4h1.7M298.2 444.2h1.7M336.9 446.9h1.7M338.8 433.1h1.7M333 449.9h1.7M340.9 433h1.7M369.6 406.9h1.7" stroke="#E9A03F" stroke-opacity="0.32" stroke-width="1.7" fill="none"/><path d="M353.4 412.4h1.7M352.4 421.1h1.7M360.3 441.9h1.7M307.9 400.4h1.7M362.1 419.5h1.7M336.4 437.3h1.7M264.3 402.5h1.7M319.1 459.8h1.7M293.3 410.6h1.7M299.3 431.2h1.7M325.9 464.9h1.7M346.9 434.9h1.7M269.7 409.9h1.7M351.5 426.8h1.7M353.3 442.7h1.7M302.3 449.5h1.7M346.1 409.8h1.7M327 444.7h1.7M325.7 438.3h1.7M334.5 377.4h1.7M368.5 441.8h1.7M329.1 427.3h1.7M349.6 431.3h1.7M372.8 458.7h1.7M323.2 439h1.7M365.9 435.8h1.7M297.4 430.4h1.7M329.5 430.5h1.7M295.7 438.1h1.7M365.5 407.9h1.7M316 410.2h1.7M332.8 436h1.7M311.3 422.3h1.7M299.7 401.4h1.7M300.5 427.9h1.7M339.2 444.3h1.7M302.5 446.8h1.7M323.3 458.8h1.7M334 446.5h1.7M358.7 439.9h1.7M331.7 442.3h1.7M346.3 443.7h1.7M349 432.6h1.7M362 427.5h1.7M342.3 437.9h1.7M361.8 417.4h1.7M310.6 452.4h1.7M315 428.2h1.7M351.3 440.5h1.7M301.9 421.6h1.7M366.4 479.1h1.7M335.1 436.2h1.7M318.3 459.4h1.7M327.8 409.4h1.7M297.5 409.7h1.7M341 433.3h1.7M374.7 372.4h1.7M335.5 456h1.7M345.7 455h1.7M270.2 413.3h1.7M380.1 458.2h1.7M361.9 409.3h1.7M314.7 447.9h1.7M308.6 442.6h1.7M297.3 434.2h1.7M353.4 436.6h1.7M326.7 444.8h1.7M331.6 413.3h1.7M318.8 456.6h1.7M346.2 424.4h1.7" stroke="#E3434F" stroke-opacity="0.32" stroke-width="1.7" fill="none"/><path d="M400.9 444.6h1.7M344.5 415.3h1.7M346.8 424.1h1.7M343.2 427h1.7M280.2 452.4h1.7M323 394.1h1.7M367.5 412.2h1.7M332.8 432.1h1.7M306.5 431h1.7M339.7 414.8h1.7M297.5 458.4h1.7M345.9 442.6h1.7M383.4 413.6h1.7M270.9 431.5h1.7M283.1 424.2h1.7M343.1 430.9h1.7M349.7 413.2h1.7M311.1 430.2h1.7M343.8 438.5h1.7M377.6 422.2h1.7M331.7 424.7h1.7M298 445.9h1.7M354.4 433.9h1.7M362.7 420h1.7M335.3 420.8h1.7M323.8 410.3h1.7M325.3 425.3h1.7M297.1 434.9h1.7M317.9 417.8h1.7M297.8 432.5h1.7M322.7 410.6h1.7M285.9 416.3h1.7M343.8 447.1h1.7M335.6 440.4h1.7M342.6 406.1h1.7M339.4 435.3h1.7M295.5 411.2h1.7M333.8 422h1.7M326.5 442.3h1.7M317.7 458.6h1.7M347.5 428h1.7M310.7 437.4h1.7M333.7 427.8h1.7M318.9 427.4h1.7M356.3 417.3h1.7M330.2 466.3h1.7M374.3 431.7h1.7M327.3 435.3h1.7M346.2 388.4h1.7M326.4 424.7h1.7M296.7 429h1.7M345.7 443.3h1.7M349.2 429h1.7M311.6 459.7h1.7M312.8 391h1.7M327.6 425.2h1.7M356.1 424.4h1.7M315.2 443.9h1.7M350.3 447.3h1.7M337.5 405.2h1.7M379 382.8h1.7M308 440.5h1.7M322.3 446.8h1.7M298.7 415h1.7M359.8 435.4h1.7M314.1 440.2h1.7M338.9 426.7h1.7M315.3 443.1h1.7M328.7 449.9h1.7M303 444h1.7" stroke="#E3434F" stroke-opacity="0.32" stroke-width="1.7" fill="none"/><path d="M354.7 420h1.7M350.4 412.4h1.7M391.3 431.6h1.7M319.8 462.1h1.7M370.6 427.8h1.7M364.9 422.9h1.7M350.5 431.8h1.7M299.5 433.6h1.7M342.9 434.3h1.7M320 445.7h1.7M326.6 429.3h1.7M332.4 402.8h1.7M264.5 421.5h1.7M303 429.6h1.7M311.8 431.6h1.7M340.6 425.5h1.7M333.2 435h1.7M331.2 434.6h1.7M316.2 417.7h1.7M373.9 426.6h1.7M380.3 421.6h1.7M334.9 419.5h1.7M335.8 439.5h1.7M341.8 420.6h1.7M327.7 423.1h1.7M316 443h1.7M319.7 416.7h1.7M360.2 430.1h1.7M332.7 442.4h1.7M348.2 407.3h1.7M291.9 437.2h1.7M349.4 417.6h1.7M301.2 451.6h1.7M331.7 407.1h1.7M311.4 421h1.7M292.8 441.8h1.7M340.3 423h1.7M318.1 460.8h1.7M309.6 426.3h1.7M327.4 386.5h1.7M329.2 411.2h1.7M336.8 419.4h1.7M311.3 451.1h1.7M355.7 405.8h1.7M313.6 464.3h1.7M334.1 442.7h1.7M330.9 441.3h1.7M345.2 426.5h1.7M302.8 446.6h1.7M324.7 460.4h1.7M403 431.5h1.7M342.5 433.2h1.7M324.4 454.9h1.7M330.2 426.9h1.7M301.8 421.2h1.7M342.6 428h1.7M318.8 449.2h1.7M282.4 414.8h1.7M319.7 429.9h1.7M373.9 421.4h1.7M325.5 415.1h1.7M348.6 400.7h1.7M289.7 448.4h1.7M331.2 439.2h1.7M329.2 454h1.7M336.5 435.3h1.7M290.7 433.7h1.7M369.2 418.2h1.7M360.4 429.1h1.7M312.3 428.7h1.7" stroke="#E3434F" stroke-opacity="0.32" stroke-width="1.7" fill="none"/><path d="M320.2 424h1.7M347.9 450h1.7M358 444.8h1.7M323 431.2h1.7M328.8 436.1h1.7M339.8 406.2h1.7M323.1 444.1h1.7M320.6 447.6h1.7M312.1 428.7h1.7M323.1 428.7h1.7M333.9 434.1h1.7M329.6 414.6h1.7M316 451.7h1.7M343.3 363.4h1.7M291.5 419.1h1.7M288.3 434.3h1.7M330 441.4h1.7M326.2 428.5h1.7M337.9 419.2h1.7M331.5 452.3h1.7M285.6 422.4h1.7M346 442.7h1.7M344.1 444.3h1.7M356 427.5h1.7M354.6 438.5h1.7M349.3 414.4h1.7M317.7 419.9h1.7M330.4 443.2h1.7M325.2 424.7h1.7M362.7 434.7h1.7M338.5 448.5h1.7M354.7 416.4h1.7M356.3 448.5h1.7M273.9 432.1h1.7M326.1 427.1h1.7M341.1 424.3h1.7M321 430.7h1.7M332.8 398.8h1.7M342.4 446.1h1.7M291.4 428.7h1.7M363.3 413.7h1.7M340.3 455.8h1.7M366.7 435.5h1.7M311.6 431.2h1.7M330.2 425.3h1.7M352 422.7h1.7M345.9 434.8h1.7M331.1 429h1.7M327.6 431.2h1.7M302.1 428.9h1.7M337.3 433.1h1.7M343.9 434.3h1.7M309.9 401.6h1.7M391.4 421.3h1.7M357.1 401h1.7M324.4 402.7h1.7M349.4 411.2h1.7M296.6 433.6h1.7M331.2 437.5h1.7M321.1 442.5h1.7M326.3 441.4h1.7M270 408.2h1.7M328.2 428.2h1.7M313 421.6h1.7M362.2 414.8h1.7M326.8 406.6h1.7M296.7 424h1.7M308.2 422.6h1.7M337.2 428.8h1.7M310 448h1.7" stroke="#E3434F" stroke-opacity="0.32" stroke-width="1.7" fill="none"/><path d="M338.2 420.1h1.7M301.1 454.3h1.7M333.7 413.9h1.7M277.6 439h1.7M300.5 434.3h1.7M313.5 454h1.7M370.9 421.1h1.7M330.4 413h1.7M315.5 434h1.7M326.1 437.9h1.7M301.8 444h1.7M348.6 404.9h1.7M275.9 430.5h1.7M325.3 437h1.7M330.9 448.2h1.7M348.4 395.5h1.7M326 428.5h1.7M334.2 442.7h1.7M305.1 450.5h1.7M331 439h1.7M262.8 400.9h1.7M305.7 437.1h1.7M306.2 443.5h1.7M313.3 443.4h1.7M359.2 421.7h1.7M342.5 439.2h1.7M321.7 425.5h1.7M330.5 422.6h1.7M371.6 431.3h1.7M366.3 431.6h1.7M357.2 420.8h1.7M357.2 411.6h1.7M326.4 427.7h1.7M337.5 447.9h1.7M303.9 452.6h1.7M364.8 431.1h1.7M335.3 458.5h1.7M305 453h1.7M332 458.6h1.7M350.9 411.1h1.7M345 438.7h1.7M366 426.4h1.7M309.7 413.4h1.7M324.9 448.6h1.7M323.9 414.9h1.7M303.1 446.5h1.7M319.9 452.1h1.7M333.4 456.5h1.7M354.4 416.3h1.7M317.4 432.4h1.7M323.6 457.9h1.7M304.8 442.5h1.7M368.6 424.4h1.7M348.8 440.5h1.7M328.2 439.4h1.7M347 434.6h1.7M366.4 417.8h1.7M291.5 445.7h1.7M351.6 469h1.7M316.8 433h1.7M342.7 442.6h1.7M320.8 448.6h1.7M346.7 438.8h1.7M303 429.3h1.7M312.2 456.4h1.7M324.1 434.1h1.7M311.7 425.8h1.7M325.4 445.4h1.7M322.3 413.1h1.7M315.9 441.5h1.7" stroke="#E3434F" stroke-opacity="0.32" stroke-width="1.7" fill="none"/><path d="M332.8 406.5h1.7M369.5 406.6h1.7M343.7 436.5h1.7M318.3 454.1h1.7M328.8 442h1.7M348.2 433h1.7M371.6 411.5h1.7M281.2 405.3h1.7M314.9 439.7h1.7M272.6 422.2h1.7M341.9 416.5h1.7M330.8 429.9h1.7M325.7 428.3h1.7M295.3 398.5h1.7M325.9 403.4h1.7M366.7 405.7h1.7M358.2 423.6h1.7M287.5 422.4h1.7M313.5 429.1h1.7M317.1 419.1h1.7M314 435.7h1.7M274.8 378.6h1.7M278 423.7h1.7M360.5 399.7h1.7M311.3 440.9h1.7M382.4 448.3h1.7M333.2 434.8h1.7M321.2 416.9h1.7M315.4 453.9h1.7M340.9 447.2h1.7M298.6 408.8h1.7M292.4 434h1.7M328.6 439.6h1.7M317 410.7h1.7M352.4 443.9h1.7M301.4 456.7h1.7M320.9 439.8h1.7M324.8 436.2h1.7M310.3 413.8h1.7M388.1 417.1h1.7M339.4 430.2h1.7M270.3 454.2h1.7M347.1 444.7h1.7M315.7 452.1h1.7M350.3 422h1.7M311.7 416.1h1.7M320.5 423.8h1.7M323.5 414.1h1.7M318.8 442.1h1.7M342 461.8h1.7M334.5 428h1.7M299.5 441.6h1.7M323.6 452.1h1.7M295.7 441h1.7M411.1 433.5h1.7M324.2 439.1h1.7M365.5 429.1h1.7M321.2 386h1.7M365.4 424.3h1.7M356.4 448.6h1.7M358.3 444.8h1.7M349.6 439.5h1.7M331.7 439.2h1.7M315.7 459.6h1.7M344.5 422.6h1.7M266.8 455.9h1.7M338.8 441.6h1.7M309.6 426.1h1.7M302.8 423.6h1.7" stroke="#E3434F" stroke-opacity="0.32" stroke-width="1.7" fill="none"/><ellipse cx="350.7" cy="449" rx="57.97" ry="49.63" transform="rotate(162.93 350.7 449)" fill="none" stroke="#4E79A7" stroke-width="0.95"/><ellipse cx="325.5" cy="431.4" rx="60.93" ry="37.21" transform="rotate(166.01 325.5 431.4)" fill="none" stroke="#2A9D8F" stroke-width="0.95"/><ellipse cx="334.2" cy="437.6" rx="61.37" ry="41.59" transform="rotate(167.60 334.2 437.6)" fill="none" stroke="#E9A03F" stroke-width="0.95"/><ellipse cx="330.4" cy="434.6" rx="58.97" ry="40.67" transform="rotate(166.32 330.4 434.6)" fill="none" stroke="#E3434F" stroke-width="0.95"/></g><path d="M251.6 351.6H422.4V521H251.6Z" fill="none" stroke="#3a3a3a" stroke-width="0.9"/><text x="262.7" y="529.8" font-size="7.9" fill="#4D4D4D" text-anchor="middle">−5.0</text><text x="301.6" y="529.8" font-size="7.9" fill="#4D4D4D" text-anchor="middle">−2.5</text><text x="339.5" y="529.8" font-size="7.9" fill="#4D4D4D" text-anchor="middle">0.0</text><text x="378.4" y="529.8" font-size="7.9" fill="#4D4D4D" text-anchor="middle">2.5</text><text x="417.1" y="529.8" font-size="7.9" fill="#4D4D4D" text-anchor="middle">5.0</text><text x="248.4" y="361.2" font-size="7.9" fill="#4D4D4D" text-anchor="end">6</text><text x="248.4" y="400.5" font-size="7.9" fill="#4D4D4D" text-anchor="end">3</text><text x="248.4" y="439" font-size="7.9" fill="#4D4D4D" text-anchor="end">0</text><text x="248.4" y="477.8" font-size="7.9" fill="#4D4D4D" text-anchor="end">−3</text><text x="248.4" y="516.5" font-size="7.9" fill="#4D4D4D" text-anchor="end">−6</text><path d="M251.1 358.6h-2M251.1 397.9h-2M251.1 436.4h-2M251.1 475.2h-2M251.1 513.9h-2" stroke="#555" stroke-width="0.7"/><path d="M262.7 521.5v1.6M301.6 521.5v1.6M339.5 521.5v1.6M378.4 521.5v1.6M417.1 521.5v1.6" stroke="#aaa" stroke-width="0.6"/><text x="339.6" y="539" font-size="9.1" fill="#000" text-anchor="middle">PCA2 (12.2%)</text><text x="239.4" y="436.6" font-size="9.2" fill="#000" text-anchor="middle" transform="rotate(-90 239.4 436.6)">PCA3 (9.3%)</text><text x="241.9" y="312.2" font-size="12.4" fill="#000">(e)</text>
<path d="M491.1 349.3L491.1 349.2L493.3 349L495.5 348.6L497.7 348.1L499.9 347.5L502.2 346.9L504.4 346.2L506.6 345.3L508.8 344.2L511 343L513.2 341.2L515.4 339.2L517.6 337.3L519.8 335.5L522 333.8L524.3 332.2L526.5 330.8L528.7 329.3L530.9 328L533.1 327.1L535.3 326.3L537.5 325.7L539.7 325.4L541.9 325.4L544.1 325.4L546.4 325.5L548.6 326.3L550.8 327.2L553 328.1L555.2 328.8L557.4 329.6L559.6 330.3L561.8 331L564 331.7L566.2 332.4L568.5 333L570.7 333.6L572.9 334.1L575.1 334.6L577.3 335.2L579.5 335.8L581.7 336.4L583.9 337.1L586.1 337.9L588.3 338.6L590.6 339.1L592.8 339.7L595 340.2L597.2 340.8L599.4 341.4L601.6 342L603.8 342.4L606 342.8L608.2 343.2L610.4 343.6L612.7 344L614.9 344.5L617.1 345.2L619.3 345.8L621.5 346.3L623.7 346.7L625.9 347L628.1 347.2L630.3 347.4L632.5 347.7L634.8 348L637 348.3L639.2 348.6L641.4 348.9L643.6 349.2L643.6 349.3Z" fill="#4E79A7" fill-opacity="0.25"/><path d="M491.1 349.2 L493.3 349 L495.5 348.6 L497.7 348.1 L499.9 347.5 L502.2 346.9 L504.4 346.2 L506.6 345.3 L508.8 344.2 L511 343 L513.2 341.2 L515.4 339.2 L517.6 337.3 L519.8 335.5 L522 333.8 L524.3 332.2 L526.5 330.8 L528.7 329.3 L530.9 328 L533.1 327.1 L535.3 326.3 L537.5 325.7 L539.7 325.4 L541.9 325.4 L544.1 325.4 L546.4 325.5 L548.6 326.3 L550.8 327.2 L553 328.1 L555.2 328.8 L557.4 329.6 L559.6 330.3 L561.8 331 L564 331.7 L566.2 332.4 L568.5 333 L570.7 333.6 L572.9 334.1 L575.1 334.6 L577.3 335.2 L579.5 335.8 L581.7 336.4 L583.9 337.1 L586.1 337.9 L588.3 338.6 L590.6 339.1 L592.8 339.7 L595 340.2 L597.2 340.8 L599.4 341.4 L601.6 342 L603.8 342.4 L606 342.8 L608.2 343.2 L610.4 343.6 L612.7 344 L614.9 344.5 L617.1 345.2 L619.3 345.8 L621.5 346.3 L623.7 346.7 L625.9 347 L628.1 347.2 L630.3 347.4 L632.5 347.7 L634.8 348 L637 348.3 L639.2 348.6 L641.4 348.9 L643.6 349.2" fill="none" stroke="#4E79A7" stroke-width="0.6"/><path d="M491.1 349.3L491.1 349.2L493.3 349.2L495.5 349.2L497.7 349.2L499.9 349.2L502.2 349.2L504.4 349.1L506.6 349.1L508.8 349.1L511 349.1L513.2 349L515.4 349L517.6 348.9L519.8 348.7L522 348.5L524.3 348.2L526.5 347.8L528.7 347.4L530.9 346.9L533.1 346.4L535.3 345.5L537.5 344.4L539.7 343L541.9 341.5L544.1 339.6L546.4 337.3L548.6 334.5L550.8 330.4L553 327.4L555.2 325.5L557.4 324L559.6 322.5L561.8 320.5L564 318.7L566.2 318.3L568.5 318.2L570.7 319.1L572.9 320.4L575.1 321.6L577.3 323L579.5 324.3L581.7 325.5L583.9 326.5L586.1 327.6L588.3 328.8L590.6 330.5L592.8 332.2L595 333.9L597.2 335.3L599.4 336.6L601.6 337.8L603.8 339L606 340.2L608.2 341.4L610.4 342.5L612.7 343.4L614.9 344.3L617.1 345.1L619.3 345.8L621.5 346.3L623.7 346.7L625.9 346.9L628.1 347.1L630.3 347.3L632.5 347.5L634.8 347.8L637 348.1L639.2 348.4L641.4 348.8L643.6 349.2L643.6 349.3Z" fill="#2A9D8F" fill-opacity="0.25"/><path d="M491.1 349.2 L493.3 349.2 L495.5 349.2 L497.7 349.2 L499.9 349.2 L502.2 349.2 L504.4 349.1 L506.6 349.1 L508.8 349.1 L511 349.1 L513.2 349 L515.4 349 L517.6 348.9 L519.8 348.7 L522 348.5 L524.3 348.2 L526.5 347.8 L528.7 347.4 L530.9 346.9 L533.1 346.4 L535.3 345.5 L537.5 344.4 L539.7 343 L541.9 341.5 L544.1 339.6 L546.4 337.3 L548.6 334.5 L550.8 330.4 L553 327.4 L555.2 325.5 L557.4 324 L559.6 322.5 L561.8 320.5 L564 318.7 L566.2 318.3 L568.5 318.2 L570.7 319.1 L572.9 320.4 L575.1 321.6 L577.3 323 L579.5 324.3 L581.7 325.5 L583.9 326.5 L586.1 327.6 L588.3 328.8 L590.6 330.5 L592.8 332.2 L595 333.9 L597.2 335.3 L599.4 336.6 L601.6 337.8 L603.8 339 L606 340.2 L608.2 341.4 L610.4 342.5 L612.7 343.4 L614.9 344.3 L617.1 345.1 L619.3 345.8 L621.5 346.3 L623.7 346.7 L625.9 346.9 L628.1 347.1 L630.3 347.3 L632.5 347.5 L634.8 347.8 L637 348.1 L639.2 348.4 L641.4 348.8 L643.6 349.2" fill="none" stroke="#2A9D8F" stroke-width="0.6"/><path d="M491.1 349.3L491.1 349.2L493.3 349.2L495.5 349.2L497.7 349.1L499.9 349L502.2 348.9L504.4 348.8L506.6 348.7L508.8 348.6L511 348.4L513.2 348.1L515.4 347.7L517.6 347.2L519.8 346.5L522 345.8L524.3 345L526.5 343.9L528.7 342.3L530.9 340.4L533.1 338.8L535.3 337.3L537.5 335.8L539.7 334.4L541.9 332.9L544.1 331.3L546.4 329.9L548.6 328.4L550.8 326.9L553 325.8L555.2 325L557.4 324.3L559.6 323.6L561.8 322.8L564 322.1L566.2 322.1L568.5 322.6L570.7 323.4L572.9 324.2L575.1 325.1L577.3 326.3L579.5 327.4L581.7 328.5L583.9 329.6L586.1 330.7L588.3 331.9L590.6 333.4L592.8 335L595 336.4L597.2 337.7L599.4 338.8L601.6 339.9L603.8 340.7L606 341.5L608.2 342.1L610.4 342.8L612.7 343.4L614.9 344.1L617.1 344.8L619.3 345.5L621.5 346.1L623.7 346.5L625.9 346.8L628.1 347.1L630.3 347.4L632.5 347.7L634.8 348L637 348.3L639.2 348.6L641.4 348.9L643.6 349.2L643.6 349.3Z" fill="#E9A03F" fill-opacity="0.25"/><path d="M491.1 349.2 L493.3 349.2 L495.5 349.2 L497.7 349.1 L499.9 349 L502.2 348.9 L504.4 348.8 L506.6 348.7 L508.8 348.6 L511 348.4 L513.2 348.1 L515.4 347.7 L517.6 347.2 L519.8 346.5 L522 345.8 L524.3 345 L526.5 343.9 L528.7 342.3 L530.9 340.4 L533.1 338.8 L535.3 337.3 L537.5 335.8 L539.7 334.4 L541.9 332.9 L544.1 331.3 L546.4 329.9 L548.6 328.4 L550.8 326.9 L553 325.8 L555.2 325 L557.4 324.3 L559.6 323.6 L561.8 322.8 L564 322.1 L566.2 322.1 L568.5 322.6 L570.7 323.4 L572.9 324.2 L575.1 325.1 L577.3 326.3 L579.5 327.4 L581.7 328.5 L583.9 329.6 L586.1 330.7 L588.3 331.9 L590.6 333.4 L592.8 335 L595 336.4 L597.2 337.7 L599.4 338.8 L601.6 339.9 L603.8 340.7 L606 341.5 L608.2 342.1 L610.4 342.8 L612.7 343.4 L614.9 344.1 L617.1 344.8 L619.3 345.5 L621.5 346.1 L623.7 346.5 L625.9 346.8 L628.1 347.1 L630.3 347.4 L632.5 347.7 L634.8 348 L637 348.3 L639.2 348.6 L641.4 348.9 L643.6 349.2" fill="none" stroke="#E9A03F" stroke-width="0.6"/><path d="M491.1 349.3L491.1 349.2L493.3 349.2L495.5 349.2L497.7 349.1L499.9 349.1L502.2 349L504.4 348.9L506.6 348.9L508.8 348.8L511 348.6L513.2 348.4L515.4 348.2L517.6 347.8L519.8 347.3L522 346.8L524.3 346.2L526.5 345.4L528.7 343.9L530.9 342.2L533.1 340.5L535.3 338.9L537.5 337.3L539.7 335.6L541.9 333.9L544.1 332.2L546.4 330.5L548.6 329L550.8 327.5L553 326.4L555.2 325.6L557.4 325L559.6 324.3L561.8 323.2L564 322.2L566.2 322.1L568.5 322.4L570.7 322.9L572.9 323.5L575.1 324.1L577.3 324.8L579.5 325.6L581.7 326.6L583.9 327.6L586.1 328.7L588.3 330L590.6 331.6L592.8 333.4L595 335.1L597.2 336.5L599.4 337.9L601.6 339.2L603.8 340.2L606 341.1L608.2 341.9L610.4 342.7L612.7 343.4L614.9 344.2L617.1 344.9L619.3 345.5L621.5 346.1L623.7 346.5L625.9 346.8L628.1 347L630.3 347.2L632.5 347.5L634.8 347.8L637 348.1L639.2 348.5L641.4 348.8L643.6 349.2L643.6 349.3Z" fill="#E3434F" fill-opacity="0.25"/><path d="M491.1 349.2 L493.3 349.2 L495.5 349.2 L497.7 349.1 L499.9 349.1 L502.2 349 L504.4 348.9 L506.6 348.9 L508.8 348.8 L511 348.6 L513.2 348.4 L515.4 348.2 L517.6 347.8 L519.8 347.3 L522 346.8 L524.3 346.2 L526.5 345.4 L528.7 343.9 L530.9 342.2 L533.1 340.5 L535.3 338.9 L537.5 337.3 L539.7 335.6 L541.9 333.9 L544.1 332.2 L546.4 330.5 L548.6 329 L550.8 327.5 L553 326.4 L555.2 325.6 L557.4 325 L559.6 324.3 L561.8 323.2 L564 322.2 L566.2 322.1 L568.5 322.4 L570.7 322.9 L572.9 323.5 L575.1 324.1 L577.3 324.8 L579.5 325.6 L581.7 326.6 L583.9 327.6 L586.1 328.7 L588.3 330 L590.6 331.6 L592.8 333.4 L595 335.1 L597.2 336.5 L599.4 337.9 L601.6 339.2 L603.8 340.2 L606 341.1 L608.2 341.9 L610.4 342.7 L612.7 343.4 L614.9 344.2 L617.1 344.9 L619.3 345.5 L621.5 346.1 L623.7 346.5 L625.9 346.8 L628.1 347 L630.3 347.2 L632.5 347.5 L634.8 347.8 L637 348.1 L639.2 348.5 L641.4 348.8 L643.6 349.2" fill="none" stroke="#E3434F" stroke-width="0.6"/><path d="M653.6 358.2L653.6 358.2L654 360.4L654.4 362.6L654.8 364.9L655.1 367.1L655.4 369.3L655.7 371.5L655.9 373.8L656.1 376L656.2 378.2L656.3 380.4L656.3 382.6L656.4 384.9L656.5 387.1L656.7 389.3L656.9 391.5L657.5 393.7L658.5 396L659.8 398.2L661.2 400.4L662.5 402.6L663.7 404.9L664.8 407.1L665.8 409.3L666.9 411.5L668 413.7L669.1 416L670.3 418.2L671.6 420.4L672.9 422.6L674.2 424.9L675.8 427.1L678 429.3L680.2 431.5L681.5 433.7L681.4 436L681 438.2L680.6 440.4L680.3 442.6L679.7 444.8L678.1 447.1L676.4 449.3L674.8 451.5L673 453.7L671.5 456L669.7 458.2L668.1 460.4L667.2 462.6L667.2 464.8L667.2 467.1L667.2 469.3L667.4 471.5L667.8 473.7L668 476L667.3 478.2L665.9 480.4L664.6 482.6L663.3 484.8L661.9 487.1L660.6 489.3L659.1 491.5L657.6 493.7L656.4 495.9L655.6 498.2L654.9 500.4L654.3 502.6L654 504.8L653.8 507.1L653.7 509.3L653.6 511.5L653.6 511.5Z" fill="#4E79A7" fill-opacity="0.25"/><path d="M653.6 358.2 L654 360.4 L654.4 362.6 L654.8 364.9 L655.1 367.1 L655.4 369.3 L655.7 371.5 L655.9 373.8 L656.1 376 L656.2 378.2 L656.3 380.4 L656.3 382.6 L656.4 384.9 L656.5 387.1 L656.7 389.3 L656.9 391.5 L657.5 393.7 L658.5 396 L659.8 398.2 L661.2 400.4 L662.5 402.6 L663.7 404.9 L664.8 407.1 L665.8 409.3 L666.9 411.5 L668 413.7 L669.1 416 L670.3 418.2 L671.6 420.4 L672.9 422.6 L674.2 424.9 L675.8 427.1 L678 429.3 L680.2 431.5 L681.5 433.7 L681.4 436 L681 438.2 L680.6 440.4 L680.3 442.6 L679.7 444.8 L678.1 447.1 L676.4 449.3 L674.8 451.5 L673 453.7 L671.5 456 L669.7 458.2 L668.1 460.4 L667.2 462.6 L667.2 464.8 L667.2 467.1 L667.2 469.3 L667.4 471.5 L667.8 473.7 L668 476 L667.3 478.2 L665.9 480.4 L664.6 482.6 L663.3 484.8 L661.9 487.1 L660.6 489.3 L659.1 491.5 L657.6 493.7 L656.4 495.9 L655.6 498.2 L654.9 500.4 L654.3 502.6 L654 504.8 L653.8 507.1 L653.7 509.3 L653.6 511.5" fill="none" stroke="#4E79A7" stroke-width="0.6"/><path d="M653.6 358.2L653.6 358.2L653.8 360.4L654 362.6L654.2 364.9L654.4 367.1L654.6 369.3L654.7 371.5L654.9 373.8L655.1 376L655.2 378.2L655.3 380.4L655.4 382.6L655.5 384.9L655.6 387.1L655.8 389.3L656.1 391.5L656.7 393.7L657.8 396L659.1 398.2L660.5 400.4L661.8 402.6L662.8 404.9L663.8 407.1L664.8 409.3L665.7 411.5L666.6 413.7L667.6 416L668.7 418.2L669.9 420.4L671.2 422.6L672.6 424.9L674.2 427.1L676 429.3L677.9 431.5L679.6 433.7L681 436L682.1 438.2L682.7 440.4L683.1 442.6L683.1 444.8L682.4 447.1L681.4 449.3L679.9 451.5L678.1 453.7L676.1 456L674 458.2L671.6 460.4L669.4 462.6L667.2 464.8L665.1 467.1L663.1 469.3L661.4 471.5L659.9 473.7L658.5 476L657.3 478.2L656.3 480.4L655.3 482.6L654.5 484.8L654 487.1L653.9 489.3L653.8 491.5L653.7 493.7L653.7 495.9L653.7 498.2L653.6 500.4L653.6 502.6L653.6 504.8L653.6 507.1L653.6 509.3L653.6 511.5L653.6 511.5Z" fill="#2A9D8F" fill-opacity="0.25"/><path d="M653.6 358.2 L653.8 360.4 L654 362.6 L654.2 364.9 L654.4 367.1 L654.6 369.3 L654.7 371.5 L654.9 373.8 L655.1 376 L655.2 378.2 L655.3 380.4 L655.4 382.6 L655.5 384.9 L655.6 387.1 L655.8 389.3 L656.1 391.5 L656.7 393.7 L657.8 396 L659.1 398.2 L660.5 400.4 L661.8 402.6 L662.8 404.9 L663.8 407.1 L664.8 409.3 L665.7 411.5 L666.6 413.7 L667.6 416 L668.7 418.2 L669.9 420.4 L671.2 422.6 L672.6 424.9 L674.2 427.1 L676 429.3 L677.9 431.5 L679.6 433.7 L681 436 L682.1 438.2 L682.7 440.4 L683.1 442.6 L683.1 444.8 L682.4 447.1 L681.4 449.3 L679.9 451.5 L678.1 453.7 L676.1 456 L674 458.2 L671.6 460.4 L669.4 462.6 L667.2 464.8 L665.1 467.1 L663.1 469.3 L661.4 471.5 L659.9 473.7 L658.5 476 L657.3 478.2 L656.3 480.4 L655.3 482.6 L654.5 484.8 L654 487.1 L653.9 489.3 L653.8 491.5 L653.7 493.7 L653.7 495.9 L653.7 498.2 L653.6 500.4 L653.6 502.6 L653.6 504.8 L653.6 507.1 L653.6 509.3 L653.6 511.5" fill="none" stroke="#2A9D8F" stroke-width="0.6"/><path d="M653.6 358.2L653.6 358.2L654 360.4L654.4 362.6L654.9 364.9L655.4 367.1L656 369.3L656.6 371.5L657.2 373.8L657.9 376L658.7 378.2L659.5 380.4L660.4 382.6L661.4 384.9L662.3 387.1L663.3 389.3L664.2 391.5L665.2 393.7L666.2 396L667.2 398.2L668.2 400.4L669.1 402.6L670 404.9L670.8 407.1L671.6 409.3L672 411.5L672 413.7L672 416L672 418.2L672.1 420.4L672.3 422.6L672.6 424.9L672.9 427.1L673 429.3L673.2 431.5L673.5 433.7L674.3 436L675.6 438.2L676.3 440.4L676.7 442.6L676.8 444.8L676.4 447.1L675.9 449.3L675.2 451.5L674.3 453.7L673.2 456L671.8 458.2L670.2 460.4L668.5 462.6L666.6 464.8L664.5 467.1L662.4 469.3L660.6 471.5L659 473.7L657.6 476L656.4 478.2L655.6 480.4L654.9 482.6L654.3 484.8L654 487.1L653.9 489.3L653.8 491.5L653.7 493.7L653.7 495.9L653.7 498.2L653.6 500.4L653.6 502.6L653.6 504.8L653.6 507.1L653.6 509.3L653.6 511.5L653.6 511.5Z" fill="#E9A03F" fill-opacity="0.25"/><path d="M653.6 358.2 L654 360.4 L654.4 362.6 L654.9 364.9 L655.4 367.1 L656 369.3 L656.6 371.5 L657.2 373.8 L657.9 376 L658.7 378.2 L659.5 380.4 L660.4 382.6 L661.4 384.9 L662.3 387.1 L663.3 389.3 L664.2 391.5 L665.2 393.7 L666.2 396 L667.2 398.2 L668.2 400.4 L669.1 402.6 L670 404.9 L670.8 407.1 L671.6 409.3 L672 411.5 L672 413.7 L672 416 L672 418.2 L672.1 420.4 L672.3 422.6 L672.6 424.9 L672.9 427.1 L673 429.3 L673.2 431.5 L673.5 433.7 L674.3 436 L675.6 438.2 L676.3 440.4 L676.7 442.6 L676.8 444.8 L676.4 447.1 L675.9 449.3 L675.2 451.5 L674.3 453.7 L673.2 456 L671.8 458.2 L670.2 460.4 L668.5 462.6 L666.6 464.8 L664.5 467.1 L662.4 469.3 L660.6 471.5 L659 473.7 L657.6 476 L656.4 478.2 L655.6 480.4 L654.9 482.6 L654.3 484.8 L654 487.1 L653.9 489.3 L653.8 491.5 L653.7 493.7 L653.7 495.9 L653.7 498.2 L653.6 500.4 L653.6 502.6 L653.6 504.8 L653.6 507.1 L653.6 509.3 L653.6 511.5" fill="none" stroke="#E9A03F" stroke-width="0.6"/><path d="M653.6 358.2L653.6 358.2L653.9 360.4L654.2 362.6L654.6 364.9L655 367.1L655.5 369.3L656 371.5L656.5 373.8L657.1 376L657.7 378.2L658.4 380.4L659.2 382.6L660 384.9L660.9 387.1L661.7 389.3L662.6 391.5L663.5 393.7L664.5 396L665.5 398.2L666.5 400.4L667.5 402.6L668.4 404.9L669.5 407.1L670.4 409.3L671.1 411.5L671.5 413.7L671.9 416L672 418.2L671.9 420.4L671.6 422.6L671.3 424.9L671.2 427.1L671.6 429.3L672.1 431.5L672.7 433.7L673.1 436L673.4 438.2L674 440.4L675.2 442.6L676.5 444.8L677.9 447.1L678.4 449.3L678 451.5L677.3 453.7L676.5 456L675 458.2L673 460.4L670.9 462.6L668.8 464.8L666.4 467.1L664.1 469.3L662.2 471.5L660.7 473.7L659.4 476L658.2 478.2L657 480.4L655.7 482.6L654.6 484.8L654 487.1L653.9 489.3L653.8 491.5L653.7 493.7L653.7 495.9L653.7 498.2L653.6 500.4L653.6 502.6L653.6 504.8L653.6 507.1L653.6 509.3L653.6 511.5L653.6 511.5Z" fill="#E3434F" fill-opacity="0.25"/><path d="M653.6 358.2 L653.9 360.4 L654.2 362.6 L654.6 364.9 L655 367.1 L655.5 369.3 L656 371.5 L656.5 373.8 L657.1 376 L657.7 378.2 L658.4 380.4 L659.2 382.6 L660 384.9 L660.9 387.1 L661.7 389.3 L662.6 391.5 L663.5 393.7 L664.5 396 L665.5 398.2 L666.5 400.4 L667.5 402.6 L668.4 404.9 L669.5 407.1 L670.4 409.3 L671.1 411.5 L671.5 413.7 L671.9 416 L672 418.2 L671.9 420.4 L671.6 422.6 L671.3 424.9 L671.2 427.1 L671.6 429.3 L672.1 431.5 L672.7 433.7 L673.1 436 L673.4 438.2 L674 440.4 L675.2 442.6 L676.5 444.8 L677.9 447.1 L678.4 449.3 L678 451.5 L677.3 453.7 L676.5 456 L675 458.2 L673 460.4 L670.9 462.6 L668.8 464.8 L666.4 467.1 L664.1 469.3 L662.2 471.5 L660.7 473.7 L659.4 476 L658.2 478.2 L657 480.4 L655.7 482.6 L654.6 484.8 L654 487.1 L653.9 489.3 L653.8 491.5 L653.7 493.7 L653.7 495.9 L653.7 498.2 L653.6 500.4 L653.6 502.6 L653.6 504.8 L653.6 507.1 L653.6 509.3 L653.6 511.5" fill="none" stroke="#E3434F" stroke-width="0.6"/><clipPath id="cf"><rect x="483.6" y="351.3" width="167.8" height="168.7"/></clipPath><g clip-path="url(#cf)"><ellipse cx="550.9" cy="442.2" rx="65.43" ry="48.42" transform="rotate(-138.24 550.9 442.2)" fill="#4E79A7" fill-opacity="0.12"/><ellipse cx="573.1" cy="441.1" rx="50.75" ry="38.52" transform="rotate(46.66 573.1 441.1)" fill="#2A9D8F" fill-opacity="0.12"/><ellipse cx="563.3" cy="429" rx="57.87" ry="47.73" transform="rotate(109.78 563.3 429)" fill="#E9A03F" fill-opacity="0.12"/><ellipse cx="567.2" cy="431.8" rx="57.75" ry="47.56" transform="rotate(102.65 567.2 431.8)" fill="#E3434F" fill-opacity="0.12"/><path d="M549.9 413.5h1.7M500.7 465.7h1.7M548.5 434.9h1.7M564.1 421.6h1.7M507.1 415h1.7M519.3 444.9h1.7M572.5 444.6h1.7M510.9 409.2h1.7M538.9 446.6h1.7M527.6 394.9h1.7M519.8 429.9h1.7M549.3 463.5h1.7M575.1 476.5h1.7M550.6 420.4h1.7M574.2 445.6h1.7M495.9 404.4h1.7M542.1 428.2h1.7M558.9 470.1h1.7M566.9 466.7h1.7M579.1 422.1h1.7M525.2 451.7h1.7M518.7 464h1.7M600.2 414.2h1.7M592.2 403.2h1.7M585.4 386.2h1.7M527.5 415.6h1.7M605 429.3h1.7M513.9 417.7h1.7M574.5 415h1.7M533.6 433.4h1.7M593.4 426.6h1.7M629.2 419.6h1.7M587.4 411.8h1.7M553.9 450.2h1.7M526.7 413.3h1.7M554.9 419h1.7M526.2 423.6h1.7M569 413.6h1.7M546.5 419.2h1.7M506.7 440.1h1.7M559.8 401h1.7M564.6 439h1.7M547 469.7h1.7M563.2 447.9h1.7M484.5 419.1h1.7M560.1 442.6h1.7M563.7 422.7h1.7M558.3 468.8h1.7M557.2 516.5h1.7M536.1 453.7h1.7M516.9 414.7h1.7M551 429.1h1.7M555.6 416.5h1.7M537.1 432.3h1.7M535.5 421.3h1.7M578.1 459.4h1.7M532.8 421.3h1.7M564.9 459.6h1.7M552 412.3h1.7M598.6 467.2h1.7M558.5 452h1.7M520.2 432.8h1.7M575.8 454.1h1.7M534.7 410.9h1.7M541.7 439.5h1.7M541 442h1.7M560.3 396.5h1.7M529.8 387.1h1.7M535.3 437.5h1.7M513.3 433.9h1.7" stroke="#4E79A7" stroke-opacity="0.32" stroke-width="1.7" fill="none"/><path d="M539.4 441.5h1.7M562.2 431.4h1.7M583.8 465.5h1.7M573.1 402.6h1.7M558.4 406.4h1.7M571.3 488.3h1.7M568.6 462.4h1.7M556.3 441.5h1.7M600.7 457h1.7M512.2 454.2h1.7M551 459.1h1.7M510.8 427.6h1.7M552.6 435h1.7M533 437.8h1.7M552.6 404.3h1.7M578.5 457.5h1.7M563.4 463.3h1.7M532.7 463h1.7M539.5 429.5h1.7M596.7 397.3h1.7M585.6 468.4h1.7M574.9 429.8h1.7M556.7 456.1h1.7M554.2 449.2h1.7M578.5 429.3h1.7M511.5 430.6h1.7M564.3 457.2h1.7M590.2 412.8h1.7M577.5 388.5h1.7M552.5 442h1.7M562.9 512.8h1.7M539.7 409.6h1.7M608.1 483.4h1.7M538.6 458.5h1.7M557 376.4h1.7M528.3 433.5h1.7M557.4 424.8h1.7M536 459.2h1.7M579.2 449.5h1.7M544.8 410h1.7M558.2 460.7h1.7M528.7 385.7h1.7M549 479.9h1.7M529.6 445.2h1.7M563.7 430.7h1.7M561.1 422.4h1.7M580.4 401.9h1.7M565.1 430h1.7M499.4 429h1.7M528 435.7h1.7M559.2 461.3h1.7M577 420h1.7M503 429.1h1.7M517.4 427.1h1.7M530.1 469.1h1.7M627.2 441.7h1.7M508.5 443.3h1.7M592.7 457.3h1.7M568.1 439.6h1.7M545.8 427.6h1.7M531.9 435.8h1.7M544.5 440.3h1.7M548.7 451.7h1.7M547.1 465.1h1.7M547.2 448.2h1.7M565.7 437h1.7M568.1 448.9h1.7M596.7 414.7h1.7M569 458.9h1.7" stroke="#4E79A7" stroke-opacity="0.32" stroke-width="1.7" fill="none"/><path d="M516.5 448.6h1.7M541.2 470h1.7M538.6 456.7h1.7M536.3 436.4h1.7M524.5 428.8h1.7M554.8 476.4h1.7M493.8 402h1.7M535.4 447.5h1.7M560.1 431.6h1.7M562.9 443.7h1.7M532.6 396.8h1.7M530.6 442.8h1.7M563.3 451.7h1.7M491.4 413.1h1.7M540.1 452.3h1.7M540.8 463.5h1.7M566.8 461.8h1.7M551.1 473.7h1.7M553.4 439.5h1.7M553.4 444h1.7M557.3 456.9h1.7M529.3 404.1h1.7M570.9 454.5h1.7M570.7 448h1.7M551.8 392.9h1.7M528.9 432.9h1.7M516.1 418.9h1.7M543.6 450.3h1.7M542.1 414.2h1.7M547.2 442.2h1.7M511.4 440.6h1.7M557.1 460h1.7M592.3 435.2h1.7M555.2 366.3h1.7M562.1 465h1.7M566.9 450.6h1.7M559.7 432.5h1.7M542 433.2h1.7M579 455.3h1.7M586.1 464.9h1.7M577 449.7h1.7M549.3 479.1h1.7M561.2 439.5h1.7M507.2 453.4h1.7M575.1 433.6h1.7M587 412.3h1.7M527.1 426.3h1.7M573.3 498.6h1.7M545.8 409.7h1.7M552.8 433.1h1.7M534.7 449.2h1.7M532.5 451.9h1.7M505.8 421.4h1.7M581.5 441.8h1.7M541.5 423.3h1.7M571.8 434.4h1.7M517.5 429.5h1.7M553.7 393.3h1.7M563.5 438.6h1.7M547.7 466h1.7M521.8 438.5h1.7M557.9 421h1.7M553.1 469.7h1.7M504.8 438.8h1.7M520.3 430.9h1.7M551.9 425h1.7M566.6 399.5h1.7M537.8 429.1h1.7M489.5 440.1h1.7" stroke="#4E79A7" stroke-opacity="0.32" stroke-width="1.7" fill="none"/><path d="M523.8 412.2h1.7M569.2 437.3h1.7M564 398h1.7M613.3 438.4h1.7M574.9 438.4h1.7M576.7 441.1h1.7M535.1 409.5h1.7M549.4 451.3h1.7M539.7 436.4h1.7M537.5 418.9h1.7M550.9 428.7h1.7M504.9 433.2h1.7M529 406.6h1.7M508.1 450h1.7M537.3 461.8h1.7M537.5 424h1.7M562.8 426.8h1.7M514.9 419.7h1.7M587.9 430.6h1.7M551.8 392.2h1.7M527.8 453.3h1.7M546.5 400.4h1.7M538.9 461.2h1.7M578.8 426.9h1.7M530.5 366.7h1.7M563.9 424h1.7M553.2 431.7h1.7M533.4 418.3h1.7M525.5 446.2h1.7M555.5 476.5h1.7M558.4 423.3h1.7M562.5 442.5h1.7M512.3 421h1.7M518.3 451.2h1.7M538.4 461.9h1.7M584.5 411.8h1.7M552.5 396.3h1.7M600.5 435.2h1.7M541.4 388.6h1.7M550 438.1h1.7M561.8 451.7h1.7M555.6 423.7h1.7M552.5 479.5h1.7M533.3 396.9h1.7M549.7 424h1.7M593 400.6h1.7M534.6 389.3h1.7M518.9 413.3h1.7M550.3 437h1.7M552.4 382.1h1.7M517.1 453.9h1.7M534.2 409.8h1.7M563.3 407.4h1.7M556.3 475.2h1.7M516.8 416.5h1.7M539.4 471.7h1.7M573.6 458.1h1.7M555.1 462h1.7M548.2 408.3h1.7M529.8 433.9h1.7M549.9 445.4h1.7M530.9 437.8h1.7M550.1 467.5h1.7M514.7 423.6h1.7M532.6 439.5h1.7M572.8 422.4h1.7M601 424.5h1.7M559.2 451.8h1.7M534.2 470.5h1.7" stroke="#4E79A7" stroke-opacity="0.32" stroke-width="1.7" fill="none"/><path d="M568.7 447.3h1.7M531.4 449.9h1.7M543.8 451.2h1.7M541.8 463.7h1.7M587.8 437.8h1.7M570.4 446.6h1.7M531.7 452.4h1.7M582.7 440.8h1.7M551.1 435.5h1.7M497.9 428.6h1.7M549 418.4h1.7M543.3 457.7h1.7M571 428.1h1.7M540.2 453.2h1.7M527.9 417.7h1.7M528.6 457.1h1.7M517.7 408.3h1.7M561.3 423.6h1.7M539.1 432.6h1.7M574.3 470.9h1.7M551.3 464.9h1.7M546.2 425.4h1.7M569.2 395.3h1.7M568.2 421.9h1.7M605.4 430.9h1.7M536.8 446h1.7M592.3 422.6h1.7M533.7 403.9h1.7M519.6 433.8h1.7M536.9 378h1.7M560.2 446.1h1.7M565.3 429.5h1.7M556.6 447.4h1.7M561.4 409.3h1.7M575.9 417.5h1.7M563 440.2h1.7M553.1 445.4h1.7M581.9 457.9h1.7M546.4 461.8h1.7M541.3 435.2h1.7M540.6 428.3h1.7M567 457.1h1.7M492.4 405.5h1.7M536.3 475.1h1.7M545.7 462.2h1.7M579 443.4h1.7M547.3 401.7h1.7M568.6 444.6h1.7M599.8 431.8h1.7M536.5 420.1h1.7M561.4 439.9h1.7M515.7 432.3h1.7M486.5 430.8h1.7M549.7 405h1.7M566.4 454.2h1.7M571.4 433.9h1.7M530.2 425.3h1.7M553 439.5h1.7M591.6 410.3h1.7M549 451.5h1.7M534.6 488.8h1.7M505.3 405.6h1.7M594.9 413.5h1.7M571.1 432.4h1.7M531.6 438.7h1.7M618.7 431.9h1.7M584.4 423.7h1.7M539.4 441h1.7M538.5 409.3h1.7" stroke="#4E79A7" stroke-opacity="0.32" stroke-width="1.7" fill="none"/><path d="M555 408.1h1.7M550.3 449h1.7M573.4 445.3h1.7M518.1 489.3h1.7M560.8 468h1.7M580.6 428h1.7M585 464.6h1.7M554 411h1.7M572.5 447.4h1.7M605.6 419.8h1.7M550.5 480.7h1.7M556.4 413.5h1.7M523.4 437h1.7M559.2 427.6h1.7M517 400.8h1.7M560.4 437.5h1.7M535.5 409.2h1.7M561.9 419.5h1.7M573.9 474.4h1.7M530.4 388.7h1.7M546.6 459.7h1.7M556.3 441.9h1.7M525.9 444.5h1.7M541.3 440.3h1.7M546.6 452.3h1.7M503.5 413.9h1.7M557.3 412.7h1.7M489.3 389.9h1.7M572 458.7h1.7M563.7 394h1.7M523.3 429.9h1.7M563 430.5h1.7M484.7 398.2h1.7M561.5 437.9h1.7M516.2 431.5h1.7M525.5 407.9h1.7M579.3 460.7h1.7M550.2 450.4h1.7M543.4 443.9h1.7M563.2 441.3h1.7M611.4 457.2h1.7M555.3 407.2h1.7M517.4 438.1h1.7M580.9 459.2h1.7M508.5 426.5h1.7M573.7 422.8h1.7M524 411h1.7M548.6 427.7h1.7M571 442.5h1.7M582.1 428.9h1.7M546.8 466.3h1.7M546.4 420.2h1.7M562.3 494.9h1.7M588.3 448.9h1.7M563.1 461.1h1.7M564.3 400.8h1.7M560.7 407.9h1.7M535.2 419.1h1.7M556.3 410h1.7M577.5 451.8h1.7M579.9 443.7h1.7M566.4 451.8h1.7M554 410.6h1.7M595.1 424h1.7M588.8 392.8h1.7M550.2 474.5h1.7M520.1 454.2h1.7M558.6 479.2h1.7M626.1 441.1h1.7" stroke="#4E79A7" stroke-opacity="0.32" stroke-width="1.7" fill="none"/><path d="M618.2 438.7h1.7M569.8 447.1h1.7M598 396.1h1.7M544.5 433.6h1.7M556 420.6h1.7M567.1 427.5h1.7M572.6 450.9h1.7M607.7 459.6h1.7M565.2 424.6h1.7M595.4 415.5h1.7M555.3 459.6h1.7M573.2 452.2h1.7M599 437h1.7M555.6 433.8h1.7M554.7 413.5h1.7M591.3 442h1.7M592.5 446h1.7M558 422.9h1.7M572.6 452.7h1.7M568.7 450.7h1.7M570.1 456h1.7M565.8 457.9h1.7M561.8 410.5h1.7M557.1 451.8h1.7M579.8 437.5h1.7M565 443.8h1.7M556.6 409.6h1.7M559.1 408.1h1.7M591.4 431.8h1.7M567.5 439.6h1.7M575.5 431.3h1.7M569.5 468.4h1.7M565.8 439.5h1.7M603.9 408.6h1.7M587.7 458h1.7M560.3 444.3h1.7M569.4 450.1h1.7M571.2 404h1.7M544.8 412.4h1.7M568.1 453.1h1.7M571.3 430.6h1.7M570.7 432.5h1.7M566.7 447.9h1.7M550.5 425.4h1.7M559.2 438.9h1.7M586.3 442.3h1.7M567.7 431.7h1.7M547.1 412.3h1.7M579.5 421.9h1.7M573.2 437.4h1.7M550.8 424.4h1.7M563.7 442.9h1.7M584.2 437.5h1.7M572.4 444.1h1.7M568.7 399.5h1.7M601.9 452.2h1.7M540.6 432.9h1.7M614.6 407.2h1.7M576.9 444h1.7M559 425.8h1.7M600.8 423.6h1.7M575.2 430.7h1.7M571.8 422.3h1.7M548.1 435.7h1.7M566.7 443.2h1.7M611.8 404.8h1.7M558 445.7h1.7M576 433.5h1.7M556.9 411.7h1.7M555.5 438.4h1.7" stroke="#2A9D8F" stroke-opacity="0.32" stroke-width="1.7" fill="none"/><path d="M582.4 410.7h1.7M591 425.8h1.7M552.1 431.3h1.7M592.8 432.2h1.7M595.2 436.1h1.7M557.4 458.4h1.7M567.2 444.7h1.7M591.2 472.7h1.7M555.3 442.3h1.7M565.6 452h1.7M552.3 394.9h1.7M565 452.2h1.7M602.1 478.9h1.7M558.6 448.4h1.7M580.2 443.2h1.7M572.1 429.6h1.7M582.1 452.5h1.7M544.6 443.7h1.7M553.9 422.1h1.7M564.7 419.8h1.7M561.9 428.8h1.7M591 431h1.7M591.3 481.5h1.7M575.1 457.8h1.7M558 449.2h1.7M608.2 429.5h1.7M574 434.1h1.7M603.3 431.9h1.7M578.1 435h1.7M555.2 447.9h1.7M587 468.4h1.7M548 397.7h1.7M569 419.3h1.7M579 433.8h1.7M578.6 458h1.7M564.1 390.6h1.7M568.1 419.5h1.7M555 433.2h1.7M543.7 431.1h1.7M543.6 420.2h1.7M578.8 438.7h1.7M574.5 401.8h1.7M604.1 428.9h1.7M578.1 448.8h1.7M558.5 446h1.7M517.1 477.2h1.7M531.2 423h1.7M534.4 448.3h1.7M580.6 439.3h1.7M515.2 423h1.7M566.8 445.8h1.7M601 425.4h1.7M563.2 458.1h1.7M571.9 418.9h1.7M587.6 466.5h1.7M563 420.6h1.7M560.5 430.7h1.7M572.9 450.2h1.7M568.8 456.9h1.7M560.5 449.6h1.7M568.9 466.7h1.7M561.1 466.2h1.7M566.4 445.8h1.7M577.3 443.4h1.7M587 465.4h1.7M520.9 459.3h1.7M585.3 432.7h1.7M602.1 415.6h1.7M565.3 458.4h1.7M555.1 415h1.7" stroke="#2A9D8F" stroke-opacity="0.32" stroke-width="1.7" fill="none"/><path d="M580.1 449h1.7M574.9 444.7h1.7M584.2 447.9h1.7M565.1 417.7h1.7M591.5 415.9h1.7M579.7 466.7h1.7M580.2 419.7h1.7M570.8 413.5h1.7M564.9 447.1h1.7M574.2 452.9h1.7M587.2 454.3h1.7M595 404.8h1.7M563 456h1.7M584.3 442h1.7M601.4 438.8h1.7M579.5 446.8h1.7M590.2 407.7h1.7M567.4 465h1.7M583.2 467.9h1.7M568.8 428.4h1.7M569.3 415.8h1.7M559.7 430.1h1.7M605.5 444.2h1.7M558.3 416.9h1.7M571.9 404.8h1.7M576 437.6h1.7M584.3 456.1h1.7M580.8 433.1h1.7M584.4 435h1.7M543.8 437.8h1.7M591.5 448.2h1.7M605.4 433.3h1.7M592.5 450.9h1.7M563.2 454.9h1.7M534.7 442.9h1.7M569 460.5h1.7M587.2 457.1h1.7M557.6 405.1h1.7M528.1 423.1h1.7M579.1 429.9h1.7M566.8 441.7h1.7M575 463.5h1.7M586.1 452.3h1.7M600.5 415.5h1.7M554.3 434.8h1.7M551.1 438.3h1.7M567.5 440.3h1.7M540.4 435.1h1.7M586.8 465.6h1.7M573.7 447h1.7M580.2 458.3h1.7M550.8 415.2h1.7M567.1 435.8h1.7M587.3 437.7h1.7M555.1 413.5h1.7M546.1 435.6h1.7M558 450.3h1.7M568 419.6h1.7M560.6 443.4h1.7M558.8 449.3h1.7M574.5 440.6h1.7M574.7 419.2h1.7M582.8 404.9h1.7M565.3 407.9h1.7M538.8 428.4h1.7M561.5 431.9h1.7M576.5 440.2h1.7M584.1 446.7h1.7M579 447.6h1.7M601.4 439.1h1.7" stroke="#2A9D8F" stroke-opacity="0.32" stroke-width="1.7" fill="none"/><path d="M563.4 456.7h1.7M556.5 424.7h1.7M565.2 425.2h1.7M572.5 436.2h1.7M577.9 453.3h1.7M578.6 439.9h1.7M565.3 452.7h1.7M569 459.6h1.7M560.4 430.1h1.7M549.1 437.9h1.7M596.9 432.8h1.7M601.1 449.9h1.7M582.7 409.2h1.7M579 464.3h1.7M584.9 446.2h1.7M572.7 437.4h1.7M593.8 454.3h1.7M561.1 450.1h1.7M542.3 437.1h1.7M562.4 442.4h1.7M561.4 420.9h1.7M576 447.2h1.7M574.8 437h1.7M557.1 445.2h1.7M572.5 422h1.7M600.3 415.4h1.7M585.1 468.8h1.7M547.6 462h1.7M575.1 439h1.7M584.7 387.5h1.7M572.7 464.4h1.7M614.1 456.2h1.7M595.4 445.4h1.7M597.6 467.3h1.7M592.3 383.6h1.7M586.3 445.3h1.7M552.1 440.6h1.7M549 439.9h1.7M564.4 422.1h1.7M532.9 436.5h1.7M622.5 458.2h1.7M552.7 430.7h1.7M570.6 435.1h1.7M556.6 451.3h1.7M580.3 445.8h1.7M558.4 424.5h1.7M544.7 436.5h1.7M559.1 410.6h1.7M547.8 447.8h1.7M546.4 421.5h1.7M576 442.5h1.7M620.1 428.4h1.7M563.4 449.1h1.7M568 422.5h1.7M589.9 441.2h1.7M561.3 414.1h1.7M595.9 421.8h1.7M566.4 410.3h1.7M595.8 456.2h1.7M580.1 460.8h1.7M603.4 438.9h1.7M574.7 425.2h1.7M558.9 425.9h1.7M555.5 428.7h1.7M578 452h1.7M584.9 453.1h1.7M552.3 443.7h1.7M580.3 440.8h1.7M599.2 431.7h1.7M601.2 430.7h1.7" stroke="#2A9D8F" stroke-opacity="0.32" stroke-width="1.7" fill="none"/><path d="M579.4 459.1h1.7M614.9 428.8h1.7M558.3 446.5h1.7M586 427.8h1.7M549.7 430.8h1.7M576.9 438.7h1.7M516 435.7h1.7M559.2 418.5h1.7M576.6 409.7h1.7M607.9 443.2h1.7M554.6 426.9h1.7M577.9 470.3h1.7M554 436.7h1.7M570.3 457.7h1.7M555.2 431.6h1.7M511.3 426.7h1.7M561.6 463.9h1.7M585.9 445.5h1.7M567.8 438.9h1.7M585 428.9h1.7M568.4 441h1.7M544.4 433.4h1.7M549.4 451.5h1.7M533.9 390.8h1.7M547.6 435.5h1.7M592 435.6h1.7M555.6 425.5h1.7M566.3 445.8h1.7M588.3 432.1h1.7M564 426.5h1.7M605.3 412.6h1.7M543.2 445.3h1.7M589.7 464.3h1.7M586.6 425.3h1.7M579.1 458.9h1.7M579.5 417.6h1.7M558.4 445h1.7M585.1 426.8h1.7M564.7 433.8h1.7M562.4 400.9h1.7M602.1 440.6h1.7M581.3 442.8h1.7M530.7 427.8h1.7M535.2 450.2h1.7M586.1 442.9h1.7M557.8 449.3h1.7M547.5 433.5h1.7M583.4 444.7h1.7M575.6 421.9h1.7M580.8 452.2h1.7M554.7 436.1h1.7M584.9 458h1.7M562.6 435.3h1.7M558.8 423h1.7M525.3 433.8h1.7M578.5 440.9h1.7M583.8 451.5h1.7M571 451.7h1.7M545.9 428.9h1.7M606.4 440.8h1.7M569.3 462.9h1.7M552.6 411.3h1.7M579.8 426.6h1.7M566 431.4h1.7M586.7 425.9h1.7M545.1 435.4h1.7M567 437.8h1.7M575.3 468.2h1.7M588.1 442.6h1.7M562.7 430.9h1.7" stroke="#2A9D8F" stroke-opacity="0.32" stroke-width="1.7" fill="none"/><path d="M574.8 444.9h1.7M567.3 442.6h1.7M536.1 378.2h1.7M560.2 444.1h1.7M536 423.4h1.7M577.3 411.6h1.7M594.3 452h1.7M549.3 413.2h1.7M557.1 408.1h1.7M558.5 441h1.7M593.3 437.1h1.7M568.5 459.2h1.7M557.6 451h1.7M596 429.4h1.7M594.5 418.3h1.7M572.2 451.8h1.7M589.2 473.1h1.7M582.6 449.9h1.7M553.2 427.4h1.7M581.2 461.4h1.7M597.8 442h1.7M567.2 452h1.7M623 409.3h1.7M562.4 441.9h1.7M592 404.2h1.7M598.4 452.1h1.7M534.4 402.5h1.7M582.9 436.9h1.7M582 431h1.7M578.3 443.9h1.7M574.3 453.7h1.7M571.2 458.6h1.7M562.5 435.7h1.7M579.1 422.2h1.7M586.2 433.8h1.7M582.2 455.9h1.7M573.1 393.3h1.7M576.6 442h1.7M585 454h1.7M588.8 426.6h1.7M575.7 431.3h1.7M582.9 448.4h1.7M564.5 448.2h1.7M579.9 435.2h1.7M591.8 432.8h1.7M538.6 411.9h1.7M571.5 403.9h1.7M550.1 427.2h1.7M593.2 422h1.7M579.9 458.9h1.7M550.3 414.3h1.7M584.5 433.4h1.7M572.2 442.1h1.7M570.7 423.5h1.7M544.7 435.6h1.7M559.7 445.9h1.7M569.8 460.5h1.7M611 435.7h1.7M582.8 442.8h1.7M549.2 433.9h1.7M569.9 440.5h1.7M587.2 450.9h1.7M569.1 410.3h1.7M580.7 434.8h1.7M571.6 467.8h1.7M578.2 397.9h1.7M544.4 409h1.7M604.5 480h1.7M566.4 451h1.7M578.5 414.4h1.7" stroke="#2A9D8F" stroke-opacity="0.32" stroke-width="1.7" fill="none"/><path d="M508.4 391.7h1.7M565.7 436.2h1.7M595.4 457h1.7M539.5 435.3h1.7M576.6 433.9h1.7M533.2 428.2h1.7M554.2 410.7h1.7M570.8 410.6h1.7M557 447.8h1.7M551.3 440.7h1.7M578.8 421.5h1.7M556.9 412.9h1.7M585.3 415.8h1.7M563.7 382.6h1.7M566.8 422.5h1.7M546 437.3h1.7M516.8 440h1.7M568 404.8h1.7M539 452.2h1.7M578.1 442.7h1.7M573.1 424h1.7M565.9 416.6h1.7M559.4 430.4h1.7M603.3 425h1.7M553.9 472.8h1.7M564.9 432.3h1.7M527.9 425.3h1.7M564 445.1h1.7M540.9 408.1h1.7M597.3 423.8h1.7M535.1 433.5h1.7M563.1 426h1.7M556.7 457.1h1.7M574.1 426.6h1.7M537.4 384h1.7M539.6 445h1.7M568 434h1.7M589.9 398.1h1.7M601.4 442.4h1.7M583.2 369.6h1.7M568.8 414h1.7M572.3 431.9h1.7M558.4 439.1h1.7M579.1 434.1h1.7M554.4 420.6h1.7M559.6 453.2h1.7M538.1 383.5h1.7M547.8 449.7h1.7M567.1 388.7h1.7M559 357.1h1.7M544.4 398.4h1.7M526.1 407.5h1.7M584.2 415.3h1.7M549.5 388.1h1.7M547.4 419h1.7M561.9 452.1h1.7M574.7 439.1h1.7M542.8 405.9h1.7M580.8 431.1h1.7M575.3 425.8h1.7M553.3 447.8h1.7M536.7 371.2h1.7M594.3 428.7h1.7M563.8 436.6h1.7M552.5 433.2h1.7M543.9 429.1h1.7M570.8 435.4h1.7M584.2 402.4h1.7M573.8 447.7h1.7M546.9 440.5h1.7" stroke="#E9A03F" stroke-opacity="0.32" stroke-width="1.7" fill="none"/><path d="M582.2 377.4h1.7M579.9 384.3h1.7M590.9 406.1h1.7M583.3 423.2h1.7M550.5 431.1h1.7M526 412.4h1.7M572.7 374.7h1.7M551.8 461.1h1.7M553.2 391.3h1.7M556.1 393.6h1.7M551.1 436.3h1.7M566.5 415.2h1.7M543.6 397.4h1.7M518.7 427.7h1.7M557.3 432.6h1.7M574.1 399.5h1.7M578 441.8h1.7M576.7 432.5h1.7M597.5 424.9h1.7M556.7 445.6h1.7M559.4 428h1.7M569.1 438.4h1.7M567.7 459.6h1.7M564.4 430.1h1.7M578.9 416.2h1.7M552.1 456.3h1.7M584.1 437h1.7M568.6 431h1.7M568.4 428h1.7M581.8 442.1h1.7M556 445.3h1.7M606.6 381.6h1.7M549.4 406.9h1.7M583.7 445.3h1.7M583.5 453.1h1.7M566 426.8h1.7M587.8 390.5h1.7M573.8 438.4h1.7M568.6 433.9h1.7M579 423.6h1.7M577.7 438h1.7M551.7 446.9h1.7M587.9 469.3h1.7M549 440.7h1.7M594.2 466h1.7M506.8 423.3h1.7M565 389.6h1.7M559.3 422.9h1.7M564.6 431.4h1.7M595.1 412.6h1.7M558.7 405.9h1.7M548.9 459.6h1.7M547.1 429.5h1.7M541 418.1h1.7M509.9 468.5h1.7M569.1 448.8h1.7M582.2 372.7h1.7M540.8 425.3h1.7M564.1 428h1.7M591.1 403.5h1.7M563 452.2h1.7M527.5 443.6h1.7M576.7 436.4h1.7M568.7 445.6h1.7M566.3 431.3h1.7M550.3 441.8h1.7M557.9 440.8h1.7M604.6 478.9h1.7M581.2 429.8h1.7M547.8 444.5h1.7" stroke="#E9A03F" stroke-opacity="0.32" stroke-width="1.7" fill="none"/><path d="M604.3 428.4h1.7M543 425.3h1.7M559.5 410.6h1.7M560.7 404.7h1.7M596.6 420.2h1.7M554.8 438.7h1.7M554.3 401.8h1.7M550.9 451.3h1.7M552.4 493.7h1.7M567.8 368.5h1.7M587.1 414.9h1.7M560.3 450h1.7M569.8 440.2h1.7M566.7 448h1.7M525.1 395.3h1.7M563.1 417.2h1.7M560.3 400.7h1.7M580.6 441.6h1.7M591.5 414.2h1.7M540.8 447.1h1.7M580.9 390.8h1.7M570.9 372.4h1.7M580.2 432h1.7M550.8 409.6h1.7M544.7 383.6h1.7M566.1 435.5h1.7M554.5 426.4h1.7M543 446h1.7M600.9 439.5h1.7M563.1 418.4h1.7M560.6 397.5h1.7M586.1 479.7h1.7M542.8 399.6h1.7M557.2 384.5h1.7M585.2 423.2h1.7M561.5 432.2h1.7M547.3 425.1h1.7M557.8 425.7h1.7M589.6 396.6h1.7M569.4 441.9h1.7M593.3 389.6h1.7M566.5 412.6h1.7M563.8 415h1.7M634.4 374.4h1.7M529.1 405.3h1.7M544.1 447.7h1.7M579.1 401.9h1.7M603.9 428.2h1.7M533.5 414.8h1.7M567.4 407.9h1.7M572.3 426.3h1.7M599 427.4h1.7M549.4 405.8h1.7M562.2 383.8h1.7M585.6 432.7h1.7M571.7 445.3h1.7M562.3 410.4h1.7M574 415.5h1.7M584.6 405.8h1.7M563.7 420.9h1.7M522.5 406.5h1.7M529.8 408.4h1.7M563.6 413.7h1.7M539.1 423h1.7M574.9 447.2h1.7M552.6 478.4h1.7M583.9 430.2h1.7M562.8 388.8h1.7M558.3 427.4h1.7M558 437.7h1.7" stroke="#E9A03F" stroke-opacity="0.32" stroke-width="1.7" fill="none"/><path d="M559.1 379.8h1.7M577.7 415.1h1.7M573.9 477.2h1.7M530.8 414h1.7M573.7 412.4h1.7M524.4 437h1.7M561 401.2h1.7M573.2 457.2h1.7M531.2 427.8h1.7M592.1 391.1h1.7M604.9 426.4h1.7M582.8 426.5h1.7M551.5 450.6h1.7M502.5 380.6h1.7M527.9 412.9h1.7M581.2 374.1h1.7M517.9 398.7h1.7M586.5 422.5h1.7M527.9 487.1h1.7M560.8 410.2h1.7M575.8 435.4h1.7M568.7 393.7h1.7M542.7 436.6h1.7M621.8 393.9h1.7M555.1 426.4h1.7M557.8 407.4h1.7M556.1 425.9h1.7M536.5 422.9h1.7M599.2 399.2h1.7M582.3 466.3h1.7M565 417h1.7M593.1 408.8h1.7M572.3 460.4h1.7M558.6 451.8h1.7M588.8 406.3h1.7M607.5 414h1.7M544.5 434.5h1.7M565.3 453.8h1.7M595.2 379h1.7M530.8 415.5h1.7M574.9 431.6h1.7M572.3 419.1h1.7M607.7 409.6h1.7M592.9 434.6h1.7M554.9 383.5h1.7M560.7 458.7h1.7M557.7 416.1h1.7M555.7 440.2h1.7M557.8 408.2h1.7M542.3 420.4h1.7M565.7 419.4h1.7M583.4 432.2h1.7M532.7 417.2h1.7M563.9 468.9h1.7M568.5 432.5h1.7M551.1 425.1h1.7M548.1 430.4h1.7M595.8 419.1h1.7M540.9 408.9h1.7M545.6 423.9h1.7M560.9 431.5h1.7M548.5 395.4h1.7M558.2 435.9h1.7M563.6 384.8h1.7M582 399h1.7M566.2 423.4h1.7M618.2 410.8h1.7M576.5 397.8h1.7M531.4 453.3h1.7M537.7 436.9h1.7" stroke="#E9A03F" stroke-opacity="0.32" stroke-width="1.7" fill="none"/><path d="M560.3 452.9h1.7M527.3 435.1h1.7M572.8 461.7h1.7M533.1 401.6h1.7M558.9 364.1h1.7M564.7 400.5h1.7M557.7 387.4h1.7M572.1 407.8h1.7M578.5 392h1.7M586.1 405.1h1.7M550.2 425.1h1.7M563.9 427.2h1.7M585.3 420.7h1.7M523 413.7h1.7M572.8 399.2h1.7M581.7 420.6h1.7M558.9 434.5h1.7M575.3 436.9h1.7M562.5 405.3h1.7M567 421.8h1.7M532.3 422.8h1.7M581.3 410h1.7M578.3 431.4h1.7M552.9 395.4h1.7M586.5 448h1.7M583 433.5h1.7M560.5 402.5h1.7M565.4 409.7h1.7M532.6 407.3h1.7M535.5 399.9h1.7M584.8 452h1.7M584.9 429.8h1.7M596.7 382.2h1.7M573.8 446.8h1.7M577.4 428.3h1.7M542.7 428.4h1.7M537.4 403.7h1.7M523.2 397.5h1.7M550.3 432.9h1.7M501.3 378.1h1.7M533.8 424h1.7M573.5 455.7h1.7M570.6 454.8h1.7M576.8 420.8h1.7M544 412.9h1.7M556.1 428.3h1.7M549.2 433.7h1.7M581.3 447.9h1.7M576.2 414.2h1.7M606.8 419.4h1.7M537.5 449.6h1.7M593.3 393.9h1.7M582.8 441h1.7M563.2 448.8h1.7M576.4 452.1h1.7M559 428.3h1.7M583.4 412.7h1.7M556.4 409.1h1.7M550.9 457h1.7M569 440.4h1.7M578.4 421.2h1.7M551.8 449.9h1.7M543.2 418h1.7M524.2 432.3h1.7M535.6 435.7h1.7M567.2 458.7h1.7M558.8 394.1h1.7M557.7 461.4h1.7M548.1 419h1.7M530.5 434.9h1.7" stroke="#E9A03F" stroke-opacity="0.32" stroke-width="1.7" fill="none"/><path d="M569.7 436.6h1.7M545.9 462.2h1.7M585.2 438.4h1.7M597.8 384.4h1.7M558.5 441.4h1.7M579.4 393.8h1.7M533.6 379.4h1.7M537.5 432.2h1.7M567 461.5h1.7M555.4 440.7h1.7M547.6 437.4h1.7M555.3 447.3h1.7M554.9 419.3h1.7M567 385.8h1.7M544.2 430.5h1.7M563.1 412.5h1.7M553.6 413.2h1.7M570.2 427.2h1.7M570.2 409.3h1.7M567.2 447.4h1.7M562.2 470.9h1.7M603.4 438.1h1.7M558.1 406.5h1.7M557 439h1.7M564 436.3h1.7M550.6 435h1.7M542.1 432.4h1.7M583 452.2h1.7M524.7 393.6h1.7M574.8 409.4h1.7M573 457.9h1.7M574.6 416.9h1.7M550.8 445.8h1.7M574.7 381.2h1.7M535.6 391h1.7M533.3 392.9h1.7M541.2 459.6h1.7M592.8 426.2h1.7M545.3 376.4h1.7M569.1 365.5h1.7M555.7 421.1h1.7M534.4 438.2h1.7M543.8 452.5h1.7M599.4 428h1.7M579 456.3h1.7M534.4 464.9h1.7M567.7 412.3h1.7M567.7 390.7h1.7M539.2 408.1h1.7M583.6 456.6h1.7M544.8 437.4h1.7M559.3 445.6h1.7M568.3 439.4h1.7M544.8 428h1.7M594.1 418.9h1.7M585 428.8h1.7M568.7 423.9h1.7M564.2 439.6h1.7M569.5 443.4h1.7M592.4 397.7h1.7M532.2 420.7h1.7M603.4 476.7h1.7M544 439.6h1.7M532.7 458.5h1.7M567.1 449.1h1.7M552.8 400.7h1.7M614.6 400h1.7M556.5 445.8h1.7M537 429.4h1.7" stroke="#E9A03F" stroke-opacity="0.32" stroke-width="1.7" fill="none"/><path d="M570.7 409.7h1.7M554 424.2h1.7M559.3 450.5h1.7M548.7 410.4h1.7M569.9 457.2h1.7M558.8 406h1.7M564.6 430.4h1.7M542.2 394h1.7M555.9 426.7h1.7M556.1 413.2h1.7M548.4 414.4h1.7M557.7 501.3h1.7M598.3 437.2h1.7M564.7 399.7h1.7M530.6 423.4h1.7M567.9 446.9h1.7M571.6 438.8h1.7M565.4 389.4h1.7M572.1 410.8h1.7M581 390h1.7M585.7 427.7h1.7M556.8 439h1.7M583.1 412.9h1.7M548.3 441.7h1.7M566.5 404.9h1.7M550.2 445.8h1.7M582.5 422.3h1.7M560.6 449.7h1.7M595.2 421.3h1.7M593.4 433.7h1.7M604 464.2h1.7M588.1 410h1.7M566.6 406.6h1.7M577.6 458.1h1.7M536.6 428.3h1.7M558 452.5h1.7M564 439.9h1.7M544.9 435h1.7M593.6 445.8h1.7M577.3 421.8h1.7M575.7 410.5h1.7M566.6 464.2h1.7M566.3 419h1.7M588.6 373.6h1.7M575.7 395.5h1.7M585.4 416.7h1.7M611.2 428.3h1.7M537.2 431.3h1.7M592.4 426h1.7M539.6 467.2h1.7M543.6 414.3h1.7M555.2 403.5h1.7M515.1 382.5h1.7M552.9 387.5h1.7M523 425.3h1.7M571.6 427.1h1.7M563.7 380.9h1.7M563.7 464.9h1.7M578.2 440.8h1.7M565.3 422h1.7M584.7 422.5h1.7M559.8 441.1h1.7M565.5 434.2h1.7M532.1 484.4h1.7M560.1 413.2h1.7M518.4 414.6h1.7M598.8 427.5h1.7M581.5 415.4h1.7M592.4 442.8h1.7M555.5 428.7h1.7" stroke="#E3434F" stroke-opacity="0.32" stroke-width="1.7" fill="none"/><path d="M561 443.1h1.7M544.1 385h1.7M564.6 418.4h1.7M574.7 405.7h1.7M578.6 440h1.7M557.6 428.9h1.7M593.5 412.2h1.7M579 403.1h1.7M619.7 425.5h1.7M533.2 466.9h1.7M547.6 441.5h1.7M583.3 415.6h1.7M558.6 411.8h1.7M593.2 444h1.7M561.3 377.9h1.7M540.7 393.9h1.7M559 431.7h1.7M537.2 438h1.7M569.5 431.8h1.7M557.9 391.4h1.7M540.2 408.2h1.7M525.5 430.3h1.7M543.3 453.1h1.7M560.7 428.7h1.7M564.8 430.2h1.7M578.7 443.6h1.7M587.6 402.6h1.7M563.5 387.2h1.7M545 424.9h1.7M546.5 452.7h1.7M536.5 437.3h1.7M552.5 380.4h1.7M578.1 422.2h1.7M554.2 437h1.7M555.2 394h1.7M564.1 438.4h1.7M583.2 411.5h1.7M584.2 430.8h1.7M615.8 430.2h1.7M559 399.9h1.7M606.6 451.5h1.7M565 447.8h1.7M563.7 436h1.7M554.3 398.7h1.7M579.8 415.7h1.7M556.8 451.2h1.7M570.1 434.7h1.7M532 422.8h1.7M552.8 425.9h1.7M605.2 430.5h1.7M606 365.5h1.7M529.1 444.3h1.7M581.2 459.5h1.7M571 384.3h1.7M569.2 425.3h1.7M533.1 449.5h1.7M583.8 394.6h1.7M600.8 406.7h1.7M587.7 442.7h1.7M555.1 408.8h1.7M542.7 424.9h1.7M591.5 384.8h1.7M588.6 425.2h1.7M592 379.9h1.7M548.3 397.4h1.7M577.3 404.8h1.7M555.2 405.7h1.7M628 435.9h1.7M600.9 456.3h1.7M566.1 449.1h1.7" stroke="#E3434F" stroke-opacity="0.32" stroke-width="1.7" fill="none"/><path d="M529.6 453h1.7M578.6 437.3h1.7M586 458.7h1.7M590 443.5h1.7M514.4 381.6h1.7M551.2 405.6h1.7M571.7 438.8h1.7M552.5 440.1h1.7M572.5 459.8h1.7M552.7 422.4h1.7M585.6 444h1.7M612.6 414.7h1.7M564.3 416.4h1.7M541.2 452.2h1.7M572 434.1h1.7M577.4 413.3h1.7M561.5 446.5h1.7M590.9 401.7h1.7M573.7 417.8h1.7M594.5 418.2h1.7M562.2 378.8h1.7M574.1 467.9h1.7M567.7 437.3h1.7M577 430.4h1.7M560.5 386.9h1.7M563.4 385.8h1.7M565.8 408.6h1.7M562.2 440.8h1.7M561.5 464.4h1.7M574.5 451.1h1.7M569.6 432.4h1.7M564.9 437.5h1.7M551 427.9h1.7M569.5 477.1h1.7M563.5 450.1h1.7M606.8 377.8h1.7M534.6 423.3h1.7M583.1 446.5h1.7M583.4 451.6h1.7M539 406.8h1.7M545.3 418.8h1.7M551.7 460.2h1.7M574.5 421.9h1.7M555.6 379.6h1.7M534.3 422.4h1.7M580.4 435.4h1.7M573.8 402.8h1.7M577.2 433.7h1.7M542.8 444.6h1.7M563.2 406.2h1.7M551.3 375.4h1.7M537.8 458.9h1.7M567.2 400h1.7M563.6 423h1.7M597 427.1h1.7M546.1 448.6h1.7M586.6 422h1.7M564.9 461.9h1.7M562.6 409.6h1.7M526.9 378.2h1.7M592.6 518h1.7M558.6 411.9h1.7M580.8 425.5h1.7M611.9 388.1h1.7M575.9 430.9h1.7M590.3 418.6h1.7M532.1 395.1h1.7M559.9 452.3h1.7M584.5 462h1.7M576.6 391.4h1.7" stroke="#E3434F" stroke-opacity="0.32" stroke-width="1.7" fill="none"/><path d="M581.8 414.3h1.7M542.9 448.6h1.7M592.5 450.7h1.7M590.7 428.1h1.7M552.5 454.6h1.7M518.4 422.6h1.7M566.2 449.7h1.7M599.8 390.9h1.7M526.2 390.6h1.7M574.3 445h1.7M513.2 379.3h1.7M555.7 442.1h1.7M561.8 396.2h1.7M562.4 379.2h1.7M545.4 458.6h1.7M589.1 424h1.7M573.9 406.3h1.7M562.2 429.3h1.7M567.2 423.4h1.7M614.1 424.6h1.7M563.6 448.2h1.7M576.9 391.4h1.7M576.6 431.8h1.7M545.9 393.5h1.7M572.8 419.6h1.7M568.3 420.9h1.7M534.5 407.8h1.7M548.5 446.4h1.7M547.9 413.8h1.7M562.9 436.4h1.7M576.8 463.7h1.7M608.5 410.1h1.7M561.5 434.6h1.7M586.6 401.8h1.7M537 456.3h1.7M550.4 436.7h1.7M587.6 403.2h1.7M558 416h1.7M514 427.2h1.7M554.2 420.5h1.7M533.7 417.2h1.7M536.4 370.8h1.7M556.2 449.8h1.7M544.2 393.3h1.7M544.8 416.9h1.7M563.6 414.1h1.7M550.2 434.7h1.7M543.5 458.6h1.7M555.2 425.7h1.7M559.7 406.3h1.7M585.9 384.6h1.7M561 456.4h1.7M558.6 448.7h1.7M555.7 426.4h1.7M540.4 430.3h1.7M576.2 432.5h1.7M581.5 401h1.7M593.6 408.6h1.7M551.9 443.4h1.7M559.3 449.9h1.7M553.8 431.9h1.7M547.5 461.3h1.7M580.5 437.3h1.7M571.6 464.3h1.7M549 464.9h1.7M583.3 415.2h1.7M597.2 424.4h1.7M558.3 413.5h1.7M579.5 459.3h1.7M586 397.6h1.7" stroke="#E3434F" stroke-opacity="0.32" stroke-width="1.7" fill="none"/><path d="M576.7 452.8h1.7M578.4 420.3h1.7M533.4 429.3h1.7M580.8 403.7h1.7M545.3 454.2h1.7M567.6 380h1.7M585 383.8h1.7M582.7 428.8h1.7M573.8 434h1.7M597.4 415.1h1.7M586.7 395.9h1.7M601.6 415.3h1.7M593.9 431.2h1.7M518.1 448.3h1.7M562.2 432.8h1.7M554.3 409.1h1.7M556 409.2h1.7M560.3 415.9h1.7M565.7 424.3h1.7M550.9 453.7h1.7M538.8 403.1h1.7M589.1 405.1h1.7M602.9 429.1h1.7M560.5 472.5h1.7M555 449.8h1.7M545.9 451.2h1.7M547.4 423.2h1.7M579.5 442.4h1.7M574.8 415.3h1.7M548.1 445.9h1.7M578.5 463.6h1.7M556.2 427.2h1.7M585.3 401.2h1.7M523.9 421.7h1.7M550.5 432.6h1.7M573.1 425h1.7M560.6 412.5h1.7M569 425.4h1.7M592.2 435.6h1.7M575.5 450h1.7M557.8 383.1h1.7M577.4 456.1h1.7M512.8 356.4h1.7M576.8 427.5h1.7M524.9 413.5h1.7M536.8 441h1.7M553.8 454.7h1.7M559.9 406.3h1.7M568.1 447.5h1.7M588.3 387.9h1.7M553.4 402.9h1.7M565.7 434.4h1.7M576.3 398.9h1.7M576.1 448.2h1.7M591.1 385.2h1.7M602.3 431h1.7M581.9 439.5h1.7M587.7 426.7h1.7M556.8 441.4h1.7M615.6 419h1.7M593 417.3h1.7M560.2 430.2h1.7M594.9 433.9h1.7M599.8 399.8h1.7M526.4 441.3h1.7M556.6 423.8h1.7M571 408.2h1.7M565.8 423.2h1.7M535.3 419.7h1.7" stroke="#E3434F" stroke-opacity="0.32" stroke-width="1.7" fill="none"/><path d="M582.9 455.6h1.7M502.7 429.8h1.7M579.9 384.3h1.7M553.5 440.8h1.7M581.2 422.5h1.7M547 400.1h1.7M559.2 451.4h1.7M550.3 442.2h1.7M550.5 454.2h1.7M534.9 422.6h1.7M582.3 409.1h1.7M598.4 405.6h1.7M586.7 449.5h1.7M545.6 434.1h1.7M588.8 397.3h1.7M577.3 427.6h1.7M569.4 465.4h1.7M632.3 393.2h1.7M565.7 458.5h1.7M509.4 465.4h1.7M596.5 423.6h1.7M562.2 453.2h1.7M589 447.6h1.7M572.5 450h1.7M588.8 402.8h1.7M558.7 441.6h1.7M578.6 437.4h1.7M577.7 396.8h1.7M561 415.5h1.7M545.9 438.7h1.7M539.6 393.6h1.7M588.4 427.3h1.7M611.4 430.4h1.7M540.9 412.7h1.7M563.1 451h1.7M616.4 413.8h1.7M542.3 431h1.7M550.5 386.4h1.7M591.1 438.6h1.7M570.5 444h1.7M609.6 418.3h1.7M582.1 430.4h1.7M555.5 442.1h1.7M563.5 450.7h1.7M561.1 419h1.7M585.7 455.3h1.7M546.4 463.7h1.7M572.4 443.6h1.7M586.6 439h1.7M549.9 449.4h1.7M582.3 402.8h1.7M559.2 443.2h1.7M602.2 375.1h1.7M569.3 466.8h1.7M569 451.3h1.7M593.4 410.4h1.7M568.1 407.6h1.7M565.1 413.7h1.7M536.2 433.3h1.7M584.4 485.5h1.7M596.3 399h1.7M579.5 454h1.7M568 403.2h1.7M573 429.7h1.7M563 417.2h1.7M573.4 425h1.7M578 422.3h1.7M588.8 456.1h1.7M616 422.7h1.7" stroke="#E3434F" stroke-opacity="0.32" stroke-width="1.7" fill="none"/><ellipse cx="550.9" cy="442.2" rx="65.43" ry="48.42" transform="rotate(-138.24 550.9 442.2)" fill="none" stroke="#4E79A7" stroke-width="0.95"/><ellipse cx="573.1" cy="441.1" rx="50.75" ry="38.52" transform="rotate(46.66 573.1 441.1)" fill="none" stroke="#2A9D8F" stroke-width="0.95"/><ellipse cx="563.3" cy="429" rx="57.87" ry="47.73" transform="rotate(109.78 563.3 429)" fill="none" stroke="#E9A03F" stroke-width="0.95"/><ellipse cx="567.2" cy="431.8" rx="57.75" ry="47.56" transform="rotate(102.65 567.2 431.8)" fill="none" stroke="#E3434F" stroke-width="0.95"/></g><path d="M483.6 351.3H651.4V520H483.6Z" fill="none" stroke="#3a3a3a" stroke-width="0.9"/><text x="494.6" y="528.8" font-size="7.9" fill="#4D4D4D" text-anchor="middle">−5.0</text><text x="533" y="528.8" font-size="7.9" fill="#4D4D4D" text-anchor="middle">−2.5</text><text x="569.8" y="528.8" font-size="7.9" fill="#4D4D4D" text-anchor="middle">0.0</text><text x="608" y="528.8" font-size="7.9" fill="#4D4D4D" text-anchor="middle">2.5</text><text x="646.4" y="528.8" font-size="7.9" fill="#4D4D4D" text-anchor="middle">5.0</text><text x="480.4" y="360.9" font-size="7.9" fill="#4D4D4D" text-anchor="end">10</text><text x="480.4" y="400.2" font-size="7.9" fill="#4D4D4D" text-anchor="end">5</text><text x="480.4" y="438.5" font-size="7.9" fill="#4D4D4D" text-anchor="end">0</text><text x="480.4" y="477.1" font-size="7.9" fill="#4D4D4D" text-anchor="end">−5</text><text x="480.4" y="515.8" font-size="7.9" fill="#4D4D4D" text-anchor="end">−10</text><path d="M483.1 358.3h-2M483.1 397.6h-2M483.1 435.9h-2M483.1 474.5h-2M483.1 513.1h-2" stroke="#555" stroke-width="0.7"/><path d="M494.6 520.5v1.6M533 520.5v1.6M569.8 520.5v1.6M608 520.5v1.6M646.4 520.5v1.6" stroke="#aaa" stroke-width="0.6"/><text x="568.1" y="539" font-size="9.1" fill="#000" text-anchor="middle">PCA3 (9.3%)</text><text x="468.3" y="434.8" font-size="7.9" fill="#000" text-anchor="middle" transform="rotate(-90 468.3 434.8)">PCA1 (34.9%)</text><text x="471" y="312.2" font-size="12.4" fill="#000">(f)</text>
</svg></body></html>
